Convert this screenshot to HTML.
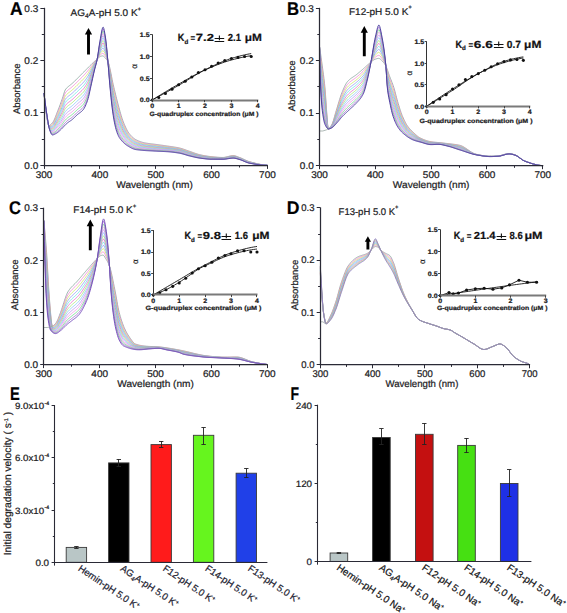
<!DOCTYPE html>
<html><head><meta charset="utf-8"><style>html,body{margin:0;padding:0;background:#fff;}svg{display:block;}</style></head><body>
<svg width="567" height="613" viewBox="0 0 567 613" font-family='"Liberation Sans", sans-serif'>
<style>text{stroke:#1c1c24;stroke-width:0.22px;text-rendering:geometricPrecision;}</style>
<rect width="567" height="613" fill="#fff"/>
<polyline points="44.00,93.08 44.56,98.90 45.12,104.26 45.68,108.99 46.23,112.97 46.79,116.66 47.35,120.29 47.91,123.31 48.47,125.18 49.03,125.51 49.59,125.35 50.14,125.03 50.70,124.60 51.26,124.08 51.82,123.51 52.38,122.91 52.94,122.20 53.49,121.28 54.05,120.19 54.61,118.95 55.17,117.60 55.73,116.18 56.29,114.71 56.85,113.22 57.40,111.76 57.96,110.35 58.52,108.95 59.08,107.51 59.64,106.03 60.20,104.52 60.75,102.99 61.31,101.44 61.87,99.88 62.43,98.31 62.99,96.62 63.55,94.76 64.11,92.92 64.66,91.25 65.22,89.91 65.78,89.02 66.34,88.37 66.90,87.84 67.46,87.32 68.02,86.82 68.57,86.34 69.13,85.89 69.69,85.46 70.25,85.03 70.81,84.59 71.37,84.14 71.92,83.66 72.48,83.16 73.04,82.65 73.60,82.14 74.16,81.61 74.72,81.08 75.28,80.53 75.83,79.99 76.39,79.44 76.95,78.88 77.51,78.32 78.07,77.75 78.63,77.19 79.19,76.62 79.74,76.05 80.30,75.48 80.86,74.92 81.42,74.35 81.98,73.79 82.54,73.23 83.09,72.67 83.65,72.11 84.21,71.55 84.77,70.99 85.33,70.43 85.89,69.86 86.45,69.29 87.00,68.72 87.56,68.16 88.12,67.59 88.68,67.03 89.24,66.48 89.80,65.92 90.36,65.37 90.91,64.83 91.47,64.30 92.03,63.76 92.59,63.23 93.15,62.70 93.71,62.17 94.27,61.64 94.82,61.12 95.38,60.61 95.94,60.11 96.50,59.62 97.06,59.14 97.62,58.68 98.17,58.21 98.73,57.71 99.29,57.21 99.85,56.76 100.41,56.40 100.97,56.19 101.53,56.06 102.08,55.96 102.64,55.92 103.20,56.07 103.76,56.46 104.32,56.97 104.88,57.49 105.44,58.02 105.99,58.61 106.55,59.29 107.11,60.08 107.67,61.01 108.23,62.15 108.79,63.78 109.34,65.84 109.90,68.24 110.46,70.88 111.02,73.69 111.58,76.58 112.14,79.45 112.70,82.22 113.25,84.79 113.81,87.16 114.37,89.50 114.93,91.83 115.49,94.15 116.05,96.44 116.61,98.69 117.16,100.89 117.72,103.04 118.28,105.12 118.84,107.16 119.40,109.22 119.96,111.25 120.51,113.24 121.07,115.18 121.63,117.03 122.19,118.77 122.75,120.39 123.31,121.86 123.87,123.24 124.42,124.57 124.98,125.86 125.54,127.09 126.10,128.28 126.66,129.40 127.22,130.45 127.78,131.44 128.33,132.34 128.89,133.17 129.45,133.90 130.01,134.57 130.57,135.22 131.13,135.83 131.68,136.41 132.24,136.96 132.80,137.47 133.36,137.95 133.92,138.39 134.48,138.80 135.04,139.17 135.59,139.50 136.15,139.80 136.71,140.08 137.27,140.35 137.83,140.61 138.39,140.86 138.94,141.09 139.50,141.31 140.06,141.52 140.62,141.72 141.18,141.91 141.74,142.08 142.30,142.25 142.85,142.40 143.41,142.54 143.97,142.68 144.53,142.80 145.09,142.91 145.65,143.01 146.21,143.11 146.76,143.20 147.32,143.29 147.88,143.38 148.44,143.46 149.00,143.53 149.56,143.60 150.12,143.67 150.67,143.74 151.23,143.81 151.79,143.88 152.35,143.94 152.91,144.01 153.47,144.08 154.02,144.15 154.58,144.22 155.14,144.29 155.70,144.37 156.26,144.44 156.82,144.52 157.38,144.60 157.93,144.68 158.49,144.75 159.05,144.83 159.61,144.91 160.17,144.98 160.73,145.06 161.28,145.14 161.84,145.21 162.40,145.29 162.96,145.37 163.52,145.45 164.08,145.53 164.64,145.61 165.19,145.69 165.75,145.77 166.31,145.85 166.87,145.94 167.43,146.02 167.99,146.10 168.55,146.18 169.10,146.26 169.66,146.34 170.22,146.42 170.78,146.50 171.34,146.58 171.90,146.66 172.46,146.74 173.01,146.83 173.57,146.91 174.13,147.00 174.69,147.09 175.25,147.18 175.81,147.27 176.36,147.37 176.92,147.47 177.48,147.57 178.04,147.68 178.60,147.79 179.16,147.91 179.72,148.03 180.27,148.16 180.83,148.31 181.39,148.46 181.95,148.63 182.51,148.80 183.07,148.99 183.62,149.18 184.18,149.37 184.74,149.57 185.30,149.78 185.86,149.98 186.42,150.19 186.98,150.39 187.53,150.59 188.09,150.79 188.65,150.98 189.21,151.17 189.77,151.36 190.33,151.55 190.89,151.74 191.44,151.94 192.00,152.15 192.56,152.35 193.12,152.55 193.68,152.75 194.24,152.96 194.79,153.16 195.35,153.35 195.91,153.55 196.47,153.73 197.03,153.91 197.59,154.09 198.15,154.26 198.70,154.42 199.26,154.57 199.82,154.71 200.38,154.83 200.94,154.95 201.50,155.07 202.06,155.19 202.61,155.30 203.17,155.41 203.73,155.52 204.29,155.62 204.85,155.72 205.41,155.82 205.97,155.92 206.52,156.01 207.08,156.10 207.64,156.18 208.20,156.26 208.76,156.34 209.32,156.41 209.87,156.48 210.43,156.55 210.99,156.61 211.55,156.67 212.11,156.72 212.67,156.78 213.23,156.83 213.78,156.89 214.34,156.94 214.90,157.00 215.46,157.05 216.02,157.10 216.58,157.15 217.13,157.19 217.69,157.24 218.25,157.28 218.81,157.32 219.37,157.35 219.93,157.38 220.49,157.40 221.04,157.42 221.60,157.44 222.16,157.45 222.72,157.45 223.28,157.44 223.84,157.39 224.40,157.33 224.95,157.24 225.51,157.14 226.07,157.02 226.63,156.89 227.19,156.75 227.75,156.61 228.31,156.46 228.86,156.32 229.42,156.18 229.98,156.05 230.54,155.93 231.10,155.83 231.66,155.74 232.21,155.67 232.77,155.63 233.33,155.62 233.89,155.65 234.45,155.72 235.01,155.84 235.57,155.99 236.12,156.17 236.68,156.37 237.24,156.59 237.80,156.81 238.36,157.03 238.92,157.25 239.47,157.45 240.03,157.65 240.59,157.87 241.15,158.10 241.71,158.34 242.27,158.59 242.83,158.85 243.38,159.12 243.94,159.38 244.50,159.65 245.06,159.91 245.62,160.17 246.18,160.43 246.74,160.67 247.29,160.91 247.85,161.13 248.41,161.33 248.97,161.52 249.53,161.69 250.09,161.85 250.65,162.00 251.20,162.16 251.76,162.31 252.32,162.46 252.88,162.62 253.44,162.76 254.00,162.91 254.55,163.06 255.11,163.20 255.67,163.34 256.23,163.47 256.79,163.61 257.35,163.74 257.91,163.87 258.46,163.99 259.02,164.11 259.58,164.22 260.14,164.33 260.70,164.44 261.26,164.54 261.81,164.64 262.37,164.73 262.93,164.82 263.49,164.90 264.05,164.97 264.61,165.04 265.17,165.11 265.72,165.17 266.28,165.22 266.84,165.26 267.40,165.30" fill="none" stroke="#7f9c94" stroke-width="0.75" stroke-linejoin="round"/>
<polyline points="44.00,93.08 44.56,98.79 45.12,104.06 45.68,108.75 46.23,112.72 46.79,116.42 47.35,120.06 47.91,123.14 48.47,125.15 49.03,125.71 49.59,125.75 50.14,125.60 50.70,125.34 51.26,124.97 51.82,124.52 52.38,124.01 52.94,123.36 53.49,122.51 54.05,121.50 54.61,120.35 55.17,119.10 55.73,117.78 56.29,116.41 56.85,115.03 57.40,113.67 57.96,112.35 58.52,111.03 59.08,109.68 59.64,108.29 60.20,106.87 60.75,105.43 61.31,103.97 61.87,102.50 62.43,101.02 62.99,99.43 63.55,97.69 64.11,95.95 64.66,94.38 65.22,93.11 65.78,92.26 66.34,91.62 66.90,91.08 67.46,90.57 68.02,90.07 68.57,89.60 69.13,89.16 69.69,88.73 70.25,88.31 70.81,87.88 71.37,87.43 71.92,86.96 72.48,86.46 73.04,85.95 73.60,85.44 74.16,84.91 74.72,84.37 75.28,83.83 75.83,83.28 76.39,82.73 76.95,82.18 77.51,81.62 78.07,81.07 78.63,80.51 79.19,79.96 79.74,79.41 80.30,78.85 80.86,78.30 81.42,77.74 81.98,77.19 82.54,76.63 83.09,76.06 83.65,75.49 84.21,74.90 84.77,74.29 85.33,73.67 85.89,73.05 86.45,72.41 87.00,71.76 87.56,71.10 88.12,70.42 88.68,69.71 89.24,68.99 89.80,68.25 90.36,67.51 90.91,66.79 91.47,66.08 92.03,65.36 92.59,64.64 93.15,63.92 93.71,63.21 94.27,62.51 94.82,61.83 95.38,61.17 95.94,60.52 96.50,59.87 97.06,59.21 97.62,58.51 98.17,57.75 98.73,56.92 99.29,56.11 99.85,55.39 100.41,54.78 100.97,54.27 101.53,53.86 102.08,53.53 102.64,53.34 103.20,53.44 103.76,53.89 104.32,54.56 104.88,55.33 105.44,56.11 105.99,57.02 106.55,58.13 107.11,59.40 107.67,60.82 108.23,62.44 108.79,64.55 109.34,67.06 109.90,69.84 110.46,72.79 111.02,75.87 111.58,78.99 112.14,82.03 112.70,84.93 113.25,87.62 113.81,90.08 114.37,92.48 114.93,94.84 115.49,97.17 116.05,99.45 116.61,101.67 117.16,103.81 117.72,105.89 118.28,107.90 118.84,109.86 119.40,111.81 119.96,113.74 120.51,115.62 121.07,117.44 121.63,119.18 122.19,120.83 122.75,122.35 123.31,123.74 123.87,125.04 124.42,126.29 124.98,127.51 125.54,128.67 126.10,129.79 126.66,130.84 127.22,131.83 127.78,132.76 128.33,133.61 128.89,134.39 129.45,135.09 130.01,135.73 130.57,136.35 131.13,136.93 131.68,137.48 132.24,138.00 132.80,138.49 133.36,138.95 133.92,139.37 134.48,139.76 135.04,140.11 135.59,140.42 136.15,140.70 136.71,140.96 137.27,141.22 137.83,141.46 138.39,141.69 138.94,141.91 139.50,142.11 140.06,142.31 140.62,142.49 141.18,142.67 141.74,142.83 142.30,142.99 142.85,143.13 143.41,143.27 143.97,143.39 144.53,143.50 145.09,143.61 145.65,143.71 146.21,143.80 146.76,143.89 147.32,143.97 147.88,144.05 148.44,144.12 149.00,144.19 149.56,144.26 150.12,144.33 150.67,144.40 151.23,144.46 151.79,144.52 152.35,144.59 152.91,144.65 153.47,144.71 154.02,144.78 154.58,144.85 155.14,144.91 155.70,144.99 156.26,145.06 156.82,145.13 157.38,145.21 157.93,145.28 158.49,145.35 159.05,145.42 159.61,145.50 160.17,145.57 160.73,145.64 161.28,145.71 161.84,145.78 162.40,145.86 162.96,145.93 163.52,146.00 164.08,146.08 164.64,146.15 165.19,146.23 165.75,146.30 166.31,146.38 166.87,146.46 167.43,146.54 167.99,146.62 168.55,146.70 169.10,146.77 169.66,146.85 170.22,146.93 170.78,147.01 171.34,147.08 171.90,147.16 172.46,147.24 173.01,147.32 173.57,147.41 174.13,147.49 174.69,147.58 175.25,147.67 175.81,147.76 176.36,147.86 176.92,147.96 177.48,148.06 178.04,148.16 178.60,148.27 179.16,148.39 179.72,148.51 180.27,148.64 180.83,148.78 181.39,148.93 181.95,149.10 182.51,149.27 183.07,149.45 183.62,149.64 184.18,149.83 184.74,150.03 185.30,150.23 185.86,150.43 186.42,150.63 186.98,150.83 187.53,151.03 188.09,151.23 188.65,151.42 189.21,151.60 189.77,151.78 190.33,151.97 190.89,152.16 191.44,152.35 192.00,152.55 192.56,152.74 193.12,152.94 193.68,153.14 194.24,153.33 194.79,153.53 195.35,153.72 195.91,153.90 196.47,154.08 197.03,154.26 197.59,154.43 198.15,154.59 198.70,154.74 199.26,154.89 199.82,155.02 200.38,155.14 200.94,155.26 201.50,155.37 202.06,155.49 202.61,155.60 203.17,155.70 203.73,155.81 204.29,155.91 204.85,156.01 205.41,156.10 205.97,156.19 206.52,156.28 207.08,156.37 207.64,156.45 208.20,156.53 208.76,156.60 209.32,156.67 209.87,156.73 210.43,156.79 210.99,156.85 211.55,156.90 212.11,156.95 212.67,157.00 213.23,157.06 213.78,157.11 214.34,157.16 214.90,157.20 215.46,157.25 216.02,157.30 216.58,157.34 217.13,157.39 217.69,157.43 218.25,157.46 218.81,157.50 219.37,157.53 219.93,157.55 220.49,157.57 221.04,157.59 221.60,157.61 222.16,157.61 222.72,157.62 223.28,157.60 223.84,157.56 224.40,157.50 224.95,157.42 225.51,157.31 226.07,157.20 226.63,157.08 227.19,156.94 227.75,156.80 228.31,156.67 228.86,156.53 229.42,156.39 229.98,156.27 230.54,156.15 231.10,156.05 231.66,155.97 232.21,155.91 232.77,155.87 233.33,155.85 233.89,155.88 234.45,155.95 235.01,156.07 235.57,156.22 236.12,156.39 236.68,156.59 237.24,156.80 237.80,157.02 238.36,157.23 238.92,157.44 239.47,157.64 240.03,157.84 240.59,158.05 241.15,158.28 241.71,158.52 242.27,158.77 242.83,159.03 243.38,159.29 243.94,159.55 244.50,159.81 245.06,160.08 245.62,160.33 246.18,160.59 246.74,160.83 247.29,161.06 247.85,161.28 248.41,161.48 248.97,161.66 249.53,161.83 250.09,161.98 250.65,162.13 251.20,162.28 251.76,162.43 252.32,162.58 252.88,162.72 253.44,162.87 254.00,163.01 254.55,163.15 255.11,163.29 255.67,163.42 256.23,163.55 256.79,163.68 257.35,163.81 257.91,163.93 258.46,164.05 259.02,164.17 259.58,164.28 260.14,164.38 260.70,164.48 261.26,164.58 261.81,164.68 262.37,164.76 262.93,164.85 263.49,164.92 264.05,165.00 264.61,165.06 265.17,165.12 265.72,165.18 266.28,165.22 266.84,165.27 267.40,165.30" fill="none" stroke="#f27ccf" stroke-width="0.75" stroke-linejoin="round"/>
<polyline points="44.00,93.08 44.56,98.69 45.12,103.87 45.68,108.51 46.23,112.48 46.79,116.18 47.35,119.82 47.91,122.96 48.47,125.11 49.03,125.90 49.59,126.14 50.14,126.17 50.70,126.07 51.26,125.86 51.82,125.53 52.38,125.10 52.94,124.51 53.49,123.73 54.05,122.80 54.61,121.74 55.17,120.58 55.73,119.36 56.29,118.10 56.85,116.83 57.40,115.56 57.96,114.33 58.52,113.10 59.08,111.83 59.64,110.52 60.20,109.19 60.75,107.84 61.31,106.48 61.87,105.10 62.43,103.71 62.99,102.21 63.55,100.58 64.11,98.96 64.66,97.48 65.22,96.29 65.78,95.46 66.34,94.83 66.90,94.30 67.46,93.79 68.02,93.30 68.57,92.84 69.13,92.40 69.69,91.98 70.25,91.56 70.81,91.13 71.37,90.69 71.92,90.22 72.48,89.73 73.04,89.22 73.60,88.71 74.16,88.18 74.72,87.64 75.28,87.10 75.83,86.55 76.39,86.00 76.95,85.45 77.51,84.90 78.07,84.35 78.63,83.81 79.19,83.27 79.74,82.73 80.30,82.19 80.86,81.65 81.42,81.11 81.98,80.56 82.54,79.99 83.09,79.42 83.65,78.83 84.21,78.21 84.77,77.56 85.33,76.90 85.89,76.20 86.45,75.49 87.00,74.76 87.56,74.02 88.12,73.23 88.68,72.37 89.24,71.47 89.80,70.55 90.36,69.63 90.91,68.73 91.47,67.84 92.03,66.94 92.59,66.03 93.15,65.13 93.71,64.24 94.27,63.36 94.82,62.52 95.38,61.72 95.94,60.93 96.50,60.12 97.06,59.28 97.62,58.35 98.17,57.29 98.73,56.15 99.29,55.03 99.85,54.04 100.41,53.16 100.97,52.37 101.53,51.68 102.08,51.12 102.64,50.78 103.20,50.82 103.76,51.34 104.32,52.18 104.88,53.18 105.44,54.22 105.99,55.45 106.55,56.97 107.11,58.73 107.67,60.63 108.23,62.72 108.79,65.31 109.34,68.27 109.90,71.42 110.46,74.68 111.02,78.04 111.58,81.38 112.14,84.59 112.70,87.61 113.25,90.42 113.81,92.97 114.37,95.43 114.93,97.83 115.49,100.17 116.05,102.44 116.61,104.61 117.16,106.70 117.72,108.72 118.28,110.65 118.84,112.53 119.40,114.39 119.96,116.20 120.51,117.97 121.07,119.68 121.63,121.32 122.19,122.86 122.75,124.29 123.31,125.60 123.87,126.82 124.42,128.00 124.98,129.14 125.54,130.24 126.10,131.28 126.66,132.27 127.22,133.20 127.78,134.07 128.33,134.88 128.89,135.61 129.45,136.27 130.01,136.88 130.57,137.47 131.13,138.02 131.68,138.55 132.24,139.04 132.80,139.51 133.36,139.94 133.92,140.34 134.48,140.71 135.04,141.04 135.59,141.33 136.15,141.59 136.71,141.84 137.27,142.07 137.83,142.29 138.39,142.51 138.94,142.71 139.50,142.90 140.06,143.09 140.62,143.26 141.18,143.42 141.74,143.58 142.30,143.72 142.85,143.85 143.41,143.98 143.97,144.09 144.53,144.20 145.09,144.30 145.65,144.39 146.21,144.48 146.76,144.56 147.32,144.64 147.88,144.71 148.44,144.79 149.00,144.85 149.56,144.92 150.12,144.98 150.67,145.04 151.23,145.10 151.79,145.16 152.35,145.22 152.91,145.28 153.47,145.34 154.02,145.40 154.58,145.47 155.14,145.53 155.70,145.60 156.26,145.67 156.82,145.74 157.38,145.81 157.93,145.88 158.49,145.94 159.05,146.01 159.61,146.08 160.17,146.15 160.73,146.21 161.28,146.28 161.84,146.35 162.40,146.41 162.96,146.48 163.52,146.55 164.08,146.62 164.64,146.69 165.19,146.76 165.75,146.83 166.31,146.91 166.87,146.98 167.43,147.06 167.99,147.13 168.55,147.21 169.10,147.28 169.66,147.36 170.22,147.43 170.78,147.51 171.34,147.58 171.90,147.66 172.46,147.74 173.01,147.82 173.57,147.90 174.13,147.98 174.69,148.07 175.25,148.16 175.81,148.25 176.36,148.34 176.92,148.44 177.48,148.54 178.04,148.64 178.60,148.75 179.16,148.86 179.72,148.98 180.27,149.11 180.83,149.25 181.39,149.40 181.95,149.56 182.51,149.73 183.07,149.91 183.62,150.10 184.18,150.29 184.74,150.48 185.30,150.68 185.86,150.88 186.42,151.08 186.98,151.28 187.53,151.47 188.09,151.66 188.65,151.85 189.21,152.03 189.77,152.20 190.33,152.38 190.89,152.57 191.44,152.76 192.00,152.95 192.56,153.14 193.12,153.33 193.68,153.52 194.24,153.71 194.79,153.89 195.35,154.08 195.91,154.26 196.47,154.43 197.03,154.60 197.59,154.76 198.15,154.92 198.70,155.07 199.26,155.20 199.82,155.33 200.38,155.45 200.94,155.56 201.50,155.67 202.06,155.78 202.61,155.89 203.17,155.99 203.73,156.09 204.29,156.19 204.85,156.29 205.41,156.38 205.97,156.47 206.52,156.55 207.08,156.63 207.64,156.71 208.20,156.79 208.76,156.86 209.32,156.92 209.87,156.98 210.43,157.04 210.99,157.09 211.55,157.14 212.11,157.19 212.67,157.23 213.23,157.28 213.78,157.32 214.34,157.37 214.90,157.41 215.46,157.45 216.02,157.50 216.58,157.54 217.13,157.57 217.69,157.61 218.25,157.64 218.81,157.67 219.37,157.70 219.93,157.72 220.49,157.74 221.04,157.76 221.60,157.77 222.16,157.78 222.72,157.78 223.28,157.77 223.84,157.73 224.40,157.67 224.95,157.59 225.51,157.49 226.07,157.38 226.63,157.26 227.19,157.13 227.75,157.00 228.31,156.87 228.86,156.73 229.42,156.61 229.98,156.49 230.54,156.38 231.10,156.28 231.66,156.20 232.21,156.14 232.77,156.10 233.33,156.08 233.89,156.11 234.45,156.18 235.01,156.29 235.57,156.44 236.12,156.61 236.68,156.80 237.24,157.01 237.80,157.22 238.36,157.43 238.92,157.64 239.47,157.83 240.03,158.02 240.59,158.24 241.15,158.46 241.71,158.70 242.27,158.94 242.83,159.20 243.38,159.46 243.94,159.72 244.50,159.98 245.06,160.24 245.62,160.50 246.18,160.74 246.74,160.98 247.29,161.21 247.85,161.43 248.41,161.63 248.97,161.81 249.53,161.96 250.09,162.11 250.65,162.26 251.20,162.40 251.76,162.55 252.32,162.69 252.88,162.83 253.44,162.97 254.00,163.11 254.55,163.24 255.11,163.38 255.67,163.51 256.23,163.63 256.79,163.76 257.35,163.88 257.91,164.00 258.46,164.11 259.02,164.22 259.58,164.33 260.14,164.43 260.70,164.53 261.26,164.62 261.81,164.71 262.37,164.80 262.93,164.87 263.49,164.95 264.05,165.02 264.61,165.08 265.17,165.14 265.72,165.19 266.28,165.23 266.84,165.27 267.40,165.30" fill="none" stroke="#c9e35a" stroke-width="0.75" stroke-linejoin="round"/>
<polyline points="44.00,93.08 44.56,98.58 45.12,103.68 45.68,108.27 46.23,112.24 46.79,115.94 47.35,119.59 47.91,122.79 48.47,125.07 49.03,126.09 49.59,126.53 50.14,126.72 50.70,126.79 51.26,126.73 51.82,126.53 52.38,126.18 52.94,125.64 53.49,124.94 54.05,124.08 54.61,123.11 55.17,122.05 55.73,120.93 56.29,119.77 56.85,118.60 57.40,117.43 57.96,116.29 58.52,115.14 59.08,113.95 59.64,112.74 60.20,111.50 60.75,110.24 61.31,108.96 61.87,107.67 62.43,106.37 62.99,104.97 63.55,103.45 64.11,101.94 64.66,100.56 65.22,99.43 65.78,98.63 66.34,98.01 66.90,97.48 67.46,96.98 68.02,96.49 68.57,96.03 69.13,95.60 69.69,95.19 70.25,94.78 70.81,94.36 71.37,93.92 71.92,93.46 72.48,92.97 73.04,92.46 73.60,91.94 74.16,91.42 74.72,90.88 75.28,90.34 75.83,89.79 76.39,89.24 76.95,88.69 77.51,88.14 78.07,87.60 78.63,87.07 79.19,86.55 79.74,86.03 80.30,85.50 80.86,84.97 81.42,84.44 81.98,83.89 82.54,83.33 83.09,82.75 83.65,82.14 84.21,81.49 84.77,80.80 85.33,80.08 85.89,79.33 86.45,78.55 87.00,77.74 87.56,76.91 88.12,76.00 88.68,75.00 89.24,73.94 89.80,72.83 90.36,71.73 90.91,70.65 91.47,69.58 92.03,68.50 92.59,67.41 93.15,66.33 93.71,65.25 94.27,64.21 94.82,63.22 95.38,62.27 95.94,61.33 96.50,60.37 97.06,59.34 97.62,58.18 98.17,56.84 98.73,55.38 99.29,53.95 99.85,52.70 100.41,51.57 100.97,50.49 101.53,49.53 102.08,48.74 102.64,48.24 103.20,48.24 103.76,48.82 104.32,49.83 104.88,51.05 105.44,52.34 105.99,53.88 106.55,55.83 107.11,58.06 107.67,60.45 108.23,63.00 108.79,66.06 109.34,69.47 109.90,72.99 110.46,76.55 111.02,80.18 111.58,83.74 112.14,87.12 112.70,90.27 113.25,93.19 113.81,95.84 114.37,98.35 114.93,100.79 115.49,103.14 116.05,105.40 116.61,107.53 117.16,109.56 117.72,111.51 118.28,113.38 118.84,115.18 119.40,116.93 119.96,118.64 120.51,120.30 121.07,121.90 121.63,123.43 122.19,124.87 122.75,126.22 123.31,127.44 123.87,128.59 124.42,129.70 124.98,130.76 125.54,131.79 126.10,132.76 126.66,133.69 127.22,134.56 127.78,135.37 128.33,136.12 128.89,136.81 129.45,137.44 130.01,138.02 130.57,138.57 131.13,139.10 131.68,139.60 132.24,140.07 132.80,140.51 133.36,140.92 133.92,141.30 134.48,141.65 135.04,141.96 135.59,142.23 136.15,142.47 136.71,142.70 137.27,142.92 137.83,143.12 138.39,143.32 138.94,143.51 139.50,143.69 140.06,143.86 140.62,144.02 141.18,144.17 141.74,144.31 142.30,144.45 142.85,144.57 143.41,144.69 143.97,144.79 144.53,144.89 145.09,144.99 145.65,145.07 146.21,145.15 146.76,145.23 147.32,145.31 147.88,145.37 148.44,145.44 149.00,145.50 149.56,145.57 150.12,145.63 150.67,145.68 151.23,145.74 151.79,145.80 152.35,145.85 152.91,145.91 153.47,145.97 154.02,146.03 154.58,146.09 155.14,146.15 155.70,146.21 156.26,146.28 156.82,146.34 157.38,146.41 157.93,146.47 158.49,146.53 159.05,146.59 159.61,146.66 160.17,146.72 160.73,146.78 161.28,146.84 161.84,146.90 162.40,146.97 162.96,147.03 163.52,147.09 164.08,147.16 164.64,147.22 165.19,147.29 165.75,147.36 166.31,147.43 166.87,147.50 167.43,147.57 167.99,147.64 168.55,147.71 169.10,147.78 169.66,147.85 170.22,147.93 170.78,148.00 171.34,148.07 171.90,148.15 172.46,148.23 173.01,148.30 173.57,148.38 174.13,148.47 174.69,148.55 175.25,148.64 175.81,148.73 176.36,148.82 176.92,148.92 177.48,149.02 178.04,149.12 178.60,149.22 179.16,149.34 179.72,149.45 180.27,149.57 180.83,149.71 181.39,149.86 181.95,150.02 182.51,150.19 183.07,150.37 183.62,150.55 184.18,150.74 184.74,150.93 185.30,151.13 185.86,151.32 186.42,151.52 186.98,151.71 187.53,151.90 188.09,152.09 188.65,152.27 189.21,152.45 189.77,152.62 190.33,152.80 190.89,152.98 191.44,153.16 192.00,153.34 192.56,153.53 193.12,153.71 193.68,153.89 194.24,154.08 194.79,154.26 195.35,154.43 195.91,154.61 196.47,154.77 197.03,154.94 197.59,155.09 198.15,155.24 198.70,155.38 199.26,155.52 199.82,155.64 200.38,155.76 200.94,155.86 201.50,155.97 202.06,156.07 202.61,156.18 203.17,156.28 203.73,156.37 204.29,156.47 204.85,156.56 205.41,156.65 205.97,156.74 206.52,156.82 207.08,156.90 207.64,156.97 208.20,157.04 208.76,157.11 209.32,157.17 209.87,157.23 210.43,157.28 210.99,157.33 211.55,157.37 212.11,157.42 212.67,157.46 213.23,157.50 213.78,157.54 214.34,157.58 214.90,157.62 215.46,157.65 216.02,157.69 216.58,157.73 217.13,157.76 217.69,157.79 218.25,157.82 218.81,157.85 219.37,157.87 219.93,157.90 220.49,157.91 221.04,157.93 221.60,157.94 222.16,157.94 222.72,157.95 223.28,157.93 223.84,157.90 224.40,157.84 224.95,157.76 225.51,157.67 226.07,157.56 226.63,157.45 227.19,157.32 227.75,157.19 228.31,157.07 228.86,156.94 229.42,156.82 229.98,156.70 230.54,156.59 231.10,156.50 231.66,156.42 232.21,156.36 232.77,156.33 233.33,156.31 233.89,156.34 234.45,156.41 235.01,156.52 235.57,156.66 236.12,156.83 236.68,157.01 237.24,157.21 237.80,157.42 238.36,157.63 238.92,157.83 239.47,158.02 240.03,158.21 240.59,158.42 241.15,158.64 241.71,158.87 242.27,159.12 242.83,159.37 243.38,159.63 243.94,159.88 244.50,160.14 245.06,160.40 245.62,160.66 246.18,160.90 246.74,161.14 247.29,161.36 247.85,161.58 248.41,161.77 248.97,161.95 249.53,162.10 250.09,162.24 250.65,162.39 251.20,162.53 251.76,162.67 252.32,162.80 252.88,162.94 253.44,163.07 254.00,163.21 254.55,163.34 255.11,163.47 255.67,163.59 256.23,163.71 256.79,163.83 257.35,163.95 257.91,164.06 258.46,164.17 259.02,164.28 259.58,164.38 260.14,164.48 260.70,164.57 261.26,164.66 261.81,164.75 262.37,164.83 262.93,164.90 263.49,164.97 264.05,165.04 264.61,165.10 265.17,165.15 265.72,165.20 266.28,165.24 266.84,165.27 267.40,165.30" fill="none" stroke="#8a8ff0" stroke-width="0.75" stroke-linejoin="round"/>
<polyline points="44.00,93.08 44.56,98.47 45.12,103.49 45.68,108.03 46.23,112.00 46.79,115.71 47.35,119.36 47.91,122.61 48.47,125.04 49.03,126.28 49.59,126.92 50.14,127.27 50.70,127.51 51.26,127.60 51.82,127.52 52.38,127.24 52.94,126.77 53.49,126.13 54.05,125.36 54.61,124.47 55.17,123.50 55.73,122.48 56.29,121.43 56.85,120.36 57.40,119.28 57.96,118.22 58.52,117.16 59.08,116.06 59.64,114.93 60.20,113.77 60.75,112.60 61.31,111.42 61.87,110.21 62.43,109.00 62.99,107.69 63.55,106.28 64.11,104.88 64.66,103.60 65.22,102.54 65.78,101.77 66.34,101.16 66.90,100.63 67.46,100.13 68.02,99.65 68.57,99.20 69.13,98.78 69.69,98.37 70.25,97.96 70.81,97.54 71.37,97.11 71.92,96.65 72.48,96.17 73.04,95.66 73.60,95.15 74.16,94.62 74.72,94.08 75.28,93.53 75.83,92.99 76.39,92.44 76.95,91.89 77.51,91.35 78.07,90.82 78.63,90.30 79.19,89.79 79.74,89.28 80.30,88.77 80.86,88.26 81.42,87.73 81.98,87.19 82.54,86.63 83.09,86.04 83.65,85.41 84.21,84.73 84.77,84.01 85.33,83.24 85.89,82.42 86.45,81.57 87.00,80.68 87.56,79.76 88.12,78.75 88.68,77.60 89.24,76.37 89.80,75.09 90.36,73.80 90.91,72.55 91.47,71.31 92.03,70.05 92.59,68.78 93.15,67.51 93.71,66.26 94.27,65.05 94.82,63.90 95.38,62.81 95.94,61.73 96.50,60.62 97.06,59.41 97.62,58.02 98.17,56.39 98.73,54.62 99.29,52.89 99.85,51.37 100.41,49.99 100.97,48.63 101.53,47.39 102.08,46.38 102.64,45.74 103.20,45.68 103.76,46.33 104.32,47.50 104.88,48.95 105.44,50.49 105.99,52.34 106.55,54.70 107.11,57.40 107.67,60.26 108.23,63.27 108.79,66.81 109.34,70.66 109.90,74.54 110.46,78.40 111.02,82.29 111.58,86.08 112.14,89.62 112.70,92.90 113.25,95.93 113.81,98.67 114.37,101.24 114.93,103.71 115.49,106.08 116.05,108.32 116.61,110.42 117.16,112.39 117.72,114.28 118.28,116.07 118.84,117.79 119.40,119.45 119.96,121.05 120.51,122.60 121.07,124.09 121.63,125.52 122.19,126.87 122.75,128.12 123.31,129.27 123.87,130.34 124.42,131.37 124.98,132.37 125.54,133.32 126.10,134.23 126.66,135.09 127.22,135.90 127.78,136.65 128.33,137.36 128.89,138.01 129.45,138.60 130.01,139.14 130.57,139.67 131.13,140.17 131.68,140.64 132.24,141.09 132.80,141.51 133.36,141.89 133.92,142.25 134.48,142.58 135.04,142.87 135.59,143.12 136.15,143.34 136.71,143.55 137.27,143.75 137.83,143.94 138.39,144.13 138.94,144.30 139.50,144.46 140.06,144.62 140.62,144.77 141.18,144.91 141.74,145.04 142.30,145.16 142.85,145.28 143.41,145.39 143.97,145.49 144.53,145.58 145.09,145.66 145.65,145.74 146.21,145.82 146.76,145.89 147.32,145.96 147.88,146.03 148.44,146.09 149.00,146.15 149.56,146.21 150.12,146.26 150.67,146.32 151.23,146.37 151.79,146.42 152.35,146.48 152.91,146.53 153.47,146.58 154.02,146.64 154.58,146.70 155.14,146.75 155.70,146.81 156.26,146.88 156.82,146.94 157.38,147.00 157.93,147.05 158.49,147.11 159.05,147.17 159.61,147.23 160.17,147.28 160.73,147.34 161.28,147.40 161.84,147.45 162.40,147.51 162.96,147.57 163.52,147.63 164.08,147.69 164.64,147.75 165.19,147.81 165.75,147.88 166.31,147.94 166.87,148.01 167.43,148.08 167.99,148.14 168.55,148.21 169.10,148.28 169.66,148.35 170.22,148.42 170.78,148.49 171.34,148.56 171.90,148.63 172.46,148.71 173.01,148.79 173.57,148.87 174.13,148.95 174.69,149.03 175.25,149.12 175.81,149.20 176.36,149.30 176.92,149.39 177.48,149.49 178.04,149.59 178.60,149.69 179.16,149.80 179.72,149.91 180.27,150.03 180.83,150.17 181.39,150.32 181.95,150.47 182.51,150.64 183.07,150.82 183.62,151.00 184.18,151.18 184.74,151.37 185.30,151.57 185.86,151.76 186.42,151.95 186.98,152.15 187.53,152.33 188.09,152.52 188.65,152.69 189.21,152.86 189.77,153.03 190.33,153.20 190.89,153.38 191.44,153.55 192.00,153.73 192.56,153.91 193.12,154.09 193.68,154.27 194.24,154.44 194.79,154.62 195.35,154.79 195.91,154.95 196.47,155.11 197.03,155.27 197.59,155.42 198.15,155.56 198.70,155.70 199.26,155.83 199.82,155.95 200.38,156.06 200.94,156.16 201.50,156.26 202.06,156.36 202.61,156.46 203.17,156.56 203.73,156.65 204.29,156.75 204.85,156.84 205.41,156.92 205.97,157.00 206.52,157.08 207.08,157.16 207.64,157.23 208.20,157.30 208.76,157.36 209.32,157.42 209.87,157.48 210.43,157.52 210.99,157.57 211.55,157.61 212.11,157.64 212.67,157.68 213.23,157.71 213.78,157.75 214.34,157.78 214.90,157.82 215.46,157.85 216.02,157.88 216.58,157.92 217.13,157.95 217.69,157.97 218.25,158.00 218.81,158.02 219.37,158.04 219.93,158.06 220.49,158.08 221.04,158.09 221.60,158.10 222.16,158.11 222.72,158.11 223.28,158.10 223.84,158.06 224.40,158.00 224.95,157.93 225.51,157.84 226.07,157.74 226.63,157.63 227.19,157.51 227.75,157.39 228.31,157.26 228.86,157.14 229.42,157.02 229.98,156.91 230.54,156.81 231.10,156.72 231.66,156.65 232.21,156.59 232.77,156.55 233.33,156.54 233.89,156.57 234.45,156.63 235.01,156.74 235.57,156.88 236.12,157.04 236.68,157.22 237.24,157.42 237.80,157.62 238.36,157.82 238.92,158.02 239.47,158.20 240.03,158.39 240.59,158.59 241.15,158.81 241.71,159.05 242.27,159.29 242.83,159.54 243.38,159.79 243.94,160.05 244.50,160.31 245.06,160.56 245.62,160.81 246.18,161.06 246.74,161.29 247.29,161.51 247.85,161.72 248.41,161.91 248.97,162.08 249.53,162.24 250.09,162.37 250.65,162.51 251.20,162.65 251.76,162.78 252.32,162.91 252.88,163.05 253.44,163.18 254.00,163.30 254.55,163.43 255.11,163.55 255.67,163.67 256.23,163.79 256.79,163.91 257.35,164.02 257.91,164.13 258.46,164.23 259.02,164.33 259.58,164.43 260.14,164.53 260.70,164.62 261.26,164.70 261.81,164.78 262.37,164.86 262.93,164.93 263.49,165.00 264.05,165.06 264.61,165.11 265.17,165.16 265.72,165.21 266.28,165.24 266.84,165.27 267.40,165.30" fill="none" stroke="#5fe3e0" stroke-width="0.75" stroke-linejoin="round"/>
<polyline points="44.00,93.08 44.56,98.36 45.12,103.30 45.68,107.80 46.23,111.77 46.79,115.48 47.35,119.13 47.91,122.44 48.47,125.00 49.03,126.47 49.59,127.30 50.14,127.82 50.70,128.22 51.26,128.45 51.82,128.49 52.38,128.29 52.94,127.88 53.49,127.31 54.05,126.61 54.61,125.81 55.17,124.93 55.73,124.01 56.29,123.06 56.85,122.09 57.40,121.11 57.96,120.14 58.52,119.15 59.08,118.14 59.64,117.09 60.20,116.02 60.75,114.94 61.31,113.84 61.87,112.73 62.43,111.59 62.99,110.38 63.55,109.08 64.11,107.79 64.66,106.60 65.22,105.61 65.78,104.87 66.34,104.27 66.90,103.74 67.46,103.24 68.02,102.77 68.57,102.32 69.13,101.91 69.69,101.50 70.25,101.10 70.81,100.69 71.37,100.27 71.92,99.81 72.48,99.33 73.04,98.83 73.60,98.31 74.16,97.78 74.72,97.24 75.28,96.69 75.83,96.15 76.39,95.60 76.95,95.05 77.51,94.52 78.07,93.99 78.63,93.49 79.19,92.99 79.74,92.50 80.30,92.00 80.86,91.50 81.42,90.98 81.98,90.45 82.54,89.88 83.09,89.29 83.65,88.64 84.21,87.94 84.77,87.17 85.33,86.35 85.89,85.48 86.45,84.55 87.00,83.59 87.56,82.58 88.12,81.46 88.68,80.17 89.24,78.78 89.80,77.32 90.36,75.85 90.91,74.42 91.47,73.02 92.03,71.58 92.59,70.13 93.15,68.68 93.71,67.26 94.27,65.87 94.82,64.57 95.38,63.35 95.94,62.13 96.50,60.86 97.06,59.48 97.62,57.87 98.17,55.95 98.73,53.87 99.29,51.84 99.85,50.07 100.41,48.43 100.97,46.79 101.53,45.29 102.08,44.05 102.64,43.26 103.20,43.15 103.76,43.86 104.32,45.20 104.88,46.87 105.44,48.66 105.99,50.82 106.55,53.59 107.11,56.75 107.67,60.08 108.23,63.54 108.79,67.54 109.34,71.83 109.90,76.07 110.46,80.23 111.02,84.39 111.58,88.39 112.14,92.10 112.70,95.50 113.25,98.63 113.81,101.47 114.37,104.10 114.93,106.60 115.49,108.98 116.05,111.21 116.61,113.27 117.16,115.19 117.72,117.01 118.28,118.74 118.84,120.37 119.40,121.94 119.96,123.43 120.51,124.87 121.07,126.26 121.63,127.58 122.19,128.83 122.75,130.00 123.31,131.06 123.87,132.06 124.42,133.02 124.98,133.95 125.54,134.83 126.10,135.67 126.66,136.47 127.22,137.22 127.78,137.92 128.33,138.58 128.89,139.18 129.45,139.74 130.01,140.25 130.57,140.75 131.13,141.22 131.68,141.67 132.24,142.09 132.80,142.49 133.36,142.85 133.92,143.19 134.48,143.49 135.04,143.76 135.59,144.00 136.15,144.20 136.71,144.39 137.27,144.58 137.83,144.75 138.39,144.92 138.94,145.08 139.50,145.23 140.06,145.37 140.62,145.51 141.18,145.64 141.74,145.76 142.30,145.87 142.85,145.98 143.41,146.08 143.97,146.17 144.53,146.25 145.09,146.33 145.65,146.41 146.21,146.48 146.76,146.55 147.32,146.61 147.88,146.67 148.44,146.73 149.00,146.79 149.56,146.84 150.12,146.89 150.67,146.94 151.23,146.99 151.79,147.04 152.35,147.09 152.91,147.14 153.47,147.19 154.02,147.25 154.58,147.30 155.14,147.35 155.70,147.41 156.26,147.47 156.82,147.52 157.38,147.58 157.93,147.63 158.49,147.68 159.05,147.74 159.61,147.79 160.17,147.84 160.73,147.89 161.28,147.95 161.84,148.00 162.40,148.05 162.96,148.11 163.52,148.16 164.08,148.22 164.64,148.27 165.19,148.33 165.75,148.39 166.31,148.45 166.87,148.51 167.43,148.57 167.99,148.64 168.55,148.70 169.10,148.77 169.66,148.84 170.22,148.90 170.78,148.97 171.34,149.04 171.90,149.11 172.46,149.19 173.01,149.26 173.57,149.34 174.13,149.42 174.69,149.50 175.25,149.59 175.81,149.67 176.36,149.76 176.92,149.86 177.48,149.95 178.04,150.05 178.60,150.15 179.16,150.26 179.72,150.37 180.27,150.49 180.83,150.62 181.39,150.77 181.95,150.92 182.51,151.09 183.07,151.26 183.62,151.44 184.18,151.62 184.74,151.81 185.30,152.00 185.86,152.19 186.42,152.38 186.98,152.57 187.53,152.76 188.09,152.94 188.65,153.11 189.21,153.28 189.77,153.44 190.33,153.61 190.89,153.78 191.44,153.95 192.00,154.12 192.56,154.29 193.12,154.46 193.68,154.63 194.24,154.80 194.79,154.97 195.35,155.13 195.91,155.29 196.47,155.45 197.03,155.60 197.59,155.74 198.15,155.88 198.70,156.01 199.26,156.14 199.82,156.25 200.38,156.35 200.94,156.45 201.50,156.55 202.06,156.65 202.61,156.75 203.17,156.84 203.73,156.93 204.29,157.02 204.85,157.11 205.41,157.19 205.97,157.27 206.52,157.35 207.08,157.42 207.64,157.49 208.20,157.55 208.76,157.61 209.32,157.67 209.87,157.72 210.43,157.76 210.99,157.80 211.55,157.84 212.11,157.87 212.67,157.90 213.23,157.93 213.78,157.96 214.34,157.99 214.90,158.02 215.46,158.05 216.02,158.08 216.58,158.10 217.13,158.13 217.69,158.15 218.25,158.17 218.81,158.20 219.37,158.21 219.93,158.23 220.49,158.24 221.04,158.25 221.60,158.26 222.16,158.27 222.72,158.27 223.28,158.26 223.84,158.22 224.40,158.17 224.95,158.10 225.51,158.01 226.07,157.91 226.63,157.81 227.19,157.69 227.75,157.58 228.31,157.46 228.86,157.34 229.42,157.23 229.98,157.12 230.54,157.02 231.10,156.94 231.66,156.87 232.21,156.81 232.77,156.78 233.33,156.77 233.89,156.79 234.45,156.85 235.01,156.96 235.57,157.09 236.12,157.25 236.68,157.43 237.24,157.62 237.80,157.81 238.36,158.01 238.92,158.20 239.47,158.39 240.03,158.57 240.59,158.77 241.15,158.99 241.71,159.22 242.27,159.46 242.83,159.70 243.38,159.96 243.94,160.21 244.50,160.47 245.06,160.72 245.62,160.97 246.18,161.21 246.74,161.44 247.29,161.66 247.85,161.87 248.41,162.05 248.97,162.22 249.53,162.37 250.09,162.50 250.65,162.63 251.20,162.76 251.76,162.89 252.32,163.02 252.88,163.15 253.44,163.28 254.00,163.40 254.55,163.52 255.11,163.64 255.67,163.76 256.23,163.87 256.79,163.98 257.35,164.09 257.91,164.19 258.46,164.29 259.02,164.39 259.58,164.48 260.14,164.57 260.70,164.66 261.26,164.74 261.81,164.82 262.37,164.89 262.93,164.96 263.49,165.02 264.05,165.08 264.61,165.13 265.17,165.17 265.72,165.21 266.28,165.25 266.84,165.28 267.40,165.30" fill="none" stroke="#e35fc4" stroke-width="0.75" stroke-linejoin="round"/>
<polyline points="44.00,93.08 44.56,98.26 45.12,103.11 45.68,107.57 46.23,111.54 46.79,115.25 47.35,118.90 47.91,122.28 48.47,124.97 49.03,126.65 49.59,127.68 50.14,128.36 50.70,128.91 51.26,129.30 51.82,129.45 52.38,129.33 52.94,128.97 53.49,128.47 54.05,127.85 54.61,127.13 55.17,126.35 55.73,125.52 56.29,124.67 56.85,123.80 57.40,122.91 57.96,122.02 58.52,121.12 59.08,120.18 59.64,119.22 60.20,118.24 60.75,117.25 61.31,116.24 61.87,115.20 62.43,114.15 62.99,113.04 63.55,111.84 64.11,110.66 64.66,109.56 65.22,108.63 65.78,107.92 66.34,107.33 66.90,106.80 67.46,106.31 68.02,105.84 68.57,105.40 69.13,104.99 69.69,104.59 70.25,104.20 70.81,103.80 71.37,103.37 71.92,102.92 72.48,102.44 73.04,101.94 73.60,101.43 74.16,100.90 74.72,100.36 75.28,99.81 75.83,99.26 76.39,98.71 76.95,98.17 77.51,97.64 78.07,97.12 78.63,96.63 79.19,96.15 79.74,95.67 80.30,95.19 80.86,94.70 81.42,94.19 81.98,93.66 82.54,93.09 83.09,92.49 83.65,91.83 84.21,91.10 84.77,90.29 85.33,89.42 85.89,88.49 86.45,87.50 87.00,86.45 87.56,85.36 88.12,84.13 88.68,82.70 89.24,81.15 89.80,79.51 90.36,77.87 90.91,76.27 91.47,74.70 92.03,73.09 92.59,71.46 93.15,69.83 93.71,68.24 94.27,66.69 94.82,65.24 95.38,63.87 95.94,62.52 96.50,61.10 97.06,59.54 97.62,57.71 98.17,55.51 98.73,53.13 99.29,50.80 99.85,48.78 100.41,46.89 100.97,44.98 101.53,43.21 102.08,41.76 102.64,40.82 103.20,40.66 103.76,41.44 104.32,42.93 104.88,44.82 105.44,46.85 105.99,49.32 106.55,52.49 107.11,56.10 107.67,59.91 108.23,63.81 108.79,68.26 109.34,72.98 109.90,77.58 110.46,82.03 111.02,86.45 111.58,90.66 112.14,94.54 112.70,98.06 113.25,101.30 113.81,104.22 114.37,106.91 114.93,109.44 115.49,111.83 116.05,114.06 116.61,116.08 117.16,117.94 117.72,119.71 118.28,121.36 118.84,122.92 119.40,124.39 119.96,125.78 120.51,127.11 121.07,128.39 121.63,129.62 122.19,130.77 122.75,131.85 123.31,132.84 123.87,133.76 124.42,134.65 124.98,135.51 125.54,136.32 126.10,137.10 126.66,137.83 127.22,138.52 127.78,139.17 128.33,139.78 128.89,140.34 129.45,140.86 130.01,141.35 130.57,141.82 131.13,142.26 131.68,142.69 132.24,143.08 132.80,143.45 133.36,143.80 133.92,144.11 134.48,144.40 135.04,144.65 135.59,144.87 136.15,145.05 136.71,145.23 137.27,145.39 137.83,145.55 138.39,145.70 138.94,145.85 139.50,145.98 140.06,146.11 140.62,146.24 141.18,146.35 141.74,146.46 142.30,146.57 142.85,146.67 143.41,146.76 143.97,146.84 144.53,146.92 145.09,146.99 145.65,147.06 146.21,147.13 146.76,147.19 147.32,147.25 147.88,147.31 148.44,147.36 149.00,147.41 149.56,147.46 150.12,147.51 150.67,147.56 151.23,147.61 151.79,147.65 152.35,147.70 152.91,147.75 153.47,147.79 154.02,147.84 154.58,147.89 155.14,147.94 155.70,148.00 156.26,148.05 156.82,148.10 157.38,148.15 157.93,148.20 158.49,148.25 159.05,148.30 159.61,148.35 160.17,148.39 160.73,148.44 161.28,148.49 161.84,148.54 162.40,148.58 162.96,148.63 163.52,148.68 164.08,148.73 164.64,148.79 165.19,148.84 165.75,148.89 166.31,148.95 166.87,149.01 167.43,149.07 167.99,149.13 168.55,149.19 169.10,149.25 169.66,149.32 170.22,149.38 170.78,149.45 171.34,149.52 171.90,149.59 172.46,149.66 173.01,149.73 173.57,149.81 174.13,149.89 174.69,149.97 175.25,150.05 175.81,150.14 176.36,150.23 176.92,150.32 177.48,150.41 178.04,150.51 178.60,150.61 179.16,150.71 179.72,150.82 180.27,150.94 180.83,151.07 181.39,151.21 181.95,151.37 182.51,151.53 183.07,151.70 183.62,151.88 184.18,152.06 184.74,152.24 185.30,152.43 185.86,152.62 186.42,152.81 186.98,152.99 187.53,153.17 188.09,153.35 188.65,153.52 189.21,153.68 189.77,153.84 190.33,154.00 190.89,154.17 191.44,154.33 192.00,154.50 192.56,154.67 193.12,154.83 193.68,155.00 194.24,155.16 194.79,155.32 195.35,155.48 195.91,155.63 196.47,155.78 197.03,155.92 197.59,156.06 198.15,156.20 198.70,156.32 199.26,156.44 199.82,156.55 200.38,156.65 200.94,156.74 201.50,156.84 202.06,156.93 202.61,157.02 203.17,157.11 203.73,157.20 204.29,157.29 204.85,157.37 205.41,157.45 205.97,157.53 206.52,157.60 207.08,157.67 207.64,157.74 208.20,157.80 208.76,157.86 209.32,157.91 209.87,157.96 210.43,158.00 210.99,158.03 211.55,158.06 212.11,158.09 212.67,158.11 213.23,158.14 213.78,158.16 214.34,158.19 214.90,158.22 215.46,158.24 216.02,158.26 216.58,158.29 217.13,158.31 217.69,158.33 218.25,158.35 218.81,158.36 219.37,158.38 219.93,158.39 220.49,158.41 221.04,158.41 221.60,158.42 222.16,158.43 222.72,158.43 223.28,158.42 223.84,158.38 224.40,158.33 224.95,158.26 225.51,158.18 226.07,158.09 226.63,157.98 227.19,157.88 227.75,157.76 228.31,157.65 228.86,157.54 229.42,157.43 229.98,157.33 230.54,157.23 231.10,157.15 231.66,157.08 232.21,157.03 232.77,157.00 233.33,156.99 233.89,157.01 234.45,157.07 235.01,157.17 235.57,157.30 236.12,157.46 236.68,157.63 237.24,157.82 237.80,158.01 238.36,158.20 238.92,158.39 239.47,158.57 240.03,158.75 240.59,158.95 241.15,159.16 241.71,159.39 242.27,159.62 242.83,159.87 243.38,160.12 243.94,160.37 244.50,160.63 245.06,160.88 245.62,161.12 246.18,161.36 246.74,161.59 247.29,161.81 247.85,162.01 248.41,162.19 248.97,162.36 249.53,162.50 250.09,162.63 250.65,162.76 251.20,162.88 251.76,163.01 252.32,163.13 252.88,163.25 253.44,163.37 254.00,163.49 254.55,163.61 255.11,163.72 255.67,163.84 256.23,163.95 256.79,164.05 257.35,164.15 257.91,164.25 258.46,164.35 259.02,164.44 259.58,164.53 260.14,164.62 260.70,164.70 261.26,164.78 261.81,164.85 262.37,164.92 262.93,164.98 263.49,165.04 264.05,165.10 264.61,165.14 265.17,165.19 265.72,165.22 266.28,165.26 266.84,165.28 267.40,165.30" fill="none" stroke="#a6e36b" stroke-width="0.75" stroke-linejoin="round"/>
<polyline points="44.00,93.08 44.56,98.16 45.12,102.93 45.68,107.34 46.23,111.31 46.79,115.02 47.35,118.68 47.91,122.11 48.47,124.93 49.03,126.83 49.59,128.05 50.14,128.88 50.70,129.60 51.26,130.13 51.82,130.40 52.38,130.35 52.94,130.05 53.49,129.61 54.05,129.07 54.61,128.43 55.17,127.74 55.73,127.00 56.29,126.25 56.85,125.48 57.40,124.68 57.96,123.88 58.52,123.05 59.08,122.20 59.64,121.32 60.20,120.42 60.75,119.51 61.31,118.59 61.87,117.64 62.43,116.67 62.99,115.65 63.55,114.56 64.11,113.47 64.66,112.47 65.22,111.61 65.78,110.93 66.34,110.34 66.90,109.82 67.46,109.33 68.02,108.86 68.57,108.43 69.13,108.03 69.69,107.64 70.25,107.25 70.81,106.85 71.37,106.43 71.92,105.99 72.48,105.51 73.04,105.01 73.60,104.49 74.16,103.96 74.72,103.42 75.28,102.87 75.83,102.32 76.39,101.78 76.95,101.24 77.51,100.71 78.07,100.20 78.63,99.72 79.19,99.25 79.74,98.78 80.30,98.32 80.86,97.84 81.42,97.34 81.98,96.81 82.54,96.25 83.09,95.64 83.65,94.96 84.21,94.20 84.77,93.36 85.33,92.44 85.89,91.45 86.45,90.39 87.00,89.27 87.56,88.10 88.12,86.76 88.68,85.20 89.24,83.48 89.80,81.67 90.36,79.85 90.91,78.09 91.47,76.35 92.03,74.57 92.59,72.77 93.15,70.97 93.71,69.20 94.27,67.49 94.82,65.89 95.38,64.39 95.94,62.90 96.50,61.33 97.06,59.60 97.62,57.56 98.17,55.08 98.73,52.40 99.29,49.79 99.85,47.51 100.41,45.38 100.97,43.20 101.53,41.17 102.08,39.50 102.64,38.42 103.20,38.21 103.76,39.05 104.32,40.70 104.88,42.81 105.44,45.08 105.99,47.84 106.55,51.41 107.11,55.47 107.67,59.73 108.23,64.07 108.79,68.98 109.34,74.11 109.90,79.07 110.46,83.81 111.02,88.47 111.58,92.90 112.14,96.94 112.70,100.58 113.25,103.92 113.81,106.94 114.37,109.68 114.93,112.24 115.49,114.64 116.05,116.86 116.61,118.84 117.16,120.65 117.72,122.35 118.28,123.94 118.84,125.42 119.40,126.81 119.96,128.09 120.51,129.32 121.07,130.50 121.63,131.62 122.19,132.68 122.75,133.67 123.31,134.58 123.87,135.44 124.42,136.26 124.98,137.04 125.54,137.79 126.10,138.50 126.66,139.17 127.22,139.81 127.78,140.40 128.33,140.96 128.89,141.48 129.45,141.97 130.01,142.43 130.57,142.87 131.13,143.28 131.68,143.68 132.24,144.06 132.80,144.41 133.36,144.73 133.92,145.02 134.48,145.29 135.04,145.52 135.59,145.72 136.15,145.89 136.71,146.04 137.27,146.19 137.83,146.34 138.39,146.47 138.94,146.60 139.50,146.73 140.06,146.84 140.62,146.96 141.18,147.06 141.74,147.16 142.30,147.25 142.85,147.34 143.41,147.43 143.97,147.50 144.53,147.57 145.09,147.64 145.65,147.71 146.21,147.77 146.76,147.82 147.32,147.88 147.88,147.93 148.44,147.98 149.00,148.03 149.56,148.08 150.12,148.12 150.67,148.17 151.23,148.21 151.79,148.25 152.35,148.30 152.91,148.34 153.47,148.39 154.02,148.43 154.58,148.48 155.14,148.52 155.70,148.57 156.26,148.62 156.82,148.67 157.38,148.72 157.93,148.76 158.49,148.81 159.05,148.85 159.61,148.89 160.17,148.94 160.73,148.98 161.28,149.02 161.84,149.06 162.40,149.11 162.96,149.15 163.52,149.20 164.08,149.24 164.64,149.29 165.19,149.34 165.75,149.39 166.31,149.44 166.87,149.50 167.43,149.55 167.99,149.61 168.55,149.67 169.10,149.73 169.66,149.79 170.22,149.85 170.78,149.92 171.34,149.98 171.90,150.05 172.46,150.12 173.01,150.19 173.57,150.27 174.13,150.35 174.69,150.43 175.25,150.51 175.81,150.59 176.36,150.68 176.92,150.77 177.48,150.86 178.04,150.96 178.60,151.06 179.16,151.16 179.72,151.27 180.27,151.38 180.83,151.51 181.39,151.65 181.95,151.80 182.51,151.96 183.07,152.13 183.62,152.30 184.18,152.48 184.74,152.67 185.30,152.85 185.86,153.04 186.42,153.22 186.98,153.41 187.53,153.59 188.09,153.76 188.65,153.92 189.21,154.08 189.77,154.24 190.33,154.39 190.89,154.55 191.44,154.71 192.00,154.87 192.56,155.03 193.12,155.19 193.68,155.35 194.24,155.51 194.79,155.66 195.35,155.81 195.91,155.96 196.47,156.11 197.03,156.24 197.59,156.38 198.15,156.50 198.70,156.62 199.26,156.74 199.82,156.84 200.38,156.94 200.94,157.03 201.50,157.12 202.06,157.21 202.61,157.30 203.17,157.38 203.73,157.47 204.29,157.55 204.85,157.63 205.41,157.71 205.97,157.79 206.52,157.86 207.08,157.92 207.64,157.99 208.20,158.05 208.76,158.10 209.32,158.15 209.87,158.19 210.43,158.23 210.99,158.26 211.55,158.28 212.11,158.30 212.67,158.33 213.23,158.35 213.78,158.37 214.34,158.39 214.90,158.41 215.46,158.43 216.02,158.45 216.58,158.47 217.13,158.49 217.69,158.50 218.25,158.52 218.81,158.53 219.37,158.54 219.93,158.56 220.49,158.56 221.04,158.57 221.60,158.58 222.16,158.58 222.72,158.58 223.28,158.57 223.84,158.54 224.40,158.49 224.95,158.42 225.51,158.35 226.07,158.26 226.63,158.16 227.19,158.06 227.75,157.95 228.31,157.84 228.86,157.73 229.42,157.63 229.98,157.53 230.54,157.44 231.10,157.36 231.66,157.30 232.21,157.25 232.77,157.21 233.33,157.20 233.89,157.23 234.45,157.29 235.01,157.39 235.57,157.51 236.12,157.66 236.68,157.83 237.24,158.01 237.80,158.20 238.36,158.39 238.92,158.57 239.47,158.74 240.03,158.92 240.59,159.12 241.15,159.33 241.71,159.55 242.27,159.79 242.83,160.03 243.38,160.28 243.94,160.53 244.50,160.78 245.06,161.03 245.62,161.27 246.18,161.51 246.74,161.74 247.29,161.95 247.85,162.15 248.41,162.33 248.97,162.49 249.53,162.63 250.09,162.75 250.65,162.87 251.20,163.00 251.76,163.12 252.32,163.24 252.88,163.36 253.44,163.47 254.00,163.59 254.55,163.70 255.11,163.81 255.67,163.91 256.23,164.02 256.79,164.12 257.35,164.22 257.91,164.32 258.46,164.41 259.02,164.50 259.58,164.58 260.14,164.67 260.70,164.74 261.26,164.82 261.81,164.89 262.37,164.95 262.93,165.01 263.49,165.07 264.05,165.12 264.61,165.16 265.17,165.20 265.72,165.23 266.28,165.26 266.84,165.28 267.40,165.30" fill="none" stroke="#7cc2f5" stroke-width="0.75" stroke-linejoin="round"/>
<polyline points="44.00,93.08 44.56,98.06 45.12,102.76 45.68,107.12 46.23,111.09 46.79,114.80 47.35,118.47 47.91,121.95 48.47,124.90 49.03,127.01 49.59,128.41 50.14,129.40 50.70,130.27 51.26,130.94 51.82,131.32 52.38,131.35 52.94,131.10 53.49,130.73 54.05,130.26 54.61,129.71 55.17,129.10 55.73,128.46 56.29,127.80 56.85,127.13 57.40,126.42 57.96,125.70 58.52,124.95 59.08,124.17 59.64,123.37 60.20,122.55 60.75,121.73 61.31,120.89 61.87,120.02 62.43,119.14 62.99,118.20 63.55,117.22 64.11,116.24 64.66,115.32 65.22,114.52 65.78,113.87 66.34,113.30 66.90,112.77 67.46,112.28 68.02,111.83 68.57,111.40 69.13,111.00 69.69,110.62 70.25,110.23 70.81,109.84 71.37,109.43 71.92,108.99 72.48,108.51 73.04,108.01 73.60,107.50 74.16,106.96 74.72,106.42 75.28,105.87 75.83,105.33 76.39,104.78 76.95,104.24 77.51,103.72 78.07,103.22 78.63,102.75 79.19,102.29 79.74,101.84 80.30,101.39 80.86,100.92 81.42,100.43 81.98,99.91 82.54,99.35 83.09,98.73 83.65,98.03 84.21,97.24 84.77,96.36 85.33,95.40 85.89,94.35 86.45,93.23 87.00,92.03 87.56,90.78 88.12,89.33 88.68,87.64 89.24,85.76 89.80,83.79 90.36,81.80 90.91,79.87 91.47,77.97 92.03,76.02 92.59,74.05 93.15,72.08 93.71,70.15 94.27,68.28 94.82,66.53 95.38,64.90 95.94,63.28 96.50,61.56 97.06,59.67 97.62,57.41 98.17,54.66 98.73,51.69 99.29,48.79 99.85,46.26 100.41,43.90 100.97,41.45 101.53,39.17 102.08,37.29 102.64,36.07 103.20,35.81 103.76,36.71 104.32,38.51 104.88,40.84 105.44,43.34 105.99,46.39 106.55,50.35 107.11,54.85 107.67,59.56 108.23,64.33 108.79,69.67 109.34,75.22 109.90,80.52 110.46,85.54 111.02,90.46 111.58,95.10 112.14,99.29 112.70,103.05 113.25,106.49 113.81,109.60 114.37,112.39 114.93,114.98 115.49,117.40 116.05,119.60 116.61,121.55 117.16,123.31 117.72,124.95 118.28,126.47 118.84,127.88 119.40,129.17 119.96,130.35 120.51,131.48 121.07,132.55 121.63,133.58 122.19,134.55 122.75,135.45 123.31,136.29 123.87,137.07 124.42,137.83 124.98,138.54 125.54,139.23 126.10,139.87 126.66,140.49 127.22,141.06 127.78,141.61 128.33,142.12 128.89,142.60 129.45,143.05 130.01,143.48 130.57,143.89 131.13,144.29 131.68,144.66 132.24,145.01 132.80,145.34 133.36,145.64 133.92,145.91 134.48,146.16 135.04,146.37 135.59,146.55 136.15,146.70 136.71,146.84 137.27,146.98 137.83,147.11 138.39,147.23 138.94,147.34 139.50,147.45 140.06,147.56 140.62,147.66 141.18,147.75 141.74,147.84 142.30,147.93 142.85,148.01 143.41,148.08 143.97,148.15 144.53,148.22 145.09,148.28 145.65,148.34 146.21,148.39 146.76,148.44 147.32,148.50 147.88,148.54 148.44,148.59 149.00,148.63 149.56,148.68 150.12,148.72 150.67,148.76 151.23,148.80 151.79,148.84 152.35,148.88 152.91,148.92 153.47,148.97 154.02,149.01 154.58,149.05 155.14,149.09 155.70,149.14 156.26,149.18 156.82,149.23 157.38,149.27 157.93,149.31 158.49,149.35 159.05,149.39 159.61,149.43 160.17,149.47 160.73,149.50 161.28,149.54 161.84,149.58 162.40,149.62 162.96,149.66 163.52,149.70 164.08,149.74 164.64,149.79 165.19,149.83 165.75,149.88 166.31,149.92 166.87,149.97 167.43,150.03 167.99,150.08 168.55,150.14 169.10,150.19 169.66,150.25 170.22,150.31 170.78,150.38 171.34,150.44 171.90,150.51 172.46,150.58 173.01,150.65 173.57,150.72 174.13,150.80 174.69,150.88 175.25,150.96 175.81,151.04 176.36,151.13 176.92,151.21 177.48,151.31 178.04,151.40 178.60,151.50 179.16,151.60 179.72,151.70 180.27,151.81 180.83,151.94 181.39,152.08 181.95,152.23 182.51,152.39 183.07,152.55 183.62,152.72 184.18,152.90 184.74,153.08 185.30,153.27 185.86,153.45 186.42,153.63 186.98,153.81 187.53,153.99 188.09,154.16 188.65,154.32 189.21,154.47 189.77,154.62 190.33,154.78 190.89,154.93 191.44,155.08 192.00,155.24 192.56,155.39 193.12,155.55 193.68,155.70 194.24,155.85 194.79,156.00 195.35,156.15 195.91,156.29 196.47,156.42 197.03,156.56 197.59,156.68 198.15,156.81 198.70,156.92 199.26,157.03 199.82,157.13 200.38,157.22 200.94,157.31 201.50,157.39 202.06,157.48 202.61,157.57 203.17,157.65 203.73,157.73 204.29,157.81 204.85,157.89 205.41,157.96 205.97,158.04 206.52,158.11 207.08,158.17 207.64,158.23 208.20,158.29 208.76,158.34 209.32,158.38 209.87,158.42 210.43,158.45 210.99,158.48 211.55,158.50 212.11,158.52 212.67,158.53 213.23,158.55 213.78,158.57 214.34,158.58 214.90,158.60 215.46,158.61 216.02,158.63 216.58,158.64 217.13,158.66 217.69,158.67 218.25,158.68 218.81,158.69 219.37,158.70 219.93,158.71 220.49,158.72 221.04,158.73 221.60,158.73 222.16,158.73 222.72,158.73 223.28,158.72 223.84,158.69 224.40,158.65 224.95,158.58 225.51,158.51 226.07,158.42 226.63,158.33 227.19,158.23 227.75,158.13 228.31,158.02 228.86,157.92 229.42,157.82 229.98,157.73 230.54,157.64 231.10,157.57 231.66,157.51 232.21,157.46 232.77,157.43 233.33,157.42 233.89,157.44 234.45,157.50 235.01,157.59 235.57,157.72 236.12,157.86 236.68,158.03 237.24,158.20 237.80,158.38 238.36,158.57 238.92,158.75 239.47,158.92 240.03,159.09 240.59,159.28 241.15,159.49 241.71,159.71 242.27,159.95 242.83,160.19 243.38,160.43 243.94,160.68 244.50,160.93 245.06,161.18 245.62,161.42 246.18,161.66 246.74,161.88 247.29,162.09 247.85,162.29 248.41,162.46 248.97,162.62 249.53,162.75 250.09,162.87 250.65,162.99 251.20,163.11 251.76,163.23 252.32,163.34 252.88,163.45 253.44,163.57 254.00,163.68 254.55,163.78 255.11,163.89 255.67,163.99 256.23,164.09 256.79,164.19 257.35,164.29 257.91,164.38 258.46,164.47 259.02,164.55 259.58,164.63 260.14,164.71 260.70,164.78 261.26,164.85 261.81,164.92 262.37,164.98 262.93,165.04 263.49,165.09 264.05,165.13 264.61,165.18 265.17,165.21 265.72,165.24 266.28,165.27 266.84,165.29 267.40,165.30" fill="none" stroke="#b58cf2" stroke-width="0.75" stroke-linejoin="round"/>
<polyline points="44.00,93.08 44.56,97.96 45.12,102.58 45.68,106.90 46.23,110.88 46.79,114.59 47.35,118.26 47.91,121.79 48.47,124.87 49.03,127.18 49.59,128.76 50.14,129.91 50.70,130.93 51.26,131.73 51.82,132.23 52.38,132.33 52.94,132.13 53.49,131.82 54.05,131.42 54.61,130.95 55.17,130.43 55.73,129.87 56.29,129.31 56.85,128.73 57.40,128.11 57.96,127.47 58.52,126.80 59.08,126.10 59.64,125.37 60.20,124.64 60.75,123.90 61.31,123.14 61.87,122.35 62.43,121.54 62.99,120.70 63.55,119.81 64.11,118.93 64.66,118.10 65.22,117.37 65.78,116.74 66.34,116.18 66.90,115.65 67.46,115.17 68.02,114.71 68.57,114.30 69.13,113.90 69.69,113.52 70.25,113.14 70.81,112.76 71.37,112.35 71.92,111.91 72.48,111.44 73.04,110.94 73.60,110.43 74.16,109.89 74.72,109.35 75.28,108.80 75.83,108.25 76.39,107.71 76.95,107.17 77.51,106.65 78.07,106.16 78.63,105.70 79.19,105.26 79.74,104.82 80.30,104.38 80.86,103.92 81.42,103.44 81.98,102.93 82.54,102.36 83.09,101.74 83.65,101.03 84.21,100.21 84.77,99.29 85.33,98.28 85.89,97.18 86.45,95.99 87.00,94.73 87.56,93.39 88.12,91.84 88.68,90.02 89.24,87.99 89.80,85.85 90.36,83.70 90.91,81.61 91.47,79.55 92.03,77.43 92.59,75.30 93.15,73.16 93.71,71.07 94.27,69.04 94.82,67.16 95.38,65.39 95.94,63.64 96.50,61.79 97.06,59.73 97.62,57.26 98.17,54.25 98.73,50.99 99.29,47.81 99.85,45.05 100.41,42.45 100.97,39.75 101.53,37.22 102.08,35.13 102.64,33.77 103.20,33.47 103.76,34.43 104.32,36.38 104.88,38.91 105.44,41.64 105.99,44.98 106.55,49.31 107.11,54.25 107.67,59.39 108.23,64.58 108.79,70.35 109.34,76.31 109.90,81.94 110.46,87.24 111.02,92.40 111.58,97.24 112.14,101.58 112.70,105.45 113.25,109.00 113.81,112.19 114.37,115.04 114.93,117.66 115.49,120.08 116.05,122.27 116.61,124.19 117.16,125.89 117.72,127.48 118.28,128.94 118.84,130.27 119.40,131.47 119.96,132.55 120.51,133.58 121.07,134.56 121.63,135.49 122.19,136.37 122.75,137.19 123.31,137.96 123.87,138.67 124.42,139.36 124.98,140.01 125.54,140.63 126.10,141.21 126.66,141.77 127.22,142.29 127.78,142.78 128.33,143.25 128.89,143.69 129.45,144.11 130.01,144.51 130.57,144.90 131.13,145.26 131.68,145.61 132.24,145.94 132.80,146.25 133.36,146.53 133.92,146.78 134.48,147.01 135.04,147.20 135.59,147.37 136.15,147.50 136.71,147.62 137.27,147.74 137.83,147.86 138.39,147.96 138.94,148.07 139.50,148.16 140.06,148.26 140.62,148.35 141.18,148.43 141.74,148.51 142.30,148.58 142.85,148.65 143.41,148.72 143.97,148.78 144.53,148.84 145.09,148.90 145.65,148.95 146.21,149.00 146.76,149.05 147.32,149.10 147.88,149.14 148.44,149.18 149.00,149.22 149.56,149.26 150.12,149.30 150.67,149.34 151.23,149.38 151.79,149.42 152.35,149.45 152.91,149.49 153.47,149.53 154.02,149.57 154.58,149.61 155.14,149.65 155.70,149.69 156.26,149.73 156.82,149.77 157.38,149.81 157.93,149.85 158.49,149.88 159.05,149.92 159.61,149.95 160.17,149.98 160.73,150.02 161.28,150.05 161.84,150.09 162.40,150.12 162.96,150.16 163.52,150.19 164.08,150.23 164.64,150.27 165.19,150.31 165.75,150.35 166.31,150.39 166.87,150.44 167.43,150.49 167.99,150.54 168.55,150.59 169.10,150.65 169.66,150.70 170.22,150.76 170.78,150.82 171.34,150.89 171.90,150.95 172.46,151.02 173.01,151.09 173.57,151.16 174.13,151.24 174.69,151.31 175.25,151.39 175.81,151.47 176.36,151.56 176.92,151.65 177.48,151.74 178.04,151.83 178.60,151.93 179.16,152.02 179.72,152.12 180.27,152.23 180.83,152.36 181.39,152.49 181.95,152.64 182.51,152.80 183.07,152.96 183.62,153.13 184.18,153.31 184.74,153.49 185.30,153.67 185.86,153.85 186.42,154.03 186.98,154.21 187.53,154.38 188.09,154.55 188.65,154.71 189.21,154.85 189.77,155.00 190.33,155.15 190.89,155.30 191.44,155.45 192.00,155.60 192.56,155.75 193.12,155.89 193.68,156.04 194.24,156.19 194.79,156.33 195.35,156.47 195.91,156.60 196.47,156.74 197.03,156.86 197.59,156.98 198.15,157.10 198.70,157.21 199.26,157.31 199.82,157.41 200.38,157.49 200.94,157.58 201.50,157.66 202.06,157.74 202.61,157.83 203.17,157.91 203.73,157.99 204.29,158.06 204.85,158.14 205.41,158.21 205.97,158.28 206.52,158.35 207.08,158.41 207.64,158.47 208.20,158.52 208.76,158.57 209.32,158.61 209.87,158.64 210.43,158.67 210.99,158.70 211.55,158.71 212.11,158.72 212.67,158.74 213.23,158.75 213.78,158.76 214.34,158.77 214.90,158.78 215.46,158.80 216.02,158.81 216.58,158.82 217.13,158.83 217.69,158.84 218.25,158.85 218.81,158.85 219.37,158.86 219.93,158.87 220.49,158.87 221.04,158.88 221.60,158.88 222.16,158.88 222.72,158.88 223.28,158.87 223.84,158.84 224.40,158.80 224.95,158.74 225.51,158.67 226.07,158.59 226.63,158.50 227.19,158.40 227.75,158.30 228.31,158.20 228.86,158.11 229.42,158.01 229.98,157.92 230.54,157.84 231.10,157.77 231.66,157.71 232.21,157.66 232.77,157.63 233.33,157.62 233.89,157.65 234.45,157.70 235.01,157.80 235.57,157.92 236.12,158.06 236.68,158.22 237.24,158.39 237.80,158.57 238.36,158.75 238.92,158.92 239.47,159.09 240.03,159.26 240.59,159.45 241.15,159.65 241.71,159.87 242.27,160.10 242.83,160.34 243.38,160.59 243.94,160.83 244.50,161.08 245.06,161.33 245.62,161.57 246.18,161.80 246.74,162.02 247.29,162.23 247.85,162.42 248.41,162.60 248.97,162.75 249.53,162.88 250.09,162.99 250.65,163.11 251.20,163.22 251.76,163.33 252.32,163.44 252.88,163.55 253.44,163.66 254.00,163.76 254.55,163.87 255.11,163.97 255.67,164.07 256.23,164.16 256.79,164.26 257.35,164.35 257.91,164.44 258.46,164.52 259.02,164.60 259.58,164.68 260.14,164.75 260.70,164.82 261.26,164.89 261.81,164.95 262.37,165.01 262.93,165.06 263.49,165.11 264.05,165.15 264.61,165.19 265.17,165.22 265.72,165.25 266.28,165.27 266.84,165.29 267.40,165.30" fill="none" stroke="#f08ee6" stroke-width="0.75" stroke-linejoin="round"/>
<polyline points="44.00,93.08 44.56,97.87 45.12,102.42 45.68,106.69 46.23,110.67 46.79,114.38 47.35,118.05 47.91,121.64 48.47,124.84 49.03,127.35 49.59,129.11 50.14,130.39 50.70,131.56 51.26,132.50 51.82,133.10 52.38,133.27 52.94,133.13 53.49,132.88 54.05,132.55 54.61,132.15 55.17,131.71 55.73,131.24 56.29,130.78 56.85,130.29 57.40,129.75 57.96,129.18 58.52,128.58 59.08,127.96 59.64,127.31 60.20,126.65 60.75,125.99 61.31,125.31 61.87,124.60 62.43,123.87 62.99,123.11 63.55,122.32 64.11,121.53 64.66,120.79 65.22,120.11 65.78,119.52 66.34,118.96 66.90,118.44 67.46,117.95 68.02,117.51 68.57,117.10 69.13,116.71 69.69,116.33 70.25,115.96 70.81,115.58 71.37,115.17 71.92,114.74 72.48,114.27 73.04,113.78 73.60,113.26 74.16,112.72 74.72,112.18 75.28,111.63 75.83,111.08 76.39,110.54 76.95,110.01 77.51,109.49 78.07,109.01 78.63,108.55 79.19,108.12 79.74,107.70 80.30,107.27 80.86,106.83 81.42,106.36 81.98,105.84 82.54,105.28 83.09,104.65 83.65,103.92 84.21,103.08 84.77,102.13 85.33,101.07 85.89,99.91 86.45,98.66 87.00,97.33 87.56,95.91 88.12,94.27 88.68,92.32 89.24,90.14 89.80,87.85 90.36,85.53 90.91,83.29 91.47,81.07 92.03,78.80 92.59,76.50 93.15,74.21 93.71,71.96 94.27,69.78 94.82,67.76 95.38,65.87 95.94,64.00 96.50,62.01 97.06,59.79 97.62,57.12 98.17,53.85 98.73,50.32 99.29,46.87 99.85,43.88 100.41,41.06 100.97,38.11 101.53,35.34 102.08,33.05 102.64,31.56 103.20,31.20 103.76,32.22 104.32,34.32 104.88,37.05 105.44,40.00 105.99,43.61 106.55,48.31 107.11,53.67 107.67,59.23 108.23,64.83 108.79,71.01 109.34,77.36 109.90,83.31 110.46,88.87 111.02,94.27 111.58,99.30 112.14,103.79 112.70,107.78 113.25,111.42 113.81,114.69 114.37,117.60 114.93,120.24 115.49,122.68 116.05,124.86 116.61,126.74 117.16,128.40 117.72,129.93 118.28,131.32 118.84,132.58 119.40,133.70 119.96,134.69 120.51,135.62 121.07,136.50 121.63,137.34 122.19,138.13 122.75,138.88 123.31,139.57 123.87,140.22 124.42,140.84 124.98,141.42 125.54,141.98 126.10,142.51 126.66,143.01 127.22,143.47 127.78,143.92 128.33,144.34 128.89,144.74 129.45,145.13 130.01,145.51 130.57,145.86 131.13,146.21 131.68,146.53 132.24,146.84 132.80,147.12 133.36,147.39 133.92,147.62 134.48,147.83 135.04,148.01 135.59,148.15 136.15,148.27 136.71,148.38 137.27,148.48 137.83,148.58 138.39,148.67 138.94,148.76 139.50,148.85 140.06,148.93 140.62,149.01 141.18,149.08 141.74,149.15 142.30,149.22 142.85,149.28 143.41,149.34 143.97,149.40 144.53,149.45 145.09,149.50 145.65,149.55 146.21,149.59 146.76,149.64 147.32,149.68 147.88,149.72 148.44,149.76 149.00,149.79 149.56,149.83 150.12,149.87 150.67,149.90 151.23,149.94 151.79,149.97 152.35,150.01 152.91,150.04 153.47,150.08 154.02,150.11 154.58,150.15 155.14,150.18 155.70,150.22 156.26,150.26 156.82,150.30 157.38,150.33 157.93,150.36 158.49,150.39 159.05,150.42 159.61,150.45 160.17,150.48 160.73,150.51 161.28,150.54 161.84,150.57 162.40,150.60 162.96,150.63 163.52,150.67 164.08,150.70 164.64,150.73 165.19,150.77 165.75,150.81 166.31,150.85 166.87,150.89 167.43,150.94 167.99,150.98 168.55,151.03 169.10,151.09 169.66,151.14 170.22,151.20 170.78,151.26 171.34,151.32 171.90,151.38 172.46,151.45 173.01,151.52 173.57,151.59 174.13,151.66 174.69,151.74 175.25,151.81 175.81,151.90 176.36,151.98 176.92,152.07 177.48,152.15 178.04,152.25 178.60,152.34 179.16,152.44 179.72,152.53 180.27,152.64 180.83,152.76 181.39,152.90 181.95,153.04 182.51,153.20 183.07,153.36 183.62,153.53 184.18,153.70 184.74,153.88 185.30,154.06 185.86,154.24 186.42,154.42 186.98,154.59 187.53,154.76 188.09,154.92 188.65,155.08 189.21,155.22 189.77,155.37 190.33,155.51 190.89,155.65 191.44,155.80 192.00,155.94 192.56,156.09 193.12,156.23 193.68,156.37 194.24,156.51 194.79,156.65 195.35,156.78 195.91,156.91 196.47,157.04 197.03,157.16 197.59,157.27 198.15,157.38 198.70,157.49 199.26,157.59 199.82,157.68 200.38,157.76 200.94,157.84 201.50,157.92 202.06,158.00 202.61,158.08 203.17,158.16 203.73,158.23 204.29,158.31 204.85,158.38 205.41,158.45 205.97,158.52 206.52,158.58 207.08,158.64 207.64,158.70 208.20,158.74 208.76,158.79 209.32,158.83 209.87,158.86 210.43,158.89 210.99,158.91 211.55,158.92 212.11,158.92 212.67,158.93 213.23,158.94 213.78,158.95 214.34,158.96 214.90,158.96 215.46,158.97 216.02,158.98 216.58,158.98 217.13,158.99 217.69,159.00 218.25,159.00 218.81,159.01 219.37,159.01 219.93,159.02 220.49,159.02 221.04,159.02 221.60,159.02 222.16,159.03 222.72,159.03 223.28,159.02 223.84,158.99 224.40,158.95 224.95,158.89 225.51,158.82 226.07,158.74 226.63,158.66 227.19,158.57 227.75,158.47 228.31,158.38 228.86,158.28 229.42,158.19 229.98,158.11 230.54,158.03 231.10,157.96 231.66,157.91 232.21,157.86 232.77,157.84 233.33,157.83 233.89,157.85 234.45,157.90 235.01,157.99 235.57,158.11 236.12,158.25 236.68,158.40 237.24,158.57 237.80,158.74 238.36,158.92 238.92,159.09 239.47,159.25 240.03,159.42 240.59,159.61 241.15,159.81 241.71,160.03 242.27,160.25 242.83,160.49 243.38,160.73 243.94,160.98 244.50,161.23 245.06,161.47 245.62,161.71 246.18,161.94 246.74,162.16 247.29,162.36 247.85,162.55 248.41,162.72 248.97,162.87 249.53,163.00 250.09,163.11 250.65,163.22 251.20,163.33 251.76,163.43 252.32,163.54 252.88,163.65 253.44,163.75 254.00,163.85 254.55,163.95 255.11,164.05 255.67,164.14 256.23,164.23 256.79,164.32 257.35,164.41 257.91,164.49 258.46,164.57 259.02,164.65 259.58,164.73 260.14,164.80 260.70,164.86 261.26,164.92 261.81,164.98 262.37,165.04 262.93,165.09 263.49,165.13 264.05,165.17 264.61,165.21 265.17,165.24 265.72,165.26 266.28,165.28 266.84,165.29 267.40,165.30" fill="none" stroke="#5fd67c" stroke-width="0.75" stroke-linejoin="round"/>
<polyline points="44.00,93.08 44.56,97.78 45.12,102.26 45.68,106.50 46.23,110.47 46.79,114.19 47.35,117.86 47.91,121.50 48.47,124.81 49.03,127.51 49.59,129.43 50.14,130.86 50.70,132.16 51.26,133.22 51.82,133.93 52.38,134.16 52.94,134.07 53.49,133.88 54.05,133.61 54.61,133.29 55.17,132.93 55.73,132.55 56.29,132.16 56.85,131.76 57.40,131.30 57.96,130.81 58.52,130.28 59.08,129.72 59.64,129.15 60.20,128.56 60.75,127.98 61.31,127.37 61.87,126.74 62.43,126.08 62.99,125.39 63.55,124.70 64.11,124.00 64.66,123.34 65.22,122.72 65.78,122.15 66.34,121.60 66.90,121.08 67.46,120.60 68.02,120.16 68.57,119.75 69.13,119.37 69.69,119.00 70.25,118.63 70.81,118.25 71.37,117.85 71.92,117.42 72.48,116.96 73.04,116.46 73.60,115.95 74.16,115.41 74.72,114.87 75.28,114.32 75.83,113.77 76.39,113.22 76.95,112.69 77.51,112.18 78.07,111.70 78.63,111.26 79.19,110.84 79.74,110.43 80.30,110.02 80.86,109.58 81.42,109.12 81.98,108.61 82.54,108.05 83.09,107.41 83.65,106.67 84.21,105.80 84.77,104.82 85.33,103.71 85.89,102.51 86.45,101.20 87.00,99.80 87.56,98.31 88.12,96.58 88.68,94.50 89.24,92.19 89.80,89.74 90.36,87.27 90.91,84.88 91.47,82.52 92.03,80.10 92.59,77.65 93.15,75.21 93.71,72.81 94.27,70.49 94.82,68.33 95.38,66.33 95.94,64.33 96.50,62.21 97.06,59.84 97.62,56.98 98.17,53.48 98.73,49.68 99.29,45.98 99.85,42.77 100.41,39.73 100.97,36.55 101.53,33.55 102.08,31.07 102.64,29.45 103.20,29.05 103.76,30.13 104.32,32.36 104.88,35.29 105.44,38.44 105.99,42.32 106.55,47.37 107.11,53.11 107.67,59.08 108.23,65.06 108.79,71.64 109.34,78.35 109.90,84.61 110.46,90.43 111.02,96.04 111.58,101.27 112.14,105.89 112.70,109.99 113.25,113.72 113.81,117.07 114.37,120.02 114.93,122.69 115.49,125.14 116.05,127.32 116.61,129.16 117.16,130.77 117.72,132.25 118.28,133.59 118.84,134.78 119.40,135.82 119.96,136.71 120.51,137.55 121.07,138.34 121.63,139.09 122.19,139.80 122.75,140.47 123.31,141.10 123.87,141.69 124.42,142.24 124.98,142.77 125.54,143.27 126.10,143.74 126.66,144.18 127.22,144.60 127.78,144.99 128.33,145.37 128.89,145.74 129.45,146.10 130.01,146.45 130.57,146.78 131.13,147.10 131.68,147.41 132.24,147.69 132.80,147.96 133.36,148.20 133.92,148.42 134.48,148.61 135.04,148.77 135.59,148.90 136.15,149.00 136.71,149.09 137.27,149.18 137.83,149.27 138.39,149.35 138.94,149.43 139.50,149.50 140.06,149.57 140.62,149.64 141.18,149.70 141.74,149.76 142.30,149.82 142.85,149.87 143.41,149.93 143.97,149.98 144.53,150.02 145.09,150.07 145.65,150.11 146.21,150.15 146.76,150.19 147.32,150.23 147.88,150.27 148.44,150.30 149.00,150.34 149.56,150.37 150.12,150.40 150.67,150.43 151.23,150.47 151.79,150.50 152.35,150.53 152.91,150.56 153.47,150.59 154.02,150.63 154.58,150.66 155.14,150.69 155.70,150.73 156.26,150.76 156.82,150.79 157.38,150.82 157.93,150.85 158.49,150.88 159.05,150.91 159.61,150.93 160.17,150.96 160.73,150.98 161.28,151.01 161.84,151.04 162.40,151.06 162.96,151.09 163.52,151.12 164.08,151.15 164.64,151.18 165.19,151.21 165.75,151.24 166.31,151.28 166.87,151.32 167.43,151.36 167.99,151.41 168.55,151.45 169.10,151.50 169.66,151.55 170.22,151.61 170.78,151.67 171.34,151.73 171.90,151.79 172.46,151.85 173.01,151.92 173.57,151.99 174.13,152.06 174.69,152.14 175.25,152.22 175.81,152.30 176.36,152.38 176.92,152.46 177.48,152.55 178.04,152.64 178.60,152.73 179.16,152.83 179.72,152.92 180.27,153.03 180.83,153.15 181.39,153.28 181.95,153.43 182.51,153.58 183.07,153.74 183.62,153.91 184.18,154.08 184.74,154.25 185.30,154.43 185.86,154.61 186.42,154.78 186.98,154.95 187.53,155.12 188.09,155.28 188.65,155.43 189.21,155.57 189.77,155.71 190.33,155.85 190.89,155.99 191.44,156.13 192.00,156.27 192.56,156.41 193.12,156.55 193.68,156.68 194.24,156.82 194.79,156.95 195.35,157.08 195.91,157.20 196.47,157.32 197.03,157.44 197.59,157.55 198.15,157.65 198.70,157.75 199.26,157.85 199.82,157.93 200.38,158.01 200.94,158.09 201.50,158.17 202.06,158.24 202.61,158.32 203.17,158.39 203.73,158.47 204.29,158.54 204.85,158.61 205.41,158.68 205.97,158.74 206.52,158.80 207.08,158.86 207.64,158.91 208.20,158.96 208.76,159.00 209.32,159.04 209.87,159.07 210.43,159.09 210.99,159.10 211.55,159.11 212.11,159.12 212.67,159.12 213.23,159.12 213.78,159.13 214.34,159.13 214.90,159.13 215.46,159.14 216.02,159.14 216.58,159.14 217.13,159.15 217.69,159.15 218.25,159.15 218.81,159.15 219.37,159.16 219.93,159.16 220.49,159.16 221.04,159.16 221.60,159.16 222.16,159.16 222.72,159.16 223.28,159.15 223.84,159.13 224.40,159.09 224.95,159.03 225.51,158.97 226.07,158.89 226.63,158.81 227.19,158.72 227.75,158.63 228.31,158.54 228.86,158.45 229.42,158.37 229.98,158.29 230.54,158.21 231.10,158.15 231.66,158.09 232.21,158.05 232.77,158.03 233.33,158.02 233.89,158.04 234.45,158.09 235.01,158.18 235.57,158.29 236.12,158.43 236.68,158.58 237.24,158.74 237.80,158.91 238.36,159.08 238.92,159.25 239.47,159.41 240.03,159.57 240.59,159.76 241.15,159.96 241.71,160.17 242.27,160.40 242.83,160.63 243.38,160.87 243.94,161.12 244.50,161.36 245.06,161.60 245.62,161.84 246.18,162.07 246.74,162.28 247.29,162.49 247.85,162.67 248.41,162.84 248.97,162.99 249.53,163.11 250.09,163.22 250.65,163.32 251.20,163.43 251.76,163.53 252.32,163.63 252.88,163.73 253.44,163.83 254.00,163.93 254.55,164.03 255.11,164.12 255.67,164.21 256.23,164.30 256.79,164.38 257.35,164.47 257.91,164.55 258.46,164.63 259.02,164.70 259.58,164.77 260.14,164.84 260.70,164.90 261.26,164.96 261.81,165.01 262.37,165.06 262.93,165.11 263.49,165.15 264.05,165.19 264.61,165.22 265.17,165.25 265.72,165.27 266.28,165.28 266.84,165.29 267.40,165.30" fill="none" stroke="#9a5ccc" stroke-width="0.75" stroke-linejoin="round"/>
<polyline points="44.00,93.08 44.56,97.70 45.12,102.12 45.68,106.32 46.23,110.29 46.79,114.01 47.35,117.69 47.91,121.37 48.47,124.78 49.03,127.65 49.59,129.71 50.14,131.26 50.70,132.69 51.26,133.86 51.82,134.65 52.38,134.95 52.94,134.90 53.49,134.76 54.05,134.55 54.61,134.29 55.17,133.99 55.73,133.68 56.29,133.38 56.85,133.05 57.40,132.66 57.96,132.23 58.52,131.76 59.08,131.27 59.64,130.75 60.20,130.23 60.75,129.71 61.31,129.18 61.87,128.60 62.43,128.01 62.99,127.39 63.55,126.78 64.11,126.17 64.66,125.57 65.22,125.00 65.78,124.45 66.34,123.91 66.90,123.39 67.46,122.91 68.02,122.47 68.57,122.07 69.13,121.70 69.69,121.33 70.25,120.97 70.81,120.59 71.37,120.20 71.92,119.77 72.48,119.31 73.04,118.81 73.60,118.30 74.16,117.76 74.72,117.22 75.28,116.66 75.83,116.11 76.39,115.57 76.95,115.04 77.51,114.54 78.07,114.06 78.63,113.63 79.19,113.22 79.74,112.82 80.30,112.42 80.86,111.99 81.42,111.54 81.98,111.03 82.54,110.47 83.09,109.83 83.65,109.07 84.21,108.18 84.77,107.17 85.33,106.03 85.89,104.78 86.45,103.42 87.00,101.96 87.56,100.41 88.12,98.59 88.68,96.41 89.24,93.97 89.80,91.40 90.36,88.80 90.91,86.28 91.47,83.79 92.03,81.24 92.59,78.65 93.15,76.08 93.71,73.55 94.27,71.10 94.82,68.83 95.38,66.72 95.94,64.62 96.50,62.39 97.06,59.89 97.62,56.87 98.17,53.15 98.73,49.12 99.29,45.20 99.85,41.79 100.41,38.57 100.97,35.18 101.53,31.98 102.08,29.34 102.64,27.61 103.20,27.18 103.76,28.30 104.32,30.65 104.88,33.74 105.44,37.08 105.99,41.18 106.55,46.54 107.11,52.63 107.67,58.94 108.23,65.26 108.79,72.18 109.34,79.22 109.90,85.75 110.46,91.79 111.02,97.60 111.58,102.98 112.14,107.73 112.70,111.92 113.25,115.73 113.81,119.15 114.37,122.14 114.93,124.84 115.49,127.30 116.05,129.46 116.61,131.28 117.16,132.85 117.72,134.28 118.28,135.56 118.84,136.70 119.40,137.67 119.96,138.48 120.51,139.24 121.07,139.95 121.63,140.63 122.19,141.27 122.75,141.87 123.31,142.43 123.87,142.97 124.42,143.47 124.98,143.94 125.54,144.39 126.10,144.81 126.66,145.21 127.22,145.58 127.78,145.94 128.33,146.28 128.89,146.62 129.45,146.95 130.01,147.28 130.57,147.59 131.13,147.89 131.68,148.17 132.24,148.44 132.80,148.69 133.36,148.91 133.92,149.12 134.48,149.29 135.04,149.44 135.59,149.55 136.15,149.64 136.71,149.72 137.27,149.80 137.83,149.87 138.39,149.94 138.94,150.01 139.50,150.07 140.06,150.13 140.62,150.19 141.18,150.24 141.74,150.30 142.30,150.35 142.85,150.39 143.41,150.44 143.97,150.48 144.53,150.52 145.09,150.56 145.65,150.60 146.21,150.64 146.76,150.68 147.32,150.71 147.88,150.74 148.44,150.78 149.00,150.81 149.56,150.84 150.12,150.87 150.67,150.90 151.23,150.93 151.79,150.96 152.35,150.99 152.91,151.02 153.47,151.05 154.02,151.08 154.58,151.11 155.14,151.14 155.70,151.17 156.26,151.20 156.82,151.23 157.38,151.26 157.93,151.28 158.49,151.31 159.05,151.33 159.61,151.35 160.17,151.37 160.73,151.40 161.28,151.42 161.84,151.44 162.40,151.46 162.96,151.49 163.52,151.51 164.08,151.54 164.64,151.56 165.19,151.59 165.75,151.62 166.31,151.66 166.87,151.69 167.43,151.73 167.99,151.77 168.55,151.82 169.10,151.87 169.66,151.92 170.22,151.97 170.78,152.03 171.34,152.08 171.90,152.14 172.46,152.21 173.01,152.27 173.57,152.34 174.13,152.41 174.69,152.49 175.25,152.57 175.81,152.64 176.36,152.73 176.92,152.81 177.48,152.90 178.04,152.98 178.60,153.07 179.16,153.17 179.72,153.26 180.27,153.37 180.83,153.49 181.39,153.62 181.95,153.76 182.51,153.91 183.07,154.07 183.62,154.24 184.18,154.41 184.74,154.58 185.30,154.75 185.86,154.93 186.42,155.10 186.98,155.27 187.53,155.43 188.09,155.59 188.65,155.74 189.21,155.88 189.77,156.01 190.33,156.15 190.89,156.29 191.44,156.42 192.00,156.56 192.56,156.69 193.12,156.82 193.68,156.96 194.24,157.08 194.79,157.21 195.35,157.33 195.91,157.45 196.47,157.57 197.03,157.68 197.59,157.79 198.15,157.89 198.70,157.99 199.26,158.08 199.82,158.16 200.38,158.24 200.94,158.31 201.50,158.38 202.06,158.46 202.61,158.53 203.17,158.60 203.73,158.67 204.29,158.74 204.85,158.81 205.41,158.88 205.97,158.94 206.52,159.00 207.08,159.05 207.64,159.10 208.20,159.15 208.76,159.19 209.32,159.22 209.87,159.25 210.43,159.27 210.99,159.28 211.55,159.28 212.11,159.28 212.67,159.28 213.23,159.28 213.78,159.28 214.34,159.28 214.90,159.28 215.46,159.28 216.02,159.28 216.58,159.28 217.13,159.28 217.69,159.28 218.25,159.28 218.81,159.28 219.37,159.28 219.93,159.28 220.49,159.28 221.04,159.28 221.60,159.28 222.16,159.28 222.72,159.28 223.28,159.27 223.84,159.25 224.40,159.21 224.95,159.16 225.51,159.09 226.07,159.02 226.63,158.94 227.19,158.86 227.75,158.78 228.31,158.69 228.86,158.60 229.42,158.52 229.98,158.44 230.54,158.37 231.10,158.31 231.66,158.26 232.21,158.22 232.77,158.19 233.33,158.18 233.89,158.20 234.45,158.26 235.01,158.34 235.57,158.45 236.12,158.58 236.68,158.73 237.24,158.89 237.80,159.06 238.36,159.22 238.92,159.39 239.47,159.54 240.03,159.71 240.59,159.89 241.15,160.09 241.71,160.30 242.27,160.52 242.83,160.76 243.38,161.00 243.94,161.24 244.50,161.48 245.06,161.72 245.62,161.95 246.18,162.18 246.74,162.40 247.29,162.60 247.85,162.78 248.41,162.95 248.97,163.09 249.53,163.21 250.09,163.31 250.65,163.41 251.20,163.51 251.76,163.62 252.32,163.71 252.88,163.81 253.44,163.91 254.00,164.00 254.55,164.09 255.11,164.18 255.67,164.27 256.23,164.36 256.79,164.44 257.35,164.52 257.91,164.60 258.46,164.67 259.02,164.74 259.58,164.81 260.14,164.87 260.70,164.93 261.26,164.99 261.81,165.04 262.37,165.09 262.93,165.13 263.49,165.17 264.05,165.20 264.61,165.23 265.17,165.26 265.72,165.27 266.28,165.29 266.84,165.30 267.40,165.30" fill="none" stroke="#44389a" stroke-width="0.9" stroke-linejoin="round"/>
<line x1="44.50" y1="7.80" x2="44.50" y2="165.80" stroke="#2a2a36" stroke-width="1.25"/>
<line x1="43.50" y1="165.50" x2="267.90" y2="165.50" stroke="#2a2a36" stroke-width="1.25"/>
<line x1="40.40" y1="165.50" x2="44.00" y2="165.50" stroke="#2a2a36" stroke-width="1.0"/>
<text transform="translate(38.20,168.50) scale(1.03,1)" font-size="9.7" text-anchor="end" fill="#222" >0.0</text>
<line x1="41.80" y1="139.50" x2="44.00" y2="139.50" stroke="#2a2a36" stroke-width="1.0"/>
<line x1="40.40" y1="112.50" x2="44.00" y2="112.50" stroke="#2a2a36" stroke-width="1.0"/>
<text transform="translate(38.20,116.17) scale(1.03,1)" font-size="9.7" text-anchor="end" fill="#222" >0.1</text>
<line x1="41.80" y1="86.50" x2="44.00" y2="86.50" stroke="#2a2a36" stroke-width="1.0"/>
<line x1="40.40" y1="60.50" x2="44.00" y2="60.50" stroke="#2a2a36" stroke-width="1.0"/>
<text transform="translate(38.20,63.83) scale(1.03,1)" font-size="9.7" text-anchor="end" fill="#222" >0.2</text>
<line x1="41.80" y1="34.50" x2="44.00" y2="34.50" stroke="#2a2a36" stroke-width="1.0"/>
<line x1="40.40" y1="8.50" x2="44.00" y2="8.50" stroke="#2a2a36" stroke-width="1.0"/>
<text transform="translate(38.20,11.50) scale(1.03,1)" font-size="9.7" text-anchor="end" fill="#222" >0.3</text>
<line x1="44.50" y1="165.30" x2="44.50" y2="168.90" stroke="#2a2a36" stroke-width="1.0"/>
<text transform="translate(44.00,177.60) scale(1.03,1)" font-size="9.7" text-anchor="middle" fill="#222" >300</text>
<line x1="71.50" y1="165.30" x2="71.50" y2="167.50" stroke="#2a2a36" stroke-width="1.0"/>
<line x1="99.50" y1="165.30" x2="99.50" y2="168.90" stroke="#2a2a36" stroke-width="1.0"/>
<text transform="translate(99.85,177.60) scale(1.03,1)" font-size="9.7" text-anchor="middle" fill="#222" >400</text>
<line x1="127.50" y1="165.30" x2="127.50" y2="167.50" stroke="#2a2a36" stroke-width="1.0"/>
<line x1="155.50" y1="165.30" x2="155.50" y2="168.90" stroke="#2a2a36" stroke-width="1.0"/>
<text transform="translate(155.70,177.60) scale(1.03,1)" font-size="9.7" text-anchor="middle" fill="#222" >500</text>
<line x1="183.50" y1="165.30" x2="183.50" y2="167.50" stroke="#2a2a36" stroke-width="1.0"/>
<line x1="211.50" y1="165.30" x2="211.50" y2="168.90" stroke="#2a2a36" stroke-width="1.0"/>
<text transform="translate(211.55,177.60) scale(1.03,1)" font-size="9.7" text-anchor="middle" fill="#222" >600</text>
<line x1="239.50" y1="165.30" x2="239.50" y2="167.50" stroke="#2a2a36" stroke-width="1.0"/>
<line x1="267.50" y1="165.30" x2="267.50" y2="168.90" stroke="#2a2a36" stroke-width="1.0"/>
<text transform="translate(267.40,177.60) scale(1.03,1)" font-size="9.7" text-anchor="middle" fill="#222" >700</text>
<text transform="translate(154.55,187.80) scale(1.03,1)" font-size="9.819999999999999" text-anchor="middle" fill="#222" >Wavelength (nm)</text>
<text transform="translate(19.70,88.70) rotate(-90)" font-size="9.5" text-anchor="middle" fill="#222" >Absorbance</text>
<text transform="translate(70.6,16.4) scale(1.03,1)" font-size="9.7" fill="#222">AG<tspan font-size="6.5" dy="2">4</tspan><tspan dy="-2">A-pH 5.0 K</tspan><tspan font-size="6" dy="-5.5">+</tspan></text>
<path d="M88.50,27.90 L92.10,34.60 L89.95,34.60 L89.95,54.60 L87.05,54.60 L87.05,34.60 L84.90,34.60 Z" fill="#000"/>
<polyline points="319.50,46.58 320.06,50.17 320.62,53.91 321.17,57.80 321.73,61.82 322.29,65.98 322.85,70.11 323.41,74.25 323.97,78.63 324.52,83.48 325.08,89.05 325.64,96.44 326.20,105.19 326.76,113.17 327.32,120.96 327.87,127.50 328.43,128.87 328.99,128.61 329.55,128.10 330.11,127.40 330.67,126.56 331.22,125.65 331.78,124.70 332.34,123.57 332.90,122.09 333.46,120.36 334.01,118.44 334.57,116.42 335.13,114.38 335.69,112.40 336.25,110.55 336.81,108.75 337.36,106.91 337.92,105.04 338.48,103.16 339.04,101.29 339.60,99.46 340.16,97.68 340.71,95.98 341.27,94.37 341.83,92.89 342.39,91.52 342.95,90.19 343.50,88.88 344.06,87.62 344.62,86.41 345.18,85.28 345.74,84.23 346.30,83.27 346.85,82.43 347.41,81.71 347.97,81.08 348.53,80.50 349.09,79.97 349.65,79.47 350.20,79.01 350.76,78.58 351.32,78.17 351.88,77.78 352.44,77.40 353.00,77.03 353.55,76.67 354.11,76.30 354.67,75.93 355.23,75.54 355.79,75.14 356.34,74.72 356.90,74.27 357.46,73.82 358.02,73.35 358.58,72.89 359.14,72.42 359.69,71.95 360.25,71.47 360.81,71.00 361.37,70.51 361.93,70.03 362.49,69.55 363.04,69.06 363.60,68.57 364.16,68.07 364.72,67.57 365.28,67.06 365.83,66.55 366.39,66.03 366.95,65.52 367.51,65.01 368.07,64.50 368.63,64.00 369.18,63.50 369.74,63.00 370.30,62.52 370.86,62.08 371.42,61.65 371.98,61.22 372.53,60.80 373.09,60.39 373.65,60.01 374.21,59.67 374.77,59.38 375.32,59.16 375.88,58.97 376.44,58.79 377.00,58.63 377.56,58.49 378.12,58.41 378.67,58.37 379.23,58.48 379.79,58.76 380.35,59.17 380.91,59.66 381.47,60.20 382.02,60.73 382.58,61.28 383.14,61.90 383.70,62.58 384.26,63.34 384.82,64.17 385.37,65.09 385.93,66.08 386.49,67.30 387.05,68.77 387.61,70.40 388.16,72.12 388.72,73.82 389.28,75.41 389.84,76.90 390.40,78.34 390.96,79.75 391.51,81.16 392.07,82.59 392.63,84.08 393.19,85.64 393.75,87.30 394.31,89.12 394.86,91.12 395.42,93.24 395.98,95.42 396.54,97.58 397.10,99.67 397.65,101.63 398.21,103.50 398.77,105.37 399.33,107.21 399.89,109.00 400.45,110.74 401.00,112.39 401.56,113.95 402.12,115.38 402.68,116.71 403.24,117.99 403.80,119.22 404.35,120.41 404.91,121.54 405.47,122.61 406.03,123.63 406.59,124.58 407.15,125.46 407.70,126.28 408.26,127.03 408.82,127.74 409.38,128.41 409.94,129.04 410.49,129.64 411.05,130.22 411.61,130.77 412.17,131.31 412.73,131.84 413.29,132.36 413.84,132.88 414.40,133.40 414.96,133.92 415.52,134.44 416.08,134.94 416.64,135.43 417.19,135.90 417.75,136.35 418.31,136.77 418.87,137.16 419.43,137.50 419.99,137.81 420.54,138.09 421.10,138.36 421.66,138.63 422.22,138.89 422.78,139.14 423.33,139.38 423.89,139.61 424.45,139.84 425.01,140.05 425.57,140.26 426.13,140.46 426.68,140.64 427.24,140.82 427.80,140.99 428.36,141.14 428.92,141.28 429.48,141.42 430.03,141.54 430.59,141.65 431.15,141.74 431.71,141.83 432.27,141.91 432.82,141.98 433.38,142.04 433.94,142.10 434.50,142.16 435.06,142.21 435.62,142.27 436.17,142.32 436.73,142.37 437.29,142.43 437.85,142.48 438.41,142.54 438.97,142.60 439.52,142.66 440.08,142.72 440.64,142.78 441.20,142.84 441.76,142.90 442.31,142.96 442.87,143.01 443.43,143.07 443.99,143.13 444.55,143.19 445.11,143.26 445.66,143.32 446.22,143.38 446.78,143.44 447.34,143.51 447.90,143.58 448.46,143.65 449.01,143.71 449.57,143.78 450.13,143.84 450.69,143.90 451.25,143.97 451.81,144.03 452.36,144.09 452.92,144.16 453.48,144.23 454.04,144.30 454.60,144.37 455.15,144.45 455.71,144.53 456.27,144.61 456.83,144.70 457.39,144.80 457.95,144.89 458.50,145.00 459.06,145.11 459.62,145.23 460.18,145.37 460.74,145.55 461.30,145.76 461.85,146.00 462.41,146.26 462.97,146.55 463.53,146.85 464.09,147.18 464.64,147.52 465.20,147.88 465.76,148.25 466.32,148.63 466.88,149.02 467.44,149.41 467.99,149.80 468.55,150.19 469.11,150.58 469.67,150.97 470.23,151.34 470.79,151.71 471.34,152.07 471.90,152.41 472.46,152.73 473.02,153.04 473.58,153.32 474.14,153.58 474.69,153.81 475.25,154.02 475.81,154.19 476.37,154.33 476.93,154.45 477.48,154.57 478.04,154.69 478.60,154.80 479.16,154.92 479.72,155.03 480.28,155.14 480.83,155.24 481.39,155.35 481.95,155.45 482.51,155.54 483.07,155.63 483.63,155.72 484.18,155.80 484.74,155.87 485.30,155.94 485.86,156.01 486.42,156.07 486.97,156.12 487.53,156.16 488.09,156.20 488.65,156.23 489.21,156.25 489.77,156.26 490.32,156.27 490.88,156.26 491.44,156.26 492.00,156.24 492.56,156.23 493.12,156.21 493.67,156.18 494.23,156.16 494.79,156.13 495.35,156.09 495.91,156.06 496.47,156.02 497.02,155.98 497.58,155.94 498.14,155.90 498.70,155.85 499.26,155.77 499.81,155.67 500.37,155.55 500.93,155.41 501.49,155.27 502.05,155.11 502.61,154.95 503.16,154.78 503.72,154.62 504.28,154.45 504.84,154.29 505.40,154.14 505.96,154.00 506.51,153.87 507.07,153.76 507.63,153.67 508.19,153.60 508.75,153.56 509.30,153.54 509.86,153.56 510.42,153.62 510.98,153.71 511.54,153.83 512.10,153.97 512.65,154.13 513.21,154.30 513.77,154.48 514.33,154.67 514.89,154.85 515.45,155.06 516.00,155.31 516.56,155.61 517.12,155.94 517.68,156.29 518.24,156.68 518.80,157.08 519.35,157.49 519.91,157.91 520.47,158.33 521.03,158.75 521.59,159.16 522.14,159.55 522.70,159.92 523.26,160.27 523.82,160.58 524.38,160.86 524.94,161.09 525.49,161.30 526.05,161.51 526.61,161.71 527.17,161.92 527.73,162.12 528.29,162.32 528.84,162.52 529.40,162.72 529.96,162.91 530.52,163.10 531.08,163.29 531.63,163.47 532.19,163.65 532.75,163.82 533.31,163.98 533.87,164.14 534.43,164.30 534.98,164.44 535.54,164.58 536.10,164.72 536.66,164.84 537.22,164.96 537.78,165.07 538.33,165.17 538.89,165.26 539.45,165.34 540.01,165.41 540.57,165.47 541.13,165.52 541.68,165.56 542.24,165.58 542.80,165.60" fill="none" stroke="#7f9c94" stroke-width="0.75" stroke-linejoin="round"/>
<polyline points="319.50,46.58 320.06,51.99 320.62,56.93 321.17,61.40 321.73,65.77 322.29,70.04 322.85,74.18 323.41,78.26 323.97,82.50 324.52,87.11 325.08,92.30 325.64,99.12 326.20,107.16 326.76,114.49 327.32,121.63 327.87,127.62 328.43,128.87 328.99,128.63 329.55,128.16 330.11,127.51 330.67,126.73 331.22,125.87 331.78,124.99 332.34,123.93 332.90,122.55 333.46,120.93 334.01,119.14 334.57,117.25 335.13,115.34 335.69,113.48 336.25,111.74 336.81,110.06 337.36,108.33 337.92,106.56 338.48,104.79 339.04,103.03 339.60,101.30 340.16,99.62 340.71,98.01 341.27,96.50 341.83,95.09 342.39,93.79 342.95,92.53 343.50,91.29 344.06,90.10 344.62,88.95 345.18,87.87 345.74,86.86 346.30,85.95 346.85,85.13 347.41,84.43 347.97,83.82 348.53,83.24 349.09,82.71 349.65,82.21 350.20,81.75 350.76,81.31 351.32,80.89 351.88,80.49 352.44,80.10 353.00,79.72 353.55,79.34 354.11,78.96 354.67,78.57 355.23,78.17 355.79,77.75 356.34,77.31 356.90,76.85 357.46,76.38 358.02,75.91 358.58,75.43 359.14,74.95 359.69,74.46 360.25,73.96 360.81,73.46 361.37,72.95 361.93,72.43 362.49,71.90 363.04,71.36 363.60,70.81 364.16,70.23 364.72,69.62 365.28,68.98 365.83,68.32 366.39,67.64 366.95,66.97 367.51,66.29 368.07,65.61 368.63,64.92 369.18,64.21 369.74,63.50 370.30,62.80 370.86,62.12 371.42,61.46 371.98,60.77 372.53,60.07 373.09,59.38 373.65,58.73 374.21,58.12 374.77,57.59 375.32,57.15 375.88,56.75 376.44,56.35 377.00,55.98 377.56,55.67 378.12,55.45 378.67,55.34 379.23,55.45 379.79,55.82 380.35,56.38 380.91,57.08 381.47,57.83 382.02,58.58 382.58,59.35 383.14,60.21 383.70,61.16 384.26,62.23 384.82,63.41 385.37,64.70 385.93,66.13 386.49,68.05 387.05,70.24 387.61,72.22 388.16,74.12 388.72,75.95 389.28,77.66 389.84,79.25 390.40,80.81 390.96,82.33 391.51,83.84 392.07,85.36 392.63,86.89 393.19,88.47 393.75,90.13 394.31,91.92 394.86,93.87 395.42,95.91 395.98,98.00 396.54,100.07 397.10,102.06 397.65,103.93 398.21,105.71 398.77,107.48 399.33,109.22 399.89,110.92 400.45,112.56 401.00,114.12 401.56,115.58 402.12,116.94 402.68,118.19 403.24,119.40 403.80,120.56 404.35,121.68 404.91,122.75 405.47,123.77 406.03,124.73 406.59,125.63 407.15,126.47 407.70,127.25 408.26,127.97 408.82,128.65 409.38,129.28 409.94,129.89 410.49,130.47 411.05,131.02 411.61,131.55 412.17,132.06 412.73,132.56 413.29,133.06 413.84,133.55 414.40,134.04 414.96,134.54 415.52,135.02 416.08,135.49 416.64,135.95 417.19,136.40 417.75,136.82 418.31,137.21 418.87,137.57 419.43,137.90 419.99,138.19 420.54,138.46 421.10,138.72 421.66,138.98 422.22,139.23 422.78,139.48 423.33,139.71 423.89,139.94 424.45,140.16 425.01,140.37 425.57,140.57 426.13,140.77 426.68,140.95 427.24,141.12 427.80,141.28 428.36,141.43 428.92,141.57 429.48,141.70 430.03,141.82 430.59,141.92 431.15,142.01 431.71,142.08 432.27,142.15 432.82,142.22 433.38,142.27 433.94,142.33 434.50,142.37 435.06,142.42 435.62,142.47 436.17,142.51 436.73,142.56 437.29,142.60 437.85,142.65 438.41,142.71 438.97,142.76 439.52,142.82 440.08,142.88 440.64,142.94 441.20,143.00 441.76,143.06 442.31,143.13 442.87,143.19 443.43,143.26 443.99,143.32 444.55,143.39 445.11,143.46 445.66,143.53 446.22,143.60 446.78,143.67 447.34,143.74 447.90,143.82 448.46,143.89 449.01,143.96 449.57,144.04 450.13,144.11 450.69,144.18 451.25,144.25 451.81,144.33 452.36,144.40 452.92,144.48 453.48,144.56 454.04,144.64 454.60,144.73 455.15,144.81 455.71,144.90 456.27,145.00 456.83,145.09 457.39,145.20 457.95,145.30 458.50,145.41 459.06,145.53 459.62,145.65 460.18,145.80 460.74,145.98 461.30,146.19 461.85,146.42 462.41,146.67 462.97,146.95 463.53,147.25 464.09,147.56 464.64,147.89 465.20,148.23 465.76,148.59 466.32,148.95 466.88,149.32 467.44,149.69 467.99,150.06 468.55,150.43 469.11,150.80 469.67,151.17 470.23,151.53 470.79,151.88 471.34,152.21 471.90,152.54 472.46,152.85 473.02,153.14 473.58,153.41 474.14,153.65 474.69,153.88 475.25,154.07 475.81,154.24 476.37,154.37 476.93,154.49 477.48,154.61 478.04,154.73 478.60,154.84 479.16,154.96 479.72,155.07 480.28,155.17 480.83,155.28 481.39,155.38 481.95,155.48 482.51,155.57 483.07,155.66 483.63,155.75 484.18,155.83 484.74,155.90 485.30,155.97 485.86,156.04 486.42,156.10 486.97,156.15 487.53,156.19 488.09,156.23 488.65,156.26 489.21,156.28 489.77,156.29 490.32,156.30 490.88,156.29 491.44,156.29 492.00,156.27 492.56,156.26 493.12,156.24 493.67,156.21 494.23,156.19 494.79,156.16 495.35,156.12 495.91,156.09 496.47,156.05 497.02,156.01 497.58,155.97 498.14,155.93 498.70,155.88 499.26,155.80 499.81,155.70 500.37,155.58 500.93,155.45 501.49,155.30 502.05,155.15 502.61,154.99 503.16,154.82 503.72,154.65 504.28,154.49 504.84,154.33 505.40,154.18 505.96,154.04 506.51,153.91 507.07,153.80 507.63,153.71 508.19,153.64 508.75,153.59 509.30,153.58 509.86,153.60 510.42,153.66 510.98,153.74 511.54,153.86 512.10,154.00 512.65,154.16 513.21,154.33 513.77,154.51 514.33,154.69 514.89,154.88 515.45,155.08 516.00,155.33 516.56,155.63 517.12,155.95 517.68,156.31 518.24,156.69 518.80,157.09 519.35,157.51 519.91,157.93 520.47,158.35 521.03,158.76 521.59,159.17 522.14,159.56 522.70,159.94 523.26,160.28 523.82,160.59 524.38,160.87 524.94,161.10 525.49,161.31 526.05,161.52 526.61,161.72 527.17,161.93 527.73,162.13 528.29,162.33 528.84,162.53 529.40,162.73 529.96,162.92 530.52,163.11 531.08,163.29 531.63,163.47 532.19,163.65 532.75,163.82 533.31,163.99 533.87,164.15 534.43,164.30 534.98,164.45 535.54,164.59 536.10,164.72 536.66,164.84 537.22,164.96 537.78,165.07 538.33,165.17 538.89,165.26 539.45,165.34 540.01,165.41 540.57,165.47 541.13,165.52 541.68,165.56 542.24,165.58 542.80,165.60" fill="none" stroke="#f27ccf" stroke-width="0.75" stroke-linejoin="round"/>
<polyline points="319.50,46.58 320.06,53.79 320.62,59.92 321.17,64.97 321.73,69.69 322.29,74.08 322.85,78.20 323.41,82.22 323.97,86.33 324.52,90.70 325.08,95.53 325.64,101.77 326.20,109.12 326.76,115.80 327.32,122.30 327.87,127.73 328.43,128.88 328.99,128.65 329.55,128.21 330.11,127.61 330.67,126.89 331.22,126.09 331.78,125.27 332.34,124.29 332.90,123.01 333.46,121.50 334.01,119.83 334.57,118.07 335.13,116.29 335.69,114.55 336.25,112.93 336.81,111.35 337.36,109.73 337.92,108.08 338.48,106.41 339.04,104.76 339.60,103.13 340.16,101.55 340.71,100.03 341.27,98.60 341.83,97.27 342.39,96.05 342.95,94.85 343.50,93.68 344.06,92.55 344.62,91.46 345.18,90.43 345.74,89.48 346.30,88.60 346.85,87.82 347.41,87.13 347.97,86.53 348.53,85.96 349.09,85.43 349.65,84.93 350.20,84.46 350.76,84.01 351.32,83.58 351.88,83.17 352.44,82.77 353.00,82.38 353.55,81.99 354.11,81.59 354.67,81.19 355.23,80.77 355.79,80.34 356.34,79.88 356.90,79.41 357.46,78.93 358.02,78.44 358.58,77.95 359.14,77.45 359.69,76.94 360.25,76.43 360.81,75.90 361.37,75.36 361.93,74.80 362.49,74.23 363.04,73.65 363.60,73.04 364.16,72.37 364.72,71.65 365.28,70.88 365.83,70.07 366.39,69.24 366.95,68.40 367.51,67.56 368.07,66.71 368.63,65.83 369.18,64.92 369.74,63.99 370.30,63.07 370.86,62.17 371.42,61.27 371.98,60.32 372.53,59.35 373.09,58.38 373.65,57.45 374.21,56.58 374.77,55.81 375.32,55.16 375.88,54.56 376.44,53.94 377.00,53.37 377.56,52.87 378.12,52.52 378.67,52.34 379.23,52.45 379.79,52.90 380.35,53.62 380.91,54.51 381.47,55.48 382.02,56.45 382.58,57.43 383.14,58.53 383.70,59.76 384.26,61.13 384.82,62.64 385.37,64.32 385.93,66.18 386.49,68.79 387.05,71.70 387.61,74.01 388.16,76.11 388.72,78.07 389.28,79.88 389.84,81.58 390.40,83.26 390.96,84.90 391.51,86.50 392.07,88.09 392.63,89.68 393.19,91.27 393.75,92.92 394.31,94.69 394.86,96.58 395.42,98.56 395.98,100.56 396.54,102.53 397.10,104.43 397.65,106.20 398.21,107.90 398.77,109.57 399.33,111.22 399.89,112.82 400.45,114.36 401.00,115.82 401.56,117.20 402.12,118.48 402.68,119.66 403.24,120.79 403.80,121.89 404.35,122.94 404.91,123.95 405.47,124.91 406.03,125.82 406.59,126.68 407.15,127.47 407.70,128.21 408.26,128.90 408.82,129.54 409.38,130.15 409.94,130.73 410.49,131.28 411.05,131.81 411.61,132.32 412.17,132.81 412.73,133.28 413.29,133.75 413.84,134.22 414.40,134.68 414.96,135.14 415.52,135.60 416.08,136.04 416.64,136.47 417.19,136.88 417.75,137.27 418.31,137.64 418.87,137.98 419.43,138.30 419.99,138.57 420.54,138.83 421.10,139.08 421.66,139.33 422.22,139.57 422.78,139.81 423.33,140.04 423.89,140.26 424.45,140.48 425.01,140.68 425.57,140.88 426.13,141.07 426.68,141.25 427.24,141.42 427.80,141.58 428.36,141.72 428.92,141.86 429.48,141.98 430.03,142.09 430.59,142.19 431.15,142.27 431.71,142.34 432.27,142.40 432.82,142.45 433.38,142.50 433.94,142.55 434.50,142.59 435.06,142.63 435.62,142.66 436.17,142.70 436.73,142.74 437.29,142.78 437.85,142.82 438.41,142.87 438.97,142.93 439.52,142.98 440.08,143.04 440.64,143.10 441.20,143.16 441.76,143.23 442.31,143.30 442.87,143.37 443.43,143.44 443.99,143.51 444.55,143.59 445.11,143.66 445.66,143.74 446.22,143.82 446.78,143.90 447.34,143.97 447.90,144.05 448.46,144.13 449.01,144.21 449.57,144.29 450.13,144.38 450.69,144.46 451.25,144.54 451.81,144.62 452.36,144.71 452.92,144.80 453.48,144.89 454.04,144.98 454.60,145.07 455.15,145.17 455.71,145.27 456.27,145.38 456.83,145.48 457.39,145.59 457.95,145.71 458.50,145.83 459.06,145.95 459.62,146.08 460.18,146.23 460.74,146.41 461.30,146.61 461.85,146.84 462.41,147.08 462.97,147.35 463.53,147.64 464.09,147.94 464.64,148.26 465.20,148.58 465.76,148.92 466.32,149.26 466.88,149.61 467.44,149.96 467.99,150.32 468.55,150.67 469.11,151.02 469.67,151.37 470.23,151.71 470.79,152.04 471.34,152.36 471.90,152.67 472.46,152.96 473.02,153.24 473.58,153.49 474.14,153.73 474.69,153.94 475.25,154.13 475.81,154.29 476.37,154.42 476.93,154.54 477.48,154.65 478.04,154.77 478.60,154.88 479.16,154.99 479.72,155.10 480.28,155.21 480.83,155.31 481.39,155.41 481.95,155.51 482.51,155.61 483.07,155.69 483.63,155.78 484.18,155.86 484.74,155.93 485.30,156.00 485.86,156.07 486.42,156.12 486.97,156.18 487.53,156.22 488.09,156.26 488.65,156.29 489.21,156.31 489.77,156.32 490.32,156.32 490.88,156.32 491.44,156.31 492.00,156.30 492.56,156.29 493.12,156.27 493.67,156.24 494.23,156.22 494.79,156.19 495.35,156.15 495.91,156.12 496.47,156.08 497.02,156.05 497.58,156.01 498.14,155.97 498.70,155.91 499.26,155.84 499.81,155.74 500.37,155.62 500.93,155.49 501.49,155.34 502.05,155.18 502.61,155.02 503.16,154.86 503.72,154.69 504.28,154.53 504.84,154.37 505.40,154.21 505.96,154.07 506.51,153.95 507.07,153.84 507.63,153.74 508.19,153.68 508.75,153.63 509.30,153.62 509.86,153.64 510.42,153.69 510.98,153.78 511.54,153.90 512.10,154.03 512.65,154.19 513.21,154.36 513.77,154.54 514.33,154.72 514.89,154.90 515.45,155.10 516.00,155.35 516.56,155.65 517.12,155.97 517.68,156.33 518.24,156.71 518.80,157.11 519.35,157.52 519.91,157.94 520.47,158.36 521.03,158.78 521.59,159.18 522.14,159.58 522.70,159.95 523.26,160.29 523.82,160.60 524.38,160.88 524.94,161.11 525.49,161.32 526.05,161.52 526.61,161.73 527.17,161.93 527.73,162.14 528.29,162.34 528.84,162.54 529.40,162.73 529.96,162.92 530.52,163.11 531.08,163.30 531.63,163.48 532.19,163.65 532.75,163.82 533.31,163.99 533.87,164.15 534.43,164.30 534.98,164.45 535.54,164.59 536.10,164.72 536.66,164.84 537.22,164.96 537.78,165.07 538.33,165.17 538.89,165.26 539.45,165.34 540.01,165.41 540.57,165.47 541.13,165.52 541.68,165.56 542.24,165.58 542.80,165.60" fill="none" stroke="#c9e35a" stroke-width="0.75" stroke-linejoin="round"/>
<polyline points="319.50,46.58 320.06,55.58 320.62,62.87 321.17,68.51 321.73,73.56 322.29,78.07 322.85,82.18 323.41,86.15 323.97,90.12 324.52,94.26 325.08,98.72 325.64,104.40 326.20,111.05 326.76,117.10 327.32,122.96 327.87,127.84 328.43,128.88 328.99,128.67 329.55,128.27 330.11,127.72 330.67,127.05 331.22,126.31 331.78,125.56 332.34,124.64 332.90,123.46 333.46,122.06 334.01,120.51 334.57,118.88 335.13,117.23 335.69,115.61 336.25,114.10 336.81,112.63 337.36,111.12 337.92,109.57 338.48,108.02 339.04,106.47 339.60,104.94 340.16,103.46 340.71,102.03 341.27,100.68 341.83,99.43 342.39,98.28 342.95,97.15 343.50,96.04 344.06,94.97 344.62,93.95 345.18,92.97 345.74,92.06 346.30,91.23 346.85,90.47 347.41,89.81 347.97,89.21 348.53,88.65 349.09,88.12 349.65,87.62 350.20,87.14 350.76,86.68 351.32,86.25 351.88,85.83 352.44,85.42 353.00,85.01 353.55,84.61 354.11,84.20 354.67,83.78 355.23,83.35 355.79,82.90 356.34,82.43 356.90,81.94 357.46,81.45 358.02,80.95 358.58,80.44 359.14,79.93 359.69,79.41 360.25,78.87 360.81,78.32 361.37,77.75 361.93,77.16 362.49,76.54 363.04,75.91 363.60,75.24 364.16,74.49 364.72,73.66 365.28,72.76 365.83,71.81 366.39,70.82 366.95,69.82 367.51,68.82 368.07,67.80 368.63,66.74 369.18,65.62 369.74,64.48 370.30,63.34 370.86,62.21 371.42,61.08 371.98,59.87 372.53,58.63 373.09,57.39 373.65,56.19 374.21,55.06 374.77,54.05 375.32,53.19 375.88,52.38 376.44,51.55 377.00,50.77 377.56,50.11 378.12,49.61 378.67,49.36 379.23,49.48 379.79,50.02 380.35,50.89 380.91,51.97 381.47,53.15 382.02,54.33 382.58,55.53 383.14,56.88 383.70,58.37 384.26,60.04 384.82,61.89 385.37,63.94 385.93,66.22 386.49,69.52 387.05,73.15 387.61,75.79 388.16,78.08 388.72,80.17 389.28,82.08 389.84,83.89 390.40,85.69 390.96,87.43 391.51,89.14 392.07,90.80 392.63,92.44 393.19,94.05 393.75,95.70 394.31,97.43 394.86,99.27 395.42,101.17 395.98,103.09 396.54,104.97 397.10,106.78 397.65,108.46 398.21,110.06 398.77,111.64 399.33,113.19 399.89,114.70 400.45,116.14 401.00,117.52 401.56,118.81 402.12,120.00 402.68,121.11 403.24,122.17 403.80,123.20 404.35,124.19 404.91,125.14 405.47,126.05 406.03,126.90 406.59,127.71 407.15,128.47 407.70,129.17 408.26,129.82 408.82,130.43 409.38,131.02 409.94,131.57 410.49,132.09 411.05,132.60 411.61,133.08 412.17,133.54 412.73,134.00 413.29,134.44 413.84,134.88 414.40,135.31 414.96,135.74 415.52,136.17 416.08,136.58 416.64,136.98 417.19,137.36 417.75,137.73 418.31,138.07 418.87,138.39 419.43,138.69 419.99,138.95 420.54,139.19 421.10,139.44 421.66,139.68 422.22,139.91 422.78,140.14 423.33,140.36 423.89,140.58 424.45,140.79 425.01,140.99 425.57,141.19 426.13,141.37 426.68,141.55 427.24,141.72 427.80,141.87 428.36,142.01 428.92,142.14 429.48,142.26 430.03,142.36 430.59,142.45 431.15,142.53 431.71,142.59 432.27,142.64 432.82,142.69 433.38,142.73 433.94,142.76 434.50,142.80 435.06,142.83 435.62,142.86 436.17,142.89 436.73,142.92 437.29,142.96 437.85,142.99 438.41,143.04 438.97,143.08 439.52,143.14 440.08,143.20 440.64,143.26 441.20,143.32 441.76,143.39 442.31,143.46 442.87,143.54 443.43,143.62 443.99,143.70 444.55,143.78 445.11,143.86 445.66,143.95 446.22,144.03 446.78,144.12 447.34,144.20 447.90,144.29 448.46,144.38 449.01,144.46 449.57,144.55 450.13,144.64 450.69,144.73 451.25,144.82 451.81,144.92 452.36,145.01 452.92,145.11 453.48,145.21 454.04,145.32 454.60,145.42 455.15,145.53 455.71,145.64 456.27,145.75 456.83,145.87 457.39,145.99 457.95,146.11 458.50,146.23 459.06,146.36 459.62,146.50 460.18,146.65 460.74,146.83 461.30,147.03 461.85,147.25 462.41,147.49 462.97,147.75 463.53,148.03 464.09,148.31 464.64,148.62 465.20,148.93 465.76,149.25 466.32,149.57 466.88,149.91 467.44,150.24 467.99,150.58 468.55,150.91 469.11,151.24 469.67,151.57 470.23,151.89 470.79,152.20 471.34,152.51 471.90,152.80 472.46,153.07 473.02,153.33 473.58,153.58 474.14,153.80 474.69,154.01 475.25,154.19 475.81,154.34 476.37,154.47 476.93,154.58 477.48,154.70 478.04,154.81 478.60,154.92 479.16,155.03 479.72,155.14 480.28,155.24 480.83,155.35 481.39,155.45 481.95,155.54 482.51,155.64 483.07,155.73 483.63,155.81 484.18,155.89 484.74,155.96 485.30,156.03 485.86,156.10 486.42,156.15 486.97,156.20 487.53,156.25 488.09,156.28 488.65,156.31 489.21,156.33 489.77,156.35 490.32,156.35 490.88,156.35 491.44,156.34 492.00,156.33 492.56,156.31 493.12,156.30 493.67,156.27 494.23,156.25 494.79,156.22 495.35,156.18 495.91,156.15 496.47,156.12 497.02,156.08 497.58,156.04 498.14,156.00 498.70,155.95 499.26,155.87 499.81,155.77 500.37,155.65 500.93,155.52 501.49,155.38 502.05,155.22 502.61,155.06 503.16,154.89 503.72,154.73 504.28,154.56 504.84,154.40 505.40,154.25 505.96,154.11 506.51,153.98 507.07,153.87 507.63,153.78 508.19,153.71 508.75,153.67 509.30,153.65 509.86,153.67 510.42,153.73 510.98,153.82 511.54,153.93 512.10,154.07 512.65,154.22 513.21,154.39 513.77,154.56 514.33,154.74 514.89,154.92 515.45,155.12 516.00,155.37 516.56,155.66 517.12,155.99 517.68,156.35 518.24,156.73 518.80,157.12 519.35,157.54 519.91,157.95 520.47,158.37 521.03,158.79 521.59,159.20 522.14,159.59 522.70,159.96 523.26,160.30 523.82,160.61 524.38,160.89 524.94,161.12 525.49,161.33 526.05,161.53 526.61,161.74 527.17,161.94 527.73,162.14 528.29,162.35 528.84,162.54 529.40,162.74 529.96,162.93 530.52,163.12 531.08,163.30 531.63,163.48 532.19,163.66 532.75,163.83 533.31,163.99 533.87,164.15 534.43,164.30 534.98,164.45 535.54,164.59 536.10,164.72 536.66,164.85 537.22,164.96 537.78,165.07 538.33,165.17 538.89,165.26 539.45,165.34 540.01,165.41 540.57,165.47 541.13,165.52 541.68,165.56 542.24,165.58 542.80,165.60" fill="none" stroke="#8a8ff0" stroke-width="0.75" stroke-linejoin="round"/>
<polyline points="319.50,46.58 320.06,57.35 320.62,65.80 321.17,72.01 321.73,77.39 322.29,82.01 322.85,86.12 323.41,90.03 323.97,93.87 324.52,97.77 325.08,101.88 325.64,107.00 326.20,112.97 326.76,118.38 327.32,123.61 327.87,127.95 328.43,128.88 328.99,128.70 329.55,128.33 330.11,127.82 330.67,127.21 331.22,126.53 331.78,125.83 332.34,124.99 332.90,123.90 333.46,122.61 334.01,121.19 334.57,119.68 335.13,118.16 335.69,116.66 336.25,115.26 336.81,113.90 337.36,112.49 337.92,111.05 338.48,109.60 339.04,108.16 339.60,106.73 340.16,105.34 340.71,104.01 341.27,102.75 341.83,101.57 342.39,100.48 342.95,99.42 343.50,98.38 344.06,97.37 344.62,96.41 345.18,95.49 345.74,94.62 346.30,93.82 346.85,93.10 347.41,92.45 347.97,91.86 348.53,91.31 349.09,90.78 349.65,90.28 350.20,89.79 350.76,89.33 351.32,88.88 351.88,88.45 352.44,88.03 353.00,87.62 353.55,87.20 354.11,86.78 354.67,86.35 355.23,85.90 355.79,85.43 356.34,84.94 356.90,84.44 357.46,83.94 358.02,83.43 358.58,82.91 359.14,82.38 359.69,81.84 360.25,81.28 360.81,80.71 361.37,80.11 361.93,79.48 362.49,78.83 363.04,78.15 363.60,77.42 364.16,76.58 364.72,75.64 365.28,74.62 365.83,73.52 366.39,72.39 366.95,71.23 367.51,70.07 368.07,68.88 368.63,67.63 369.18,66.31 369.74,64.97 370.30,63.61 370.86,62.26 371.42,60.89 371.98,59.43 372.53,57.92 373.09,56.41 373.65,54.94 374.21,53.56 374.77,52.31 375.32,51.24 375.88,50.23 376.44,49.19 377.00,48.21 377.56,47.37 378.12,46.74 378.67,46.42 379.23,46.54 379.79,47.17 380.35,48.19 380.91,49.46 381.47,50.85 382.02,52.24 382.58,53.66 383.14,55.24 383.70,57.00 384.26,58.96 384.82,61.14 385.37,63.57 385.93,66.27 386.49,70.25 387.05,74.58 387.61,77.55 388.16,80.03 388.72,82.24 389.28,84.25 389.84,86.18 390.40,88.08 390.96,89.94 391.51,91.74 392.07,93.48 392.63,95.17 393.19,96.79 393.75,98.44 394.31,100.14 394.86,101.93 395.42,103.76 395.98,105.59 396.54,107.38 397.10,109.09 397.65,110.69 398.21,112.20 398.77,113.69 399.33,115.14 399.89,116.55 400.45,117.91 401.00,119.19 401.56,120.40 402.12,121.51 402.68,122.54 403.24,123.54 403.80,124.50 404.35,125.43 404.91,126.32 405.47,127.17 406.03,127.97 406.59,128.73 407.15,129.45 407.70,130.11 408.26,130.73 408.82,131.31 409.38,131.87 409.94,132.39 410.49,132.89 411.05,133.37 411.61,133.83 412.17,134.27 412.73,134.70 413.29,135.12 413.84,135.53 414.40,135.94 414.96,136.34 415.52,136.73 416.08,137.11 416.64,137.49 417.19,137.84 417.75,138.18 418.31,138.50 418.87,138.80 419.43,139.07 419.99,139.32 420.54,139.55 421.10,139.79 421.66,140.02 422.22,140.24 422.78,140.47 423.33,140.68 423.89,140.90 424.45,141.10 425.01,141.30 425.57,141.49 426.13,141.67 426.68,141.85 427.24,142.01 427.80,142.16 428.36,142.30 428.92,142.42 429.48,142.53 430.03,142.63 430.59,142.71 431.15,142.78 431.71,142.83 432.27,142.88 432.82,142.92 433.38,142.95 433.94,142.98 434.50,143.01 435.06,143.03 435.62,143.05 436.17,143.08 436.73,143.10 437.29,143.13 437.85,143.16 438.41,143.20 438.97,143.24 439.52,143.29 440.08,143.35 440.64,143.41 441.20,143.48 441.76,143.55 442.31,143.63 442.87,143.71 443.43,143.79 443.99,143.88 444.55,143.97 445.11,144.06 445.66,144.15 446.22,144.24 446.78,144.34 447.34,144.43 447.90,144.52 448.46,144.61 449.01,144.71 449.57,144.80 450.13,144.90 450.69,145.00 451.25,145.10 451.81,145.21 452.36,145.32 452.92,145.42 453.48,145.53 454.04,145.65 454.60,145.76 455.15,145.88 455.71,146.00 456.27,146.12 456.83,146.25 457.39,146.38 457.95,146.51 458.50,146.64 459.06,146.77 459.62,146.91 460.18,147.07 460.74,147.24 461.30,147.44 461.85,147.66 462.41,147.89 462.97,148.14 463.53,148.41 464.09,148.68 464.64,148.97 465.20,149.27 465.76,149.57 466.32,149.88 466.88,150.20 467.44,150.51 467.99,150.83 468.55,151.14 469.11,151.46 469.67,151.77 470.23,152.07 470.79,152.36 471.34,152.65 471.90,152.92 472.46,153.18 473.02,153.43 473.58,153.66 474.14,153.87 474.69,154.07 475.25,154.24 475.81,154.39 476.37,154.52 476.93,154.63 477.48,154.74 478.04,154.85 478.60,154.96 479.16,155.07 479.72,155.18 480.28,155.28 480.83,155.38 481.39,155.48 481.95,155.58 482.51,155.67 483.07,155.76 483.63,155.84 484.18,155.92 484.74,155.99 485.30,156.06 485.86,156.12 486.42,156.18 486.97,156.23 487.53,156.28 488.09,156.31 488.65,156.34 489.21,156.36 489.77,156.38 490.32,156.38 490.88,156.38 491.44,156.37 492.00,156.36 492.56,156.34 493.12,156.32 493.67,156.30 494.23,156.28 494.79,156.25 495.35,156.22 495.91,156.18 496.47,156.15 497.02,156.11 497.58,156.07 498.14,156.03 498.70,155.98 499.26,155.90 499.81,155.80 500.37,155.69 500.93,155.56 501.49,155.41 502.05,155.26 502.61,155.09 503.16,154.93 503.72,154.76 504.28,154.60 504.84,154.44 505.40,154.29 505.96,154.15 506.51,154.02 507.07,153.91 507.63,153.82 508.19,153.75 508.75,153.71 509.30,153.69 509.86,153.71 510.42,153.77 510.98,153.85 511.54,153.96 512.10,154.10 512.65,154.25 513.21,154.42 513.77,154.59 514.33,154.77 514.89,154.95 515.45,155.15 516.00,155.39 516.56,155.68 517.12,156.01 517.68,156.36 518.24,156.74 518.80,157.14 519.35,157.55 519.91,157.97 520.47,158.39 521.03,158.80 521.59,159.21 522.14,159.60 522.70,159.97 523.26,160.31 523.82,160.62 524.38,160.90 524.94,161.13 525.49,161.34 526.05,161.54 526.61,161.75 527.17,161.95 527.73,162.15 528.29,162.35 528.84,162.55 529.40,162.74 529.96,162.94 530.52,163.12 531.08,163.31 531.63,163.49 532.19,163.66 532.75,163.83 533.31,164.00 533.87,164.15 534.43,164.31 534.98,164.45 535.54,164.59 536.10,164.72 536.66,164.85 537.22,164.96 537.78,165.07 538.33,165.17 538.89,165.26 539.45,165.34 540.01,165.41 540.57,165.47 541.13,165.52 541.68,165.56 542.24,165.58 542.80,165.60" fill="none" stroke="#5fe3e0" stroke-width="0.75" stroke-linejoin="round"/>
<polyline points="319.50,46.58 320.06,59.09 320.62,68.69 321.17,75.46 321.73,81.18 322.29,85.91 322.85,90.02 323.41,93.86 323.97,97.57 324.52,101.24 325.08,104.99 325.64,109.57 326.20,114.86 326.76,119.65 327.32,124.25 327.87,128.06 328.43,128.88 328.99,128.72 329.55,128.38 330.11,127.92 330.67,127.36 331.22,126.75 331.78,126.11 332.34,125.34 332.90,124.34 333.46,123.16 334.01,121.86 334.57,120.48 335.13,119.07 335.69,117.70 336.25,116.41 336.81,115.15 337.36,113.84 337.92,112.51 338.48,111.17 339.04,109.82 339.60,108.50 340.16,107.21 340.71,105.96 341.27,104.78 341.83,103.68 342.39,102.66 342.95,101.66 343.50,100.69 344.06,99.75 344.62,98.84 345.18,97.97 345.74,97.15 346.30,96.39 346.85,95.69 347.41,95.06 347.97,94.49 348.53,93.94 349.09,93.41 349.65,92.90 350.20,92.41 350.76,91.94 351.32,91.49 351.88,91.05 352.44,90.62 353.00,90.19 353.55,89.76 354.11,89.33 354.67,88.88 355.23,88.42 355.79,87.93 356.34,87.43 356.90,86.92 357.46,86.40 358.02,85.88 358.58,85.35 359.14,84.80 359.69,84.24 360.25,83.67 360.81,83.07 361.37,82.44 361.93,81.78 362.49,81.09 363.04,80.35 363.60,79.57 364.16,78.65 364.72,77.60 365.28,76.45 365.83,75.22 366.39,73.93 366.95,72.62 367.51,71.30 368.07,69.95 368.63,68.51 369.18,67.00 369.74,65.44 370.30,63.87 370.86,62.30 371.42,60.71 371.98,59.00 372.53,57.22 373.09,55.44 373.65,53.71 374.21,52.07 374.77,50.59 375.32,49.31 375.88,48.10 376.44,46.86 377.00,45.68 377.56,44.66 378.12,43.91 378.67,43.52 379.23,43.64 379.79,44.35 380.35,45.52 380.91,46.98 381.47,48.58 382.02,50.18 382.58,51.81 383.14,53.62 383.70,55.64 384.26,57.90 384.82,60.41 385.37,63.20 385.93,66.32 386.49,70.97 387.05,75.99 387.61,79.29 388.16,81.95 388.72,84.29 389.28,86.40 389.84,88.43 390.40,90.45 390.96,92.42 391.51,94.31 392.07,96.13 392.63,97.86 393.19,99.50 393.75,101.14 394.31,102.82 394.86,104.56 395.42,106.32 395.98,108.06 396.54,109.76 397.10,111.38 397.65,112.89 398.21,114.31 398.77,115.71 399.33,117.07 399.89,118.39 400.45,119.65 401.00,120.84 401.56,121.96 402.12,123.00 402.68,123.96 403.24,124.89 403.80,125.79 404.35,126.65 404.91,127.48 405.47,128.28 406.03,129.03 406.59,129.75 407.15,130.42 407.70,131.04 408.26,131.63 408.82,132.18 409.38,132.71 409.94,133.21 410.49,133.68 411.05,134.14 411.61,134.57 412.17,134.99 412.73,135.40 413.29,135.79 413.84,136.17 414.40,136.55 414.96,136.93 415.52,137.29 416.08,137.64 416.64,137.98 417.19,138.31 417.75,138.62 418.31,138.92 418.87,139.20 419.43,139.45 419.99,139.69 420.54,139.91 421.10,140.13 421.66,140.35 422.22,140.57 422.78,140.79 423.33,141.00 423.89,141.21 424.45,141.41 425.01,141.60 425.57,141.79 426.13,141.97 426.68,142.14 427.24,142.30 427.80,142.44 428.36,142.58 428.92,142.70 429.48,142.81 430.03,142.90 430.59,142.97 431.15,143.03 431.71,143.08 432.27,143.12 432.82,143.15 433.38,143.17 433.94,143.19 434.50,143.21 435.06,143.23 435.62,143.24 436.17,143.26 436.73,143.28 437.29,143.30 437.85,143.33 438.41,143.36 438.97,143.40 439.52,143.45 440.08,143.50 440.64,143.57 441.20,143.64 441.76,143.71 442.31,143.79 442.87,143.88 443.43,143.97 443.99,144.06 444.55,144.16 445.11,144.26 445.66,144.35 446.22,144.45 446.78,144.55 447.34,144.65 447.90,144.75 448.46,144.85 449.01,144.95 449.57,145.05 450.13,145.16 450.69,145.27 451.25,145.38 451.81,145.50 452.36,145.61 452.92,145.73 453.48,145.85 454.04,145.98 454.60,146.10 455.15,146.23 455.71,146.36 456.27,146.49 456.83,146.62 457.39,146.76 457.95,146.90 458.50,147.04 459.06,147.18 459.62,147.32 460.18,147.48 460.74,147.65 461.30,147.85 461.85,148.06 462.41,148.29 462.97,148.53 463.53,148.79 464.09,149.05 464.64,149.32 465.20,149.61 465.76,149.89 466.32,150.19 466.88,150.48 467.44,150.78 467.99,151.08 468.55,151.38 469.11,151.67 469.67,151.96 470.23,152.24 470.79,152.52 471.34,152.79 471.90,153.05 472.46,153.29 473.02,153.53 473.58,153.74 474.14,153.95 474.69,154.13 475.25,154.30 475.81,154.44 476.37,154.56 476.93,154.67 477.48,154.78 478.04,154.89 478.60,155.00 479.16,155.11 479.72,155.21 480.28,155.31 480.83,155.41 481.39,155.51 481.95,155.61 482.51,155.70 483.07,155.79 483.63,155.87 484.18,155.95 484.74,156.02 485.30,156.09 485.86,156.15 486.42,156.21 486.97,156.26 487.53,156.30 488.09,156.34 488.65,156.37 489.21,156.39 489.77,156.40 490.32,156.41 490.88,156.41 491.44,156.40 492.00,156.39 492.56,156.37 493.12,156.35 493.67,156.33 494.23,156.30 494.79,156.28 495.35,156.24 495.91,156.21 496.47,156.18 497.02,156.14 497.58,156.10 498.14,156.06 498.70,156.01 499.26,155.94 499.81,155.84 500.37,155.72 500.93,155.59 501.49,155.44 502.05,155.29 502.61,155.13 503.16,154.96 503.72,154.80 504.28,154.63 504.84,154.48 505.40,154.32 505.96,154.18 506.51,154.06 507.07,153.95 507.63,153.85 508.19,153.79 508.75,153.74 509.30,153.73 509.86,153.75 510.42,153.80 510.98,153.89 511.54,154.00 512.10,154.13 512.65,154.28 513.21,154.44 513.77,154.62 514.33,154.79 514.89,154.97 515.45,155.17 516.00,155.41 516.56,155.70 517.12,156.03 517.68,156.38 518.24,156.76 518.80,157.15 519.35,157.56 519.91,157.98 520.47,158.40 521.03,158.81 521.59,159.22 522.14,159.61 522.70,159.98 523.26,160.32 523.82,160.63 524.38,160.91 524.94,161.14 525.49,161.34 526.05,161.55 526.61,161.75 527.17,161.96 527.73,162.16 528.29,162.36 528.84,162.56 529.40,162.75 529.96,162.94 530.52,163.13 531.08,163.31 531.63,163.49 532.19,163.67 532.75,163.83 533.31,164.00 533.87,164.16 534.43,164.31 534.98,164.45 535.54,164.59 536.10,164.72 536.66,164.85 537.22,164.96 537.78,165.07 538.33,165.17 538.89,165.26 539.45,165.34 540.01,165.41 540.57,165.47 541.13,165.52 541.68,165.56 542.24,165.58 542.80,165.60" fill="none" stroke="#e35fc4" stroke-width="0.75" stroke-linejoin="round"/>
<polyline points="319.50,46.58 320.06,60.82 320.62,71.54 321.17,78.87 321.73,84.91 322.29,89.75 322.85,93.85 323.41,97.64 323.97,101.22 324.52,104.67 325.08,108.07 325.64,112.11 326.20,116.72 326.76,120.90 327.32,124.89 327.87,128.17 328.43,128.88 328.99,128.74 329.55,128.44 330.11,128.02 330.67,127.52 331.22,126.96 331.78,126.38 332.34,125.68 332.90,124.78 333.46,123.70 334.01,122.52 334.57,121.26 335.13,119.98 335.69,118.72 336.25,117.54 336.81,116.38 337.36,115.18 337.92,113.95 338.48,112.71 339.04,111.47 339.60,110.24 340.16,109.04 340.71,107.89 341.27,106.79 341.83,105.76 342.39,104.81 342.95,103.88 343.50,102.97 344.06,102.08 344.62,101.23 345.18,100.41 345.74,99.64 346.30,98.92 346.85,98.25 347.41,97.64 347.97,97.07 348.53,96.53 349.09,96.00 349.65,95.49 350.20,95.00 350.76,94.52 351.32,94.05 351.88,93.60 352.44,93.16 353.00,92.73 353.55,92.28 354.11,91.84 354.67,91.38 355.23,90.90 355.79,90.39 356.34,89.88 356.90,89.35 357.46,88.82 358.02,88.29 358.58,87.75 359.14,87.19 359.69,86.62 360.25,86.02 360.81,85.39 361.37,84.74 361.93,84.04 362.49,83.31 363.04,82.53 363.60,81.69 364.16,80.69 364.72,79.53 365.28,78.26 365.83,76.89 366.39,75.46 366.95,73.99 367.51,72.52 368.07,71.00 368.63,69.38 369.18,67.67 369.74,65.91 370.30,64.13 370.86,62.35 371.42,60.52 371.98,58.57 372.53,56.53 373.09,54.49 373.65,52.49 374.21,50.60 374.77,48.89 375.32,47.41 375.88,46.01 376.44,44.56 377.00,43.19 377.56,42.00 378.12,41.12 378.67,40.65 379.23,40.78 379.79,41.58 380.35,42.88 380.91,44.53 381.47,46.34 382.02,48.15 382.58,49.98 383.14,52.02 383.70,54.30 384.26,56.85 384.82,59.68 385.37,62.84 385.93,66.36 386.49,71.67 387.05,77.38 387.61,81.00 388.16,83.85 388.72,86.31 389.28,88.52 389.84,90.65 390.40,92.79 390.96,94.86 391.51,96.85 392.07,98.74 392.63,100.52 393.19,102.17 393.75,103.81 394.31,105.46 394.86,107.15 395.42,108.84 395.98,110.50 396.54,112.11 397.10,113.64 397.65,115.06 398.21,116.40 398.77,117.71 399.33,118.98 399.89,120.20 400.45,121.37 401.00,122.47 401.56,123.51 402.12,124.47 402.68,125.36 403.24,126.22 403.80,127.05 404.35,127.86 404.91,128.63 405.47,129.37 406.03,130.07 406.59,130.74 407.15,131.37 407.70,131.96 408.26,132.52 408.82,133.04 409.38,133.54 409.94,134.01 410.49,134.46 411.05,134.89 411.61,135.31 412.17,135.70 412.73,136.08 413.29,136.45 413.84,136.81 414.40,137.16 414.96,137.50 415.52,137.84 416.08,138.16 416.64,138.48 417.19,138.78 417.75,139.06 418.31,139.33 418.87,139.59 419.43,139.83 419.99,140.05 420.54,140.26 421.10,140.47 421.66,140.69 422.22,140.90 422.78,141.11 423.33,141.31 423.89,141.52 424.45,141.71 425.01,141.90 425.57,142.09 426.13,142.26 426.68,142.43 427.24,142.58 427.80,142.72 428.36,142.86 428.92,142.97 429.48,143.07 430.03,143.16 430.59,143.23 431.15,143.28 431.71,143.32 432.27,143.35 432.82,143.37 433.38,143.39 433.94,143.40 434.50,143.41 435.06,143.42 435.62,143.43 436.17,143.44 436.73,143.45 437.29,143.47 437.85,143.49 438.41,143.51 438.97,143.55 439.52,143.60 440.08,143.65 440.64,143.72 441.20,143.79 441.76,143.87 442.31,143.96 442.87,144.05 443.43,144.14 443.99,144.24 444.55,144.34 445.11,144.45 445.66,144.55 446.22,144.66 446.78,144.77 447.34,144.87 447.90,144.98 448.46,145.08 449.01,145.19 449.57,145.30 450.13,145.41 450.69,145.53 451.25,145.65 451.81,145.78 452.36,145.90 452.92,146.03 453.48,146.16 454.04,146.30 454.60,146.43 455.15,146.57 455.71,146.71 456.27,146.85 456.83,147.00 457.39,147.14 457.95,147.28 458.50,147.43 459.06,147.58 459.62,147.72 460.18,147.88 460.74,148.06 461.30,148.25 461.85,148.46 462.41,148.68 462.97,148.91 463.53,149.16 464.09,149.41 464.64,149.67 465.20,149.94 465.76,150.21 466.32,150.49 466.88,150.77 467.44,151.05 467.99,151.33 468.55,151.60 469.11,151.88 469.67,152.15 470.23,152.42 470.79,152.68 471.34,152.93 471.90,153.17 472.46,153.40 473.02,153.62 473.58,153.83 474.14,154.02 474.69,154.19 475.25,154.35 475.81,154.49 476.37,154.61 476.93,154.71 477.48,154.82 478.04,154.93 478.60,155.04 479.16,155.14 479.72,155.25 480.28,155.35 480.83,155.45 481.39,155.54 481.95,155.64 482.51,155.73 483.07,155.82 483.63,155.90 484.18,155.98 484.74,156.05 485.30,156.12 485.86,156.18 486.42,156.24 486.97,156.29 487.53,156.33 488.09,156.37 488.65,156.40 489.21,156.42 489.77,156.43 490.32,156.43 490.88,156.43 491.44,156.43 492.00,156.41 492.56,156.40 493.12,156.38 493.67,156.36 494.23,156.33 494.79,156.30 495.35,156.27 495.91,156.24 496.47,156.21 497.02,156.17 497.58,156.13 498.14,156.10 498.70,156.04 499.26,155.97 499.81,155.87 500.37,155.75 500.93,155.62 501.49,155.48 502.05,155.32 502.61,155.16 503.16,155.00 503.72,154.83 504.28,154.67 504.84,154.51 505.40,154.36 505.96,154.22 506.51,154.09 507.07,153.98 507.63,153.89 508.19,153.82 508.75,153.78 509.30,153.76 509.86,153.78 510.42,153.84 510.98,153.92 511.54,154.03 512.10,154.16 512.65,154.31 513.21,154.47 513.77,154.64 514.33,154.82 514.89,154.99 515.45,155.19 516.00,155.43 516.56,155.72 517.12,156.04 517.68,156.40 518.24,156.77 518.80,157.17 519.35,157.58 519.91,157.99 520.47,158.41 521.03,158.83 521.59,159.23 522.14,159.62 522.70,159.99 523.26,160.33 523.82,160.64 524.38,160.92 524.94,161.15 525.49,161.35 526.05,161.56 526.61,161.76 527.17,161.96 527.73,162.17 528.29,162.36 528.84,162.56 529.40,162.76 529.96,162.95 530.52,163.13 531.08,163.32 531.63,163.49 532.19,163.67 532.75,163.84 533.31,164.00 533.87,164.16 534.43,164.31 534.98,164.46 535.54,164.60 536.10,164.73 536.66,164.85 537.22,164.97 537.78,165.07 538.33,165.17 538.89,165.26 539.45,165.34 540.01,165.41 540.57,165.47 541.13,165.52 541.68,165.56 542.24,165.58 542.80,165.60" fill="none" stroke="#a6e36b" stroke-width="0.75" stroke-linejoin="round"/>
<polyline points="319.50,46.58 320.06,62.51 320.62,74.34 321.17,82.21 321.73,88.58 322.29,93.53 322.85,97.62 323.41,101.36 323.97,104.81 324.52,108.03 325.08,111.09 325.64,114.59 326.20,118.55 326.76,122.12 327.32,125.51 327.87,128.27 328.43,128.89 328.99,128.76 329.55,128.49 330.11,128.12 330.67,127.67 331.22,127.17 331.78,126.65 332.34,126.02 332.90,125.20 333.46,124.24 334.01,123.16 334.57,122.02 335.13,120.87 335.69,119.73 336.25,118.65 336.81,117.59 337.36,116.49 337.92,115.37 338.48,114.23 339.04,113.09 339.60,111.95 340.16,110.85 340.71,109.78 341.27,108.76 341.83,107.81 342.39,106.92 342.95,106.05 343.50,105.20 344.06,104.38 344.62,103.58 345.18,102.82 345.74,102.09 346.30,101.40 346.85,100.76 347.41,100.17 347.97,99.61 348.53,99.07 349.09,98.55 349.65,98.04 350.20,97.53 350.76,97.05 351.32,96.58 351.88,96.12 352.44,95.67 353.00,95.22 353.55,94.77 354.11,94.31 354.67,93.83 355.23,93.34 355.79,92.82 356.34,92.28 356.90,91.75 357.46,91.21 358.02,90.66 358.58,90.11 359.14,89.54 359.69,88.95 360.25,88.33 360.81,87.68 361.37,86.99 361.93,86.27 362.49,85.50 363.04,84.67 363.60,83.77 364.16,82.69 364.72,81.44 365.28,80.04 365.83,78.53 366.39,76.95 366.95,75.34 367.51,73.71 368.07,72.03 368.63,70.23 369.18,68.34 369.74,66.38 370.30,64.39 370.86,62.39 371.42,60.34 371.98,58.14 372.53,55.86 373.09,53.55 373.65,51.30 374.21,49.16 374.77,47.22 375.32,45.55 375.88,43.95 376.44,42.30 377.00,40.73 377.56,39.38 378.12,38.37 378.67,37.84 379.23,37.97 379.79,38.85 380.35,40.30 380.91,42.13 381.47,44.14 382.02,46.15 382.58,48.18 383.14,50.45 383.70,52.99 384.26,55.81 384.82,58.97 385.37,62.48 385.93,66.41 386.49,72.37 387.05,78.75 387.61,82.68 388.16,85.71 388.72,88.29 389.28,90.60 389.84,92.84 390.40,95.09 390.96,97.26 391.51,99.34 392.07,101.31 392.63,103.13 393.19,104.80 393.75,106.43 394.31,108.06 394.86,109.70 395.42,111.32 395.98,112.90 396.54,114.42 397.10,115.86 397.65,117.19 398.21,118.45 398.77,119.67 399.33,120.85 399.89,121.98 400.45,123.06 401.00,124.07 401.56,125.03 402.12,125.91 402.68,126.73 403.24,127.53 403.80,128.30 404.35,129.04 404.91,129.76 405.47,130.44 406.03,131.10 406.59,131.72 407.15,132.31 407.70,132.87 408.26,133.39 408.82,133.88 409.38,134.36 409.94,134.80 410.49,135.23 411.05,135.64 411.61,136.03 412.17,136.40 412.73,136.76 413.29,137.10 413.84,137.43 414.40,137.76 414.96,138.07 415.52,138.38 416.08,138.67 416.64,138.96 417.19,139.23 417.75,139.49 418.31,139.74 418.87,139.98 419.43,140.20 419.99,140.40 420.54,140.60 421.10,140.81 421.66,141.01 422.22,141.22 422.78,141.42 423.33,141.62 423.89,141.82 424.45,142.01 425.01,142.20 425.57,142.38 426.13,142.55 426.68,142.71 427.24,142.86 427.80,143.00 428.36,143.13 428.92,143.24 429.48,143.34 430.03,143.42 430.59,143.48 431.15,143.53 431.71,143.56 432.27,143.58 432.82,143.59 433.38,143.60 433.94,143.61 434.50,143.61 435.06,143.61 435.62,143.62 436.17,143.62 436.73,143.62 437.29,143.63 437.85,143.65 438.41,143.67 438.97,143.70 439.52,143.75 440.08,143.80 440.64,143.87 441.20,143.94 441.76,144.02 442.31,144.11 442.87,144.21 443.43,144.31 443.99,144.42 444.55,144.53 445.11,144.64 445.66,144.75 446.22,144.87 446.78,144.98 447.34,145.09 447.90,145.20 448.46,145.31 449.01,145.42 449.57,145.54 450.13,145.67 450.69,145.79 451.25,145.92 451.81,146.06 452.36,146.19 452.92,146.33 453.48,146.47 454.04,146.62 454.60,146.76 455.15,146.91 455.71,147.06 456.27,147.21 456.83,147.36 457.39,147.51 457.95,147.66 458.50,147.82 459.06,147.97 459.62,148.12 460.18,148.28 460.74,148.46 461.30,148.65 461.85,148.85 462.41,149.07 462.97,149.29 463.53,149.52 464.09,149.76 464.64,150.01 465.20,150.26 465.76,150.52 466.32,150.78 466.88,151.04 467.44,151.31 467.99,151.57 468.55,151.83 469.11,152.09 469.67,152.34 470.23,152.59 470.79,152.83 471.34,153.07 471.90,153.29 472.46,153.51 473.02,153.71 473.58,153.91 474.14,154.09 474.69,154.25 475.25,154.40 475.81,154.54 476.37,154.65 476.93,154.76 477.48,154.86 478.04,154.97 478.60,155.07 479.16,155.18 479.72,155.28 480.28,155.38 480.83,155.48 481.39,155.58 481.95,155.67 482.51,155.76 483.07,155.85 483.63,155.93 484.18,156.01 484.74,156.08 485.30,156.15 485.86,156.21 486.42,156.26 486.97,156.31 487.53,156.36 488.09,156.39 488.65,156.42 489.21,156.44 489.77,156.46 490.32,156.46 490.88,156.46 491.44,156.45 492.00,156.44 492.56,156.43 493.12,156.41 493.67,156.39 494.23,156.36 494.79,156.33 495.35,156.30 495.91,156.27 496.47,156.24 497.02,156.20 497.58,156.16 498.14,156.13 498.70,156.08 499.26,156.00 499.81,155.90 500.37,155.79 500.93,155.66 501.49,155.51 502.05,155.36 502.61,155.20 503.16,155.03 503.72,154.87 504.28,154.70 504.84,154.55 505.40,154.39 505.96,154.25 506.51,154.13 507.07,154.02 507.63,153.93 508.19,153.86 508.75,153.81 509.30,153.80 509.86,153.82 510.42,153.87 510.98,153.95 511.54,154.06 512.10,154.19 512.65,154.34 513.21,154.50 513.77,154.67 514.33,154.84 514.89,155.01 515.45,155.21 516.00,155.45 516.56,155.74 517.12,156.06 517.68,156.41 518.24,156.79 518.80,157.18 519.35,157.59 519.91,158.01 520.47,158.42 521.03,158.84 521.59,159.24 522.14,159.63 522.70,160.00 523.26,160.34 523.82,160.65 524.38,160.93 524.94,161.16 525.49,161.36 526.05,161.57 526.61,161.77 527.17,161.97 527.73,162.17 528.29,162.37 528.84,162.57 529.40,162.76 529.96,162.95 530.52,163.14 531.08,163.32 531.63,163.50 532.19,163.67 532.75,163.84 533.31,164.00 533.87,164.16 534.43,164.31 534.98,164.46 535.54,164.60 536.10,164.73 536.66,164.85 537.22,164.97 537.78,165.07 538.33,165.17 538.89,165.26 539.45,165.34 540.01,165.41 540.57,165.47 541.13,165.52 541.68,165.56 542.24,165.58 542.80,165.60" fill="none" stroke="#7cc2f5" stroke-width="0.75" stroke-linejoin="round"/>
<polyline points="319.50,46.58 320.06,64.17 320.62,77.08 321.17,85.49 321.73,92.17 322.29,97.23 322.85,101.32 323.41,105.01 323.97,108.33 324.52,111.33 325.08,114.05 325.64,117.03 326.20,120.35 326.76,123.33 327.32,126.12 327.87,128.37 328.43,128.89 328.99,128.78 329.55,128.55 330.11,128.22 330.67,127.81 331.22,127.37 331.78,126.91 332.34,126.35 332.90,125.62 333.46,124.76 334.01,123.80 334.57,122.78 335.13,121.74 335.69,120.71 336.25,119.74 336.81,118.78 337.36,117.78 337.92,116.76 338.48,115.72 339.04,114.67 339.60,113.63 340.16,112.62 340.71,111.63 341.27,110.69 341.83,109.81 342.39,108.99 342.95,108.18 343.50,107.40 344.06,106.63 344.62,105.89 345.18,105.18 345.74,104.49 346.30,103.84 346.85,103.23 347.41,102.65 347.97,102.10 348.53,101.57 349.09,101.04 349.65,100.53 350.20,100.02 350.76,99.53 351.32,99.05 351.88,98.58 352.44,98.12 353.00,97.66 353.55,97.20 354.11,96.72 354.67,96.24 355.23,95.73 355.79,95.19 356.34,94.64 356.90,94.10 357.46,93.55 358.02,92.99 358.58,92.42 359.14,91.84 359.69,91.23 360.25,90.59 360.81,89.92 361.37,89.21 361.93,88.45 362.49,87.64 363.04,86.77 363.60,85.82 364.16,84.66 364.72,83.30 365.28,81.78 365.83,80.14 366.39,78.42 366.95,76.65 367.51,74.88 368.07,73.04 368.63,71.07 369.18,68.99 369.74,66.83 370.30,64.64 370.86,62.43 371.42,60.17 371.98,57.73 372.53,55.19 373.09,52.63 373.65,50.12 374.21,47.75 374.77,45.59 375.32,43.72 375.88,41.93 376.44,40.09 377.00,38.33 377.56,36.81 378.12,35.67 378.67,35.08 379.23,35.21 379.79,36.17 380.35,37.76 380.91,39.77 381.47,41.98 382.02,44.19 382.58,46.42 383.14,48.92 383.70,51.70 384.26,54.80 384.82,58.27 385.37,62.13 385.93,66.45 386.49,73.05 387.05,80.09 387.61,84.33 388.16,87.54 388.72,90.24 389.28,92.64 389.84,94.98 390.40,97.34 390.96,99.62 391.51,101.79 392.07,103.82 392.63,105.69 393.19,107.38 393.75,109.00 394.31,110.60 394.86,112.19 395.42,113.74 395.98,115.25 396.54,116.68 397.10,118.03 397.65,119.28 398.21,120.46 398.77,121.59 399.33,122.68 399.89,123.72 400.45,124.71 401.00,125.64 401.56,126.52 402.12,127.33 402.68,128.08 403.24,128.81 403.80,129.52 404.35,130.20 404.91,130.86 405.47,131.50 406.03,132.10 406.59,132.68 407.15,133.23 407.70,133.75 408.26,134.24 408.82,134.71 409.38,135.15 409.94,135.58 410.49,135.98 411.05,136.37 411.61,136.73 412.17,137.08 412.73,137.42 413.29,137.74 413.84,138.05 414.40,138.34 414.96,138.63 415.52,138.91 416.08,139.18 416.64,139.43 417.19,139.68 417.75,139.92 418.31,140.14 418.87,140.36 419.43,140.56 419.99,140.75 420.54,140.94 421.10,141.14 421.66,141.33 422.22,141.53 422.78,141.73 423.33,141.92 423.89,142.11 424.45,142.30 425.01,142.48 425.57,142.66 426.13,142.83 426.68,142.99 427.24,143.14 427.80,143.27 428.36,143.39 428.92,143.50 429.48,143.60 430.03,143.67 430.59,143.73 431.15,143.77 431.71,143.79 432.27,143.80 432.82,143.81 433.38,143.81 433.94,143.81 434.50,143.81 435.06,143.80 435.62,143.80 436.17,143.79 436.73,143.79 437.29,143.80 437.85,143.80 438.41,143.82 438.97,143.85 439.52,143.89 440.08,143.95 440.64,144.01 441.20,144.09 441.76,144.18 442.31,144.27 442.87,144.37 443.43,144.48 443.99,144.59 444.55,144.71 445.11,144.82 445.66,144.94 446.22,145.06 446.78,145.18 447.34,145.30 447.90,145.42 448.46,145.53 449.01,145.65 449.57,145.78 450.13,145.91 450.69,146.05 451.25,146.18 451.81,146.33 452.36,146.47 452.92,146.62 453.48,146.77 454.04,146.93 454.60,147.08 455.15,147.24 455.71,147.40 456.27,147.56 456.83,147.72 457.39,147.88 457.95,148.04 458.50,148.19 459.06,148.35 459.62,148.51 460.18,148.67 460.74,148.85 461.30,149.04 461.85,149.24 462.41,149.44 462.97,149.66 463.53,149.88 464.09,150.11 464.64,150.35 465.20,150.58 465.76,150.83 466.32,151.07 466.88,151.32 467.44,151.56 467.99,151.81 468.55,152.05 469.11,152.29 469.67,152.52 470.23,152.76 470.79,152.98 471.34,153.20 471.90,153.41 472.46,153.61 473.02,153.80 473.58,153.99 474.14,154.16 474.69,154.31 475.25,154.45 475.81,154.58 476.37,154.69 476.93,154.80 477.48,154.90 478.04,155.01 478.60,155.11 479.16,155.21 479.72,155.31 480.28,155.41 480.83,155.51 481.39,155.61 481.95,155.70 482.51,155.79 483.07,155.87 483.63,155.96 484.18,156.03 484.74,156.11 485.30,156.17 485.86,156.23 486.42,156.29 486.97,156.34 487.53,156.38 488.09,156.42 488.65,156.45 489.21,156.47 489.77,156.48 490.32,156.49 490.88,156.49 491.44,156.48 492.00,156.47 492.56,156.45 493.12,156.43 493.67,156.41 494.23,156.39 494.79,156.36 495.35,156.33 495.91,156.30 496.47,156.27 497.02,156.23 497.58,156.19 498.14,156.16 498.70,156.11 499.26,156.03 499.81,155.93 500.37,155.82 500.93,155.69 501.49,155.54 502.05,155.39 502.61,155.23 503.16,155.07 503.72,154.90 504.28,154.74 504.84,154.58 505.40,154.43 505.96,154.29 506.51,154.16 507.07,154.05 507.63,153.96 508.19,153.89 508.75,153.85 509.30,153.83 509.86,153.85 510.42,153.91 510.98,153.99 511.54,154.09 512.10,154.22 512.65,154.37 513.21,154.53 513.77,154.69 514.33,154.86 514.89,155.04 515.45,155.23 516.00,155.47 516.56,155.76 517.12,156.08 517.68,156.43 518.24,156.80 518.80,157.20 519.35,157.60 519.91,158.02 520.47,158.44 521.03,158.85 521.59,159.25 522.14,159.64 522.70,160.01 523.26,160.35 523.82,160.66 524.38,160.94 524.94,161.16 525.49,161.37 526.05,161.57 526.61,161.78 527.17,161.98 527.73,162.18 528.29,162.38 528.84,162.57 529.40,162.77 529.96,162.96 530.52,163.14 531.08,163.32 531.63,163.50 532.19,163.68 532.75,163.84 533.31,164.01 533.87,164.16 534.43,164.32 534.98,164.46 535.54,164.60 536.10,164.73 536.66,164.85 537.22,164.97 537.78,165.07 538.33,165.17 538.89,165.26 539.45,165.34 540.01,165.41 540.57,165.47 541.13,165.52 541.68,165.56 542.24,165.58 542.80,165.60" fill="none" stroke="#b58cf2" stroke-width="0.75" stroke-linejoin="round"/>
<polyline points="319.50,46.58 320.06,65.78 320.62,79.76 321.17,88.69 321.73,95.68 322.29,100.85 322.85,104.92 323.41,108.56 323.97,111.76 324.52,114.55 325.08,116.94 325.64,119.41 326.20,122.10 326.76,124.50 327.32,126.72 327.87,128.47 328.43,128.89 328.99,128.80 329.55,128.60 330.11,128.31 330.67,127.96 331.22,127.57 331.78,127.16 332.34,126.67 332.90,126.03 333.46,125.26 334.01,124.42 334.57,123.51 335.13,122.59 335.69,121.67 336.25,120.80 336.81,119.94 337.36,119.04 337.92,118.11 338.48,117.17 339.04,116.22 339.60,115.27 340.16,114.34 340.71,113.44 341.27,112.58 341.83,111.77 342.39,111.00 342.95,110.26 343.50,109.54 344.06,108.83 344.62,108.14 345.18,107.48 345.74,106.83 346.30,106.22 346.85,105.63 347.41,105.07 347.97,104.53 348.53,104.00 349.09,103.48 349.65,102.96 350.20,102.45 350.76,101.95 351.32,101.46 351.88,100.99 352.44,100.52 353.00,100.05 353.55,99.57 354.11,99.08 354.67,98.58 355.23,98.06 355.79,97.51 356.34,96.95 356.90,96.39 357.46,95.83 358.02,95.26 358.58,94.68 359.14,94.08 359.69,93.46 360.25,92.80 360.81,92.11 361.37,91.37 361.93,90.58 362.49,89.73 363.04,88.82 363.60,87.81 364.16,86.57 364.72,85.11 365.28,83.48 365.83,81.71 366.39,79.85 366.95,77.94 367.51,76.02 368.07,74.03 368.63,71.88 369.18,69.62 369.74,67.27 370.30,64.88 370.86,62.47 371.42,60.00 371.98,57.33 372.53,54.54 373.09,51.73 373.65,48.98 374.21,46.37 374.77,44.00 375.32,41.93 375.88,39.96 376.44,37.93 377.00,35.98 377.56,34.30 378.12,33.05 378.67,32.39 379.23,32.52 379.79,33.56 380.35,35.29 380.91,37.47 381.47,39.88 382.02,42.27 382.58,44.71 383.14,47.42 383.70,50.44 384.26,53.82 384.82,57.59 385.37,61.79 385.93,66.49 386.49,73.71 387.05,81.40 387.61,85.94 388.16,89.32 388.72,92.14 389.28,94.64 389.84,97.07 390.40,99.53 390.96,101.91 391.51,104.17 392.07,106.27 392.63,108.18 393.19,109.89 393.75,111.51 394.31,113.09 394.86,114.62 395.42,116.11 395.98,117.54 396.54,118.89 397.10,120.16 397.65,121.32 398.21,122.41 398.77,123.46 399.33,124.47 399.89,125.42 400.45,126.33 401.00,127.18 401.56,127.97 402.12,128.71 402.68,129.39 403.24,130.06 403.80,130.71 404.35,131.33 404.91,131.94 405.47,132.52 406.03,133.08 406.59,133.62 407.15,134.13 407.70,134.61 408.26,135.08 408.82,135.52 409.38,135.93 409.94,136.33 410.49,136.71 411.05,137.08 411.61,137.42 412.17,137.75 412.73,138.06 413.29,138.36 413.84,138.64 414.40,138.91 414.96,139.18 415.52,139.43 416.08,139.66 416.64,139.89 417.19,140.12 417.75,140.33 418.31,140.53 418.87,140.72 419.43,140.91 419.99,141.09 420.54,141.27 421.10,141.46 421.66,141.64 422.22,141.83 422.78,142.02 423.33,142.21 423.89,142.40 424.45,142.59 425.01,142.77 425.57,142.94 426.13,143.10 426.68,143.26 427.24,143.40 427.80,143.54 428.36,143.66 428.92,143.76 429.48,143.85 430.03,143.92 430.59,143.97 431.15,144.00 431.71,144.01 432.27,144.02 432.82,144.02 433.38,144.02 433.94,144.01 434.50,144.00 435.06,143.98 435.62,143.97 436.17,143.96 436.73,143.96 437.29,143.95 437.85,143.96 438.41,143.97 438.97,143.99 439.52,144.03 440.08,144.09 440.64,144.15 441.20,144.23 441.76,144.32 442.31,144.42 442.87,144.53 443.43,144.64 443.99,144.76 444.55,144.88 445.11,145.01 445.66,145.13 446.22,145.26 446.78,145.39 447.34,145.51 447.90,145.63 448.46,145.75 449.01,145.88 449.57,146.01 450.13,146.15 450.69,146.29 451.25,146.44 451.81,146.59 452.36,146.75 452.92,146.91 453.48,147.07 454.04,147.23 454.60,147.40 455.15,147.56 455.71,147.73 456.27,147.90 456.83,148.07 457.39,148.23 457.95,148.40 458.50,148.56 459.06,148.73 459.62,148.89 460.18,149.05 460.74,149.23 461.30,149.42 461.85,149.61 462.41,149.81 462.97,150.02 463.53,150.23 464.09,150.45 464.64,150.67 465.20,150.90 465.76,151.12 466.32,151.35 466.88,151.58 467.44,151.81 467.99,152.04 468.55,152.26 469.11,152.49 469.67,152.70 470.23,152.92 470.79,153.13 471.34,153.33 471.90,153.53 472.46,153.71 473.02,153.89 473.58,154.06 474.14,154.22 474.69,154.37 475.25,154.51 475.81,154.63 476.37,154.74 476.93,154.84 477.48,154.94 478.04,155.04 478.60,155.15 479.16,155.25 479.72,155.35 480.28,155.45 480.83,155.54 481.39,155.64 481.95,155.73 482.51,155.82 483.07,155.90 483.63,155.98 484.18,156.06 484.74,156.13 485.30,156.20 485.86,156.26 486.42,156.32 486.97,156.37 487.53,156.41 488.09,156.45 488.65,156.47 489.21,156.50 489.77,156.51 490.32,156.51 490.88,156.51 491.44,156.50 492.00,156.49 492.56,156.48 493.12,156.46 493.67,156.44 494.23,156.42 494.79,156.39 495.35,156.36 495.91,156.33 496.47,156.29 497.02,156.26 497.58,156.22 498.14,156.19 498.70,156.14 499.26,156.06 499.81,155.97 500.37,155.85 500.93,155.72 501.49,155.58 502.05,155.42 502.61,155.26 503.16,155.10 503.72,154.93 504.28,154.77 504.84,154.61 505.40,154.46 505.96,154.32 506.51,154.20 507.07,154.09 507.63,154.00 508.19,153.93 508.75,153.88 509.30,153.87 509.86,153.89 510.42,153.94 510.98,154.02 511.54,154.13 512.10,154.25 512.65,154.40 513.21,154.55 513.77,154.72 514.33,154.89 514.89,155.06 515.45,155.25 516.00,155.49 516.56,155.77 517.12,156.09 517.68,156.44 518.24,156.82 518.80,157.21 519.35,157.62 519.91,158.03 520.47,158.45 521.03,158.86 521.59,159.27 522.14,159.65 522.70,160.02 523.26,160.36 523.82,160.67 524.38,160.94 524.94,161.17 525.49,161.38 526.05,161.58 526.61,161.78 527.17,161.99 527.73,162.19 528.29,162.38 528.84,162.58 529.40,162.77 529.96,162.96 530.52,163.15 531.08,163.33 531.63,163.51 532.19,163.68 532.75,163.85 533.31,164.01 533.87,164.17 534.43,164.32 534.98,164.46 535.54,164.60 536.10,164.73 536.66,164.85 537.22,164.97 537.78,165.07 538.33,165.17 538.89,165.26 539.45,165.34 540.01,165.41 540.57,165.47 541.13,165.52 541.68,165.56 542.24,165.58 542.80,165.60" fill="none" stroke="#f08ee6" stroke-width="0.75" stroke-linejoin="round"/>
<polyline points="319.50,46.58 320.06,67.35 320.62,82.35 321.17,91.79 321.73,99.06 322.29,104.34 322.85,108.41 323.41,111.99 323.97,115.08 324.52,117.66 325.08,119.73 325.64,121.71 326.20,123.79 326.76,125.64 327.32,127.29 327.87,128.57 328.43,128.89 328.99,128.82 329.55,128.65 330.11,128.40 330.67,128.10 331.22,127.76 331.78,127.41 332.34,126.98 332.90,126.42 333.46,125.76 334.01,125.01 334.57,124.22 335.13,123.41 335.69,122.60 336.25,121.83 336.81,121.06 337.36,120.25 337.92,119.42 338.48,118.57 339.04,117.71 339.60,116.85 340.16,116.01 340.71,115.19 341.27,114.40 341.83,113.66 342.39,112.95 342.95,112.27 343.50,111.60 344.06,110.95 344.62,110.32 345.18,109.70 345.74,109.10 346.30,108.51 346.85,107.95 347.41,107.41 347.97,106.88 348.53,106.35 349.09,105.83 349.65,105.31 350.20,104.80 350.76,104.29 351.32,103.80 351.88,103.31 352.44,102.83 353.00,102.35 353.55,101.86 354.11,101.36 354.67,100.85 355.23,100.31 355.79,99.75 356.34,99.17 356.90,98.60 357.46,98.03 358.02,97.45 358.58,96.86 359.14,96.25 359.69,95.61 360.25,94.94 360.81,94.22 361.37,93.46 361.93,92.64 362.49,91.75 363.04,90.80 363.60,89.74 364.16,88.42 364.72,86.87 365.28,85.13 365.83,83.23 366.39,81.24 366.95,79.19 367.51,77.12 368.07,74.98 368.63,72.67 369.18,70.23 369.74,67.70 370.30,65.11 370.86,62.51 371.42,59.83 371.98,56.94 372.53,53.92 373.09,50.87 373.65,47.88 374.21,45.04 374.77,42.46 375.32,40.21 375.88,38.06 376.44,35.84 377.00,33.72 377.56,31.88 378.12,30.51 378.67,29.79 379.23,29.93 379.79,31.04 380.35,32.90 380.91,35.25 381.47,37.84 382.02,40.43 382.58,43.05 383.14,45.97 383.70,49.23 384.26,52.86 384.82,56.93 385.37,61.46 385.93,66.53 386.49,74.36 387.05,82.66 387.61,87.49 388.16,91.04 388.72,93.97 389.28,96.56 389.84,99.09 390.40,101.66 390.96,104.13 391.51,106.48 392.07,108.65 392.63,110.60 393.19,112.31 393.75,113.93 394.31,115.49 394.86,116.98 395.42,118.40 395.98,119.75 396.54,121.02 397.10,122.21 397.65,123.29 398.21,124.31 398.77,125.27 399.33,126.19 399.89,127.06 400.45,127.89 401.00,128.66 401.56,129.37 402.12,130.04 402.68,130.66 403.24,131.27 403.80,131.85 404.35,132.43 404.91,132.98 405.47,133.51 406.03,134.03 406.59,134.52 407.15,135.00 407.70,135.45 408.26,135.88 408.82,136.29 409.38,136.69 409.94,137.06 410.49,137.42 411.05,137.76 411.61,138.09 412.17,138.39 412.73,138.68 413.29,138.96 413.84,139.22 414.40,139.47 414.96,139.70 415.52,139.92 416.08,140.14 416.64,140.34 417.19,140.54 417.75,140.72 418.31,140.91 418.87,141.08 419.43,141.25 419.99,141.42 420.54,141.59 421.10,141.77 421.66,141.95 422.22,142.13 422.78,142.31 423.33,142.50 423.89,142.68 424.45,142.86 425.01,143.04 425.57,143.21 426.13,143.37 426.68,143.52 427.24,143.66 427.80,143.79 428.36,143.91 428.92,144.01 429.48,144.09 430.03,144.16 430.59,144.20 431.15,144.22 431.71,144.23 432.27,144.23 432.82,144.23 433.38,144.21 433.94,144.20 434.50,144.18 435.06,144.16 435.62,144.14 436.17,144.13 436.73,144.11 437.29,144.11 437.85,144.10 438.41,144.11 438.97,144.13 439.52,144.17 440.08,144.22 440.64,144.29 441.20,144.37 441.76,144.47 442.31,144.57 442.87,144.68 443.43,144.80 443.99,144.92 444.55,145.05 445.11,145.18 445.66,145.31 446.22,145.45 446.78,145.58 447.34,145.71 447.90,145.83 448.46,145.96 449.01,146.09 449.57,146.24 450.13,146.38 450.69,146.53 451.25,146.69 451.81,146.85 452.36,147.01 452.92,147.18 453.48,147.35 454.04,147.53 454.60,147.70 455.15,147.87 455.71,148.05 456.27,148.23 456.83,148.40 457.39,148.58 457.95,148.75 458.50,148.92 459.06,149.09 459.62,149.25 460.18,149.42 460.74,149.60 461.30,149.78 461.85,149.97 462.41,150.17 462.97,150.37 463.53,150.57 464.09,150.78 464.64,150.99 465.20,151.20 465.76,151.41 466.32,151.62 466.88,151.84 467.44,152.05 467.99,152.26 468.55,152.47 469.11,152.68 469.67,152.88 470.23,153.08 470.79,153.27 471.34,153.46 471.90,153.64 472.46,153.81 473.02,153.98 473.58,154.14 474.14,154.29 474.69,154.43 475.25,154.55 475.81,154.67 476.37,154.78 476.93,154.88 477.48,154.98 478.04,155.08 478.60,155.18 479.16,155.28 479.72,155.38 480.28,155.48 480.83,155.57 481.39,155.67 481.95,155.76 482.51,155.84 483.07,155.93 483.63,156.01 484.18,156.09 484.74,156.16 485.30,156.22 485.86,156.29 486.42,156.34 486.97,156.39 487.53,156.43 488.09,156.47 488.65,156.50 489.21,156.52 489.77,156.53 490.32,156.54 490.88,156.54 491.44,156.53 492.00,156.52 492.56,156.50 493.12,156.49 493.67,156.47 494.23,156.44 494.79,156.41 495.35,156.39 495.91,156.35 496.47,156.32 497.02,156.29 497.58,156.25 498.14,156.22 498.70,156.17 499.26,156.09 499.81,156.00 500.37,155.88 500.93,155.75 501.49,155.61 502.05,155.45 502.61,155.29 503.16,155.13 503.72,154.97 504.28,154.80 504.84,154.65 505.40,154.49 505.96,154.35 506.51,154.23 507.07,154.12 507.63,154.03 508.19,153.96 508.75,153.92 509.30,153.90 509.86,153.92 510.42,153.97 510.98,154.05 511.54,154.15 512.10,154.28 512.65,154.42 513.21,154.58 513.77,154.74 514.33,154.91 514.89,155.08 515.45,155.27 516.00,155.51 516.56,155.79 517.12,156.11 517.68,156.46 518.24,156.83 518.80,157.22 519.35,157.63 519.91,158.04 520.47,158.46 521.03,158.87 521.59,159.28 522.14,159.66 522.70,160.03 523.26,160.37 523.82,160.68 524.38,160.95 524.94,161.18 525.49,161.39 526.05,161.59 526.61,161.79 527.17,161.99 527.73,162.19 528.29,162.39 528.84,162.58 529.40,162.78 529.96,162.97 530.52,163.15 531.08,163.33 531.63,163.51 532.19,163.68 532.75,163.85 533.31,164.01 533.87,164.17 534.43,164.32 534.98,164.46 535.54,164.60 536.10,164.73 536.66,164.85 537.22,164.97 537.78,165.08 538.33,165.17 538.89,165.26 539.45,165.34 540.01,165.41 540.57,165.47 541.13,165.52 541.68,165.56 542.24,165.58 542.80,165.60" fill="none" stroke="#5fd67c" stroke-width="0.75" stroke-linejoin="round"/>
<polyline points="319.50,46.58 320.06,68.83 320.62,84.80 321.17,94.72 321.73,102.28 322.29,107.65 322.85,111.72 323.41,115.25 323.97,118.22 324.52,120.61 325.08,122.38 325.64,123.90 326.20,125.40 326.76,126.71 327.32,127.84 327.87,128.66 328.43,128.90 328.99,128.84 329.55,128.70 330.11,128.49 330.67,128.23 331.22,127.94 331.78,127.64 332.34,127.28 332.90,126.80 333.46,126.22 334.01,125.58 334.57,124.89 335.13,124.19 335.69,123.48 336.25,122.80 336.81,122.12 337.36,121.40 337.92,120.66 338.48,119.90 339.04,119.13 339.60,118.36 340.16,117.59 340.71,116.85 341.27,116.13 341.83,115.45 342.39,114.81 342.95,114.18 343.50,113.57 344.06,112.97 344.62,112.38 345.18,111.81 345.74,111.24 346.30,110.69 346.85,110.16 347.41,109.63 347.97,109.10 348.53,108.58 349.09,108.07 349.65,107.55 350.20,107.02 350.76,106.51 351.32,106.01 351.88,105.52 352.44,105.03 353.00,104.54 353.55,104.04 354.11,103.53 354.67,103.00 355.23,102.45 355.79,101.87 356.34,101.28 356.90,100.70 357.46,100.12 358.02,99.53 358.58,98.93 359.14,98.31 359.69,97.65 360.25,96.96 360.81,96.23 361.37,95.44 361.93,94.59 362.49,93.67 363.04,92.67 363.60,91.56 364.16,90.18 364.72,88.54 365.28,86.68 365.83,84.67 366.39,82.55 366.95,80.37 367.51,78.17 368.07,75.88 368.63,73.42 369.18,70.81 369.74,68.11 370.30,65.34 370.86,62.55 371.42,59.67 371.98,56.57 372.53,53.32 373.09,50.05 373.65,46.83 374.21,43.78 374.77,40.99 375.32,38.57 375.88,36.25 376.44,33.85 377.00,31.57 377.56,29.58 378.12,28.10 378.67,27.32 379.23,27.46 379.79,28.64 380.35,30.63 380.91,33.14 381.47,35.91 382.02,38.67 382.58,41.48 383.14,44.59 383.70,48.07 384.26,51.96 384.82,56.30 385.37,61.15 385.93,66.57 386.49,74.96 387.05,83.86 387.61,88.97 388.16,92.67 388.72,95.71 389.28,98.38 389.84,101.00 390.40,103.67 390.96,106.24 391.51,108.66 392.07,110.90 392.63,112.89 393.19,114.62 393.75,116.23 394.31,117.76 394.86,119.21 395.42,120.57 395.98,121.85 396.54,123.05 397.10,124.15 397.65,125.16 398.21,126.10 398.77,126.99 399.33,127.83 399.89,128.62 400.45,129.37 401.00,130.06 401.56,130.71 402.12,131.31 402.68,131.87 403.24,132.41 403.80,132.95 404.35,133.46 404.91,133.97 405.47,134.46 406.03,134.93 406.59,135.38 407.15,135.82 407.70,136.24 408.26,136.65 408.82,137.03 409.38,137.40 409.94,137.76 410.49,138.09 411.05,138.41 411.61,138.72 412.17,139.01 412.73,139.28 413.29,139.53 413.84,139.77 414.40,139.99 414.96,140.20 415.52,140.40 416.08,140.59 416.64,140.77 417.19,140.94 417.75,141.10 418.31,141.26 418.87,141.42 419.43,141.58 419.99,141.73 420.54,141.89 421.10,142.06 421.66,142.23 422.22,142.41 422.78,142.59 423.33,142.77 423.89,142.95 424.45,143.12 425.01,143.29 425.57,143.46 426.13,143.62 426.68,143.77 427.24,143.91 427.80,144.03 428.36,144.15 428.92,144.24 429.48,144.32 430.03,144.38 430.59,144.42 431.15,144.44 431.71,144.44 432.27,144.43 432.82,144.42 433.38,144.40 433.94,144.38 434.50,144.36 435.06,144.33 435.62,144.31 436.17,144.28 436.73,144.27 437.29,144.25 437.85,144.24 438.41,144.25 438.97,144.26 439.52,144.30 440.08,144.35 440.64,144.42 441.20,144.51 441.76,144.60 442.31,144.71 442.87,144.82 443.43,144.95 443.99,145.08 444.55,145.21 445.11,145.35 445.66,145.49 446.22,145.63 446.78,145.76 447.34,145.90 447.90,146.03 448.46,146.16 449.01,146.30 449.57,146.45 450.13,146.60 450.69,146.76 451.25,146.92 451.81,147.09 452.36,147.27 452.92,147.44 453.48,147.62 454.04,147.80 454.60,147.99 455.15,148.17 455.71,148.35 456.27,148.54 456.83,148.72 457.39,148.90 457.95,149.08 458.50,149.26 459.06,149.43 459.62,149.60 460.18,149.77 460.74,149.95 461.30,150.13 461.85,150.32 462.41,150.50 462.97,150.70 463.53,150.89 464.09,151.09 464.64,151.29 465.20,151.49 465.76,151.68 466.32,151.88 466.88,152.08 467.44,152.28 467.99,152.47 468.55,152.67 469.11,152.86 469.67,153.04 470.23,153.23 470.79,153.40 471.34,153.58 471.90,153.74 472.46,153.91 473.02,154.06 473.58,154.21 474.14,154.35 474.69,154.48 475.25,154.60 475.81,154.71 476.37,154.82 476.93,154.92 477.48,155.01 478.04,155.11 478.60,155.21 479.16,155.31 479.72,155.41 480.28,155.51 480.83,155.60 481.39,155.69 481.95,155.78 482.51,155.87 483.07,155.95 483.63,156.03 484.18,156.11 484.74,156.18 485.30,156.25 485.86,156.31 486.42,156.37 486.97,156.42 487.53,156.46 488.09,156.49 488.65,156.52 489.21,156.54 489.77,156.56 490.32,156.56 490.88,156.56 491.44,156.55 492.00,156.54 492.56,156.53 493.12,156.51 493.67,156.49 494.23,156.47 494.79,156.44 495.35,156.41 495.91,156.38 496.47,156.35 497.02,156.31 497.58,156.28 498.14,156.24 498.70,156.19 499.26,156.12 499.81,156.02 500.37,155.91 500.93,155.78 501.49,155.64 502.05,155.48 502.61,155.32 503.16,155.16 503.72,155.00 504.28,154.83 504.84,154.68 505.40,154.53 505.96,154.39 506.51,154.26 507.07,154.15 507.63,154.06 508.19,153.99 508.75,153.95 509.30,153.93 509.86,153.95 510.42,154.00 510.98,154.08 511.54,154.18 512.10,154.31 512.65,154.45 513.21,154.60 513.77,154.76 514.33,154.93 514.89,155.10 515.45,155.29 516.00,155.53 516.56,155.81 517.12,156.12 517.68,156.47 518.24,156.85 518.80,157.24 519.35,157.64 519.91,158.06 520.47,158.47 521.03,158.88 521.59,159.29 522.14,159.67 522.70,160.04 523.26,160.38 523.82,160.69 524.38,160.96 524.94,161.19 525.49,161.39 526.05,161.60 526.61,161.80 527.17,162.00 527.73,162.20 528.29,162.39 528.84,162.59 529.40,162.78 529.96,162.97 530.52,163.16 531.08,163.34 531.63,163.51 532.19,163.69 532.75,163.85 533.31,164.02 533.87,164.17 534.43,164.32 534.98,164.47 535.54,164.60 536.10,164.73 536.66,164.86 537.22,164.97 537.78,165.08 538.33,165.17 538.89,165.26 539.45,165.34 540.01,165.41 540.57,165.47 541.13,165.52 541.68,165.56 542.24,165.58 542.80,165.60" fill="none" stroke="#9a5ccc" stroke-width="0.75" stroke-linejoin="round"/>
<polyline points="319.50,46.58 320.06,70.13 320.62,86.95 321.17,97.29 321.73,105.09 322.29,110.55 322.85,114.61 323.41,118.10 323.97,120.98 324.52,123.19 325.08,124.70 325.64,125.81 326.20,126.80 326.76,127.66 327.32,128.32 327.87,128.74 328.43,128.90 328.99,128.85 329.55,128.74 330.11,128.56 330.67,128.35 331.22,128.10 331.78,127.85 332.34,127.54 332.90,127.12 333.46,126.63 334.01,126.08 334.57,125.48 335.13,124.87 335.69,124.25 336.25,123.65 336.81,123.05 337.36,122.41 337.92,121.75 338.48,121.06 339.04,120.37 339.60,119.67 340.16,118.98 340.71,118.30 341.27,117.64 341.83,117.02 342.39,116.42 342.95,115.85 343.50,115.28 344.06,114.73 344.62,114.19 345.18,113.65 345.74,113.12 346.30,112.60 346.85,112.08 347.41,111.57 347.97,111.05 348.53,110.54 349.09,110.02 349.65,109.50 350.20,108.97 350.76,108.45 351.32,107.94 351.88,107.44 352.44,106.95 353.00,106.45 353.55,105.94 354.11,105.42 354.67,104.88 355.23,104.32 355.79,103.73 356.34,103.13 356.90,102.54 357.46,101.95 358.02,101.35 358.58,100.74 359.14,100.11 359.69,99.44 360.25,98.74 360.81,97.98 361.37,97.17 361.93,96.29 362.49,95.35 363.04,94.31 363.60,93.16 364.16,91.72 364.72,89.99 365.28,88.05 365.83,85.93 366.39,83.70 366.95,81.40 367.51,79.09 368.07,76.67 368.63,74.07 369.18,71.32 369.74,68.46 370.30,65.53 370.86,62.58 371.42,59.53 371.98,56.24 372.53,52.80 373.09,49.33 373.65,45.91 374.21,42.68 374.77,39.71 375.32,37.14 375.88,34.68 376.44,32.12 377.00,29.68 377.56,27.57 378.12,26.00 378.67,25.16 379.23,25.30 379.79,26.55 380.35,28.65 380.91,31.30 381.47,34.23 382.02,37.14 382.58,40.10 383.14,43.39 383.70,47.06 384.26,51.17 384.82,55.75 385.37,60.87 385.93,66.61 386.49,75.50 387.05,84.91 387.61,90.26 388.16,94.10 388.72,97.23 389.28,99.98 389.84,102.68 390.40,105.43 390.96,108.08 391.51,110.58 392.07,112.86 392.63,114.89 393.19,116.63 393.75,118.24 394.31,119.75 394.86,121.16 395.42,122.47 395.98,123.69 396.54,124.82 397.10,125.85 397.65,126.80 398.21,127.68 398.77,128.50 399.33,129.27 399.89,129.99 400.45,130.66 401.00,131.29 401.56,131.87 402.12,132.41 402.68,132.92 403.24,133.42 403.80,133.90 404.35,134.37 404.91,134.83 405.47,135.28 406.03,135.71 406.59,136.13 407.15,136.54 407.70,136.93 408.26,137.31 408.82,137.68 409.38,138.03 409.94,138.36 410.49,138.68 411.05,138.98 411.61,139.27 412.17,139.54 412.73,139.79 413.29,140.03 413.84,140.25 414.40,140.45 414.96,140.64 415.52,140.81 416.08,140.98 416.64,141.14 417.19,141.29 417.75,141.43 418.31,141.58 418.87,141.72 419.43,141.86 419.99,142.00 420.54,142.16 421.10,142.32 421.66,142.48 422.22,142.65 422.78,142.83 423.33,143.00 423.89,143.18 424.45,143.35 425.01,143.52 425.57,143.68 426.13,143.84 426.68,143.99 427.24,144.12 427.80,144.25 428.36,144.35 428.92,144.45 429.48,144.52 430.03,144.58 430.59,144.61 431.15,144.63 431.71,144.62 432.27,144.61 432.82,144.59 433.38,144.57 433.94,144.54 434.50,144.51 435.06,144.48 435.62,144.45 436.17,144.42 436.73,144.40 437.29,144.38 437.85,144.37 438.41,144.36 438.97,144.38 439.52,144.41 440.08,144.47 440.64,144.54 441.20,144.62 441.76,144.72 442.31,144.83 442.87,144.95 443.43,145.08 443.99,145.21 444.55,145.35 445.11,145.49 445.66,145.64 446.22,145.78 446.78,145.92 447.34,146.06 447.90,146.20 448.46,146.34 449.01,146.48 449.57,146.63 450.13,146.79 450.69,146.96 451.25,147.13 451.81,147.31 452.36,147.49 452.92,147.67 453.48,147.86 454.04,148.05 454.60,148.24 455.15,148.43 455.71,148.62 456.27,148.81 456.83,149.00 457.39,149.19 457.95,149.37 458.50,149.55 459.06,149.73 459.62,149.90 460.18,150.08 460.74,150.25 461.30,150.43 461.85,150.62 462.41,150.80 462.97,150.99 463.53,151.17 464.09,151.36 464.64,151.55 465.20,151.74 465.76,151.92 466.32,152.11 466.88,152.29 467.44,152.48 467.99,152.66 468.55,152.84 469.11,153.02 469.67,153.19 470.23,153.36 470.79,153.52 471.34,153.68 471.90,153.84 472.46,153.99 473.02,154.13 473.58,154.27 474.14,154.40 474.69,154.53 475.25,154.64 475.81,154.75 476.37,154.85 476.93,154.95 477.48,155.05 478.04,155.14 478.60,155.24 479.16,155.34 479.72,155.44 480.28,155.53 480.83,155.63 481.39,155.72 481.95,155.81 482.51,155.89 483.07,155.98 483.63,156.06 484.18,156.13 484.74,156.20 485.30,156.27 485.86,156.33 486.42,156.39 486.97,156.44 487.53,156.48 488.09,156.51 488.65,156.54 489.21,156.56 489.77,156.58 490.32,156.58 490.88,156.58 491.44,156.57 492.00,156.56 492.56,156.55 493.12,156.53 493.67,156.51 494.23,156.49 494.79,156.46 495.35,156.43 495.91,156.40 496.47,156.37 497.02,156.34 497.58,156.30 498.14,156.27 498.70,156.22 499.26,156.14 499.81,156.05 500.37,155.93 500.93,155.80 501.49,155.66 502.05,155.51 502.61,155.35 503.16,155.19 503.72,155.02 504.28,154.86 504.84,154.70 505.40,154.55 505.96,154.41 506.51,154.29 507.07,154.18 507.63,154.09 508.19,154.02 508.75,153.97 509.30,153.96 509.86,153.98 510.42,154.03 510.98,154.11 511.54,154.21 512.10,154.33 512.65,154.47 513.21,154.62 513.77,154.78 514.33,154.95 514.89,155.11 515.45,155.30 516.00,155.54 516.56,155.82 517.12,156.14 517.68,156.48 518.24,156.86 518.80,157.25 519.35,157.65 519.91,158.07 520.47,158.48 521.03,158.89 521.59,159.29 522.14,159.68 522.70,160.05 523.26,160.39 523.82,160.70 524.38,160.97 524.94,161.20 525.49,161.40 526.05,161.60 526.61,161.80 527.17,162.00 527.73,162.20 528.29,162.40 528.84,162.59 529.40,162.79 529.96,162.97 530.52,163.16 531.08,163.34 531.63,163.52 532.19,163.69 532.75,163.86 533.31,164.02 533.87,164.17 534.43,164.32 534.98,164.47 535.54,164.60 536.10,164.73 536.66,164.86 537.22,164.97 537.78,165.08 538.33,165.17 538.89,165.26 539.45,165.34 540.01,165.41 540.57,165.47 541.13,165.52 541.68,165.56 542.24,165.58 542.80,165.60" fill="none" stroke="#44389a" stroke-width="0.9" stroke-linejoin="round"/>
<polyline points="319.50,130.99 322.85,130.99 326.20,129.95 328.43,128.90" fill="none" stroke="#9aa8a4" stroke-width="0.8"/>
<line x1="319.50" y1="7.80" x2="319.50" y2="166.10" stroke="#2a2a36" stroke-width="1.25"/>
<line x1="319.00" y1="165.50" x2="543.30" y2="165.50" stroke="#2a2a36" stroke-width="1.25"/>
<line x1="315.90" y1="165.50" x2="319.50" y2="165.50" stroke="#2a2a36" stroke-width="1.0"/>
<text transform="translate(313.70,168.80) scale(1.03,1)" font-size="9.7" text-anchor="end" fill="#222" >0.0</text>
<line x1="317.30" y1="139.50" x2="319.50" y2="139.50" stroke="#2a2a36" stroke-width="1.0"/>
<line x1="315.90" y1="113.50" x2="319.50" y2="113.50" stroke="#2a2a36" stroke-width="1.0"/>
<text transform="translate(313.70,116.37) scale(1.03,1)" font-size="9.7" text-anchor="end" fill="#222" >0.1</text>
<line x1="317.30" y1="86.50" x2="319.50" y2="86.50" stroke="#2a2a36" stroke-width="1.0"/>
<line x1="315.90" y1="60.50" x2="319.50" y2="60.50" stroke="#2a2a36" stroke-width="1.0"/>
<text transform="translate(313.70,63.93) scale(1.03,1)" font-size="9.7" text-anchor="end" fill="#222" >0.2</text>
<line x1="317.30" y1="34.50" x2="319.50" y2="34.50" stroke="#2a2a36" stroke-width="1.0"/>
<line x1="315.90" y1="8.50" x2="319.50" y2="8.50" stroke="#2a2a36" stroke-width="1.0"/>
<text transform="translate(313.70,11.50) scale(1.03,1)" font-size="9.7" text-anchor="end" fill="#222" >0.3</text>
<line x1="319.50" y1="165.60" x2="319.50" y2="169.20" stroke="#2a2a36" stroke-width="1.0"/>
<text transform="translate(319.50,177.90) scale(1.03,1)" font-size="9.7" text-anchor="middle" fill="#222" >300</text>
<line x1="347.50" y1="165.60" x2="347.50" y2="167.80" stroke="#2a2a36" stroke-width="1.0"/>
<line x1="375.50" y1="165.60" x2="375.50" y2="169.20" stroke="#2a2a36" stroke-width="1.0"/>
<text transform="translate(375.32,177.90) scale(1.03,1)" font-size="9.7" text-anchor="middle" fill="#222" >400</text>
<line x1="403.50" y1="165.60" x2="403.50" y2="167.80" stroke="#2a2a36" stroke-width="1.0"/>
<line x1="431.50" y1="165.60" x2="431.50" y2="169.20" stroke="#2a2a36" stroke-width="1.0"/>
<text transform="translate(431.15,177.90) scale(1.03,1)" font-size="9.7" text-anchor="middle" fill="#222" >500</text>
<line x1="459.50" y1="165.60" x2="459.50" y2="167.80" stroke="#2a2a36" stroke-width="1.0"/>
<line x1="486.50" y1="165.60" x2="486.50" y2="169.20" stroke="#2a2a36" stroke-width="1.0"/>
<text transform="translate(486.97,177.90) scale(1.03,1)" font-size="9.7" text-anchor="middle" fill="#222" >600</text>
<line x1="514.50" y1="165.60" x2="514.50" y2="167.80" stroke="#2a2a36" stroke-width="1.0"/>
<line x1="542.50" y1="165.60" x2="542.50" y2="169.20" stroke="#2a2a36" stroke-width="1.0"/>
<text transform="translate(542.80,177.90) scale(1.03,1)" font-size="9.7" text-anchor="middle" fill="#222" >700</text>
<text transform="translate(431.15,188.10) scale(1.03,1)" font-size="9.819999999999999" text-anchor="middle" fill="#222" >Wavelength (nm)</text>
<text transform="translate(294.70,85.90) rotate(-90)" font-size="9.5" text-anchor="middle" fill="#222" >Absorbance</text>
<text transform="translate(349.0,14.8) scale(1.03,1)" font-size="9.7" fill="#222">F12-pH 5.0 K<tspan font-size="6" dy="-5.5">+</tspan></text>
<path d="M364.30,26.00 L367.90,32.70 L365.75,32.70 L365.75,56.30 L362.85,56.30 L362.85,32.70 L360.70,32.70 Z" fill="#000"/>
<polyline points="43.80,220.70 44.36,225.93 44.92,231.80 45.48,238.22 46.03,245.14 46.59,252.48 47.15,261.07 47.71,271.01 48.27,281.22 48.83,290.60 49.38,298.13 49.94,305.18 50.50,312.18 51.06,318.40 51.62,323.15 52.18,325.70 52.74,325.91 53.29,325.69 53.85,325.30 54.41,324.78 54.97,324.17 55.53,323.51 56.09,322.82 56.65,322.00 57.20,320.95 57.76,319.71 58.32,318.33 58.88,316.87 59.44,315.36 60.00,313.85 60.55,312.40 61.11,310.92 61.67,309.33 62.23,307.65 62.79,305.91 63.35,304.14 63.91,302.36 64.46,300.60 65.02,298.89 65.58,297.25 66.14,295.72 66.70,294.32 67.26,293.07 67.82,292.01 68.37,291.11 68.93,290.27 69.49,289.49 70.05,288.77 70.61,288.08 71.17,287.44 71.72,286.83 72.28,286.24 72.84,285.68 73.40,285.13 73.96,284.58 74.52,284.04 75.08,283.49 75.63,282.94 76.19,282.36 76.75,281.77 77.31,281.14 77.87,280.49 78.43,279.85 78.99,279.20 79.54,278.54 80.10,277.89 80.66,277.23 81.22,276.57 81.78,275.91 82.34,275.25 82.89,274.59 83.45,273.93 84.01,273.28 84.57,272.62 85.13,271.97 85.69,271.32 86.25,270.67 86.80,270.02 87.36,269.38 87.92,268.75 88.48,268.12 89.04,267.48 89.60,266.84 90.16,266.20 90.71,265.56 91.27,264.92 91.83,264.28 92.39,263.64 92.95,263.01 93.51,262.38 94.06,261.77 94.62,261.17 95.18,260.57 95.74,260.00 96.30,259.44 96.86,258.90 97.42,258.37 97.97,257.83 98.53,257.28 99.09,256.74 99.65,256.27 100.21,255.88 100.77,255.61 101.33,255.42 101.88,255.25 102.44,255.13 103.00,255.09 103.56,255.33 104.12,255.96 104.68,256.83 105.23,257.80 105.79,258.74 106.35,259.62 106.91,260.56 107.47,261.56 108.03,262.64 108.59,263.84 109.14,265.16 109.70,266.66 110.26,268.45 110.82,270.54 111.38,272.88 111.94,275.40 112.50,278.06 113.05,280.82 113.61,283.61 114.17,286.39 114.73,289.11 115.29,291.92 115.85,294.95 116.41,298.10 116.96,301.28 117.52,304.40 118.08,307.35 118.64,310.05 119.20,312.40 119.76,314.49 120.31,316.48 120.87,318.36 121.43,320.15 121.99,321.84 122.55,323.43 123.11,324.93 123.67,326.34 124.22,327.66 124.78,328.90 125.34,330.07 125.90,331.19 126.46,332.25 127.02,333.26 127.58,334.23 128.13,335.15 128.69,336.03 129.25,336.87 129.81,337.68 130.37,338.45 130.93,339.22 131.48,340.01 132.04,340.79 132.60,341.53 133.16,342.22 133.72,342.84 134.28,343.35 134.84,343.74 135.39,343.98 135.95,344.18 136.51,344.37 137.07,344.54 137.63,344.70 138.19,344.86 138.75,345.00 139.30,345.14 139.86,345.26 140.42,345.38 140.98,345.48 141.54,345.58 142.10,345.68 142.65,345.76 143.21,345.84 143.77,345.92 144.33,345.99 144.89,346.05 145.45,346.11 146.01,346.16 146.56,346.22 147.12,346.26 147.68,346.31 148.24,346.35 148.80,346.39 149.36,346.42 149.91,346.45 150.47,346.48 151.03,346.51 151.59,346.53 152.15,346.56 152.71,346.58 153.27,346.60 153.82,346.63 154.38,346.65 154.94,346.67 155.50,346.70 156.06,346.73 156.62,346.76 157.18,346.79 157.73,346.82 158.29,346.86 158.85,346.90 159.41,346.95 159.97,347.00 160.53,347.05 161.08,347.11 161.64,347.17 162.20,347.23 162.76,347.29 163.32,347.36 163.88,347.43 164.44,347.51 164.99,347.58 165.55,347.66 166.11,347.74 166.67,347.82 167.23,347.91 167.79,347.99 168.35,348.08 168.90,348.17 169.46,348.26 170.02,348.36 170.58,348.45 171.14,348.55 171.70,348.64 172.25,348.74 172.81,348.84 173.37,348.93 173.93,349.03 174.49,349.13 175.05,349.23 175.61,349.33 176.16,349.43 176.72,349.53 177.28,349.63 177.84,349.73 178.40,349.83 178.96,349.93 179.52,350.03 180.07,350.14 180.63,350.25 181.19,350.37 181.75,350.48 182.31,350.60 182.87,350.72 183.43,350.83 183.98,350.95 184.54,351.07 185.10,351.20 185.66,351.32 186.22,351.45 186.78,351.58 187.33,351.72 187.89,351.85 188.45,351.98 189.01,352.12 189.57,352.26 190.13,352.39 190.69,352.53 191.24,352.67 191.80,352.81 192.36,352.95 192.92,353.09 193.48,353.22 194.04,353.36 194.59,353.49 195.15,353.63 195.71,353.76 196.27,353.89 196.83,354.02 197.39,354.15 197.95,354.27 198.50,354.39 199.06,354.51 199.62,354.63 200.18,354.74 200.74,354.85 201.30,354.97 201.86,355.08 202.41,355.19 202.97,355.29 203.53,355.39 204.09,355.49 204.65,355.57 205.21,355.64 205.76,355.71 206.32,355.78 206.88,355.84 207.44,355.91 208.00,355.98 208.56,356.04 209.12,356.11 209.67,356.17 210.23,356.24 210.79,356.30 211.35,356.36 211.91,356.42 212.47,356.48 213.03,356.54 213.58,356.59 214.14,356.65 214.70,356.70 215.26,356.75 215.82,356.80 216.38,356.84 216.94,356.89 217.49,356.93 218.05,356.97 218.61,357.01 219.17,357.04 219.73,357.07 220.29,357.10 220.84,357.12 221.40,357.15 221.96,357.16 222.52,357.18 223.08,357.19 223.64,357.20 224.20,357.21 224.75,357.21 225.31,357.20 225.87,357.20 226.43,357.19 226.99,357.19 227.55,357.18 228.11,357.16 228.66,357.15 229.22,357.14 229.78,357.13 230.34,357.11 230.90,357.10 231.46,357.08 232.01,357.07 232.57,357.06 233.13,357.04 233.69,357.03 234.25,357.02 234.81,357.01 235.37,357.01 235.92,357.00 236.48,357.00 237.04,357.00 237.60,357.02 238.16,357.07 238.72,357.14 239.27,357.23 239.83,357.35 240.39,357.48 240.95,357.63 241.51,357.80 242.07,357.98 242.63,358.17 243.18,358.37 243.74,358.59 244.30,358.81 244.86,359.03 245.42,359.26 245.98,359.50 246.54,359.73 247.09,359.96 247.65,360.19 248.21,360.42 248.77,360.64 249.33,360.86 249.89,361.06 250.44,361.26 251.00,361.44 251.56,361.61 252.12,361.76 252.68,361.89 253.24,362.02 253.80,362.15 254.35,362.27 254.91,362.39 255.47,362.51 256.03,362.63 256.59,362.74 257.15,362.86 257.71,362.97 258.26,363.08 258.82,363.19 259.38,363.29 259.94,363.40 260.50,363.50 261.06,363.60 261.62,363.69 262.17,363.79 262.73,363.88 263.29,363.97 263.85,364.05 264.41,364.13 264.97,364.21 265.52,364.29 266.08,364.36 266.64,364.43 267.20,364.50" fill="none" stroke="#7f9c94" stroke-width="0.75" stroke-linejoin="round"/>
<polyline points="43.80,220.70 44.36,227.35 44.92,234.40 45.48,241.88 46.03,249.56 46.59,257.09 47.15,265.55 47.71,275.11 48.27,284.78 48.83,293.62 49.38,300.72 49.94,307.34 50.50,313.82 51.06,319.54 51.62,323.91 52.18,326.28 52.74,326.51 53.29,326.34 53.85,326.02 54.41,325.57 54.97,325.03 55.53,324.43 56.09,323.80 56.65,323.04 57.20,322.06 57.76,320.90 58.32,319.61 58.88,318.24 59.44,316.83 60.00,315.42 60.55,314.06 61.11,312.68 61.67,311.20 62.23,309.62 62.79,307.99 63.35,306.33 63.91,304.66 64.46,303.01 65.02,301.40 65.58,299.86 66.14,298.42 66.70,297.09 67.26,295.92 67.82,294.91 68.37,294.05 68.93,293.25 69.49,292.50 70.05,291.80 70.61,291.14 71.17,290.52 71.72,289.92 72.28,289.35 72.84,288.80 73.40,288.26 73.96,287.73 74.52,287.20 75.08,286.67 75.63,286.12 76.19,285.56 76.75,284.97 77.31,284.36 77.87,283.73 78.43,283.08 78.99,282.43 79.54,281.78 80.10,281.11 80.66,280.44 81.22,279.77 81.78,279.09 82.34,278.40 82.89,277.71 83.45,277.01 84.01,276.32 84.57,275.61 85.13,274.91 85.69,274.21 86.25,273.50 86.80,272.80 87.36,272.09 87.92,271.37 88.48,270.65 89.04,269.92 89.60,269.17 90.16,268.42 90.71,267.66 91.27,266.89 91.83,266.11 92.39,265.34 92.95,264.56 93.51,263.78 94.06,263.00 94.62,262.22 95.18,261.44 95.74,260.66 96.30,259.88 96.86,259.10 97.42,258.32 97.97,257.47 98.53,256.57 99.09,255.68 99.65,254.85 100.21,254.14 100.77,253.56 101.33,253.02 101.88,252.51 102.44,252.11 103.00,251.86 103.56,252.00 104.12,252.64 104.68,253.62 105.23,254.77 105.79,255.93 106.35,257.07 106.91,258.30 107.47,259.69 108.03,261.24 108.59,262.95 109.14,264.83 109.70,266.91 110.26,269.49 110.82,272.24 111.38,275.00 111.94,277.85 112.50,280.77 113.05,283.70 113.61,286.61 114.17,289.48 114.73,292.26 115.29,295.08 115.85,298.06 116.41,301.14 116.96,304.23 117.52,307.24 118.08,310.08 118.64,312.67 119.20,314.92 119.76,316.92 120.31,318.81 120.87,320.61 121.43,322.31 121.99,323.92 122.55,325.42 123.11,326.83 123.67,328.14 124.22,329.36 124.78,330.51 125.34,331.59 125.90,332.63 126.46,333.62 127.02,334.56 127.58,335.45 128.13,336.31 128.69,337.13 129.25,337.91 129.81,338.66 130.37,339.37 130.93,340.09 131.48,340.82 132.04,341.54 132.60,342.22 133.16,342.86 133.72,343.43 134.28,343.90 134.84,344.26 135.39,344.49 135.95,344.68 136.51,344.85 137.07,345.02 137.63,345.17 138.19,345.31 138.75,345.44 139.30,345.56 139.86,345.67 140.42,345.78 140.98,345.87 141.54,345.96 142.10,346.04 142.65,346.12 143.21,346.18 143.77,346.25 144.33,346.30 144.89,346.35 145.45,346.40 146.01,346.45 146.56,346.49 147.12,346.53 147.68,346.56 148.24,346.59 148.80,346.62 149.36,346.65 149.91,346.67 150.47,346.70 151.03,346.72 151.59,346.74 152.15,346.75 152.71,346.77 153.27,346.79 153.82,346.80 154.38,346.82 154.94,346.84 155.50,346.86 156.06,346.88 156.62,346.91 157.18,346.93 157.73,346.96 158.29,347.00 158.85,347.04 159.41,347.08 159.97,347.13 160.53,347.18 161.08,347.24 161.64,347.31 162.20,347.37 162.76,347.44 163.32,347.52 163.88,347.60 164.44,347.68 164.99,347.76 165.55,347.84 166.11,347.93 166.67,348.01 167.23,348.10 167.79,348.19 168.35,348.28 168.90,348.37 169.46,348.46 170.02,348.56 170.58,348.65 171.14,348.75 171.70,348.84 172.25,348.94 172.81,349.04 173.37,349.14 173.93,349.24 174.49,349.34 175.05,349.44 175.61,349.54 176.16,349.64 176.72,349.74 177.28,349.85 177.84,349.95 178.40,350.05 178.96,350.16 179.52,350.27 180.07,350.39 180.63,350.52 181.19,350.64 181.75,350.77 182.31,350.89 182.87,351.02 183.43,351.15 183.98,351.27 184.54,351.39 185.10,351.51 185.66,351.64 186.22,351.76 186.78,351.89 187.33,352.02 187.89,352.15 188.45,352.28 189.01,352.41 189.57,352.55 190.13,352.68 190.69,352.81 191.24,352.94 191.80,353.08 192.36,353.21 192.92,353.34 193.48,353.47 194.04,353.60 194.59,353.73 195.15,353.86 195.71,353.98 196.27,354.11 196.83,354.23 197.39,354.35 197.95,354.47 198.50,354.59 199.06,354.70 199.62,354.81 200.18,354.92 200.74,355.03 201.30,355.14 201.86,355.24 202.41,355.35 202.97,355.45 203.53,355.55 204.09,355.64 204.65,355.72 205.21,355.79 205.76,355.85 206.32,355.91 206.88,355.98 207.44,356.04 208.00,356.11 208.56,356.17 209.12,356.23 209.67,356.29 210.23,356.35 210.79,356.41 211.35,356.47 211.91,356.53 212.47,356.58 213.03,356.64 213.58,356.69 214.14,356.74 214.70,356.79 215.26,356.84 215.82,356.88 216.38,356.93 216.94,356.97 217.49,357.01 218.05,357.05 218.61,357.08 219.17,357.12 219.73,357.15 220.29,357.17 220.84,357.20 221.40,357.22 221.96,357.24 222.52,357.26 223.08,357.27 223.64,357.28 224.20,357.29 224.75,357.29 225.31,357.29 225.87,357.29 226.43,357.29 226.99,357.29 227.55,357.28 228.11,357.27 228.66,357.26 229.22,357.26 229.78,357.25 230.34,357.24 230.90,357.23 231.46,357.22 232.01,357.21 232.57,357.20 233.13,357.19 233.69,357.19 234.25,357.18 234.81,357.18 235.37,357.18 235.92,357.18 236.48,357.18 237.04,357.19 237.60,357.21 238.16,357.26 238.72,357.33 239.27,357.43 239.83,357.54 240.39,357.67 240.95,357.82 241.51,357.98 242.07,358.16 242.63,358.34 243.18,358.54 243.74,358.75 244.30,358.96 244.86,359.18 245.42,359.40 245.98,359.62 246.54,359.85 247.09,360.08 247.65,360.30 248.21,360.52 248.77,360.73 249.33,360.94 249.89,361.13 250.44,361.32 251.00,361.50 251.56,361.66 252.12,361.81 252.68,361.94 253.24,362.07 253.80,362.19 254.35,362.31 254.91,362.43 255.47,362.54 256.03,362.66 256.59,362.77 257.15,362.88 257.71,362.99 258.26,363.10 258.82,363.21 259.38,363.31 259.94,363.41 260.50,363.51 261.06,363.61 261.62,363.70 262.17,363.79 262.73,363.88 263.29,363.97 263.85,364.06 264.41,364.14 264.97,364.22 265.52,364.29 266.08,364.36 266.64,364.43 267.20,364.50" fill="none" stroke="#f27ccf" stroke-width="0.75" stroke-linejoin="round"/>
<polyline points="43.80,220.70 44.36,228.76 44.92,236.98 45.48,245.51 46.03,253.94 46.59,261.65 47.15,270.00 47.71,279.18 48.27,288.31 48.83,296.60 49.38,303.30 49.94,309.48 50.50,315.44 51.06,320.66 51.62,324.66 52.18,326.85 52.74,327.11 53.29,327.00 53.85,326.74 54.41,326.35 54.97,325.88 55.53,325.34 56.09,324.77 56.65,324.06 57.20,323.16 57.76,322.08 58.32,320.88 58.88,319.60 59.44,318.29 60.00,316.98 60.55,315.71 61.11,314.43 61.67,313.04 62.23,311.57 62.79,310.05 63.35,308.50 63.91,306.94 64.46,305.39 65.02,303.88 65.58,302.44 66.14,301.09 66.70,299.84 67.26,298.74 67.82,297.78 68.37,296.96 68.93,296.20 69.49,295.48 70.05,294.81 70.61,294.18 71.17,293.57 71.72,292.99 72.28,292.43 72.84,291.89 73.40,291.37 73.96,290.85 74.52,290.33 75.08,289.81 75.63,289.28 76.19,288.73 76.75,288.15 77.31,287.55 77.87,286.93 78.43,286.29 78.99,285.64 79.54,284.99 80.10,284.31 80.66,283.63 81.22,282.94 81.78,282.23 82.34,281.52 82.89,280.79 83.45,280.06 84.01,279.33 84.57,278.58 85.13,277.83 85.69,277.07 86.25,276.31 86.80,275.55 87.36,274.77 87.92,273.97 88.48,273.16 89.04,272.33 89.60,271.48 90.16,270.61 90.71,269.73 91.27,268.84 91.83,267.93 92.39,267.02 92.95,266.10 93.51,265.17 94.06,264.23 94.62,263.27 95.18,262.30 95.74,261.31 96.30,260.31 96.86,259.30 97.42,258.27 97.97,257.12 98.53,255.88 99.09,254.62 99.65,253.44 100.21,252.42 100.77,251.52 101.33,250.63 101.88,249.80 102.44,249.11 103.00,248.66 103.56,248.71 104.12,249.36 104.68,250.44 105.23,251.76 105.79,253.16 106.35,254.54 106.91,256.06 107.47,257.84 108.03,259.84 108.59,262.07 109.14,264.49 109.70,267.17 110.26,270.51 110.82,273.92 111.38,277.10 111.94,280.29 112.50,283.45 113.05,286.56 113.61,289.59 114.17,292.54 114.73,295.37 115.29,298.20 115.85,301.14 116.41,304.14 116.96,307.14 117.52,310.05 118.08,312.79 118.64,315.27 119.20,317.42 119.76,319.32 120.31,321.13 120.87,322.85 121.43,324.46 121.99,325.98 122.55,327.39 123.11,328.70 123.67,329.91 124.22,331.04 124.78,332.10 125.34,333.10 125.90,334.06 126.46,334.97 127.02,335.84 127.58,336.67 128.13,337.46 128.69,338.21 129.25,338.93 129.81,339.62 130.37,340.29 130.93,340.95 131.48,341.62 132.04,342.28 132.60,342.91 133.16,343.50 133.72,344.02 134.28,344.45 134.84,344.78 135.39,345.00 135.95,345.17 136.51,345.33 137.07,345.49 137.63,345.63 138.19,345.76 138.75,345.87 139.30,345.98 139.86,346.08 140.42,346.18 140.98,346.26 141.54,346.34 142.10,346.40 142.65,346.47 143.21,346.52 143.77,346.57 144.33,346.62 144.89,346.66 145.45,346.69 146.01,346.73 146.56,346.76 147.12,346.79 147.68,346.81 148.24,346.84 148.80,346.86 149.36,346.87 149.91,346.89 150.47,346.91 151.03,346.92 151.59,346.94 152.15,346.95 152.71,346.96 153.27,346.97 153.82,346.98 154.38,346.99 154.94,347.00 155.50,347.02 156.06,347.04 156.62,347.05 157.18,347.08 157.73,347.10 158.29,347.13 158.85,347.17 159.41,347.21 159.97,347.26 160.53,347.31 161.08,347.38 161.64,347.44 162.20,347.52 162.76,347.59 163.32,347.68 163.88,347.76 164.44,347.85 164.99,347.94 165.55,348.02 166.11,348.11 166.67,348.20 167.23,348.29 167.79,348.38 168.35,348.47 168.90,348.57 169.46,348.66 170.02,348.75 170.58,348.85 171.14,348.94 171.70,349.04 172.25,349.14 172.81,349.24 173.37,349.34 173.93,349.44 174.49,349.54 175.05,349.64 175.61,349.74 176.16,349.85 176.72,349.95 177.28,350.06 177.84,350.17 178.40,350.27 178.96,350.39 179.52,350.51 180.07,350.64 180.63,350.78 181.19,350.91 181.75,351.05 182.31,351.19 182.87,351.32 183.43,351.45 183.98,351.58 184.54,351.70 185.10,351.82 185.66,351.95 186.22,352.07 186.78,352.20 187.33,352.32 187.89,352.45 188.45,352.58 189.01,352.70 189.57,352.83 190.13,352.96 190.69,353.09 191.24,353.21 191.80,353.34 192.36,353.47 192.92,353.59 193.48,353.72 194.04,353.84 194.59,353.96 195.15,354.09 195.71,354.21 196.27,354.32 196.83,354.44 197.39,354.55 197.95,354.67 198.50,354.78 199.06,354.89 199.62,354.99 200.18,355.10 200.74,355.20 201.30,355.30 201.86,355.41 202.41,355.51 202.97,355.61 203.53,355.70 204.09,355.78 204.65,355.86 205.21,355.93 205.76,355.99 206.32,356.05 206.88,356.11 207.44,356.17 208.00,356.23 208.56,356.29 209.12,356.35 209.67,356.41 210.23,356.47 210.79,356.52 211.35,356.58 211.91,356.63 212.47,356.68 213.03,356.73 213.58,356.78 214.14,356.83 214.70,356.88 215.26,356.92 215.82,356.97 216.38,357.01 216.94,357.05 217.49,357.09 218.05,357.12 218.61,357.16 219.17,357.19 219.73,357.22 220.29,357.25 220.84,357.27 221.40,357.30 221.96,357.32 222.52,357.33 223.08,357.35 223.64,357.36 224.20,357.37 224.75,357.38 225.31,357.38 225.87,357.38 226.43,357.39 226.99,357.38 227.55,357.38 228.11,357.38 228.66,357.38 229.22,357.37 229.78,357.37 230.34,357.36 230.90,357.36 231.46,357.35 232.01,357.35 232.57,357.35 233.13,357.34 233.69,357.34 234.25,357.34 234.81,357.34 235.37,357.35 235.92,357.35 236.48,357.36 237.04,357.37 237.60,357.40 238.16,357.45 238.72,357.53 239.27,357.62 239.83,357.73 240.39,357.86 240.95,358.01 241.51,358.16 242.07,358.33 242.63,358.51 243.18,358.71 243.74,358.90 244.30,359.11 244.86,359.32 245.42,359.53 245.98,359.75 246.54,359.97 247.09,360.19 247.65,360.40 248.21,360.61 248.77,360.82 249.33,361.01 249.89,361.21 250.44,361.39 251.00,361.56 251.56,361.72 252.12,361.86 252.68,361.99 253.24,362.11 253.80,362.23 254.35,362.35 254.91,362.46 255.47,362.58 256.03,362.69 256.59,362.80 257.15,362.91 257.71,363.02 258.26,363.12 258.82,363.23 259.38,363.33 259.94,363.43 260.50,363.53 261.06,363.62 261.62,363.71 262.17,363.80 262.73,363.89 263.29,363.98 263.85,364.06 264.41,364.14 264.97,364.22 265.52,364.29 266.08,364.36 266.64,364.43 267.20,364.50" fill="none" stroke="#c9e35a" stroke-width="0.75" stroke-linejoin="round"/>
<polyline points="43.80,220.70 44.36,230.16 44.92,239.53 45.48,249.10 46.03,258.27 46.59,266.16 47.15,274.40 47.71,283.20 48.27,291.80 48.83,299.56 49.38,305.85 49.94,311.60 50.50,317.05 51.06,321.77 51.62,325.40 52.18,327.41 52.74,327.70 53.29,327.64 53.85,327.44 54.41,327.13 54.97,326.72 55.53,326.25 56.09,325.73 56.65,325.08 57.20,324.24 57.76,323.25 58.32,322.14 58.88,320.95 59.44,319.73 60.00,318.52 60.55,317.35 61.11,316.16 61.67,314.87 62.23,313.50 62.79,312.09 63.35,310.64 63.91,309.19 64.46,307.75 65.02,306.35 65.58,305.00 66.14,303.73 66.70,302.57 67.26,301.53 67.82,300.63 68.37,299.85 68.93,299.12 69.49,298.44 70.05,297.79 70.61,297.18 71.17,296.59 71.72,296.03 72.28,295.48 72.84,294.96 73.40,294.44 73.96,293.94 74.52,293.43 75.08,292.92 75.63,292.40 76.19,291.86 76.75,291.30 77.31,290.71 77.87,290.10 78.43,289.47 78.99,288.82 79.54,288.16 80.10,287.48 80.66,286.78 81.22,286.07 81.78,285.35 82.34,284.60 82.89,283.85 83.45,283.08 84.01,282.31 84.57,281.52 85.13,280.72 85.69,279.91 86.25,279.10 86.80,278.27 87.36,277.42 87.92,276.55 88.48,275.65 89.04,274.72 89.60,273.77 90.16,272.79 90.71,271.79 91.27,270.77 91.83,269.73 92.39,268.68 92.95,267.62 93.51,266.54 94.06,265.44 94.62,264.30 95.18,263.14 95.74,261.96 96.30,260.74 96.86,259.49 97.42,258.21 97.97,256.77 98.53,255.18 99.09,253.57 99.65,252.05 100.21,250.72 100.77,249.50 101.33,248.28 101.88,247.11 102.44,246.14 103.00,245.50 103.56,245.44 104.12,246.10 104.68,247.29 105.23,248.79 105.79,250.41 106.35,252.03 106.91,253.85 107.47,256.00 108.03,258.46 108.59,261.19 109.14,264.16 109.70,267.42 110.26,271.53 110.82,275.58 111.38,279.18 111.94,282.70 112.50,286.11 113.05,289.39 113.61,292.54 114.17,295.57 114.73,298.46 115.29,301.30 115.85,304.19 116.41,307.12 116.96,310.03 117.52,312.83 118.08,315.46 118.64,317.84 119.20,319.89 119.76,321.70 120.31,323.43 120.87,325.05 121.43,326.58 121.99,328.01 122.55,329.34 123.11,330.56 123.67,331.67 124.22,332.70 124.78,333.67 125.34,334.60 125.90,335.47 126.46,336.31 127.02,337.11 127.58,337.87 128.13,338.60 128.69,339.29 129.25,339.95 129.81,340.58 130.37,341.19 130.93,341.80 131.48,342.41 132.04,343.01 132.60,343.59 133.16,344.12 133.72,344.60 134.28,345.00 134.84,345.30 135.39,345.50 135.95,345.66 136.51,345.81 137.07,345.95 137.63,346.08 138.19,346.20 138.75,346.30 139.30,346.40 139.86,346.49 140.42,346.57 140.98,346.64 141.54,346.70 142.10,346.76 142.65,346.81 143.21,346.85 143.77,346.89 144.33,346.93 144.89,346.96 145.45,346.98 146.01,347.00 146.56,347.02 147.12,347.04 147.68,347.06 148.24,347.07 148.80,347.09 149.36,347.10 149.91,347.11 150.47,347.12 151.03,347.13 151.59,347.13 152.15,347.14 152.71,347.14 153.27,347.15 153.82,347.15 154.38,347.16 154.94,347.17 155.50,347.18 156.06,347.19 156.62,347.20 157.18,347.22 157.73,347.24 158.29,347.27 158.85,347.30 159.41,347.34 159.97,347.38 160.53,347.44 161.08,347.51 161.64,347.58 162.20,347.66 162.76,347.74 163.32,347.83 163.88,347.92 164.44,348.02 164.99,348.11 165.55,348.20 166.11,348.30 166.67,348.39 167.23,348.48 167.79,348.57 168.35,348.67 168.90,348.76 169.46,348.85 170.02,348.95 170.58,349.04 171.14,349.14 171.70,349.24 172.25,349.33 172.81,349.43 173.37,349.53 173.93,349.64 174.49,349.74 175.05,349.84 175.61,349.95 176.16,350.05 176.72,350.16 177.28,350.27 177.84,350.38 178.40,350.49 178.96,350.62 179.52,350.75 180.07,350.89 180.63,351.04 181.19,351.18 181.75,351.33 182.31,351.48 182.87,351.62 183.43,351.76 183.98,351.89 184.54,352.01 185.10,352.13 185.66,352.25 186.22,352.37 186.78,352.50 187.33,352.62 187.89,352.74 188.45,352.87 189.01,352.99 189.57,353.11 190.13,353.24 190.69,353.36 191.24,353.48 191.80,353.60 192.36,353.72 192.92,353.84 193.48,353.96 194.04,354.08 194.59,354.19 195.15,354.31 195.71,354.42 196.27,354.54 196.83,354.65 197.39,354.76 197.95,354.86 198.50,354.97 199.06,355.07 199.62,355.17 200.18,355.27 200.74,355.37 201.30,355.47 201.86,355.57 202.41,355.67 202.97,355.76 203.53,355.85 204.09,355.93 204.65,356.00 205.21,356.07 205.76,356.13 206.32,356.19 206.88,356.24 207.44,356.30 208.00,356.36 208.56,356.41 209.12,356.47 209.67,356.52 210.23,356.58 210.79,356.63 211.35,356.68 211.91,356.73 212.47,356.78 213.03,356.83 213.58,356.88 214.14,356.92 214.70,356.97 215.26,357.01 215.82,357.05 216.38,357.09 216.94,357.13 217.49,357.17 218.05,357.20 218.61,357.24 219.17,357.27 219.73,357.30 220.29,357.32 220.84,357.35 221.40,357.37 221.96,357.39 222.52,357.41 223.08,357.43 223.64,357.44 224.20,357.45 224.75,357.46 225.31,357.47 225.87,357.48 226.43,357.48 226.99,357.48 227.55,357.48 228.11,357.49 228.66,357.49 229.22,357.49 229.78,357.49 230.34,357.49 230.90,357.49 231.46,357.49 232.01,357.49 232.57,357.49 233.13,357.49 233.69,357.49 234.25,357.50 234.81,357.51 235.37,357.51 235.92,357.53 236.48,357.54 237.04,357.55 237.60,357.59 238.16,357.64 238.72,357.72 239.27,357.81 239.83,357.92 240.39,358.05 240.95,358.19 241.51,358.34 242.07,358.51 242.63,358.68 243.18,358.87 243.74,359.06 244.30,359.26 244.86,359.46 245.42,359.67 245.98,359.88 246.54,360.09 247.09,360.29 247.65,360.50 248.21,360.70 248.77,360.90 249.33,361.09 249.89,361.28 250.44,361.45 251.00,361.62 251.56,361.77 252.12,361.91 252.68,362.04 253.24,362.15 253.80,362.27 254.35,362.38 254.91,362.50 255.47,362.61 256.03,362.72 256.59,362.83 257.15,362.94 257.71,363.04 258.26,363.14 258.82,363.25 259.38,363.35 259.94,363.44 260.50,363.54 261.06,363.63 261.62,363.72 262.17,363.81 262.73,363.90 263.29,363.98 263.85,364.06 264.41,364.14 264.97,364.22 265.52,364.29 266.08,364.37 266.64,364.43 267.20,364.50" fill="none" stroke="#8a8ff0" stroke-width="0.75" stroke-linejoin="round"/>
<polyline points="43.80,220.70 44.36,231.53 44.92,242.05 45.48,252.65 46.03,262.56 46.59,270.62 47.15,278.75 47.71,287.18 48.27,295.25 48.83,302.49 49.38,308.37 49.94,313.69 50.50,318.63 51.06,322.87 51.62,326.14 52.18,327.97 52.74,328.28 53.29,328.28 53.85,328.14 54.41,327.89 54.97,327.55 55.53,327.14 56.09,326.67 56.65,326.09 57.20,325.32 57.76,324.40 58.32,323.38 58.88,322.29 59.44,321.16 60.00,320.04 60.55,318.96 61.11,317.86 61.67,316.67 62.23,315.41 62.79,314.11 63.35,312.77 63.91,311.42 64.46,310.08 65.02,308.78 65.58,307.53 66.14,306.35 66.70,305.26 67.26,304.29 67.82,303.44 68.37,302.70 68.93,302.01 69.49,301.36 70.05,300.74 70.61,300.15 71.17,299.58 71.72,299.03 72.28,298.50 72.84,297.98 73.40,297.48 73.96,296.99 74.52,296.50 75.08,296.00 75.63,295.49 76.19,294.96 76.75,294.41 77.31,293.83 77.87,293.23 78.43,292.61 78.99,291.97 79.54,291.30 80.10,290.61 80.66,289.90 81.22,289.18 81.78,288.43 82.34,287.66 82.89,286.87 83.45,286.07 84.01,285.25 84.57,284.42 85.13,283.58 85.69,282.72 86.25,281.85 86.80,280.96 87.36,280.05 87.92,279.09 88.48,278.10 89.04,277.08 89.60,276.02 90.16,274.94 90.71,273.82 91.27,272.68 91.83,271.51 92.39,270.33 92.95,269.13 93.51,267.90 94.06,266.63 94.62,265.33 95.18,263.98 95.74,262.59 96.30,261.16 96.86,259.69 97.42,258.16 97.97,256.42 98.53,254.50 99.09,252.54 99.65,250.67 100.21,249.03 100.77,247.51 101.33,245.94 101.88,244.46 102.44,243.21 103.00,242.37 103.56,242.21 104.12,242.89 104.68,244.17 105.23,245.85 105.79,247.69 106.35,249.56 106.91,251.66 107.47,254.19 108.03,257.10 108.59,260.33 109.14,263.83 109.70,267.67 110.26,272.53 110.82,277.22 111.38,281.23 111.94,285.08 112.50,288.74 113.05,292.18 113.61,295.45 114.17,298.57 114.73,301.51 115.29,304.36 115.85,307.21 116.41,310.06 116.96,312.88 117.52,315.59 118.08,318.11 118.64,320.38 119.20,322.34 119.76,324.06 120.31,325.70 120.87,327.24 121.43,328.69 121.99,330.03 122.55,331.27 123.11,332.40 123.67,333.41 124.22,334.35 124.78,335.23 125.34,336.07 125.90,336.87 126.46,337.64 127.02,338.36 127.58,339.06 128.13,339.72 128.69,340.35 129.25,340.96 129.81,341.53 130.37,342.09 130.93,342.64 131.48,343.19 132.04,343.74 132.60,344.26 133.16,344.74 133.72,345.17 134.28,345.53 134.84,345.81 135.39,346.00 135.95,346.15 136.51,346.28 137.07,346.41 137.63,346.53 138.19,346.63 138.75,346.73 139.30,346.82 139.86,346.89 140.42,346.96 140.98,347.02 141.54,347.07 142.10,347.11 142.65,347.15 143.21,347.18 143.77,347.21 144.33,347.23 144.89,347.25 145.45,347.27 146.01,347.28 146.56,347.29 147.12,347.30 147.68,347.30 148.24,347.31 148.80,347.31 149.36,347.32 149.91,347.32 150.47,347.33 151.03,347.33 151.59,347.33 152.15,347.33 152.71,347.33 153.27,347.33 153.82,347.33 154.38,347.33 154.94,347.33 155.50,347.33 156.06,347.34 156.62,347.35 157.18,347.36 157.73,347.38 158.29,347.40 158.85,347.42 159.41,347.46 159.97,347.51 160.53,347.57 161.08,347.64 161.64,347.72 162.20,347.80 162.76,347.89 163.32,347.98 163.88,348.08 164.44,348.18 164.99,348.28 165.55,348.38 166.11,348.48 166.67,348.57 167.23,348.67 167.79,348.76 168.35,348.86 168.90,348.95 169.46,349.04 170.02,349.14 170.58,349.24 171.14,349.33 171.70,349.43 172.25,349.53 172.81,349.63 173.37,349.73 173.93,349.83 174.49,349.94 175.05,350.04 175.61,350.15 176.16,350.26 176.72,350.37 177.28,350.48 177.84,350.60 178.40,350.71 178.96,350.84 179.52,350.98 180.07,351.13 180.63,351.29 181.19,351.45 181.75,351.61 182.31,351.77 182.87,351.92 183.43,352.06 183.98,352.19 184.54,352.31 185.10,352.43 185.66,352.55 186.22,352.68 186.78,352.80 187.33,352.92 187.89,353.04 188.45,353.16 189.01,353.28 189.57,353.39 190.13,353.51 190.69,353.63 191.24,353.75 191.80,353.86 192.36,353.98 192.92,354.09 193.48,354.20 194.04,354.31 194.59,354.42 195.15,354.53 195.71,354.64 196.27,354.75 196.83,354.85 197.39,354.95 197.95,355.06 198.50,355.16 199.06,355.25 199.62,355.35 200.18,355.45 200.74,355.54 201.30,355.64 201.86,355.73 202.41,355.82 202.97,355.91 203.53,356.00 204.09,356.07 204.65,356.14 205.21,356.21 205.76,356.26 206.32,356.32 206.88,356.37 207.44,356.43 208.00,356.48 208.56,356.54 209.12,356.59 209.67,356.64 210.23,356.69 210.79,356.74 211.35,356.79 211.91,356.84 212.47,356.88 213.03,356.93 213.58,356.97 214.14,357.01 214.70,357.06 215.26,357.10 215.82,357.14 216.38,357.17 216.94,357.21 217.49,357.24 218.05,357.28 218.61,357.31 219.17,357.34 219.73,357.37 220.29,357.40 220.84,357.42 221.40,357.44 221.96,357.47 222.52,357.49 223.08,357.50 223.64,357.52 224.20,357.53 224.75,357.55 225.31,357.56 225.87,357.57 226.43,357.57 226.99,357.58 227.55,357.59 228.11,357.59 228.66,357.60 229.22,357.60 229.78,357.60 230.34,357.61 230.90,357.61 231.46,357.62 232.01,357.62 232.57,357.63 233.13,357.64 233.69,357.64 234.25,357.65 234.81,357.67 235.37,357.68 235.92,357.70 236.48,357.71 237.04,357.74 237.60,357.77 238.16,357.83 238.72,357.91 239.27,358.00 239.83,358.11 240.39,358.24 240.95,358.37 241.51,358.52 242.07,358.68 242.63,358.85 243.18,359.03 243.74,359.22 244.30,359.41 244.86,359.60 245.42,359.80 245.98,360.00 246.54,360.20 247.09,360.40 247.65,360.60 248.21,360.79 248.77,360.99 249.33,361.17 249.89,361.35 250.44,361.52 251.00,361.68 251.56,361.82 252.12,361.96 252.68,362.08 253.24,362.20 253.80,362.31 254.35,362.42 254.91,362.53 255.47,362.64 256.03,362.75 256.59,362.86 257.15,362.96 257.71,363.06 258.26,363.17 258.82,363.27 259.38,363.36 259.94,363.46 260.50,363.55 261.06,363.64 261.62,363.73 262.17,363.82 262.73,363.91 263.29,363.99 263.85,364.07 264.41,364.15 264.97,364.22 265.52,364.30 266.08,364.37 266.64,364.43 267.20,364.50" fill="none" stroke="#5fe3e0" stroke-width="0.75" stroke-linejoin="round"/>
<polyline points="43.80,220.70 44.36,232.89 44.92,244.55 45.48,256.16 46.03,266.79 46.59,275.03 47.15,283.05 47.71,291.11 48.27,298.66 48.83,305.38 49.38,310.85 49.94,315.76 50.50,320.20 51.06,323.96 51.62,326.87 52.18,328.53 52.74,328.86 53.29,328.91 53.85,328.84 54.41,328.65 54.97,328.37 55.53,328.02 56.09,327.61 56.65,327.08 57.20,326.38 57.76,325.54 58.32,324.61 58.88,323.60 59.44,322.57 60.00,321.55 60.55,320.56 61.11,319.55 61.67,318.46 62.23,317.30 62.79,316.10 63.35,314.86 63.91,313.62 64.46,312.39 65.02,311.18 65.58,310.02 66.14,308.93 66.70,307.92 67.26,307.01 67.82,306.22 68.37,305.52 68.93,304.86 69.49,304.24 70.05,303.65 70.61,303.08 71.17,302.53 71.72,301.99 72.28,301.48 72.84,300.97 73.40,300.49 73.96,300.01 74.52,299.53 75.08,299.04 75.63,298.54 76.19,298.03 76.75,297.49 77.31,296.92 77.87,296.32 78.43,295.71 78.99,295.07 79.54,294.40 80.10,293.71 80.66,292.99 81.22,292.24 81.78,291.47 82.34,290.67 82.89,289.86 83.45,289.02 84.01,288.16 84.57,287.29 85.13,286.40 85.69,285.49 86.25,284.57 86.80,283.62 87.36,282.64 87.92,281.61 88.48,280.53 89.04,279.42 89.60,278.26 90.16,277.06 90.71,275.82 91.27,274.56 91.83,273.27 92.39,271.96 92.95,270.62 93.51,269.24 94.06,267.82 94.62,266.34 95.18,264.81 95.74,263.23 96.30,261.58 96.86,259.88 97.42,258.11 97.97,256.08 98.53,253.83 99.09,251.51 99.65,249.31 100.21,247.37 100.77,245.54 101.33,243.64 101.88,241.83 102.44,240.31 103.00,239.27 103.56,239.03 104.12,239.71 104.68,241.10 105.23,242.94 105.79,245.00 106.35,247.11 106.91,249.49 107.47,252.40 108.03,255.75 108.59,259.47 109.14,263.50 109.70,267.92 110.26,273.52 110.82,278.85 111.38,283.27 111.94,287.43 112.50,291.33 113.05,294.94 113.61,298.33 114.17,301.53 114.73,304.52 115.29,307.38 115.85,310.19 116.41,312.97 116.96,315.70 117.52,318.30 118.08,320.73 118.64,322.90 119.20,324.75 119.76,326.39 120.31,327.94 120.87,329.40 121.43,330.76 121.99,332.02 122.55,333.17 123.11,334.21 123.67,335.13 124.22,335.98 124.78,336.77 125.34,337.53 125.90,338.25 126.46,338.94 127.02,339.60 127.58,340.23 128.13,340.83 128.69,341.40 129.25,341.95 129.81,342.47 130.37,342.97 130.93,343.47 131.48,343.96 132.04,344.45 132.60,344.92 133.16,345.36 133.72,345.74 134.28,346.07 134.84,346.32 135.39,346.49 135.95,346.62 136.51,346.75 137.07,346.87 137.63,346.97 138.19,347.07 138.75,347.15 139.30,347.22 139.86,347.29 140.42,347.35 140.98,347.39 141.54,347.43 142.10,347.46 142.65,347.49 143.21,347.51 143.77,347.53 144.33,347.54 144.89,347.54 145.45,347.55 146.01,347.55 146.56,347.55 147.12,347.55 147.68,347.55 148.24,347.54 148.80,347.54 149.36,347.54 149.91,347.53 150.47,347.53 151.03,347.53 151.59,347.52 152.15,347.52 152.71,347.51 153.27,347.50 153.82,347.50 154.38,347.49 154.94,347.49 155.50,347.48 156.06,347.49 156.62,347.49 157.18,347.50 157.73,347.51 158.29,347.53 158.85,347.55 159.41,347.59 159.97,347.64 160.53,347.70 161.08,347.77 161.64,347.85 162.20,347.94 162.76,348.04 163.32,348.14 163.88,348.24 164.44,348.35 164.99,348.45 165.55,348.56 166.11,348.66 166.67,348.76 167.23,348.85 167.79,348.95 168.35,349.04 168.90,349.14 169.46,349.23 170.02,349.33 170.58,349.43 171.14,349.52 171.70,349.62 172.25,349.72 172.81,349.82 173.37,349.92 173.93,350.03 174.49,350.13 175.05,350.24 175.61,350.35 176.16,350.46 176.72,350.57 177.28,350.69 177.84,350.81 178.40,350.93 178.96,351.06 179.52,351.21 180.07,351.37 180.63,351.54 181.19,351.72 181.75,351.89 182.31,352.05 182.87,352.21 183.43,352.36 183.98,352.49 184.54,352.61 185.10,352.73 185.66,352.85 186.22,352.97 186.78,353.09 187.33,353.21 187.89,353.33 188.45,353.44 189.01,353.56 189.57,353.67 190.13,353.78 190.69,353.90 191.24,354.01 191.80,354.12 192.36,354.23 192.92,354.33 193.48,354.44 194.04,354.54 194.59,354.65 195.15,354.75 195.71,354.85 196.27,354.95 196.83,355.05 197.39,355.15 197.95,355.25 198.50,355.34 199.06,355.44 199.62,355.53 200.18,355.62 200.74,355.71 201.30,355.80 201.86,355.89 202.41,355.98 202.97,356.06 203.53,356.14 204.09,356.22 204.65,356.28 205.21,356.34 205.76,356.40 206.32,356.45 206.88,356.50 207.44,356.55 208.00,356.61 208.56,356.66 209.12,356.70 209.67,356.75 210.23,356.80 210.79,356.85 211.35,356.89 211.91,356.94 212.47,356.98 213.03,357.02 213.58,357.06 214.14,357.10 214.70,357.14 215.26,357.18 215.82,357.22 216.38,357.25 216.94,357.29 217.49,357.32 218.05,357.35 218.61,357.38 219.17,357.41 219.73,357.44 220.29,357.47 220.84,357.49 221.40,357.52 221.96,357.54 222.52,357.56 223.08,357.58 223.64,357.60 224.20,357.61 224.75,357.63 225.31,357.64 225.87,357.66 226.43,357.67 226.99,357.68 227.55,357.69 228.11,357.69 228.66,357.70 229.22,357.71 229.78,357.72 230.34,357.73 230.90,357.74 231.46,357.75 232.01,357.76 232.57,357.77 233.13,357.78 233.69,357.79 234.25,357.81 234.81,357.83 235.37,357.84 235.92,357.87 236.48,357.89 237.04,357.92 237.60,357.96 238.16,358.02 238.72,358.09 239.27,358.19 239.83,358.30 240.39,358.42 240.95,358.55 241.51,358.70 242.07,358.85 242.63,359.02 243.18,359.19 243.74,359.37 244.30,359.55 244.86,359.74 245.42,359.93 245.98,360.12 246.54,360.32 247.09,360.51 247.65,360.70 248.21,360.89 248.77,361.07 249.33,361.25 249.89,361.42 250.44,361.58 251.00,361.73 251.56,361.88 252.12,362.01 252.68,362.13 253.24,362.24 253.80,362.35 254.35,362.46 254.91,362.57 255.47,362.68 256.03,362.78 256.59,362.89 257.15,362.99 257.71,363.09 258.26,363.19 258.82,363.28 259.38,363.38 259.94,363.47 260.50,363.57 261.06,363.66 261.62,363.74 262.17,363.83 262.73,363.91 263.29,363.99 263.85,364.07 264.41,364.15 264.97,364.23 265.52,364.30 266.08,364.37 266.64,364.44 267.20,364.50" fill="none" stroke="#e35fc4" stroke-width="0.75" stroke-linejoin="round"/>
<polyline points="43.80,220.70 44.36,234.24 44.92,247.00 45.48,259.62 46.03,270.96 46.59,279.38 47.15,287.28 47.71,294.98 48.27,302.02 48.83,308.22 49.38,313.31 49.94,317.79 50.50,321.75 51.06,325.03 51.62,327.58 52.18,329.07 52.74,329.42 53.29,329.53 53.85,329.52 54.41,329.40 54.97,329.18 55.53,328.89 56.09,328.53 56.65,328.06 57.20,327.42 57.76,326.67 58.32,325.81 58.88,324.90 59.44,323.96 60.00,323.03 60.55,322.13 61.11,321.21 61.67,320.22 62.23,319.16 62.79,318.06 63.35,316.93 63.91,315.79 64.46,314.66 65.02,313.55 65.58,312.48 66.14,311.48 66.70,310.54 67.26,309.70 67.82,308.96 68.37,308.30 68.93,307.67 69.49,307.08 70.05,306.52 70.61,305.97 71.17,305.44 71.72,304.92 72.28,304.41 72.84,303.92 73.40,303.45 73.96,302.98 74.52,302.51 75.08,302.04 75.63,301.55 76.19,301.05 76.75,300.52 77.31,299.96 77.87,299.38 78.43,298.77 78.99,298.13 79.54,297.46 80.10,296.76 80.66,296.02 81.22,295.26 81.78,294.47 82.34,293.65 82.89,292.80 83.45,291.93 84.01,291.03 84.57,290.12 85.13,289.18 85.69,288.22 86.25,287.24 86.80,286.25 87.36,285.19 87.92,284.08 88.48,282.93 89.04,281.71 89.60,280.45 90.16,279.15 90.71,277.80 91.27,276.42 91.83,275.00 92.39,273.56 92.95,272.09 93.51,270.56 94.06,268.98 94.62,267.34 95.18,265.63 95.74,263.85 96.30,262.00 96.86,260.07 97.42,258.06 97.97,255.74 98.53,253.16 99.09,250.51 99.65,247.97 100.21,245.73 100.77,243.60 101.33,241.37 101.88,239.24 102.44,237.45 103.00,236.22 103.56,235.88 104.12,236.58 104.68,238.06 105.23,240.08 105.79,242.35 106.35,244.70 106.91,247.36 107.47,250.63 108.03,254.42 108.59,258.63 109.14,263.18 109.70,268.16 110.26,274.50 110.82,280.45 111.38,285.27 111.94,289.75 112.50,293.89 113.05,297.67 113.61,301.16 114.17,304.45 114.73,307.49 115.29,310.36 115.85,313.12 116.41,315.84 116.96,318.48 117.52,320.98 118.08,323.30 118.64,325.37 119.20,327.13 119.76,328.68 120.31,330.14 120.87,331.52 121.43,332.80 121.99,333.98 122.55,335.05 123.11,336.00 123.67,336.82 124.22,337.58 124.78,338.29 125.34,338.97 125.90,339.62 126.46,340.23 127.02,340.82 127.58,341.39 128.13,341.92 128.69,342.44 129.25,342.93 129.81,343.39 130.37,343.84 130.93,344.28 131.48,344.73 132.04,345.16 132.60,345.58 133.16,345.96 133.72,346.30 134.28,346.59 134.84,346.81 135.39,346.97 135.95,347.09 136.51,347.21 137.07,347.31 137.63,347.41 138.19,347.49 138.75,347.56 139.30,347.63 139.86,347.68 140.42,347.72 140.98,347.76 141.54,347.79 142.10,347.81 142.65,347.82 143.21,347.83 143.77,347.84 144.33,347.84 144.89,347.83 145.45,347.82 146.01,347.82 146.56,347.81 147.12,347.79 147.68,347.78 148.24,347.77 148.80,347.76 149.36,347.75 149.91,347.74 150.47,347.73 151.03,347.72 151.59,347.71 152.15,347.70 152.71,347.69 153.27,347.67 153.82,347.66 154.38,347.65 154.94,347.64 155.50,347.64 156.06,347.63 156.62,347.63 157.18,347.63 157.73,347.64 158.29,347.66 158.85,347.68 159.41,347.71 159.97,347.76 160.53,347.82 161.08,347.90 161.64,347.98 162.20,348.08 162.76,348.18 163.32,348.29 163.88,348.40 164.44,348.51 164.99,348.62 165.55,348.73 166.11,348.84 166.67,348.94 167.23,349.04 167.79,349.13 168.35,349.23 168.90,349.33 169.46,349.42 170.02,349.52 170.58,349.62 171.14,349.71 171.70,349.81 172.25,349.91 172.81,350.01 173.37,350.11 173.93,350.22 174.49,350.32 175.05,350.43 175.61,350.54 176.16,350.66 176.72,350.77 177.28,350.89 177.84,351.01 178.40,351.14 178.96,351.28 179.52,351.44 180.07,351.61 180.63,351.79 181.19,351.98 181.75,352.16 182.31,352.34 182.87,352.50 183.43,352.66 183.98,352.79 184.54,352.91 185.10,353.03 185.66,353.15 186.22,353.27 186.78,353.38 187.33,353.50 187.89,353.61 188.45,353.72 189.01,353.83 189.57,353.94 190.13,354.05 190.69,354.16 191.24,354.26 191.80,354.37 192.36,354.47 192.92,354.57 193.48,354.67 194.04,354.77 194.59,354.87 195.15,354.97 195.71,355.06 196.27,355.16 196.83,355.25 197.39,355.34 197.95,355.43 198.50,355.52 199.06,355.61 199.62,355.70 200.18,355.79 200.74,355.87 201.30,355.96 201.86,356.05 202.41,356.13 202.97,356.21 203.53,356.29 204.09,356.36 204.65,356.42 205.21,356.48 205.76,356.53 206.32,356.58 206.88,356.63 207.44,356.68 208.00,356.73 208.56,356.77 209.12,356.82 209.67,356.87 210.23,356.91 210.79,356.95 211.35,357.00 211.91,357.04 212.47,357.08 213.03,357.12 213.58,357.16 214.14,357.19 214.70,357.23 215.26,357.27 215.82,357.30 216.38,357.33 216.94,357.37 217.49,357.40 218.05,357.43 218.61,357.46 219.17,357.49 219.73,357.51 220.29,357.54 220.84,357.56 221.40,357.59 221.96,357.61 222.52,357.63 223.08,357.66 223.64,357.67 224.20,357.69 224.75,357.71 225.31,357.73 225.87,357.74 226.43,357.76 226.99,357.77 227.55,357.78 228.11,357.80 228.66,357.81 229.22,357.82 229.78,357.83 230.34,357.85 230.90,357.86 231.46,357.87 232.01,357.89 232.57,357.90 233.13,357.92 233.69,357.94 234.25,357.96 234.81,357.98 235.37,358.01 235.92,358.03 236.48,358.06 237.04,358.09 237.60,358.14 238.16,358.20 238.72,358.28 239.27,358.37 239.83,358.48 240.39,358.60 240.95,358.73 241.51,358.87 242.07,359.02 242.63,359.18 243.18,359.35 243.74,359.52 244.30,359.70 244.86,359.88 245.42,360.06 245.98,360.24 246.54,360.43 247.09,360.61 247.65,360.80 248.21,360.98 248.77,361.15 249.33,361.32 249.89,361.48 250.44,361.64 251.00,361.79 251.56,361.93 252.12,362.06 252.68,362.17 253.24,362.28 253.80,362.39 254.35,362.50 254.91,362.60 255.47,362.71 256.03,362.81 256.59,362.91 257.15,363.01 257.71,363.11 258.26,363.21 258.82,363.30 259.38,363.40 259.94,363.49 260.50,363.58 261.06,363.67 261.62,363.75 262.17,363.84 262.73,363.92 263.29,364.00 263.85,364.08 264.41,364.15 264.97,364.23 265.52,364.30 266.08,364.37 266.64,364.44 267.20,364.50" fill="none" stroke="#a6e36b" stroke-width="0.75" stroke-linejoin="round"/>
<polyline points="43.80,220.70 44.36,235.56 44.92,249.42 45.48,263.02 46.03,275.07 46.59,283.65 47.15,291.45 47.71,298.79 48.27,305.33 48.83,311.02 49.38,315.72 49.94,319.80 50.50,323.27 51.06,326.08 51.62,328.29 52.18,329.61 52.74,329.98 53.29,330.14 53.85,330.19 54.41,330.13 54.97,329.98 55.53,329.75 56.09,329.44 56.65,329.02 57.20,328.45 57.76,327.77 58.32,327.00 58.88,326.18 59.44,325.33 60.00,324.49 60.55,323.67 61.11,322.85 61.67,321.95 62.23,320.99 62.79,319.99 63.35,318.96 63.91,317.93 64.46,316.89 65.02,315.88 65.58,314.90 66.14,313.98 66.70,313.12 67.26,312.34 67.82,311.65 68.37,311.03 68.93,310.44 69.49,309.88 70.05,309.34 70.61,308.81 71.17,308.30 71.72,307.79 72.28,307.30 72.84,306.82 73.40,306.36 73.96,305.90 74.52,305.44 75.08,304.98 75.63,304.51 76.19,304.01 76.75,303.50 77.31,302.95 77.87,302.38 78.43,301.77 78.99,301.14 79.54,300.46 80.10,299.75 80.66,299.01 81.22,298.23 81.78,297.41 82.34,296.57 82.89,295.69 83.45,294.79 84.01,293.86 84.57,292.90 85.13,291.91 85.69,290.91 86.25,289.88 86.80,288.82 87.36,287.70 87.92,286.52 88.48,285.28 89.04,283.98 89.60,282.62 90.16,281.21 90.71,279.75 91.27,278.25 91.83,276.71 92.39,275.14 92.95,273.53 93.51,271.86 94.06,270.13 94.62,268.32 95.18,266.43 95.74,264.46 96.30,262.40 96.86,260.26 97.42,258.01 97.97,255.41 98.53,252.51 99.09,249.52 99.65,246.65 100.21,244.12 100.77,241.69 101.33,239.14 101.88,236.70 102.44,234.64 103.00,233.23 103.56,232.79 104.12,233.50 104.68,235.08 105.23,237.26 105.79,239.75 106.35,242.33 106.91,245.27 107.47,248.90 108.03,253.11 108.59,257.80 109.14,262.86 109.70,268.40 110.26,275.46 110.82,282.02 111.38,287.24 111.94,292.03 112.50,296.40 113.05,300.34 113.61,303.95 114.17,307.32 114.73,310.41 115.29,313.29 115.85,316.01 116.41,318.65 116.96,321.21 117.52,323.62 118.08,325.84 118.64,327.81 119.20,329.47 119.76,330.93 120.31,332.32 120.87,333.61 121.43,334.82 121.99,335.91 122.55,336.89 123.11,337.75 123.67,338.49 124.22,339.15 124.78,339.78 125.34,340.38 125.90,340.96 126.46,341.50 127.02,342.03 127.58,342.52 128.13,343.00 128.69,343.45 129.25,343.89 129.81,344.30 130.37,344.70 130.93,345.09 131.48,345.48 132.04,345.86 132.60,346.22 133.16,346.55 133.72,346.85 134.28,347.10 134.84,347.30 135.39,347.44 135.95,347.56 136.51,347.66 137.07,347.76 137.63,347.84 138.19,347.91 138.75,347.97 139.30,348.02 139.86,348.07 140.42,348.10 140.98,348.12 141.54,348.14 142.10,348.15 142.65,348.15 143.21,348.15 143.77,348.14 144.33,348.13 144.89,348.11 145.45,348.10 146.01,348.08 146.56,348.06 147.12,348.04 147.68,348.02 148.24,348.00 148.80,347.98 149.36,347.96 149.91,347.95 150.47,347.93 151.03,347.92 151.59,347.90 152.15,347.88 152.71,347.86 153.27,347.84 153.82,347.83 154.38,347.81 154.94,347.80 155.50,347.78 156.06,347.78 156.62,347.77 157.18,347.77 157.73,347.77 158.29,347.78 158.85,347.80 159.41,347.83 159.97,347.88 160.53,347.94 161.08,348.02 161.64,348.11 162.20,348.21 162.76,348.32 163.32,348.43 163.88,348.55 164.44,348.67 164.99,348.78 165.55,348.90 166.11,349.01 166.67,349.11 167.23,349.21 167.79,349.31 168.35,349.41 168.90,349.51 169.46,349.61 170.02,349.70 170.58,349.80 171.14,349.90 171.70,350.00 172.25,350.10 172.81,350.20 173.37,350.30 173.93,350.41 174.49,350.51 175.05,350.62 175.61,350.74 176.16,350.85 176.72,350.97 177.28,351.09 177.84,351.22 178.40,351.35 178.96,351.50 179.52,351.66 180.07,351.85 180.63,352.04 181.19,352.23 181.75,352.42 182.31,352.61 182.87,352.79 183.43,352.94 183.98,353.08 184.54,353.20 185.10,353.32 185.66,353.44 186.22,353.55 186.78,353.67 187.33,353.78 187.89,353.89 188.45,354.00 189.01,354.11 189.57,354.21 190.13,354.31 190.69,354.42 191.24,354.52 191.80,354.62 192.36,354.71 192.92,354.81 193.48,354.90 194.04,355.00 194.59,355.09 195.15,355.18 195.71,355.27 196.27,355.36 196.83,355.45 197.39,355.53 197.95,355.62 198.50,355.70 199.06,355.79 199.62,355.87 200.18,355.95 200.74,356.04 201.30,356.12 201.86,356.20 202.41,356.28 202.97,356.36 203.53,356.43 204.09,356.49 204.65,356.56 205.21,356.61 205.76,356.66 206.32,356.71 206.88,356.75 207.44,356.80 208.00,356.85 208.56,356.89 209.12,356.93 209.67,356.98 210.23,357.02 210.79,357.06 211.35,357.10 211.91,357.13 212.47,357.17 213.03,357.21 213.58,357.24 214.14,357.28 214.70,357.31 215.26,357.35 215.82,357.38 216.38,357.41 216.94,357.44 217.49,357.47 218.05,357.50 218.61,357.53 219.17,357.56 219.73,357.58 220.29,357.61 220.84,357.63 221.40,357.66 221.96,357.68 222.52,357.71 223.08,357.73 223.64,357.75 224.20,357.77 224.75,357.79 225.31,357.81 225.87,357.83 226.43,357.85 226.99,357.86 227.55,357.88 228.11,357.90 228.66,357.91 229.22,357.93 229.78,357.95 230.34,357.96 230.90,357.98 231.46,358.00 232.01,358.02 232.57,358.04 233.13,358.06 233.69,358.08 234.25,358.11 234.81,358.14 235.37,358.16 235.92,358.20 236.48,358.23 237.04,358.27 237.60,358.32 238.16,358.38 238.72,358.46 239.27,358.55 239.83,358.66 240.39,358.78 240.95,358.91 241.51,359.04 242.07,359.19 242.63,359.34 243.18,359.50 243.74,359.67 244.30,359.84 244.86,360.01 245.42,360.19 245.98,360.36 246.54,360.54 247.09,360.72 247.65,360.89 248.21,361.06 248.77,361.23 249.33,361.39 249.89,361.55 250.44,361.70 251.00,361.85 251.56,361.98 252.12,362.10 252.68,362.22 253.24,362.32 253.80,362.43 254.35,362.53 254.91,362.64 255.47,362.74 256.03,362.84 256.59,362.94 257.15,363.04 257.71,363.13 258.26,363.23 258.82,363.32 259.38,363.41 259.94,363.50 260.50,363.59 261.06,363.68 261.62,363.76 262.17,363.85 262.73,363.93 263.29,364.01 263.85,364.08 264.41,364.16 264.97,364.23 265.52,364.30 266.08,364.37 266.64,364.44 267.20,364.50" fill="none" stroke="#7cc2f5" stroke-width="0.75" stroke-linejoin="round"/>
<polyline points="43.80,220.70 44.36,236.85 44.92,251.79 45.48,266.35 46.03,279.09 46.59,287.84 47.15,295.53 47.71,302.52 48.27,308.57 48.83,313.77 49.38,318.08 49.94,321.76 50.50,324.76 51.06,327.11 51.62,328.98 52.18,330.13 52.74,330.53 53.29,330.74 53.85,330.85 54.41,330.85 54.97,330.76 55.53,330.59 56.09,330.33 56.65,329.96 57.20,329.46 57.76,328.85 58.32,328.17 58.88,327.43 59.44,326.67 60.00,325.92 60.55,325.19 61.11,324.45 61.67,323.64 62.23,322.78 62.79,321.88 63.35,320.95 63.91,320.02 64.46,319.08 65.02,318.16 65.58,317.28 66.14,316.43 66.70,315.65 67.26,314.93 67.82,314.29 68.37,313.71 68.93,313.15 69.49,312.62 70.05,312.10 70.61,311.60 71.17,311.10 71.72,310.61 72.28,310.13 72.84,309.66 73.40,309.21 73.96,308.77 74.52,308.32 75.08,307.87 75.63,307.41 76.19,306.92 76.75,306.42 77.31,305.88 77.87,305.32 78.43,304.72 78.99,304.09 79.54,303.41 80.10,302.69 80.66,301.94 81.22,301.14 81.78,300.30 82.34,299.43 82.89,298.53 83.45,297.59 84.01,296.62 84.57,295.62 85.13,294.59 85.69,293.54 86.25,292.46 86.80,291.35 87.36,290.17 87.92,288.91 88.48,287.59 89.04,286.19 89.60,284.74 90.16,283.22 90.71,281.66 91.27,280.04 91.83,278.38 92.39,276.68 92.95,274.94 93.51,273.14 94.06,271.25 94.62,269.28 95.18,267.22 95.74,265.06 96.30,262.80 96.86,260.44 97.42,257.96 97.97,255.09 98.53,251.87 99.09,248.54 99.65,245.35 100.21,242.54 100.77,239.82 101.33,236.95 101.88,234.21 102.44,231.89 103.00,230.29 103.56,229.77 104.12,230.48 104.68,232.16 105.23,234.50 105.79,237.20 106.35,240.00 106.91,243.21 107.47,247.20 108.03,251.83 108.59,256.99 109.14,262.55 109.70,268.63 110.26,276.40 110.82,283.57 111.38,289.17 111.94,294.27 112.50,298.87 113.05,302.97 113.61,306.69 114.17,310.13 114.73,313.27 115.29,316.16 115.85,318.84 116.41,321.41 116.96,323.88 117.52,326.20 118.08,328.32 118.64,330.19 119.20,331.77 119.76,333.14 120.31,334.45 120.87,335.66 121.43,336.79 121.99,337.80 122.55,338.70 123.11,339.48 123.67,340.12 124.22,340.70 124.78,341.25 125.34,341.77 125.90,342.27 126.46,342.75 127.02,343.20 127.58,343.64 128.13,344.06 128.69,344.45 129.25,344.83 129.81,345.19 130.37,345.54 130.93,345.88 131.48,346.21 132.04,346.54 132.60,346.85 133.16,347.13 133.72,347.39 134.28,347.61 134.84,347.78 135.39,347.91 135.95,348.01 136.51,348.10 137.07,348.19 137.63,348.26 138.19,348.32 138.75,348.37 139.30,348.41 139.86,348.44 140.42,348.46 140.98,348.48 141.54,348.48 142.10,348.48 142.65,348.47 143.21,348.46 143.77,348.44 144.33,348.42 144.89,348.39 145.45,348.36 146.01,348.34 146.56,348.31 147.12,348.28 147.68,348.25 148.24,348.22 148.80,348.19 149.36,348.17 149.91,348.15 150.47,348.13 151.03,348.11 151.59,348.08 152.15,348.06 152.71,348.04 153.27,348.01 153.82,347.99 154.38,347.97 154.94,347.95 155.50,347.93 156.06,347.92 156.62,347.91 157.18,347.90 157.73,347.90 158.29,347.91 158.85,347.92 159.41,347.95 159.97,348.00 160.53,348.06 161.08,348.15 161.64,348.24 162.20,348.34 162.76,348.46 163.32,348.58 163.88,348.70 164.44,348.82 164.99,348.95 165.55,349.07 166.11,349.18 166.67,349.29 167.23,349.39 167.79,349.49 168.35,349.59 168.90,349.69 169.46,349.79 170.02,349.88 170.58,349.98 171.14,350.08 171.70,350.18 172.25,350.28 172.81,350.38 173.37,350.49 173.93,350.59 174.49,350.70 175.05,350.81 175.61,350.92 176.16,351.04 176.72,351.16 177.28,351.29 177.84,351.42 178.40,351.55 178.96,351.71 179.52,351.88 180.07,352.07 180.63,352.28 181.19,352.48 181.75,352.69 182.31,352.88 182.87,353.06 183.43,353.23 183.98,353.37 184.54,353.49 185.10,353.61 185.66,353.72 186.22,353.84 186.78,353.95 187.33,354.06 187.89,354.16 188.45,354.27 189.01,354.37 189.57,354.47 190.13,354.57 190.69,354.67 191.24,354.76 191.80,354.86 192.36,354.95 192.92,355.04 193.48,355.13 194.04,355.22 194.59,355.30 195.15,355.39 195.71,355.47 196.27,355.56 196.83,355.64 197.39,355.72 197.95,355.80 198.50,355.88 199.06,355.96 199.62,356.04 200.18,356.12 200.74,356.20 201.30,356.27 201.86,356.35 202.41,356.43 202.97,356.50 203.53,356.57 204.09,356.63 204.65,356.69 205.21,356.74 205.76,356.79 206.32,356.83 206.88,356.88 207.44,356.92 208.00,356.96 208.56,357.00 209.12,357.04 209.67,357.08 210.23,357.12 210.79,357.16 211.35,357.20 211.91,357.23 212.47,357.27 213.03,357.30 213.58,357.33 214.14,357.37 214.70,357.40 215.26,357.43 215.82,357.46 216.38,357.49 216.94,357.52 217.49,357.54 218.05,357.57 218.61,357.60 219.17,357.63 219.73,357.65 220.29,357.68 220.84,357.70 221.40,357.73 221.96,357.75 222.52,357.78 223.08,357.80 223.64,357.82 224.20,357.85 224.75,357.87 225.31,357.89 225.87,357.91 226.43,357.94 226.99,357.96 227.55,357.98 228.11,358.00 228.66,358.02 229.22,358.04 229.78,358.06 230.34,358.08 230.90,358.10 231.46,358.12 232.01,358.15 232.57,358.17 233.13,358.20 233.69,358.23 234.25,358.25 234.81,358.29 235.37,358.32 235.92,358.36 236.48,358.39 237.04,358.44 237.60,358.49 238.16,358.56 238.72,358.64 239.27,358.73 239.83,358.84 240.39,358.95 240.95,359.08 241.51,359.21 242.07,359.35 242.63,359.50 243.18,359.65 243.74,359.81 244.30,359.98 244.86,360.14 245.42,360.31 245.98,360.48 246.54,360.65 247.09,360.82 247.65,360.98 248.21,361.15 248.77,361.31 249.33,361.47 249.89,361.62 250.44,361.76 251.00,361.90 251.56,362.03 252.12,362.15 252.68,362.26 253.24,362.36 253.80,362.47 254.35,362.57 254.91,362.67 255.47,362.77 256.03,362.87 256.59,362.97 257.15,363.06 257.71,363.16 258.26,363.25 258.82,363.34 259.38,363.43 259.94,363.52 260.50,363.60 261.06,363.69 261.62,363.77 262.17,363.85 262.73,363.93 263.29,364.01 263.85,364.09 264.41,364.16 264.97,364.23 265.52,364.30 266.08,364.37 266.64,364.44 267.20,364.50" fill="none" stroke="#b58cf2" stroke-width="0.75" stroke-linejoin="round"/>
<polyline points="43.80,220.70 44.36,238.11 44.92,254.10 45.48,269.60 46.03,283.01 46.59,291.92 47.15,299.52 47.71,306.17 48.27,311.73 48.83,316.45 49.38,320.39 49.94,323.68 50.50,326.21 51.06,328.12 51.62,329.65 52.18,330.64 52.74,331.06 53.29,331.33 53.85,331.49 54.41,331.55 54.97,331.52 55.53,331.41 56.09,331.20 56.65,330.88 57.20,330.44 57.76,329.91 58.32,329.30 58.88,328.65 59.44,327.98 60.00,327.31 60.55,326.67 61.11,326.01 61.67,325.29 62.23,324.53 62.79,323.72 63.35,322.90 63.91,322.06 64.46,321.22 65.02,320.39 65.58,319.59 66.14,318.82 66.70,318.11 67.26,317.46 67.82,316.86 68.37,316.32 68.93,315.79 69.49,315.29 70.05,314.80 70.61,314.31 71.17,313.84 71.72,313.36 72.28,312.89 72.84,312.43 73.40,311.99 73.96,311.56 74.52,311.13 75.08,310.68 75.63,310.23 76.19,309.76 76.75,309.27 77.31,308.74 77.87,308.18 78.43,307.59 78.99,306.96 79.54,306.28 80.10,305.56 80.66,304.79 81.22,303.98 81.78,303.12 82.34,302.23 82.89,301.29 83.45,300.32 84.01,299.32 84.57,298.28 85.13,297.21 85.69,296.11 86.25,294.98 86.80,293.81 87.36,292.57 87.92,291.24 88.48,289.83 89.04,288.35 89.60,286.80 90.16,285.19 90.71,283.51 91.27,281.79 91.83,280.01 92.39,278.19 92.95,276.32 93.51,274.38 94.06,272.34 94.62,270.21 95.18,267.98 95.74,265.64 96.30,263.19 96.86,260.62 97.42,257.92 97.97,254.77 98.53,251.24 99.09,247.60 99.65,244.09 100.21,241.00 100.77,238.00 101.33,234.82 101.88,231.78 102.44,229.20 103.00,227.42 103.56,226.81 104.12,227.54 104.68,229.31 105.23,231.81 105.79,234.71 106.35,237.73 106.91,241.21 107.47,245.54 108.03,250.58 108.59,256.20 109.14,262.25 109.70,268.86 110.26,277.32 110.82,285.07 111.38,291.05 111.94,296.45 112.50,301.27 113.05,305.53 113.61,309.35 114.17,312.87 114.73,316.06 115.29,318.96 115.85,321.60 116.41,324.11 116.96,326.50 117.52,328.72 118.08,330.74 118.64,332.52 119.20,334.00 119.76,335.30 120.31,336.52 120.87,337.66 121.43,338.71 121.99,339.65 122.55,340.47 123.11,341.16 123.67,341.71 124.22,342.20 124.78,342.67 125.34,343.12 125.90,343.55 126.46,343.96 127.02,344.35 127.58,344.73 128.13,345.08 128.69,345.43 129.25,345.75 129.81,346.06 130.37,346.36 130.93,346.64 131.48,346.93 132.04,347.20 132.60,347.46 133.16,347.70 133.72,347.92 134.28,348.10 134.84,348.25 135.39,348.36 135.95,348.45 136.51,348.54 137.07,348.61 137.63,348.67 138.19,348.72 138.75,348.76 139.30,348.79 139.86,348.81 140.42,348.82 140.98,348.82 141.54,348.82 142.10,348.80 142.65,348.78 143.21,348.76 143.77,348.73 144.33,348.70 144.89,348.66 145.45,348.63 146.01,348.59 146.56,348.55 147.12,348.51 147.68,348.47 148.24,348.43 148.80,348.40 149.36,348.37 149.91,348.34 150.47,348.32 151.03,348.29 151.59,348.26 152.15,348.23 152.71,348.20 153.27,348.17 153.82,348.15 154.38,348.12 154.94,348.09 155.50,348.07 156.06,348.05 156.62,348.04 157.18,348.03 157.73,348.03 158.29,348.03 158.85,348.04 159.41,348.06 159.97,348.11 160.53,348.18 161.08,348.27 161.64,348.36 162.20,348.47 162.76,348.59 163.32,348.72 163.88,348.84 164.44,348.97 164.99,349.10 165.55,349.23 166.11,349.35 166.67,349.46 167.23,349.56 167.79,349.66 168.35,349.76 168.90,349.86 169.46,349.96 170.02,350.06 170.58,350.16 171.14,350.26 171.70,350.36 172.25,350.46 172.81,350.56 173.37,350.66 173.93,350.77 174.49,350.88 175.05,350.99 175.61,351.11 176.16,351.23 176.72,351.35 177.28,351.48 177.84,351.61 178.40,351.75 178.96,351.91 179.52,352.10 180.07,352.30 180.63,352.51 181.19,352.73 181.75,352.94 182.31,353.15 182.87,353.34 183.43,353.50 183.98,353.64 184.54,353.77 185.10,353.88 185.66,354.00 186.22,354.11 186.78,354.22 187.33,354.33 187.89,354.43 188.45,354.53 189.01,354.63 189.57,354.73 190.13,354.82 190.69,354.92 191.24,355.01 191.80,355.09 192.36,355.18 192.92,355.27 193.48,355.35 194.04,355.43 194.59,355.51 195.15,355.59 195.71,355.67 196.27,355.75 196.83,355.83 197.39,355.90 197.95,355.98 198.50,356.05 199.06,356.13 199.62,356.20 200.18,356.28 200.74,356.35 201.30,356.43 201.86,356.50 202.41,356.57 202.97,356.64 203.53,356.70 204.09,356.76 204.65,356.82 205.21,356.87 205.76,356.91 206.32,356.95 206.88,357.00 207.44,357.04 208.00,357.08 208.56,357.11 209.12,357.15 209.67,357.19 210.23,357.22 210.79,357.26 211.35,357.29 211.91,357.32 212.47,357.36 213.03,357.39 213.58,357.42 214.14,357.45 214.70,357.48 215.26,357.51 215.82,357.53 216.38,357.56 216.94,357.59 217.49,357.62 218.05,357.64 218.61,357.67 219.17,357.69 219.73,357.72 220.29,357.74 220.84,357.77 221.40,357.80 221.96,357.82 222.52,357.85 223.08,357.87 223.64,357.90 224.20,357.92 224.75,357.95 225.31,357.97 225.87,358.00 226.43,358.02 226.99,358.04 227.55,358.07 228.11,358.09 228.66,358.12 229.22,358.14 229.78,358.16 230.34,358.19 230.90,358.22 231.46,358.24 232.01,358.27 232.57,358.30 233.13,358.33 233.69,358.36 234.25,358.40 234.81,358.43 235.37,358.47 235.92,358.51 236.48,358.56 237.04,358.60 237.60,358.66 238.16,358.73 238.72,358.81 239.27,358.90 239.83,359.01 240.39,359.12 240.95,359.24 241.51,359.37 242.07,359.51 242.63,359.65 243.18,359.80 243.74,359.95 244.30,360.11 244.86,360.27 245.42,360.43 245.98,360.59 246.54,360.75 247.09,360.92 247.65,361.08 248.21,361.23 248.77,361.39 249.33,361.54 249.89,361.68 250.44,361.82 251.00,361.95 251.56,362.08 252.12,362.20 252.68,362.30 253.24,362.40 253.80,362.51 254.35,362.61 254.91,362.70 255.47,362.80 256.03,362.90 256.59,362.99 257.15,363.09 257.71,363.18 258.26,363.27 258.82,363.36 259.38,363.45 259.94,363.53 260.50,363.62 261.06,363.70 261.62,363.78 262.17,363.86 262.73,363.94 263.29,364.02 263.85,364.09 264.41,364.16 264.97,364.24 265.52,364.30 266.08,364.37 266.64,364.44 267.20,364.50" fill="none" stroke="#f08ee6" stroke-width="0.75" stroke-linejoin="round"/>
<polyline points="43.80,220.70 44.36,239.33 44.92,256.33 45.48,272.74 46.03,286.80 46.59,295.87 47.15,303.36 47.71,309.68 48.27,314.78 48.83,319.03 49.38,322.62 49.94,325.53 50.50,327.62 51.06,329.09 51.62,330.30 52.18,331.14 52.74,331.58 53.29,331.89 53.85,332.11 54.41,332.23 54.97,332.26 55.53,332.20 56.09,332.04 56.65,331.77 57.20,331.39 57.76,330.93 58.32,330.40 58.88,329.83 59.44,329.24 60.00,328.66 60.55,328.09 61.11,327.52 61.67,326.89 62.23,326.22 62.79,325.51 63.35,324.77 63.91,324.03 64.46,323.28 65.02,322.54 65.58,321.82 66.14,321.14 66.70,320.49 67.26,319.90 67.82,319.35 68.37,318.84 68.93,318.35 69.49,317.87 70.05,317.40 70.61,316.94 71.17,316.48 71.72,316.01 72.28,315.55 72.84,315.11 73.40,314.68 73.96,314.26 74.52,313.84 75.08,313.41 75.63,312.96 76.19,312.50 76.75,312.02 77.31,311.50 77.87,310.95 78.43,310.37 78.99,309.74 79.54,309.06 80.10,308.33 80.66,307.55 81.22,306.72 81.78,305.85 82.34,304.93 82.89,303.97 83.45,302.97 84.01,301.92 84.57,300.85 85.13,299.73 85.69,298.59 86.25,297.41 86.80,296.19 87.36,294.89 87.92,293.49 88.48,292.01 89.04,290.44 89.60,288.80 90.16,287.09 90.71,285.31 91.27,283.47 91.83,281.58 92.39,279.64 92.95,277.66 93.51,275.58 94.06,273.40 94.62,271.12 95.18,268.72 95.74,266.21 96.30,263.57 96.86,260.79 97.42,257.87 97.97,254.46 98.53,250.64 99.09,246.68 99.65,242.87 100.21,239.51 100.77,236.23 101.33,232.76 101.88,229.43 102.44,226.61 103.00,224.65 103.56,223.96 104.12,224.70 104.68,226.56 105.23,229.20 105.79,232.31 106.35,235.54 106.91,239.27 107.47,243.93 108.03,249.38 108.59,255.44 109.14,261.96 109.70,269.08 110.26,278.21 110.82,286.52 111.38,292.87 111.94,298.56 112.50,303.59 113.05,308.00 113.61,311.93 114.17,315.52 114.73,318.76 115.29,321.67 115.85,324.27 116.41,326.71 116.96,329.02 117.52,331.16 118.08,333.08 118.64,334.77 119.20,336.17 119.76,337.38 120.31,338.53 120.87,339.59 121.43,340.57 121.99,341.43 122.55,342.17 123.11,342.78 123.67,343.25 124.22,343.66 124.78,344.05 125.34,344.43 125.90,344.79 126.46,345.13 127.02,345.46 127.58,345.78 128.13,346.08 128.69,346.37 129.25,346.64 129.81,346.90 130.37,347.15 130.93,347.39 131.48,347.62 132.04,347.84 132.60,348.05 133.16,348.25 133.72,348.42 134.28,348.58 134.84,348.70 135.39,348.80 135.95,348.88 136.51,348.95 137.07,349.02 137.63,349.07 138.19,349.11 138.75,349.14 139.30,349.16 139.86,349.17 140.42,349.17 140.98,349.16 141.54,349.14 142.10,349.12 142.65,349.09 143.21,349.05 143.77,349.01 144.33,348.97 144.89,348.92 145.45,348.88 146.01,348.83 146.56,348.78 147.12,348.73 147.68,348.69 148.24,348.64 148.80,348.60 149.36,348.57 149.91,348.53 150.47,348.50 151.03,348.47 151.59,348.44 152.15,348.40 152.71,348.37 153.27,348.33 153.82,348.30 154.38,348.27 154.94,348.24 155.50,348.21 156.06,348.19 156.62,348.17 157.18,348.15 157.73,348.15 158.29,348.14 158.85,348.15 159.41,348.17 159.97,348.22 160.53,348.29 161.08,348.38 161.64,348.48 162.20,348.60 162.76,348.72 163.32,348.85 163.88,348.99 164.44,349.12 164.99,349.26 165.55,349.39 166.11,349.51 166.67,349.62 167.23,349.73 167.79,349.83 168.35,349.93 168.90,350.03 169.46,350.13 170.02,350.23 170.58,350.33 171.14,350.43 171.70,350.53 172.25,350.63 172.81,350.73 173.37,350.84 173.93,350.95 174.49,351.06 175.05,351.17 175.61,351.29 176.16,351.41 176.72,351.53 177.28,351.67 177.84,351.80 178.40,351.94 178.96,352.11 179.52,352.30 180.07,352.51 180.63,352.74 181.19,352.96 181.75,353.19 182.31,353.40 182.87,353.60 183.43,353.77 183.98,353.91 184.54,354.04 185.10,354.15 185.66,354.27 186.22,354.38 186.78,354.49 187.33,354.59 187.89,354.69 188.45,354.79 189.01,354.88 189.57,354.98 190.13,355.07 190.69,355.15 191.24,355.24 191.80,355.32 192.36,355.41 192.92,355.48 193.48,355.56 194.04,355.64 194.59,355.72 195.15,355.79 195.71,355.86 196.27,355.94 196.83,356.01 197.39,356.08 197.95,356.15 198.50,356.22 199.06,356.29 199.62,356.36 200.18,356.43 200.74,356.50 201.30,356.57 201.86,356.64 202.41,356.71 202.97,356.77 203.53,356.83 204.09,356.89 204.65,356.94 205.21,356.99 205.76,357.03 206.32,357.07 206.88,357.11 207.44,357.15 208.00,357.19 208.56,357.22 209.12,357.26 209.67,357.29 210.23,357.32 210.79,357.35 211.35,357.39 211.91,357.42 212.47,357.44 213.03,357.47 213.58,357.50 214.14,357.53 214.70,357.56 215.26,357.58 215.82,357.61 216.38,357.63 216.94,357.66 217.49,357.68 218.05,357.71 218.61,357.73 219.17,357.76 219.73,357.78 220.29,357.81 220.84,357.83 221.40,357.86 221.96,357.89 222.52,357.91 223.08,357.94 223.64,357.97 224.20,357.99 224.75,358.02 225.31,358.05 225.87,358.08 226.43,358.10 226.99,358.13 227.55,358.16 228.11,358.18 228.66,358.21 229.22,358.24 229.78,358.27 230.34,358.30 230.90,358.33 231.46,358.36 232.01,358.39 232.57,358.42 233.13,358.46 233.69,358.50 234.25,358.53 234.81,358.58 235.37,358.62 235.92,358.66 236.48,358.71 237.04,358.76 237.60,358.82 238.16,358.90 238.72,358.98 239.27,359.07 239.83,359.17 240.39,359.29 240.95,359.41 241.51,359.53 242.07,359.66 242.63,359.80 243.18,359.94 243.74,360.09 244.30,360.24 244.86,360.39 245.42,360.55 245.98,360.70 246.54,360.86 247.09,361.01 247.65,361.16 248.21,361.31 248.77,361.46 249.33,361.61 249.89,361.74 250.44,361.88 251.00,362.01 251.56,362.13 252.12,362.24 252.68,362.34 253.24,362.44 253.80,362.54 254.35,362.64 254.91,362.74 255.47,362.83 256.03,362.92 256.59,363.02 257.15,363.11 257.71,363.20 258.26,363.29 258.82,363.38 259.38,363.46 259.94,363.55 260.50,363.63 261.06,363.71 261.62,363.79 262.17,363.87 262.73,363.95 263.29,364.02 263.85,364.10 264.41,364.17 264.97,364.24 265.52,364.31 266.08,364.37 266.64,364.44 267.20,364.50" fill="none" stroke="#5fd67c" stroke-width="0.75" stroke-linejoin="round"/>
<polyline points="43.80,220.70 44.36,240.48 44.92,258.45 45.48,275.72 46.03,290.40 46.59,299.62 47.15,307.02 47.71,313.02 48.27,317.68 48.83,321.49 49.38,324.73 49.94,327.28 50.50,328.95 51.06,330.02 51.62,330.92 52.18,331.61 52.74,332.07 53.29,332.43 53.85,332.70 54.41,332.87 54.97,332.96 55.53,332.95 56.09,332.84 56.65,332.62 57.20,332.30 57.76,331.90 58.32,331.44 58.88,330.95 59.44,330.44 60.00,329.93 60.55,329.45 61.11,328.95 61.67,328.41 62.23,327.82 62.79,327.20 63.35,326.56 63.91,325.90 64.46,325.24 65.02,324.59 65.58,323.95 66.14,323.33 66.70,322.75 67.26,322.21 67.82,321.71 68.37,321.23 68.93,320.77 69.49,320.32 70.05,319.87 70.61,319.43 71.17,318.98 71.72,318.53 72.28,318.08 72.84,317.66 73.40,317.24 73.96,316.82 74.52,316.41 75.08,315.99 75.63,315.56 76.19,315.11 76.75,314.63 77.31,314.13 77.87,313.59 78.43,313.01 78.99,312.38 79.54,311.70 80.10,310.96 80.66,310.17 81.22,309.32 81.78,308.43 82.34,307.49 82.89,306.50 83.45,305.47 84.01,304.40 84.57,303.28 85.13,302.13 85.69,300.94 86.25,299.72 86.80,298.45 87.36,297.09 87.92,295.63 88.48,294.07 89.04,292.43 89.60,290.70 90.16,288.89 90.71,287.02 91.27,285.08 91.83,283.08 92.39,281.03 92.95,278.92 93.51,276.72 94.06,274.41 94.62,271.98 95.18,269.43 95.74,266.75 96.30,263.92 96.86,260.96 97.42,257.83 97.97,254.17 98.53,250.07 99.09,245.81 99.65,241.72 100.21,238.09 100.77,234.56 101.33,230.80 101.88,227.20 102.44,224.14 103.00,222.02 103.56,221.25 104.12,222.00 104.68,223.94 105.23,226.73 105.79,230.02 106.35,233.46 106.91,237.43 107.47,242.41 108.03,248.23 108.59,254.71 109.14,261.69 109.70,269.29 110.26,279.05 110.82,287.90 111.38,294.60 111.94,300.56 112.50,305.80 113.05,310.35 113.61,314.38 114.17,318.04 114.73,321.32 115.29,324.24 115.85,326.80 116.41,329.18 116.96,331.41 117.52,333.47 118.08,335.31 118.64,336.90 119.20,338.22 119.76,339.36 120.31,340.43 120.87,341.43 121.43,342.33 121.99,343.12 122.55,343.79 123.11,344.32 123.67,344.71 124.22,345.04 124.78,345.36 125.34,345.67 125.90,345.96 126.46,346.24 127.02,346.52 127.58,346.77 128.13,347.02 128.69,347.26 129.25,347.48 129.81,347.70 130.37,347.90 130.93,348.09 131.48,348.28 132.04,348.45 132.60,348.62 133.16,348.77 133.72,348.91 134.28,349.03 134.84,349.13 135.39,349.22 135.95,349.29 136.51,349.35 137.07,349.40 137.63,349.44 138.19,349.47 138.75,349.49 139.30,349.50 139.86,349.50 140.42,349.49 140.98,349.47 141.54,349.45 142.10,349.41 142.65,349.37 143.21,349.33 143.77,349.28 144.33,349.23 144.89,349.17 145.45,349.12 146.01,349.06 146.56,349.00 147.12,348.95 147.68,348.89 148.24,348.84 148.80,348.79 149.36,348.75 149.91,348.71 150.47,348.68 151.03,348.64 151.59,348.60 152.15,348.56 152.71,348.52 153.27,348.48 153.82,348.44 154.38,348.40 154.94,348.37 155.50,348.34 156.06,348.31 156.62,348.29 157.18,348.27 157.73,348.26 158.29,348.25 158.85,348.26 159.41,348.28 159.97,348.33 160.53,348.40 161.08,348.49 161.64,348.60 162.20,348.72 162.76,348.84 163.32,348.98 163.88,349.12 164.44,349.26 164.99,349.40 165.55,349.53 166.11,349.66 166.67,349.78 167.23,349.88 167.79,349.99 168.35,350.09 168.90,350.19 169.46,350.29 170.02,350.39 170.58,350.49 171.14,350.59 171.70,350.69 172.25,350.79 172.81,350.90 173.37,351.00 173.93,351.11 174.49,351.22 175.05,351.34 175.61,351.46 176.16,351.58 176.72,351.71 177.28,351.84 177.84,351.98 178.40,352.13 178.96,352.30 179.52,352.50 180.07,352.72 180.63,352.95 181.19,353.19 181.75,353.42 182.31,353.64 182.87,353.85 183.43,354.03 183.98,354.17 184.54,354.29 185.10,354.41 185.66,354.52 186.22,354.63 186.78,354.74 187.33,354.84 187.89,354.94 188.45,355.03 189.01,355.12 189.57,355.21 190.13,355.30 190.69,355.38 191.24,355.46 191.80,355.54 192.36,355.62 192.92,355.69 193.48,355.77 194.04,355.84 194.59,355.91 195.15,355.98 195.71,356.04 196.27,356.11 196.83,356.18 197.39,356.24 197.95,356.31 198.50,356.38 199.06,356.44 199.62,356.51 200.18,356.58 200.74,356.64 201.30,356.71 201.86,356.78 202.41,356.84 202.97,356.90 203.53,356.96 204.09,357.01 204.65,357.06 205.21,357.10 205.76,357.14 206.32,357.18 206.88,357.22 207.44,357.26 208.00,357.29 208.56,357.32 209.12,357.36 209.67,357.39 210.23,357.42 210.79,357.45 211.35,357.47 211.91,357.50 212.47,357.53 213.03,357.55 213.58,357.58 214.14,357.60 214.70,357.63 215.26,357.65 215.82,357.68 216.38,357.70 216.94,357.73 217.49,357.75 218.05,357.77 218.61,357.80 219.17,357.82 219.73,357.85 220.29,357.87 220.84,357.90 221.40,357.92 221.96,357.95 222.52,357.98 223.08,358.00 223.64,358.03 224.20,358.06 224.75,358.09 225.31,358.12 225.87,358.15 226.43,358.18 226.99,358.21 227.55,358.24 228.11,358.27 228.66,358.30 229.22,358.33 229.78,358.37 230.34,358.40 230.90,358.43 231.46,358.47 232.01,358.50 232.57,358.54 233.13,358.58 233.69,358.62 234.25,358.67 234.81,358.71 235.37,358.76 235.92,358.81 236.48,358.86 237.04,358.91 237.60,358.98 238.16,359.05 238.72,359.14 239.27,359.23 239.83,359.33 240.39,359.44 240.95,359.56 241.51,359.68 242.07,359.81 242.63,359.94 243.18,360.08 243.74,360.22 244.30,360.37 244.86,360.51 245.42,360.66 245.98,360.81 246.54,360.95 247.09,361.10 247.65,361.25 248.21,361.39 248.77,361.53 249.33,361.67 249.89,361.80 250.44,361.93 251.00,362.05 251.56,362.17 252.12,362.28 252.68,362.38 253.24,362.48 253.80,362.58 254.35,362.67 254.91,362.76 255.47,362.86 256.03,362.95 256.59,363.04 257.15,363.13 257.71,363.22 258.26,363.31 258.82,363.39 259.38,363.48 259.94,363.56 260.50,363.64 261.06,363.72 261.62,363.80 262.17,363.88 262.73,363.95 263.29,364.03 263.85,364.10 264.41,364.17 264.97,364.24 265.52,364.31 266.08,364.37 266.64,364.44 267.20,364.50" fill="none" stroke="#9a5ccc" stroke-width="0.75" stroke-linejoin="round"/>
<polyline points="43.80,220.70 44.36,241.50 44.92,260.30 45.48,278.33 46.03,293.55 46.59,302.90 47.15,310.21 47.71,315.94 48.27,320.21 48.83,323.64 49.38,326.58 49.94,328.82 50.50,330.11 51.06,330.82 51.62,331.46 52.18,332.02 52.74,332.50 53.29,332.90 53.85,333.21 54.41,333.43 54.97,333.57 55.53,333.60 56.09,333.53 56.65,333.35 57.20,333.08 57.76,332.75 58.32,332.36 58.88,331.93 59.44,331.49 60.00,331.05 60.55,330.63 61.11,330.21 61.67,329.73 62.23,329.22 62.79,328.68 63.35,328.11 63.91,327.54 64.46,326.95 65.02,326.37 65.58,325.80 66.14,325.25 66.70,324.73 67.26,324.24 67.82,323.78 68.37,323.33 68.93,322.89 69.49,322.46 70.05,322.04 70.61,321.61 71.17,321.18 71.72,320.74 72.28,320.30 72.84,319.88 73.40,319.47 73.96,319.06 74.52,318.66 75.08,318.25 75.63,317.82 76.19,317.38 76.75,316.92 77.31,316.42 77.87,315.89 78.43,315.31 78.99,314.69 79.54,314.00 80.10,313.26 80.66,312.46 81.22,311.60 81.78,310.69 82.34,309.73 82.89,308.72 83.45,307.66 84.01,306.56 84.57,305.42 85.13,304.23 85.69,303.00 86.25,301.74 86.80,300.43 87.36,299.02 87.92,297.50 88.48,295.88 89.04,294.16 89.60,292.36 90.16,290.47 90.71,288.51 91.27,286.48 91.83,284.38 92.39,282.23 92.95,280.03 93.51,277.72 94.06,275.29 94.62,272.73 95.18,270.04 95.74,267.21 96.30,264.24 96.86,261.10 97.42,257.79 97.97,253.92 98.53,249.57 99.09,245.05 99.65,240.71 100.21,236.85 100.77,233.10 101.33,229.09 101.88,225.25 102.44,221.99 103.00,219.73 103.56,218.88 104.12,219.64 104.68,221.66 105.23,224.58 105.79,228.03 106.35,231.64 106.91,235.82 107.47,241.08 108.03,247.23 108.59,254.08 109.14,261.44 109.70,269.47 110.26,279.79 110.82,289.11 111.38,296.11 111.94,302.30 112.50,307.73 113.05,312.40 113.61,316.51 114.17,320.24 114.73,323.56 115.29,326.49 115.85,329.02 116.41,331.34 116.96,333.51 117.52,335.49 118.08,337.25 118.64,338.77 119.20,340.01 119.76,341.09 120.31,342.10 120.87,343.03 121.43,343.87 121.99,344.60 122.55,345.21 123.11,345.67 123.67,345.98 124.22,346.25 124.78,346.50 125.34,346.75 125.90,346.99 126.46,347.22 127.02,347.44 127.58,347.65 128.13,347.85 128.69,348.04 129.25,348.22 129.81,348.39 130.37,348.56 130.93,348.71 131.48,348.85 132.04,348.99 132.60,349.11 133.16,349.22 133.72,349.33 134.28,349.42 134.84,349.51 135.39,349.58 135.95,349.64 136.51,349.70 137.07,349.74 137.63,349.77 138.19,349.79 138.75,349.81 139.30,349.81 139.86,349.80 140.42,349.78 140.98,349.75 141.54,349.72 142.10,349.67 142.65,349.62 143.21,349.57 143.77,349.51 144.33,349.45 144.89,349.39 145.45,349.32 146.01,349.26 146.56,349.20 147.12,349.13 147.68,349.07 148.24,349.01 148.80,348.96 149.36,348.91 149.91,348.87 150.47,348.83 151.03,348.79 151.59,348.74 152.15,348.70 152.71,348.65 153.27,348.61 153.82,348.57 154.38,348.53 154.94,348.49 155.50,348.45 156.06,348.42 156.62,348.40 157.18,348.37 157.73,348.36 158.29,348.35 158.85,348.35 159.41,348.37 159.97,348.42 160.53,348.50 161.08,348.59 161.64,348.70 162.20,348.82 162.76,348.95 163.32,349.09 163.88,349.24 164.44,349.38 164.99,349.53 165.55,349.66 166.11,349.79 166.67,349.91 167.23,350.02 167.79,350.13 168.35,350.23 168.90,350.33 169.46,350.43 170.02,350.53 170.58,350.63 171.14,350.73 171.70,350.83 172.25,350.94 172.81,351.04 173.37,351.15 173.93,351.26 174.49,351.37 175.05,351.48 175.61,351.60 176.16,351.73 176.72,351.86 177.28,351.99 177.84,352.14 178.40,352.29 178.96,352.46 179.52,352.67 180.07,352.90 180.63,353.14 181.19,353.38 181.75,353.63 182.31,353.86 182.87,354.07 183.43,354.25 183.98,354.39 184.54,354.51 185.10,354.63 185.66,354.74 186.22,354.85 186.78,354.96 187.33,355.06 187.89,355.15 188.45,355.24 189.01,355.33 189.57,355.42 190.13,355.50 190.69,355.58 191.24,355.66 191.80,355.73 192.36,355.80 192.92,355.87 193.48,355.94 194.04,356.01 194.59,356.07 195.15,356.14 195.71,356.20 196.27,356.27 196.83,356.33 197.39,356.39 197.95,356.45 198.50,356.51 199.06,356.58 199.62,356.64 200.18,356.70 200.74,356.77 201.30,356.83 201.86,356.89 202.41,356.95 202.97,357.01 203.53,357.07 204.09,357.12 204.65,357.16 205.21,357.21 205.76,357.24 206.32,357.28 206.88,357.32 207.44,357.35 208.00,357.38 208.56,357.41 209.12,357.44 209.67,357.47 210.23,357.50 210.79,357.53 211.35,357.55 211.91,357.58 212.47,357.60 213.03,357.62 213.58,357.65 214.14,357.67 214.70,357.69 215.26,357.72 215.82,357.74 216.38,357.76 216.94,357.78 217.49,357.81 218.05,357.83 218.61,357.85 219.17,357.88 219.73,357.90 220.29,357.92 220.84,357.95 221.40,357.98 221.96,358.00 222.52,358.03 223.08,358.06 223.64,358.09 224.20,358.12 224.75,358.15 225.31,358.19 225.87,358.22 226.43,358.25 226.99,358.28 227.55,358.32 228.11,358.35 228.66,358.38 229.22,358.42 229.78,358.45 230.34,358.49 230.90,358.53 231.46,358.56 232.01,358.60 232.57,358.65 233.13,358.69 233.69,358.73 234.25,358.78 234.81,358.83 235.37,358.88 235.92,358.93 236.48,358.99 237.04,359.05 237.60,359.11 238.16,359.19 238.72,359.28 239.27,359.37 239.83,359.47 240.39,359.58 240.95,359.69 241.51,359.81 242.07,359.94 242.63,360.07 243.18,360.20 243.74,360.34 244.30,360.47 244.86,360.61 245.42,360.76 245.98,360.90 246.54,361.04 247.09,361.18 247.65,361.32 248.21,361.46 248.77,361.59 249.33,361.73 249.89,361.85 250.44,361.98 251.00,362.10 251.56,362.21 252.12,362.32 252.68,362.42 253.24,362.51 253.80,362.61 254.35,362.70 254.91,362.79 255.47,362.88 256.03,362.97 256.59,363.06 257.15,363.15 257.71,363.24 258.26,363.32 258.82,363.41 259.38,363.49 259.94,363.57 260.50,363.65 261.06,363.73 261.62,363.81 262.17,363.88 262.73,363.96 263.29,364.03 263.85,364.10 264.41,364.17 264.97,364.24 265.52,364.31 266.08,364.37 266.64,364.44 267.20,364.50" fill="none" stroke="#7048b8" stroke-width="0.9" stroke-linejoin="round"/>
<polyline points="43.80,327.51 47.15,327.51 50.50,326.99 52.74,325.95" fill="none" stroke="#9aa8a4" stroke-width="0.8"/>
<line x1="43.50" y1="207.70" x2="43.50" y2="365.00" stroke="#2a2a36" stroke-width="1.25"/>
<line x1="43.30" y1="364.50" x2="267.70" y2="364.50" stroke="#2a2a36" stroke-width="1.25"/>
<line x1="40.20" y1="364.50" x2="43.80" y2="364.50" stroke="#2a2a36" stroke-width="1.0"/>
<text transform="translate(38.00,367.70) scale(1.03,1)" font-size="9.7" text-anchor="end" fill="#222" >0.0</text>
<line x1="41.60" y1="338.50" x2="43.80" y2="338.50" stroke="#2a2a36" stroke-width="1.0"/>
<line x1="40.20" y1="312.50" x2="43.80" y2="312.50" stroke="#2a2a36" stroke-width="1.0"/>
<text transform="translate(38.00,315.60) scale(1.03,1)" font-size="9.7" text-anchor="end" fill="#222" >0.1</text>
<line x1="41.60" y1="286.50" x2="43.80" y2="286.50" stroke="#2a2a36" stroke-width="1.0"/>
<line x1="40.20" y1="260.50" x2="43.80" y2="260.50" stroke="#2a2a36" stroke-width="1.0"/>
<text transform="translate(38.00,263.50) scale(1.03,1)" font-size="9.7" text-anchor="end" fill="#222" >0.2</text>
<line x1="41.60" y1="234.50" x2="43.80" y2="234.50" stroke="#2a2a36" stroke-width="1.0"/>
<line x1="40.20" y1="208.50" x2="43.80" y2="208.50" stroke="#2a2a36" stroke-width="1.0"/>
<text transform="translate(38.00,211.40) scale(1.03,1)" font-size="9.7" text-anchor="end" fill="#222" >0.3</text>
<line x1="43.50" y1="364.50" x2="43.50" y2="368.10" stroke="#2a2a36" stroke-width="1.0"/>
<text transform="translate(43.80,376.80) scale(1.03,1)" font-size="9.7" text-anchor="middle" fill="#222" >300</text>
<line x1="71.50" y1="364.50" x2="71.50" y2="366.70" stroke="#2a2a36" stroke-width="1.0"/>
<line x1="99.50" y1="364.50" x2="99.50" y2="368.10" stroke="#2a2a36" stroke-width="1.0"/>
<text transform="translate(99.65,376.80) scale(1.03,1)" font-size="9.7" text-anchor="middle" fill="#222" >400</text>
<line x1="127.50" y1="364.50" x2="127.50" y2="366.70" stroke="#2a2a36" stroke-width="1.0"/>
<line x1="155.50" y1="364.50" x2="155.50" y2="368.10" stroke="#2a2a36" stroke-width="1.0"/>
<text transform="translate(155.50,376.80) scale(1.03,1)" font-size="9.7" text-anchor="middle" fill="#222" >500</text>
<line x1="183.50" y1="364.50" x2="183.50" y2="366.70" stroke="#2a2a36" stroke-width="1.0"/>
<line x1="211.50" y1="364.50" x2="211.50" y2="368.10" stroke="#2a2a36" stroke-width="1.0"/>
<text transform="translate(211.35,376.80) scale(1.03,1)" font-size="9.7" text-anchor="middle" fill="#222" >600</text>
<line x1="239.50" y1="364.50" x2="239.50" y2="366.70" stroke="#2a2a36" stroke-width="1.0"/>
<line x1="267.50" y1="364.50" x2="267.50" y2="368.10" stroke="#2a2a36" stroke-width="1.0"/>
<text transform="translate(267.20,376.80) scale(1.03,1)" font-size="9.7" text-anchor="middle" fill="#222" >700</text>
<text transform="translate(155.55,387.00) scale(1.03,1)" font-size="9.819999999999999" text-anchor="middle" fill="#222" >Wavelength (nm)</text>
<text transform="translate(18.20,284.80) rotate(-90)" font-size="9.5" text-anchor="middle" fill="#222" >Absorbance</text>
<text transform="translate(73.3,213.1) scale(1.03,1)" font-size="9.7" fill="#222">F14-pH 5.0 K<tspan font-size="6" dy="-5.5">+</tspan></text>
<path d="M90.30,219.50 L93.90,226.20 L91.75,226.20 L91.75,250.30 L88.85,250.30 L88.85,226.20 L86.70,226.20 Z" fill="#000"/>
<polyline points="320.30,273.23 320.82,282.14 321.35,290.11 321.87,296.75 322.39,302.39 322.92,307.45 323.44,311.74 323.96,315.05 324.49,317.82 325.01,320.34 325.53,322.18 326.06,322.89 326.58,322.72 327.10,322.27 327.63,321.57 328.15,320.67 328.67,319.63 329.20,318.50 329.72,317.33 330.24,316.16 330.76,315.05 331.29,313.94 331.81,312.74 332.33,311.47 332.86,310.13 333.38,308.73 333.90,307.28 334.43,305.79 334.95,304.27 335.47,302.71 336.00,301.14 336.52,299.46 337.04,297.66 337.57,295.77 338.09,293.82 338.61,291.85 339.14,289.89 339.66,287.97 340.18,286.13 340.71,284.39 341.23,282.79 341.75,281.29 342.28,279.79 342.80,278.31 343.32,276.84 343.85,275.41 344.37,274.01 344.89,272.66 345.42,271.37 345.94,270.14 346.46,268.99 346.99,267.92 347.51,266.95 348.03,266.08 348.56,265.32 349.08,264.63 349.60,263.96 350.13,263.32 350.65,262.71 351.17,262.13 351.69,261.57 352.22,261.04 352.74,260.53 353.26,260.05 353.79,259.59 354.31,259.16 354.83,258.75 355.36,258.37 355.88,258.01 356.40,257.67 356.93,257.35 357.45,257.06 357.97,256.79 358.50,256.54 359.02,256.32 359.54,256.12 360.07,255.93 360.59,255.76 361.11,255.59 361.64,255.44 362.16,255.28 362.68,255.13 363.21,254.98 363.73,254.82 364.25,254.65 364.78,254.47 365.30,254.28 365.82,254.07 366.35,253.84 366.87,253.59 367.39,253.31 367.92,252.97 368.44,252.57 368.96,252.13 369.49,251.65 370.01,251.15 370.53,250.65 371.06,250.17 371.58,249.71 372.10,249.23 372.62,248.67 373.15,248.10 373.67,247.56 374.19,247.10 374.72,246.76 375.24,246.59 375.76,246.59 376.29,246.66 376.81,246.78 377.33,246.93 377.86,247.10 378.38,247.42 378.90,247.97 379.43,248.63 379.95,249.32 380.47,249.94 381.00,250.40 381.52,250.80 382.04,251.18 382.57,251.53 383.09,251.86 383.61,252.17 384.14,252.48 384.66,252.78 385.18,253.07 385.71,253.37 386.23,253.65 386.75,253.89 387.28,254.11 387.80,254.34 388.32,254.59 388.85,254.87 389.37,255.22 389.89,255.65 390.42,256.28 390.94,257.10 391.46,258.07 391.99,259.15 392.51,260.32 393.03,261.54 393.56,262.78 394.08,264.12 394.60,265.63 395.12,267.28 395.65,269.02 396.17,270.82 396.69,272.62 397.22,274.39 397.74,276.09 398.26,277.68 398.79,279.28 399.31,280.88 399.83,282.49 400.36,284.08 400.88,285.65 401.40,287.19 401.93,288.69 402.45,290.15 402.97,291.55 403.50,292.88 404.02,294.14 404.54,295.34 405.07,296.50 405.59,297.63 406.11,298.73 406.64,299.79 407.16,300.83 407.68,301.84 408.21,302.83 408.73,303.80 409.25,304.75 409.78,305.68 410.30,306.60 410.82,307.51 411.35,308.41 411.87,309.30 412.39,310.20 412.92,311.14 413.44,312.08 413.96,313.03 414.49,313.97 415.01,314.88 415.53,315.76 416.05,316.58 416.58,317.34 417.10,318.03 417.62,318.62 418.15,319.11 418.67,319.49 419.19,319.82 419.72,320.13 420.24,320.41 420.76,320.68 421.29,320.93 421.81,321.17 422.33,321.39 422.86,321.60 423.38,321.80 423.90,321.99 424.43,322.17 424.95,322.34 425.47,322.51 426.00,322.67 426.52,322.83 427.04,322.99 427.57,323.16 428.09,323.32 428.61,323.49 429.14,323.66 429.66,323.85 430.18,324.03 430.71,324.20 431.23,324.37 431.75,324.54 432.28,324.70 432.80,324.87 433.32,325.03 433.85,325.19 434.37,325.35 434.89,325.51 435.42,325.68 435.94,325.85 436.46,326.02 436.98,326.20 437.51,326.39 438.03,326.59 438.55,326.79 439.08,326.99 439.60,327.20 440.12,327.40 440.65,327.60 441.17,327.79 441.69,327.98 442.22,328.16 442.74,328.33 443.26,328.49 443.79,328.64 444.31,328.76 444.83,328.88 445.36,328.98 445.88,329.07 446.40,329.16 446.93,329.25 447.45,329.34 447.97,329.43 448.50,329.54 449.02,329.66 449.54,329.79 450.07,329.94 450.59,330.14 451.11,330.38 451.64,330.67 452.16,330.99 452.68,331.33 453.21,331.69 453.73,332.06 454.25,332.42 454.78,332.76 455.30,333.08 455.82,333.38 456.35,333.68 456.87,333.98 457.39,334.27 457.91,334.56 458.44,334.86 458.96,335.15 459.48,335.44 460.01,335.73 460.53,336.03 461.05,336.32 461.58,336.62 462.10,336.93 462.62,337.23 463.15,337.54 463.67,337.85 464.19,338.16 464.72,338.48 465.24,338.79 465.76,339.11 466.29,339.42 466.81,339.74 467.33,340.05 467.86,340.37 468.38,340.69 468.90,341.00 469.43,341.32 469.95,341.63 470.47,341.95 471.00,342.26 471.52,342.57 472.04,342.88 472.57,343.19 473.09,343.49 473.61,343.79 474.14,344.09 474.66,344.41 475.18,344.75 475.71,345.11 476.23,345.48 476.75,345.86 477.27,346.24 477.80,346.63 478.32,347.00 478.84,347.37 479.37,347.72 479.89,348.05 480.41,348.36 480.94,348.65 481.46,348.89 481.98,349.11 482.51,349.28 483.03,349.40 483.55,349.47 484.08,349.49 484.60,349.46 485.12,349.40 485.65,349.30 486.17,349.17 486.69,349.01 487.22,348.83 487.74,348.64 488.26,348.42 488.79,348.20 489.31,347.96 489.83,347.73 490.36,347.49 490.88,347.25 491.40,347.02 491.93,346.80 492.45,346.60 492.97,346.41 493.50,346.21 494.02,346.00 494.54,345.77 495.07,345.54 495.59,345.30 496.11,345.06 496.64,344.84 497.16,344.63 497.68,344.44 498.21,344.27 498.73,344.14 499.25,344.05 499.77,344.01 500.30,344.02 500.82,344.11 501.34,344.27 501.87,344.49 502.39,344.76 502.91,345.08 503.44,345.44 503.96,345.82 504.48,346.22 505.01,346.64 505.53,347.05 506.05,347.45 506.58,347.89 507.10,348.41 507.62,348.99 508.15,349.62 508.67,350.29 509.19,350.99 509.72,351.71 510.24,352.43 510.76,353.15 511.29,353.85 511.81,354.51 512.33,355.14 512.86,355.71 513.38,356.21 513.90,356.65 514.43,357.07 514.95,357.47 515.47,357.87 516.00,358.25 516.52,358.62 517.04,358.97 517.57,359.31 518.09,359.64 518.61,359.95 519.13,360.26 519.66,360.54 520.18,360.82 520.70,361.08 521.23,361.33 521.75,361.56 522.27,361.78 522.80,361.97 523.32,362.14 523.84,362.29 524.37,362.44 524.89,362.58 525.41,362.72 525.94,362.87 526.46,363.03 526.98,363.21 527.51,363.41 528.03,363.63 528.55,363.90 529.08,364.27 529.60,364.70" fill="none" stroke="#7f9c94" stroke-width="0.75" stroke-linejoin="round"/>
<polyline points="320.30,272.09 320.82,281.02 321.35,289.09 321.87,295.94 322.39,301.95 322.92,307.40 323.44,311.85 323.96,315.19 324.49,318.01 325.01,320.54 325.53,322.35 326.06,323.05 326.58,322.90 327.10,322.48 327.63,321.83 328.15,321.01 328.67,320.05 329.20,319.00 329.72,317.91 330.24,316.82 330.76,315.78 331.29,314.73 331.81,313.60 332.33,312.38 332.86,311.09 333.38,309.74 333.90,308.34 334.43,306.89 334.95,305.41 335.47,303.90 336.00,302.37 336.52,300.74 337.04,298.98 337.57,297.14 338.09,295.23 338.61,293.30 339.14,291.37 339.66,289.48 340.18,287.66 340.71,285.93 341.23,284.34 341.75,282.84 342.28,281.33 342.80,279.82 343.32,278.33 343.85,276.86 344.37,275.43 344.89,274.05 345.42,272.72 345.94,271.46 346.46,270.28 346.99,269.19 347.51,268.20 348.03,267.31 348.56,266.54 349.08,265.85 349.60,265.18 350.13,264.55 350.65,263.94 351.17,263.37 351.69,262.82 352.22,262.29 352.74,261.79 353.26,261.32 353.79,260.87 354.31,260.44 354.83,260.03 355.36,259.64 355.88,259.28 356.40,258.93 356.93,258.60 357.45,258.28 357.97,257.99 358.50,257.72 359.02,257.48 359.54,257.25 360.07,257.04 360.59,256.84 361.11,256.66 361.64,256.47 362.16,256.30 362.68,256.12 363.21,255.93 363.73,255.74 364.25,255.55 364.78,255.33 365.30,255.10 365.82,254.85 366.35,254.58 366.87,254.28 367.39,253.95 367.92,253.55 368.44,253.07 368.96,252.54 369.49,251.95 370.01,251.35 370.53,250.73 371.06,250.13 371.58,249.55 372.10,248.92 372.62,248.19 373.15,247.43 373.67,246.70 374.19,246.06 374.72,245.60 375.24,245.37 375.76,245.40 376.29,245.58 376.81,245.86 377.33,246.19 377.86,246.53 378.38,246.98 378.90,247.63 379.43,248.39 379.95,249.17 380.47,249.88 381.00,250.45 381.52,250.96 382.04,251.45 382.57,251.92 383.09,252.37 383.61,252.80 384.14,253.22 384.66,253.63 385.18,254.03 385.71,254.43 386.23,254.80 386.75,255.14 387.28,255.46 387.80,255.77 388.32,256.10 388.85,256.47 389.37,256.89 389.89,257.39 390.42,258.06 390.94,258.88 391.46,259.83 391.99,260.89 392.51,262.03 393.03,263.21 393.56,264.41 394.08,265.71 394.60,267.17 395.12,268.75 395.65,270.42 396.17,272.14 396.69,273.86 397.22,275.55 397.74,277.18 398.26,278.71 398.79,280.25 399.31,281.79 399.83,283.32 400.36,284.85 400.88,286.36 401.40,287.84 401.93,289.29 402.45,290.69 402.97,292.04 403.50,293.33 404.02,294.55 404.54,295.71 405.07,296.84 405.59,297.94 406.11,299.01 406.64,300.05 407.16,301.06 407.68,302.05 408.21,303.02 408.73,303.97 409.25,304.91 409.78,305.82 410.30,306.73 410.82,307.62 411.35,308.50 411.87,309.38 412.39,310.27 412.92,311.19 413.44,312.13 413.96,313.07 414.49,314.00 415.01,314.91 415.53,315.78 416.05,316.60 416.58,317.35 417.10,318.03 417.62,318.62 418.15,319.11 418.67,319.49 419.19,319.82 419.72,320.13 420.24,320.41 420.76,320.68 421.29,320.93 421.81,321.17 422.33,321.39 422.86,321.60 423.38,321.80 423.90,321.98 424.43,322.16 424.95,322.34 425.47,322.51 426.00,322.67 426.52,322.83 427.04,322.99 427.57,323.16 428.09,323.32 428.61,323.49 429.14,323.66 429.66,323.85 430.18,324.03 430.71,324.20 431.23,324.37 431.75,324.54 432.28,324.70 432.80,324.87 433.32,325.03 433.85,325.19 434.37,325.35 434.89,325.51 435.42,325.68 435.94,325.85 436.46,326.02 436.98,326.20 437.51,326.39 438.03,326.59 438.55,326.79 439.08,326.99 439.60,327.20 440.12,327.40 440.65,327.60 441.17,327.79 441.69,327.98 442.22,328.16 442.74,328.33 443.26,328.49 443.79,328.64 444.31,328.76 444.83,328.88 445.36,328.98 445.88,329.07 446.40,329.16 446.93,329.25 447.45,329.34 447.97,329.43 448.50,329.54 449.02,329.66 449.54,329.79 450.07,329.94 450.59,330.14 451.11,330.38 451.64,330.67 452.16,330.99 452.68,331.33 453.21,331.69 453.73,332.06 454.25,332.42 454.78,332.76 455.30,333.08 455.82,333.38 456.35,333.68 456.87,333.98 457.39,334.27 457.91,334.56 458.44,334.86 458.96,335.15 459.48,335.44 460.01,335.73 460.53,336.03 461.05,336.32 461.58,336.62 462.10,336.93 462.62,337.23 463.15,337.54 463.67,337.85 464.19,338.16 464.72,338.48 465.24,338.79 465.76,339.11 466.29,339.42 466.81,339.74 467.33,340.05 467.86,340.37 468.38,340.69 468.90,341.00 469.43,341.32 469.95,341.63 470.47,341.95 471.00,342.26 471.52,342.57 472.04,342.88 472.57,343.19 473.09,343.49 473.61,343.79 474.14,344.09 474.66,344.41 475.18,344.75 475.71,345.11 476.23,345.48 476.75,345.86 477.27,346.24 477.80,346.63 478.32,347.00 478.84,347.37 479.37,347.72 479.89,348.05 480.41,348.36 480.94,348.65 481.46,348.89 481.98,349.11 482.51,349.28 483.03,349.40 483.55,349.47 484.08,349.49 484.60,349.46 485.12,349.40 485.65,349.30 486.17,349.17 486.69,349.01 487.22,348.83 487.74,348.64 488.26,348.42 488.79,348.20 489.31,347.96 489.83,347.73 490.36,347.49 490.88,347.25 491.40,347.02 491.93,346.80 492.45,346.60 492.97,346.41 493.50,346.21 494.02,346.00 494.54,345.77 495.07,345.54 495.59,345.30 496.11,345.06 496.64,344.84 497.16,344.63 497.68,344.44 498.21,344.27 498.73,344.14 499.25,344.05 499.77,344.01 500.30,344.02 500.82,344.11 501.34,344.27 501.87,344.49 502.39,344.76 502.91,345.08 503.44,345.44 503.96,345.82 504.48,346.22 505.01,346.64 505.53,347.05 506.05,347.45 506.58,347.89 507.10,348.41 507.62,348.99 508.15,349.62 508.67,350.29 509.19,350.99 509.72,351.71 510.24,352.43 510.76,353.15 511.29,353.85 511.81,354.51 512.33,355.14 512.86,355.71 513.38,356.21 513.90,356.65 514.43,357.07 514.95,357.47 515.47,357.87 516.00,358.25 516.52,358.62 517.04,358.97 517.57,359.31 518.09,359.64 518.61,359.95 519.13,360.26 519.66,360.54 520.18,360.82 520.70,361.08 521.23,361.33 521.75,361.56 522.27,361.78 522.80,361.97 523.32,362.14 523.84,362.29 524.37,362.44 524.89,362.58 525.41,362.72 525.94,362.87 526.46,363.03 526.98,363.21 527.51,363.41 528.03,363.63 528.55,363.90 529.08,364.27 529.60,364.70" fill="none" stroke="#f27ccf" stroke-width="0.75" stroke-linejoin="round"/>
<polyline points="320.30,270.97 320.82,279.93 321.35,288.08 321.87,295.14 322.39,301.51 322.92,307.35 323.44,311.96 323.96,315.32 324.49,318.21 325.01,320.73 325.53,322.53 326.06,323.21 326.58,323.07 327.10,322.69 327.63,322.09 328.15,321.34 328.67,320.45 329.20,319.49 329.72,318.48 330.24,317.47 330.76,316.50 331.29,315.52 331.81,314.44 332.33,313.27 332.86,312.04 333.38,310.73 333.90,309.37 334.43,307.97 334.95,306.53 335.47,305.07 336.00,303.58 336.52,301.99 337.04,300.28 337.57,298.48 338.09,296.62 338.61,294.72 339.14,292.83 339.66,290.97 340.18,289.16 340.71,287.45 341.23,285.86 341.75,284.35 342.28,282.83 342.80,281.30 343.32,279.79 343.85,278.29 344.37,276.83 344.89,275.42 345.42,274.06 345.94,272.76 346.46,271.55 346.99,270.43 347.51,269.42 348.03,268.52 348.56,267.75 349.08,267.05 349.60,266.39 350.13,265.75 350.65,265.15 351.17,264.58 351.69,264.04 352.22,263.53 352.74,263.03 353.26,262.57 353.79,262.12 354.31,261.70 354.83,261.29 355.36,260.90 355.88,260.53 356.40,260.17 356.93,259.82 357.45,259.49 357.97,259.17 358.50,258.88 359.02,258.61 359.54,258.37 360.07,258.13 360.59,257.91 361.11,257.70 361.64,257.50 362.16,257.29 362.68,257.09 363.21,256.87 363.73,256.66 364.25,256.42 364.78,256.18 365.30,255.91 365.82,255.62 366.35,255.31 366.87,254.96 367.39,254.59 367.92,254.12 368.44,253.57 368.96,252.94 369.49,252.25 370.01,251.54 370.53,250.81 371.06,250.09 371.58,249.39 372.10,248.62 372.62,247.71 373.15,246.76 373.67,245.84 374.19,245.05 374.72,244.46 375.24,244.17 375.76,244.22 376.29,244.51 376.81,244.96 377.33,245.47 377.86,245.97 378.38,246.55 378.90,247.30 379.43,248.15 379.95,249.01 380.47,249.82 381.00,250.49 381.52,251.12 382.04,251.72 382.57,252.30 383.09,252.87 383.61,253.42 384.14,253.95 384.66,254.47 385.18,254.98 385.71,255.47 386.23,255.94 386.75,256.37 387.28,256.77 387.80,257.18 388.32,257.59 388.85,258.04 389.37,258.53 389.89,259.10 390.42,259.80 390.94,260.63 391.46,261.57 391.99,262.60 392.51,263.70 393.03,264.84 393.56,266.01 394.08,267.27 394.60,268.68 395.12,270.20 395.65,271.80 396.17,273.44 396.69,275.08 397.22,276.70 397.74,278.25 398.26,279.72 398.79,281.20 399.31,282.67 399.83,284.15 400.36,285.61 400.88,287.06 401.40,288.48 401.93,289.87 402.45,291.22 402.97,292.52 403.50,293.77 404.02,294.95 404.54,296.08 405.07,297.18 405.59,298.25 406.11,299.29 406.64,300.30 407.16,301.30 407.68,302.26 408.21,303.21 408.73,304.14 409.25,305.06 409.78,305.96 410.30,306.85 410.82,307.72 411.35,308.59 411.87,309.46 412.39,310.34 412.92,311.25 413.44,312.18 413.96,313.11 414.49,314.03 415.01,314.93 415.53,315.80 416.05,316.61 416.58,317.36 417.10,318.04 417.62,318.63 418.15,319.11 418.67,319.49 419.19,319.82 419.72,320.12 420.24,320.41 420.76,320.68 421.29,320.93 421.81,321.17 422.33,321.39 422.86,321.60 423.38,321.79 423.90,321.98 424.43,322.16 424.95,322.34 425.47,322.50 426.00,322.67 426.52,322.83 427.04,322.99 427.57,323.16 428.09,323.32 428.61,323.49 429.14,323.66 429.66,323.85 430.18,324.03 430.71,324.20 431.23,324.37 431.75,324.54 432.28,324.70 432.80,324.87 433.32,325.03 433.85,325.19 434.37,325.35 434.89,325.51 435.42,325.68 435.94,325.85 436.46,326.02 436.98,326.20 437.51,326.39 438.03,326.59 438.55,326.79 439.08,326.99 439.60,327.20 440.12,327.40 440.65,327.60 441.17,327.79 441.69,327.98 442.22,328.16 442.74,328.33 443.26,328.49 443.79,328.64 444.31,328.76 444.83,328.88 445.36,328.98 445.88,329.07 446.40,329.16 446.93,329.25 447.45,329.34 447.97,329.43 448.50,329.54 449.02,329.66 449.54,329.79 450.07,329.94 450.59,330.14 451.11,330.38 451.64,330.67 452.16,330.99 452.68,331.33 453.21,331.69 453.73,332.06 454.25,332.42 454.78,332.76 455.30,333.08 455.82,333.38 456.35,333.68 456.87,333.98 457.39,334.27 457.91,334.56 458.44,334.86 458.96,335.15 459.48,335.44 460.01,335.73 460.53,336.03 461.05,336.32 461.58,336.62 462.10,336.93 462.62,337.23 463.15,337.54 463.67,337.85 464.19,338.16 464.72,338.48 465.24,338.79 465.76,339.11 466.29,339.42 466.81,339.74 467.33,340.05 467.86,340.37 468.38,340.69 468.90,341.00 469.43,341.32 469.95,341.63 470.47,341.95 471.00,342.26 471.52,342.57 472.04,342.88 472.57,343.19 473.09,343.49 473.61,343.79 474.14,344.09 474.66,344.41 475.18,344.75 475.71,345.11 476.23,345.48 476.75,345.86 477.27,346.24 477.80,346.63 478.32,347.00 478.84,347.37 479.37,347.72 479.89,348.05 480.41,348.36 480.94,348.65 481.46,348.89 481.98,349.11 482.51,349.28 483.03,349.40 483.55,349.47 484.08,349.49 484.60,349.46 485.12,349.40 485.65,349.30 486.17,349.17 486.69,349.01 487.22,348.83 487.74,348.64 488.26,348.42 488.79,348.20 489.31,347.96 489.83,347.73 490.36,347.49 490.88,347.25 491.40,347.02 491.93,346.80 492.45,346.60 492.97,346.41 493.50,346.21 494.02,346.00 494.54,345.77 495.07,345.54 495.59,345.30 496.11,345.06 496.64,344.84 497.16,344.63 497.68,344.44 498.21,344.27 498.73,344.14 499.25,344.05 499.77,344.01 500.30,344.02 500.82,344.11 501.34,344.27 501.87,344.49 502.39,344.76 502.91,345.08 503.44,345.44 503.96,345.82 504.48,346.22 505.01,346.64 505.53,347.05 506.05,347.45 506.58,347.89 507.10,348.41 507.62,348.99 508.15,349.62 508.67,350.29 509.19,350.99 509.72,351.71 510.24,352.43 510.76,353.15 511.29,353.85 511.81,354.51 512.33,355.14 512.86,355.71 513.38,356.21 513.90,356.65 514.43,357.07 514.95,357.47 515.47,357.87 516.00,358.25 516.52,358.62 517.04,358.97 517.57,359.31 518.09,359.64 518.61,359.95 519.13,360.26 519.66,360.54 520.18,360.82 520.70,361.08 521.23,361.33 521.75,361.56 522.27,361.78 522.80,361.97 523.32,362.14 523.84,362.29 524.37,362.44 524.89,362.58 525.41,362.72 525.94,362.87 526.46,363.03 526.98,363.21 527.51,363.41 528.03,363.63 528.55,363.90 529.08,364.27 529.60,364.70" fill="none" stroke="#c9e35a" stroke-width="0.75" stroke-linejoin="round"/>
<polyline points="320.30,269.87 320.82,278.85 321.35,287.09 321.87,294.35 322.39,301.09 322.92,307.30 323.44,312.06 323.96,315.46 324.49,318.40 325.01,320.93 325.53,322.70 326.06,323.37 326.58,323.24 327.10,322.89 327.63,322.35 328.15,321.66 328.67,320.85 329.20,319.97 329.72,319.04 330.24,318.11 330.76,317.21 331.29,316.28 331.81,315.26 332.33,314.15 332.86,312.96 333.38,311.70 333.90,310.39 334.43,309.03 334.95,307.63 335.47,306.21 336.00,304.77 336.52,303.23 337.04,301.56 337.57,299.80 338.09,297.98 338.61,296.12 339.14,294.26 339.66,292.42 340.18,290.64 340.71,288.94 341.23,287.36 341.75,285.84 342.28,284.30 342.80,282.76 343.32,281.22 343.85,279.70 344.37,278.20 344.89,276.75 345.42,275.36 345.94,274.04 346.46,272.80 346.99,271.65 347.51,270.62 348.03,269.70 348.56,268.93 349.08,268.23 349.60,267.56 350.13,266.94 350.65,266.34 351.17,265.78 351.69,265.24 352.22,264.73 352.74,264.25 353.26,263.79 353.79,263.35 354.31,262.93 354.83,262.52 355.36,262.13 355.88,261.75 356.40,261.38 356.93,261.02 357.45,260.67 357.97,260.33 358.50,260.02 359.02,259.73 359.54,259.46 360.07,259.20 360.59,258.96 361.11,258.73 361.64,258.50 362.16,258.27 362.68,258.03 363.21,257.80 363.73,257.55 364.25,257.28 364.78,257.00 365.30,256.70 365.82,256.38 366.35,256.02 366.87,255.63 367.39,255.20 367.92,254.68 368.44,254.05 368.96,253.33 369.49,252.55 370.01,251.73 370.53,250.88 371.06,250.05 371.58,249.23 372.10,248.32 372.62,247.25 373.15,246.11 373.67,245.01 374.19,244.05 374.72,243.35 375.24,242.99 375.76,243.07 376.29,243.47 376.81,244.07 377.33,244.76 377.86,245.42 378.38,246.12 378.90,246.97 379.43,247.91 379.95,248.86 380.47,249.76 381.00,250.54 381.52,251.27 382.04,251.99 382.57,252.68 383.09,253.36 383.61,254.02 384.14,254.66 384.66,255.29 385.18,255.90 385.71,256.50 386.23,257.06 386.75,257.57 387.28,258.07 387.80,258.56 388.32,259.05 388.85,259.57 389.37,260.14 389.89,260.77 390.42,261.51 390.94,262.35 391.46,263.28 391.99,264.28 392.51,265.34 393.03,266.45 393.56,267.59 394.08,268.81 394.60,270.16 395.12,271.62 395.65,273.15 396.17,274.71 396.69,276.28 397.22,277.82 397.74,279.30 398.26,280.72 398.79,282.13 399.31,283.54 399.83,284.95 400.36,286.36 400.88,287.74 401.40,289.11 401.93,290.44 402.45,291.74 402.97,292.99 403.50,294.20 404.02,295.34 404.54,296.44 405.07,297.51 405.59,298.55 406.11,299.56 406.64,300.55 407.16,301.52 407.68,302.47 408.21,303.40 408.73,304.31 409.25,305.21 409.78,306.09 410.30,306.96 410.82,307.83 411.35,308.69 411.87,309.54 412.39,310.41 412.92,311.31 413.44,312.23 413.96,313.15 414.49,314.06 415.01,314.96 415.53,315.81 416.05,316.62 416.58,317.37 417.10,318.04 417.62,318.63 418.15,319.11 418.67,319.49 419.19,319.82 419.72,320.12 420.24,320.41 420.76,320.68 421.29,320.93 421.81,321.16 422.33,321.39 422.86,321.59 423.38,321.79 423.90,321.98 424.43,322.16 424.95,322.33 425.47,322.50 426.00,322.67 426.52,322.83 427.04,322.99 427.57,323.16 428.09,323.32 428.61,323.49 429.14,323.66 429.66,323.85 430.18,324.03 430.71,324.20 431.23,324.37 431.75,324.54 432.28,324.70 432.80,324.87 433.32,325.03 433.85,325.19 434.37,325.35 434.89,325.51 435.42,325.68 435.94,325.85 436.46,326.02 436.98,326.20 437.51,326.39 438.03,326.59 438.55,326.79 439.08,326.99 439.60,327.20 440.12,327.40 440.65,327.60 441.17,327.79 441.69,327.98 442.22,328.16 442.74,328.33 443.26,328.49 443.79,328.64 444.31,328.76 444.83,328.88 445.36,328.98 445.88,329.07 446.40,329.16 446.93,329.25 447.45,329.34 447.97,329.43 448.50,329.54 449.02,329.66 449.54,329.79 450.07,329.94 450.59,330.14 451.11,330.38 451.64,330.67 452.16,330.99 452.68,331.33 453.21,331.69 453.73,332.06 454.25,332.42 454.78,332.76 455.30,333.08 455.82,333.38 456.35,333.68 456.87,333.98 457.39,334.27 457.91,334.56 458.44,334.86 458.96,335.15 459.48,335.44 460.01,335.73 460.53,336.03 461.05,336.32 461.58,336.62 462.10,336.93 462.62,337.23 463.15,337.54 463.67,337.85 464.19,338.16 464.72,338.48 465.24,338.79 465.76,339.11 466.29,339.42 466.81,339.74 467.33,340.05 467.86,340.37 468.38,340.69 468.90,341.00 469.43,341.32 469.95,341.63 470.47,341.95 471.00,342.26 471.52,342.57 472.04,342.88 472.57,343.19 473.09,343.49 473.61,343.79 474.14,344.09 474.66,344.41 475.18,344.75 475.71,345.11 476.23,345.48 476.75,345.86 477.27,346.24 477.80,346.63 478.32,347.00 478.84,347.37 479.37,347.72 479.89,348.05 480.41,348.36 480.94,348.65 481.46,348.89 481.98,349.11 482.51,349.28 483.03,349.40 483.55,349.47 484.08,349.49 484.60,349.46 485.12,349.40 485.65,349.30 486.17,349.17 486.69,349.01 487.22,348.83 487.74,348.64 488.26,348.42 488.79,348.20 489.31,347.96 489.83,347.73 490.36,347.49 490.88,347.25 491.40,347.02 491.93,346.80 492.45,346.60 492.97,346.41 493.50,346.21 494.02,346.00 494.54,345.77 495.07,345.54 495.59,345.30 496.11,345.06 496.64,344.84 497.16,344.63 497.68,344.44 498.21,344.27 498.73,344.14 499.25,344.05 499.77,344.01 500.30,344.02 500.82,344.11 501.34,344.27 501.87,344.49 502.39,344.76 502.91,345.08 503.44,345.44 503.96,345.82 504.48,346.22 505.01,346.64 505.53,347.05 506.05,347.45 506.58,347.89 507.10,348.41 507.62,348.99 508.15,349.62 508.67,350.29 509.19,350.99 509.72,351.71 510.24,352.43 510.76,353.15 511.29,353.85 511.81,354.51 512.33,355.14 512.86,355.71 513.38,356.21 513.90,356.65 514.43,357.07 514.95,357.47 515.47,357.87 516.00,358.25 516.52,358.62 517.04,358.97 517.57,359.31 518.09,359.64 518.61,359.95 519.13,360.26 519.66,360.54 520.18,360.82 520.70,361.08 521.23,361.33 521.75,361.56 522.27,361.78 522.80,361.97 523.32,362.14 523.84,362.29 524.37,362.44 524.89,362.58 525.41,362.72 525.94,362.87 526.46,363.03 526.98,363.21 527.51,363.41 528.03,363.63 528.55,363.90 529.08,364.27 529.60,364.70" fill="none" stroke="#8a8ff0" stroke-width="0.75" stroke-linejoin="round"/>
<polyline points="320.30,268.80 320.82,277.81 321.35,286.13 321.87,293.58 322.39,300.67 322.92,307.25 323.44,312.16 323.96,315.59 324.49,318.58 325.01,321.11 325.53,322.87 326.06,323.52 326.58,323.41 327.10,323.09 327.63,322.60 328.15,321.98 328.67,321.24 329.20,320.44 329.72,319.59 330.24,318.73 330.76,317.90 331.29,317.03 331.81,316.06 332.33,315.00 332.86,313.86 333.38,312.65 333.90,311.38 334.43,310.06 334.95,308.71 335.47,307.33 336.00,305.93 336.52,304.43 337.04,302.80 337.57,301.09 338.09,299.30 338.61,297.48 339.14,295.65 339.66,293.84 340.18,292.08 340.71,290.39 341.23,288.81 341.75,287.29 342.28,285.74 342.80,284.18 343.32,282.61 343.85,281.06 344.37,279.54 344.89,278.06 345.42,276.64 345.94,275.28 346.46,274.01 346.99,272.84 347.51,271.79 348.03,270.86 348.56,270.07 349.08,269.37 349.60,268.71 350.13,268.09 350.65,267.50 351.17,266.94 351.69,266.42 352.22,265.91 352.74,265.44 353.26,264.98 353.79,264.55 354.31,264.13 354.83,263.72 355.36,263.33 355.88,262.95 356.40,262.57 356.93,262.19 357.45,261.82 357.97,261.46 358.50,261.12 359.02,260.81 359.54,260.52 360.07,260.25 360.59,259.98 361.11,259.72 361.64,259.47 362.16,259.22 362.68,258.96 363.21,258.70 363.73,258.42 364.25,258.12 364.78,257.81 365.30,257.47 365.82,257.11 366.35,256.71 366.87,256.28 367.39,255.81 367.92,255.22 368.44,254.52 368.96,253.71 369.49,252.83 370.01,251.91 370.53,250.96 371.06,250.01 371.58,249.08 372.10,248.03 372.62,246.79 373.15,245.47 373.67,244.19 374.19,243.08 374.72,242.26 375.24,241.85 375.76,241.94 376.29,242.45 376.81,243.21 377.33,244.07 377.86,244.88 378.38,245.70 378.90,246.66 379.43,247.68 379.95,248.71 380.47,249.70 381.00,250.58 381.52,251.42 382.04,252.24 382.57,253.05 383.09,253.84 383.61,254.61 384.14,255.36 384.66,256.09 385.18,256.80 385.71,257.49 386.23,258.14 386.75,258.75 387.28,259.33 387.80,259.90 388.32,260.48 388.85,261.07 389.37,261.71 389.89,262.40 390.42,263.17 390.94,264.02 391.46,264.94 391.99,265.91 392.51,266.94 393.03,268.01 393.56,269.12 394.08,270.31 394.60,271.61 395.12,273.01 395.65,274.46 396.17,275.95 396.69,277.44 397.22,278.91 397.74,280.33 398.26,281.68 398.79,283.03 399.31,284.39 399.83,285.74 400.36,287.08 400.88,288.41 401.40,289.72 401.93,291.00 402.45,292.25 402.97,293.45 403.50,294.62 404.02,295.72 404.54,296.79 405.07,297.83 405.59,298.84 406.11,299.83 406.64,300.80 407.16,301.74 407.68,302.67 408.21,303.58 408.73,304.47 409.25,305.35 409.78,306.22 410.30,307.08 410.82,307.93 411.35,308.77 411.87,309.61 412.39,310.47 412.92,311.36 413.44,312.27 413.96,313.19 414.49,314.09 415.01,314.98 415.53,315.83 416.05,316.63 416.58,317.38 417.10,318.05 417.62,318.63 418.15,319.11 418.67,319.49 419.19,319.82 419.72,320.12 420.24,320.41 420.76,320.68 421.29,320.93 421.81,321.16 422.33,321.38 422.86,321.59 423.38,321.79 423.90,321.98 424.43,322.16 424.95,322.33 425.47,322.50 426.00,322.67 426.52,322.83 427.04,322.99 427.57,323.15 428.09,323.32 428.61,323.49 429.14,323.66 429.66,323.85 430.18,324.03 430.71,324.20 431.23,324.37 431.75,324.54 432.28,324.70 432.80,324.87 433.32,325.03 433.85,325.19 434.37,325.35 434.89,325.51 435.42,325.68 435.94,325.85 436.46,326.02 436.98,326.20 437.51,326.39 438.03,326.59 438.55,326.79 439.08,326.99 439.60,327.20 440.12,327.40 440.65,327.60 441.17,327.79 441.69,327.98 442.22,328.16 442.74,328.33 443.26,328.49 443.79,328.64 444.31,328.76 444.83,328.88 445.36,328.98 445.88,329.07 446.40,329.16 446.93,329.25 447.45,329.34 447.97,329.43 448.50,329.54 449.02,329.66 449.54,329.79 450.07,329.94 450.59,330.14 451.11,330.38 451.64,330.67 452.16,330.99 452.68,331.33 453.21,331.69 453.73,332.06 454.25,332.42 454.78,332.76 455.30,333.08 455.82,333.38 456.35,333.68 456.87,333.98 457.39,334.27 457.91,334.56 458.44,334.86 458.96,335.15 459.48,335.44 460.01,335.73 460.53,336.03 461.05,336.32 461.58,336.62 462.10,336.93 462.62,337.23 463.15,337.54 463.67,337.85 464.19,338.16 464.72,338.48 465.24,338.79 465.76,339.11 466.29,339.42 466.81,339.74 467.33,340.05 467.86,340.37 468.38,340.69 468.90,341.00 469.43,341.32 469.95,341.63 470.47,341.95 471.00,342.26 471.52,342.57 472.04,342.88 472.57,343.19 473.09,343.49 473.61,343.79 474.14,344.09 474.66,344.41 475.18,344.75 475.71,345.11 476.23,345.48 476.75,345.86 477.27,346.24 477.80,346.63 478.32,347.00 478.84,347.37 479.37,347.72 479.89,348.05 480.41,348.36 480.94,348.65 481.46,348.89 481.98,349.11 482.51,349.28 483.03,349.40 483.55,349.47 484.08,349.49 484.60,349.46 485.12,349.40 485.65,349.30 486.17,349.17 486.69,349.01 487.22,348.83 487.74,348.64 488.26,348.42 488.79,348.20 489.31,347.96 489.83,347.73 490.36,347.49 490.88,347.25 491.40,347.02 491.93,346.80 492.45,346.60 492.97,346.41 493.50,346.21 494.02,346.00 494.54,345.77 495.07,345.54 495.59,345.30 496.11,345.06 496.64,344.84 497.16,344.63 497.68,344.44 498.21,344.27 498.73,344.14 499.25,344.05 499.77,344.01 500.30,344.02 500.82,344.11 501.34,344.27 501.87,344.49 502.39,344.76 502.91,345.08 503.44,345.44 503.96,345.82 504.48,346.22 505.01,346.64 505.53,347.05 506.05,347.45 506.58,347.89 507.10,348.41 507.62,348.99 508.15,349.62 508.67,350.29 509.19,350.99 509.72,351.71 510.24,352.43 510.76,353.15 511.29,353.85 511.81,354.51 512.33,355.14 512.86,355.71 513.38,356.21 513.90,356.65 514.43,357.07 514.95,357.47 515.47,357.87 516.00,358.25 516.52,358.62 517.04,358.97 517.57,359.31 518.09,359.64 518.61,359.95 519.13,360.26 519.66,360.54 520.18,360.82 520.70,361.08 521.23,361.33 521.75,361.56 522.27,361.78 522.80,361.97 523.32,362.14 523.84,362.29 524.37,362.44 524.89,362.58 525.41,362.72 525.94,362.87 526.46,363.03 526.98,363.21 527.51,363.41 528.03,363.63 528.55,363.90 529.08,364.27 529.60,364.70" fill="none" stroke="#5fe3e0" stroke-width="0.75" stroke-linejoin="round"/>
<polyline points="320.30,267.76 320.82,276.79 321.35,285.20 321.87,292.84 322.39,300.27 322.92,307.20 323.44,312.26 323.96,315.71 324.49,318.76 325.01,321.29 325.53,323.03 326.06,323.67 326.58,323.57 327.10,323.28 327.63,322.85 328.15,322.28 328.67,321.62 329.20,320.89 329.72,320.12 330.24,319.33 330.76,318.56 331.29,317.76 331.81,316.84 332.33,315.83 332.86,314.74 333.38,313.57 333.90,312.34 334.43,311.06 334.95,309.75 335.47,308.41 336.00,307.05 336.52,305.59 337.04,304.00 337.57,302.33 338.09,300.58 338.61,298.80 339.14,297.00 339.66,295.21 340.18,293.47 340.71,291.80 341.23,290.22 341.75,288.69 342.28,287.13 342.80,285.55 343.32,283.96 343.85,282.39 344.37,280.83 344.89,279.32 345.42,277.87 345.94,276.48 346.46,275.19 346.99,273.99 347.51,272.92 348.03,271.98 348.56,271.18 349.08,270.48 349.60,269.82 350.13,269.20 350.65,268.62 351.17,268.07 351.69,267.55 352.22,267.05 352.74,266.59 353.26,266.14 353.79,265.71 354.31,265.29 354.83,264.89 355.36,264.49 355.88,264.10 356.40,263.71 356.93,263.33 357.45,262.93 357.97,262.55 358.50,262.20 359.02,261.86 359.54,261.55 360.07,261.25 360.59,260.97 361.11,260.69 361.64,260.41 362.16,260.14 362.68,259.86 363.21,259.56 363.73,259.26 364.25,258.94 364.78,258.59 365.30,258.22 365.82,257.82 366.35,257.38 366.87,256.91 367.39,256.39 367.92,255.75 368.44,254.97 368.96,254.08 369.49,253.11 370.01,252.08 370.53,251.03 371.06,249.97 371.58,248.93 372.10,247.76 372.62,246.35 373.15,244.85 373.67,243.40 374.19,242.14 374.72,241.21 375.24,240.74 375.76,240.86 376.29,241.46 376.81,242.37 377.33,243.40 377.86,244.36 378.38,245.30 378.90,246.35 379.43,247.46 379.95,248.57 380.47,249.64 381.00,250.62 381.52,251.56 382.04,252.49 382.57,253.41 383.09,254.31 383.61,255.18 384.14,256.04 384.66,256.87 385.18,257.67 385.71,258.45 386.23,259.19 386.75,259.89 387.28,260.55 387.80,261.20 388.32,261.85 388.85,262.52 389.37,263.23 389.89,263.98 390.42,264.79 390.94,265.64 391.46,266.54 391.99,267.49 392.51,268.49 393.03,269.52 393.56,270.60 394.08,271.75 394.60,273.01 395.12,274.34 395.65,275.73 396.17,277.15 396.69,278.57 397.22,279.97 397.74,281.32 398.26,282.62 398.79,283.91 399.31,285.20 399.83,286.50 400.36,287.78 400.88,289.06 401.40,290.31 401.93,291.54 402.45,292.74 402.97,293.90 403.50,295.02 404.02,296.09 404.54,297.13 405.07,298.14 405.59,299.13 406.11,300.09 406.64,301.03 407.16,301.96 407.68,302.86 408.21,303.75 408.73,304.63 409.25,305.49 409.78,306.35 410.30,307.19 410.82,308.03 411.35,308.86 411.87,309.69 412.39,310.54 412.92,311.42 413.44,312.32 413.96,313.22 414.49,314.12 415.01,315.00 415.53,315.85 416.05,316.65 416.58,317.39 417.10,318.05 417.62,318.63 418.15,319.11 418.67,319.49 419.19,319.81 419.72,320.12 420.24,320.41 420.76,320.67 421.29,320.92 421.81,321.16 422.33,321.38 422.86,321.59 423.38,321.79 423.90,321.98 424.43,322.16 424.95,322.33 425.47,322.50 426.00,322.67 426.52,322.83 427.04,322.99 427.57,323.15 428.09,323.32 428.61,323.49 429.14,323.66 429.66,323.85 430.18,324.03 430.71,324.20 431.23,324.37 431.75,324.54 432.28,324.70 432.80,324.87 433.32,325.03 433.85,325.19 434.37,325.35 434.89,325.51 435.42,325.68 435.94,325.85 436.46,326.02 436.98,326.20 437.51,326.39 438.03,326.59 438.55,326.79 439.08,326.99 439.60,327.20 440.12,327.40 440.65,327.60 441.17,327.79 441.69,327.98 442.22,328.16 442.74,328.33 443.26,328.49 443.79,328.64 444.31,328.76 444.83,328.88 445.36,328.98 445.88,329.07 446.40,329.16 446.93,329.25 447.45,329.34 447.97,329.43 448.50,329.54 449.02,329.66 449.54,329.79 450.07,329.94 450.59,330.14 451.11,330.38 451.64,330.67 452.16,330.99 452.68,331.33 453.21,331.69 453.73,332.06 454.25,332.42 454.78,332.76 455.30,333.08 455.82,333.38 456.35,333.68 456.87,333.98 457.39,334.27 457.91,334.56 458.44,334.86 458.96,335.15 459.48,335.44 460.01,335.73 460.53,336.03 461.05,336.32 461.58,336.62 462.10,336.93 462.62,337.23 463.15,337.54 463.67,337.85 464.19,338.16 464.72,338.48 465.24,338.79 465.76,339.11 466.29,339.42 466.81,339.74 467.33,340.05 467.86,340.37 468.38,340.69 468.90,341.00 469.43,341.32 469.95,341.63 470.47,341.95 471.00,342.26 471.52,342.57 472.04,342.88 472.57,343.19 473.09,343.49 473.61,343.79 474.14,344.09 474.66,344.41 475.18,344.75 475.71,345.11 476.23,345.48 476.75,345.86 477.27,346.24 477.80,346.63 478.32,347.00 478.84,347.37 479.37,347.72 479.89,348.05 480.41,348.36 480.94,348.65 481.46,348.89 481.98,349.11 482.51,349.28 483.03,349.40 483.55,349.47 484.08,349.49 484.60,349.46 485.12,349.40 485.65,349.30 486.17,349.17 486.69,349.01 487.22,348.83 487.74,348.64 488.26,348.42 488.79,348.20 489.31,347.96 489.83,347.73 490.36,347.49 490.88,347.25 491.40,347.02 491.93,346.80 492.45,346.60 492.97,346.41 493.50,346.21 494.02,346.00 494.54,345.77 495.07,345.54 495.59,345.30 496.11,345.06 496.64,344.84 497.16,344.63 497.68,344.44 498.21,344.27 498.73,344.14 499.25,344.05 499.77,344.01 500.30,344.02 500.82,344.11 501.34,344.27 501.87,344.49 502.39,344.76 502.91,345.08 503.44,345.44 503.96,345.82 504.48,346.22 505.01,346.64 505.53,347.05 506.05,347.45 506.58,347.89 507.10,348.41 507.62,348.99 508.15,349.62 508.67,350.29 509.19,350.99 509.72,351.71 510.24,352.43 510.76,353.15 511.29,353.85 511.81,354.51 512.33,355.14 512.86,355.71 513.38,356.21 513.90,356.65 514.43,357.07 514.95,357.47 515.47,357.87 516.00,358.25 516.52,358.62 517.04,358.97 517.57,359.31 518.09,359.64 518.61,359.95 519.13,360.26 519.66,360.54 520.18,360.82 520.70,361.08 521.23,361.33 521.75,361.56 522.27,361.78 522.80,361.97 523.32,362.14 523.84,362.29 524.37,362.44 524.89,362.58 525.41,362.72 525.94,362.87 526.46,363.03 526.98,363.21 527.51,363.41 528.03,363.63 528.55,363.90 529.08,364.27 529.60,364.70" fill="none" stroke="#e35fc4" stroke-width="0.75" stroke-linejoin="round"/>
<polyline points="320.30,266.78 320.82,275.83 321.35,284.32 321.87,292.14 322.39,299.89 322.92,307.15 323.44,312.35 323.96,315.83 324.49,318.93 325.01,321.47 325.53,323.18 326.06,323.81 326.58,323.72 327.10,323.47 327.63,323.08 328.15,322.57 328.67,321.98 329.20,321.32 329.72,320.62 330.24,319.90 330.76,319.20 331.29,318.44 331.81,317.58 332.33,316.62 332.86,315.56 333.38,314.44 333.90,313.25 334.43,312.01 334.95,310.73 335.47,309.43 336.00,308.11 336.52,306.69 337.04,305.15 337.57,303.51 338.09,301.80 338.61,300.04 339.14,298.28 339.66,296.52 340.18,294.79 340.71,293.13 341.23,291.56 341.75,290.03 342.28,288.45 342.80,286.85 343.32,285.24 343.85,283.64 344.37,282.06 344.89,280.52 345.42,279.03 345.94,277.62 346.46,276.30 346.99,275.09 347.51,273.99 348.03,273.04 348.56,272.24 349.08,271.53 349.60,270.88 350.13,270.26 350.65,269.68 351.17,269.14 351.69,268.62 352.22,268.14 352.74,267.67 353.26,267.23 353.79,266.81 354.31,266.39 354.83,265.99 355.36,265.59 355.88,265.20 356.40,264.80 356.93,264.40 357.45,263.99 357.97,263.59 358.50,263.21 359.02,262.86 359.54,262.53 360.07,262.21 360.59,261.91 361.11,261.61 361.64,261.31 362.16,261.01 362.68,260.71 363.21,260.39 363.73,260.06 364.25,259.71 364.78,259.33 365.30,258.93 365.82,258.49 366.35,258.02 366.87,257.51 367.39,256.94 367.92,256.25 368.44,255.40 368.96,254.43 369.49,253.37 370.01,252.25 370.53,251.09 371.06,249.93 371.58,248.79 372.10,247.49 372.62,245.93 373.15,244.27 373.67,242.66 374.19,241.25 374.72,240.21 375.24,239.69 375.76,239.82 376.29,240.53 376.81,241.58 377.33,242.77 377.86,243.87 378.38,244.92 378.90,246.06 379.43,247.25 379.95,248.44 380.47,249.59 381.00,250.66 381.52,251.70 382.04,252.73 382.57,253.75 383.09,254.75 383.61,255.72 384.14,256.68 384.66,257.60 385.18,258.50 385.71,259.37 386.23,260.19 386.75,260.96 387.28,261.71 387.80,262.43 388.32,263.16 388.85,263.90 389.37,264.67 389.89,265.48 390.42,266.31 390.94,267.18 391.46,268.07 391.99,268.99 392.51,269.96 393.03,270.96 393.56,272.00 394.08,273.13 394.60,274.34 395.12,275.61 395.65,276.94 396.17,278.29 396.69,279.64 397.22,280.97 397.74,282.26 398.26,283.50 398.79,284.74 399.31,285.98 399.83,287.22 400.36,288.45 400.88,289.67 401.40,290.87 401.93,292.05 402.45,293.20 402.97,294.32 403.50,295.40 404.02,296.45 404.54,297.45 405.07,298.43 405.59,299.39 406.11,300.33 406.64,301.25 407.16,302.16 407.68,303.04 408.21,303.92 408.73,304.78 409.25,305.63 409.78,306.47 410.30,307.30 410.82,308.12 411.35,308.94 411.87,309.76 412.39,310.60 412.92,311.47 413.44,312.36 413.96,313.26 414.49,314.15 415.01,315.02 415.53,315.86 416.05,316.66 416.58,317.39 417.10,318.06 417.62,318.63 418.15,319.11 418.67,319.49 419.19,319.81 419.72,320.12 420.24,320.40 420.76,320.67 421.29,320.92 421.81,321.16 422.33,321.38 422.86,321.59 423.38,321.79 423.90,321.98 424.43,322.16 424.95,322.33 425.47,322.50 426.00,322.66 426.52,322.83 427.04,322.99 427.57,323.15 428.09,323.32 428.61,323.49 429.14,323.66 429.66,323.85 430.18,324.03 430.71,324.20 431.23,324.37 431.75,324.54 432.28,324.70 432.80,324.87 433.32,325.03 433.85,325.19 434.37,325.35 434.89,325.51 435.42,325.68 435.94,325.85 436.46,326.02 436.98,326.20 437.51,326.39 438.03,326.59 438.55,326.79 439.08,326.99 439.60,327.20 440.12,327.40 440.65,327.60 441.17,327.79 441.69,327.98 442.22,328.16 442.74,328.33 443.26,328.49 443.79,328.64 444.31,328.76 444.83,328.88 445.36,328.98 445.88,329.07 446.40,329.16 446.93,329.25 447.45,329.34 447.97,329.43 448.50,329.54 449.02,329.66 449.54,329.79 450.07,329.94 450.59,330.14 451.11,330.38 451.64,330.67 452.16,330.99 452.68,331.33 453.21,331.69 453.73,332.06 454.25,332.42 454.78,332.76 455.30,333.08 455.82,333.38 456.35,333.68 456.87,333.98 457.39,334.27 457.91,334.56 458.44,334.86 458.96,335.15 459.48,335.44 460.01,335.73 460.53,336.03 461.05,336.32 461.58,336.62 462.10,336.93 462.62,337.23 463.15,337.54 463.67,337.85 464.19,338.16 464.72,338.48 465.24,338.79 465.76,339.11 466.29,339.42 466.81,339.74 467.33,340.05 467.86,340.37 468.38,340.69 468.90,341.00 469.43,341.32 469.95,341.63 470.47,341.95 471.00,342.26 471.52,342.57 472.04,342.88 472.57,343.19 473.09,343.49 473.61,343.79 474.14,344.09 474.66,344.41 475.18,344.75 475.71,345.11 476.23,345.48 476.75,345.86 477.27,346.24 477.80,346.63 478.32,347.00 478.84,347.37 479.37,347.72 479.89,348.05 480.41,348.36 480.94,348.65 481.46,348.89 481.98,349.11 482.51,349.28 483.03,349.40 483.55,349.47 484.08,349.49 484.60,349.46 485.12,349.40 485.65,349.30 486.17,349.17 486.69,349.01 487.22,348.83 487.74,348.64 488.26,348.42 488.79,348.20 489.31,347.96 489.83,347.73 490.36,347.49 490.88,347.25 491.40,347.02 491.93,346.80 492.45,346.60 492.97,346.41 493.50,346.21 494.02,346.00 494.54,345.77 495.07,345.54 495.59,345.30 496.11,345.06 496.64,344.84 497.16,344.63 497.68,344.44 498.21,344.27 498.73,344.14 499.25,344.05 499.77,344.01 500.30,344.02 500.82,344.11 501.34,344.27 501.87,344.49 502.39,344.76 502.91,345.08 503.44,345.44 503.96,345.82 504.48,346.22 505.01,346.64 505.53,347.05 506.05,347.45 506.58,347.89 507.10,348.41 507.62,348.99 508.15,349.62 508.67,350.29 509.19,350.99 509.72,351.71 510.24,352.43 510.76,353.15 511.29,353.85 511.81,354.51 512.33,355.14 512.86,355.71 513.38,356.21 513.90,356.65 514.43,357.07 514.95,357.47 515.47,357.87 516.00,358.25 516.52,358.62 517.04,358.97 517.57,359.31 518.09,359.64 518.61,359.95 519.13,360.26 519.66,360.54 520.18,360.82 520.70,361.08 521.23,361.33 521.75,361.56 522.27,361.78 522.80,361.97 523.32,362.14 523.84,362.29 524.37,362.44 524.89,362.58 525.41,362.72 525.94,362.87 526.46,363.03 526.98,363.21 527.51,363.41 528.03,363.63 528.55,363.90 529.08,364.27 529.60,364.70" fill="none" stroke="#a6e36b" stroke-width="0.75" stroke-linejoin="round"/>
<polyline points="320.30,265.92 320.82,274.99 321.35,283.55 321.87,291.53 322.39,299.56 322.92,307.11 323.44,312.43 323.96,315.94 324.49,319.08 325.01,321.62 325.53,323.31 326.06,323.93 326.58,323.85 327.10,323.63 327.63,323.28 328.15,322.82 328.67,322.29 329.20,321.69 329.72,321.06 330.24,320.40 330.76,319.75 331.29,319.05 331.81,318.22 332.33,317.30 332.86,316.29 333.38,315.20 333.90,314.04 334.43,312.84 334.95,311.59 335.47,310.32 336.00,309.04 336.52,307.65 337.04,306.14 337.57,304.54 338.09,302.86 338.61,301.14 339.14,299.39 339.66,297.65 340.18,295.95 340.71,294.29 341.23,292.72 341.75,291.19 342.28,289.61 342.80,287.99 343.32,286.36 343.85,284.74 344.37,283.13 344.89,281.57 345.42,280.06 345.94,278.62 346.46,277.28 346.99,276.04 347.51,274.93 348.03,273.96 348.56,273.16 349.08,272.46 349.60,271.80 350.13,271.18 350.65,270.61 351.17,270.07 351.69,269.56 352.22,269.08 352.74,268.63 353.26,268.19 353.79,267.77 354.31,267.36 354.83,266.95 355.36,266.56 355.88,266.16 356.40,265.75 356.93,265.34 357.45,264.91 357.97,264.49 358.50,264.10 359.02,263.73 359.54,263.38 360.07,263.05 360.59,262.72 361.11,262.41 361.64,262.09 362.16,261.77 362.68,261.45 363.21,261.11 363.73,260.76 364.25,260.38 364.78,259.98 365.30,259.55 365.82,259.08 366.35,258.58 366.87,258.03 367.39,257.43 367.92,256.68 368.44,255.78 368.96,254.74 369.49,253.60 370.01,252.40 370.53,251.15 371.06,249.90 371.58,248.67 372.10,247.26 372.62,245.57 373.15,243.76 373.67,242.00 374.19,240.47 374.72,239.34 375.24,238.77 375.76,238.92 376.29,239.71 376.81,240.89 377.33,242.22 377.86,243.44 378.38,244.59 378.90,245.80 379.43,247.06 379.95,248.32 380.47,249.54 381.00,250.69 381.52,251.82 382.04,252.94 382.57,254.04 383.09,255.13 383.61,256.20 384.14,257.24 384.66,258.25 385.18,259.22 385.71,260.17 386.23,261.06 386.75,261.91 387.28,262.72 387.80,263.51 388.32,264.30 388.85,265.10 389.37,265.93 389.89,266.79 390.42,267.65 390.94,268.52 391.46,269.40 391.99,270.31 392.51,271.24 393.03,272.21 393.56,273.23 394.08,274.33 394.60,275.50 395.12,276.73 395.65,277.99 396.17,279.28 396.69,280.58 397.22,281.85 397.74,283.09 398.26,284.28 398.79,285.47 399.31,286.66 399.83,287.85 400.36,289.03 400.88,290.20 401.40,291.36 401.93,292.50 402.45,293.61 402.97,294.69 403.50,295.74 404.02,296.75 404.54,297.73 405.07,298.69 405.59,299.63 406.11,300.55 406.64,301.45 407.16,302.33 407.68,303.20 408.21,304.06 408.73,304.91 409.25,305.74 409.78,306.57 410.30,307.39 410.82,308.20 411.35,309.01 411.87,309.82 412.39,310.65 412.92,311.51 413.44,312.39 413.96,313.29 414.49,314.17 415.01,315.04 415.53,315.88 416.05,316.67 416.58,317.40 417.10,318.06 417.62,318.64 418.15,319.12 418.67,319.49 419.19,319.81 419.72,320.12 420.24,320.40 420.76,320.67 421.29,320.92 421.81,321.16 422.33,321.38 422.86,321.59 423.38,321.79 423.90,321.97 424.43,322.15 424.95,322.33 425.47,322.50 426.00,322.66 426.52,322.83 427.04,322.99 427.57,323.15 428.09,323.32 428.61,323.49 429.14,323.66 429.66,323.85 430.18,324.03 430.71,324.20 431.23,324.37 431.75,324.54 432.28,324.70 432.80,324.87 433.32,325.03 433.85,325.19 434.37,325.35 434.89,325.51 435.42,325.68 435.94,325.85 436.46,326.02 436.98,326.20 437.51,326.39 438.03,326.59 438.55,326.79 439.08,326.99 439.60,327.20 440.12,327.40 440.65,327.60 441.17,327.79 441.69,327.98 442.22,328.16 442.74,328.33 443.26,328.49 443.79,328.64 444.31,328.76 444.83,328.88 445.36,328.98 445.88,329.07 446.40,329.16 446.93,329.25 447.45,329.34 447.97,329.43 448.50,329.54 449.02,329.66 449.54,329.79 450.07,329.94 450.59,330.14 451.11,330.38 451.64,330.67 452.16,330.99 452.68,331.33 453.21,331.69 453.73,332.06 454.25,332.42 454.78,332.76 455.30,333.08 455.82,333.38 456.35,333.68 456.87,333.98 457.39,334.27 457.91,334.56 458.44,334.86 458.96,335.15 459.48,335.44 460.01,335.73 460.53,336.03 461.05,336.32 461.58,336.62 462.10,336.93 462.62,337.23 463.15,337.54 463.67,337.85 464.19,338.16 464.72,338.48 465.24,338.79 465.76,339.11 466.29,339.42 466.81,339.74 467.33,340.05 467.86,340.37 468.38,340.69 468.90,341.00 469.43,341.32 469.95,341.63 470.47,341.95 471.00,342.26 471.52,342.57 472.04,342.88 472.57,343.19 473.09,343.49 473.61,343.79 474.14,344.09 474.66,344.41 475.18,344.75 475.71,345.11 476.23,345.48 476.75,345.86 477.27,346.24 477.80,346.63 478.32,347.00 478.84,347.37 479.37,347.72 479.89,348.05 480.41,348.36 480.94,348.65 481.46,348.89 481.98,349.11 482.51,349.28 483.03,349.40 483.55,349.47 484.08,349.49 484.60,349.46 485.12,349.40 485.65,349.30 486.17,349.17 486.69,349.01 487.22,348.83 487.74,348.64 488.26,348.42 488.79,348.20 489.31,347.96 489.83,347.73 490.36,347.49 490.88,347.25 491.40,347.02 491.93,346.80 492.45,346.60 492.97,346.41 493.50,346.21 494.02,346.00 494.54,345.77 495.07,345.54 495.59,345.30 496.11,345.06 496.64,344.84 497.16,344.63 497.68,344.44 498.21,344.27 498.73,344.14 499.25,344.05 499.77,344.01 500.30,344.02 500.82,344.11 501.34,344.27 501.87,344.49 502.39,344.76 502.91,345.08 503.44,345.44 503.96,345.82 504.48,346.22 505.01,346.64 505.53,347.05 506.05,347.45 506.58,347.89 507.10,348.41 507.62,348.99 508.15,349.62 508.67,350.29 509.19,350.99 509.72,351.71 510.24,352.43 510.76,353.15 511.29,353.85 511.81,354.51 512.33,355.14 512.86,355.71 513.38,356.21 513.90,356.65 514.43,357.07 514.95,357.47 515.47,357.87 516.00,358.25 516.52,358.62 517.04,358.97 517.57,359.31 518.09,359.64 518.61,359.95 519.13,360.26 519.66,360.54 520.18,360.82 520.70,361.08 521.23,361.33 521.75,361.56 522.27,361.78 522.80,361.97 523.32,362.14 523.84,362.29 524.37,362.44 524.89,362.58 525.41,362.72 525.94,362.87 526.46,363.03 526.98,363.21 527.51,363.41 528.03,363.63 528.55,363.90 529.08,364.27 529.60,364.70" fill="none" stroke="#8f78c8" stroke-width="0.9" stroke-linejoin="round"/>
<polyline points="320.30,321.84 322.92,321.84 325.01,323.41 326.06,323.93" fill="none" stroke="#9aa8a4" stroke-width="0.8"/>
<line x1="320.50" y1="207.40" x2="320.50" y2="365.20" stroke="#2a2a36" stroke-width="1.25"/>
<line x1="319.80" y1="364.50" x2="530.10" y2="364.50" stroke="#2a2a36" stroke-width="1.25"/>
<line x1="316.70" y1="364.50" x2="320.30" y2="364.50" stroke="#2a2a36" stroke-width="1.0"/>
<text transform="translate(314.50,367.90) scale(0.98,1)" font-size="9.7" text-anchor="end" fill="#222" >0.0</text>
<line x1="318.10" y1="338.50" x2="320.30" y2="338.50" stroke="#2a2a36" stroke-width="1.0"/>
<line x1="316.70" y1="312.50" x2="320.30" y2="312.50" stroke="#2a2a36" stroke-width="1.0"/>
<text transform="translate(314.50,315.63) scale(0.98,1)" font-size="9.7" text-anchor="end" fill="#222" >0.1</text>
<line x1="318.10" y1="286.50" x2="320.30" y2="286.50" stroke="#2a2a36" stroke-width="1.0"/>
<line x1="316.70" y1="260.50" x2="320.30" y2="260.50" stroke="#2a2a36" stroke-width="1.0"/>
<text transform="translate(314.50,263.37) scale(0.98,1)" font-size="9.7" text-anchor="end" fill="#222" >0.2</text>
<line x1="318.10" y1="234.50" x2="320.30" y2="234.50" stroke="#2a2a36" stroke-width="1.0"/>
<line x1="316.70" y1="207.50" x2="320.30" y2="207.50" stroke="#2a2a36" stroke-width="1.0"/>
<text transform="translate(314.50,211.10) scale(0.98,1)" font-size="9.7" text-anchor="end" fill="#222" >0.3</text>
<line x1="320.50" y1="364.70" x2="320.50" y2="368.30" stroke="#2a2a36" stroke-width="1.0"/>
<text transform="translate(320.30,377.00) scale(0.98,1)" font-size="9.7" text-anchor="middle" fill="#222" >300</text>
<line x1="346.50" y1="364.70" x2="346.50" y2="366.90" stroke="#2a2a36" stroke-width="1.0"/>
<line x1="372.50" y1="364.70" x2="372.50" y2="368.30" stroke="#2a2a36" stroke-width="1.0"/>
<text transform="translate(372.62,377.00) scale(0.98,1)" font-size="9.7" text-anchor="middle" fill="#222" >400</text>
<line x1="398.50" y1="364.70" x2="398.50" y2="366.90" stroke="#2a2a36" stroke-width="1.0"/>
<line x1="424.50" y1="364.70" x2="424.50" y2="368.30" stroke="#2a2a36" stroke-width="1.0"/>
<text transform="translate(424.95,377.00) scale(0.98,1)" font-size="9.7" text-anchor="middle" fill="#222" >500</text>
<line x1="451.50" y1="364.70" x2="451.50" y2="366.90" stroke="#2a2a36" stroke-width="1.0"/>
<line x1="477.50" y1="364.70" x2="477.50" y2="368.30" stroke="#2a2a36" stroke-width="1.0"/>
<text transform="translate(477.27,377.00) scale(0.98,1)" font-size="9.7" text-anchor="middle" fill="#222" >600</text>
<line x1="503.50" y1="364.70" x2="503.50" y2="366.90" stroke="#2a2a36" stroke-width="1.0"/>
<line x1="529.50" y1="364.70" x2="529.50" y2="368.30" stroke="#2a2a36" stroke-width="1.0"/>
<text transform="translate(529.60,377.00) scale(0.98,1)" font-size="9.7" text-anchor="middle" fill="#222" >700</text>
<text transform="translate(421.90,387.20) scale(0.98,1)" font-size="9.819999999999999" text-anchor="middle" fill="#222" >Wavelength (nm)</text>
<text transform="translate(298.20,285.00) rotate(-90)" font-size="9.5" text-anchor="middle" fill="#222" >Absorbance</text>
<text transform="translate(338.6,214.5) scale(0.98,1)" font-size="9.7" fill="#222">F13-pH 5.0 K<tspan font-size="6" dy="-5.5">+</tspan></text>
<path d="M367.90,236.30 L371.00,241.80 L369.35,241.80 L369.35,249.40 L366.45,249.40 L366.45,241.80 L364.80,241.80 Z" fill="#000"/>
<polyline points="152.20,100.00 153.88,98.95 155.56,97.91 157.23,96.87 158.91,95.84 160.59,94.81 162.27,93.79 163.95,92.78 165.62,91.77 167.30,90.77 168.98,89.77 170.66,88.78 172.34,87.80 174.01,86.82 175.69,85.85 177.37,84.88 179.05,83.92 180.73,82.96 182.40,82.00 184.08,81.04 185.76,80.09 187.44,79.13 189.12,78.19 190.79,77.25 192.47,76.31 194.15,75.39 195.83,74.48 197.51,73.59 199.18,72.71 200.86,71.84 202.54,71.00 204.22,70.17 205.89,69.36 207.57,68.55 209.25,67.74 210.93,66.94 212.61,66.14 214.28,65.35 215.96,64.57 217.64,63.80 219.32,63.06 221.00,62.33 222.67,61.62 224.35,60.95 226.03,60.30 227.71,59.68 229.39,59.10 231.06,58.55 232.74,58.04 234.42,57.54 236.10,57.05 237.78,56.58 239.45,56.13 241.13,55.70 242.81,55.29 244.49,54.90 246.17,54.53 247.84,54.19 249.52,53.87 251.20,53.58" fill="none" stroke="#111" stroke-width="0.9"/>
<polyline points="152.20,100.00 153.88,99.09 155.56,98.19 157.23,97.28 158.91,96.36 160.59,95.44 162.27,94.52 163.95,93.60 165.62,92.67 167.30,91.74 168.98,90.81 170.66,89.87 172.34,88.93 174.01,87.99 175.69,87.04 177.37,86.09 179.05,85.14 180.73,84.16 182.40,83.16 184.08,82.14 185.76,81.11 187.44,80.06 189.12,79.01 190.79,77.97 192.47,76.93 194.15,75.91 195.83,74.90 197.51,73.92 199.18,72.98 200.86,72.06 202.54,71.20 204.22,70.37 205.89,69.60 207.57,68.84 209.25,68.10 210.93,67.37 212.61,66.65 214.28,65.96 215.96,65.28 217.64,64.62 219.32,63.97 221.00,63.35 222.67,62.75 224.35,62.17 226.03,61.62 227.71,61.09 229.39,60.58 231.06,60.10 232.74,59.65 234.42,59.20 236.10,58.77 237.78,58.35 239.45,57.95 241.13,57.57 242.81,57.20 244.49,56.85 246.17,56.53 247.84,56.22 249.52,55.93 251.20,55.66" fill="none" stroke="#111" stroke-width="0.9"/>
<circle cx="152.20" cy="100.00" r="1.55" fill="#111"/>
<circle cx="158.80" cy="97.52" r="1.55" fill="#111"/>
<circle cx="165.40" cy="93.57" r="1.55" fill="#111"/>
<circle cx="172.00" cy="89.13" r="1.55" fill="#111"/>
<circle cx="178.60" cy="84.79" r="1.55" fill="#111"/>
<circle cx="185.20" cy="81.31" r="1.55" fill="#111"/>
<circle cx="191.80" cy="76.96" r="1.55" fill="#111"/>
<circle cx="198.40" cy="72.62" r="1.55" fill="#111"/>
<circle cx="205.00" cy="69.79" r="1.55" fill="#111"/>
<circle cx="211.60" cy="66.31" r="1.55" fill="#111"/>
<circle cx="218.20" cy="63.05" r="1.55" fill="#111"/>
<circle cx="224.80" cy="60.45" r="1.55" fill="#111"/>
<circle cx="231.40" cy="58.49" r="1.55" fill="#111"/>
<circle cx="238.00" cy="57.40" r="1.55" fill="#111"/>
<circle cx="244.60" cy="56.53" r="1.55" fill="#111"/>
<circle cx="251.20" cy="56.53" r="1.55" fill="#111"/>
<line x1="152.50" y1="34.30" x2="152.50" y2="100.50" stroke="#333" stroke-width="1.0"/>
<line x1="151.70" y1="100.50" x2="258.30" y2="100.50" stroke="#7a7a7a" stroke-width="1.8"/>
<line x1="150.00" y1="100.50" x2="152.20" y2="100.50" stroke="#333" stroke-width="0.9"/>
<text transform="translate(149.60,102.30) scale(1.1,1)" font-size="6.4" text-anchor="end" font-weight="bold" fill="#222" >0.0</text>
<line x1="150.00" y1="78.50" x2="152.20" y2="78.50" stroke="#333" stroke-width="0.9"/>
<text transform="translate(149.60,80.57) scale(1.1,1)" font-size="6.4" text-anchor="end" font-weight="bold" fill="#222" >0.5</text>
<line x1="150.00" y1="56.50" x2="152.20" y2="56.50" stroke="#333" stroke-width="0.9"/>
<text transform="translate(149.60,58.83) scale(1.1,1)" font-size="6.4" text-anchor="end" font-weight="bold" fill="#222" >1.0</text>
<line x1="150.00" y1="34.50" x2="152.20" y2="34.50" stroke="#333" stroke-width="0.9"/>
<text transform="translate(149.60,37.10) scale(1.1,1)" font-size="6.4" text-anchor="end" font-weight="bold" fill="#222" >1.5</text>
<line x1="152.50" y1="100.00" x2="152.50" y2="102.20" stroke="#333" stroke-width="0.9"/>
<text transform="translate(152.20,107.80) scale(1.1,1)" font-size="6.4" text-anchor="middle" font-weight="bold" fill="#222" >0</text>
<line x1="178.50" y1="100.00" x2="178.50" y2="102.20" stroke="#333" stroke-width="0.9"/>
<text transform="translate(178.60,107.80) scale(1.1,1)" font-size="6.4" text-anchor="middle" font-weight="bold" fill="#222" >1</text>
<line x1="204.50" y1="100.00" x2="204.50" y2="102.20" stroke="#333" stroke-width="0.9"/>
<text transform="translate(205.00,107.80) scale(1.1,1)" font-size="6.4" text-anchor="middle" font-weight="bold" fill="#222" >2</text>
<line x1="231.50" y1="100.00" x2="231.50" y2="102.20" stroke="#333" stroke-width="0.9"/>
<text transform="translate(231.40,107.80) scale(1.1,1)" font-size="6.4" text-anchor="middle" font-weight="bold" fill="#222" >3</text>
<line x1="257.50" y1="100.00" x2="257.50" y2="102.20" stroke="#333" stroke-width="0.9"/>
<text transform="translate(257.80,107.80) scale(1.1,1)" font-size="6.4" text-anchor="middle" font-weight="bold" fill="#222" >4</text>
<text transform="translate(204.00,116.30)" font-size="6.2" text-anchor="middle" font-weight="bold" fill="#222" textLength="109" lengthAdjust="spacingAndGlyphs">G-quadruplex concentration (μM )</text>
<text transform="translate(136.90,66.40) rotate(-90)" font-size="8.2" text-anchor="middle" fill="#222" >α</text>
<text x="177.80" y="41.10" font-size="10.4" font-weight="bold" fill="#111" textLength="6.6" lengthAdjust="spacingAndGlyphs">K</text>
<text x="184.40" y="44.00" font-size="6.2" font-weight="bold" fill="#111">d</text>
<text x="190.50" y="41.10" font-size="9.0" font-weight="bold" fill="#111" textLength="4.6" lengthAdjust="spacingAndGlyphs">=</text>
<text x="195.80" y="41.10" font-size="10.4" font-weight="bold" fill="#111" textLength="18.10" lengthAdjust="spacingAndGlyphs">7.2</text>
<path d="M214.60,38.50 H224.20 M219.40,35.50 V40.30 M214.60,41.50 H224.20" stroke="#111" stroke-width="1.1" fill="none"/>
<text x="227.80" y="41.10" font-size="10.4" font-weight="bold" fill="#111" textLength="13.20" lengthAdjust="spacingAndGlyphs">2.1</text>
<text x="244.80" y="41.10" font-size="10.4" font-weight="bold" fill="#111" textLength="17.10" lengthAdjust="spacingAndGlyphs">μM</text>
<polyline points="426.80,106.20 428.44,105.06 430.07,103.92 431.71,102.80 433.35,101.68 434.98,100.56 436.62,99.45 438.26,98.35 439.89,97.26 441.53,96.18 443.17,95.10 444.80,94.02 446.44,92.96 448.08,91.90 449.71,90.85 451.35,89.81 452.99,88.78 454.62,87.75 456.26,86.71 457.90,85.68 459.53,84.66 461.17,83.64 462.81,82.62 464.44,81.61 466.08,80.62 467.72,79.63 469.35,78.66 470.99,77.70 472.63,76.75 474.26,75.83 475.90,74.92 477.54,74.03 479.17,73.16 480.81,72.28 482.45,71.39 484.08,70.51 485.72,69.62 487.36,68.75 488.99,67.89 490.63,67.04 492.27,66.22 493.90,65.43 495.54,64.66 497.18,63.93 498.81,63.24 500.45,62.60 502.09,62.00 503.72,61.46 505.36,60.97 507.00,60.48 508.63,60.02 510.27,59.57 511.91,59.14 513.54,58.74 515.18,58.36 516.82,58.00 518.45,57.68 520.09,57.39 521.73,57.13 523.36,56.90" fill="none" stroke="#111" stroke-width="0.9"/>
<polyline points="426.80,106.20 428.44,105.22 430.07,104.23 431.71,103.24 433.35,102.25 434.98,101.25 436.62,100.25 438.26,99.25 439.89,98.24 441.53,97.23 443.17,96.22 444.80,95.20 446.44,94.18 448.08,93.15 449.71,92.13 451.35,91.10 452.99,90.06 454.62,89.00 456.26,87.92 457.90,86.81 459.53,85.69 461.17,84.55 462.81,83.42 464.44,82.29 466.08,81.16 467.72,80.05 469.35,78.96 470.99,77.90 472.63,76.87 474.26,75.87 475.90,74.92 477.54,74.02 479.17,73.17 480.81,72.34 482.45,71.51 484.08,70.70 485.72,69.91 487.36,69.13 488.99,68.37 490.63,67.63 492.27,66.92 493.90,66.22 495.54,65.56 497.18,64.92 498.81,64.31 500.45,63.72 502.09,63.18 503.72,62.66 505.36,62.17 507.00,61.70 508.63,61.24 510.27,60.80 511.91,60.38 513.54,59.97 515.18,59.59 516.82,59.23 518.45,58.89 520.09,58.57 521.73,58.28 523.36,58.02" fill="none" stroke="#111" stroke-width="0.9"/>
<circle cx="426.80" cy="106.20" r="1.55" fill="#111"/>
<circle cx="433.24" cy="102.34" r="1.55" fill="#111"/>
<circle cx="439.68" cy="98.91" r="1.55" fill="#111"/>
<circle cx="446.11" cy="94.63" r="1.55" fill="#111"/>
<circle cx="452.55" cy="89.05" r="1.55" fill="#111"/>
<circle cx="458.99" cy="84.77" r="1.55" fill="#111"/>
<circle cx="465.43" cy="79.62" r="1.55" fill="#111"/>
<circle cx="471.86" cy="76.62" r="1.55" fill="#111"/>
<circle cx="478.30" cy="73.62" r="1.55" fill="#111"/>
<circle cx="484.74" cy="70.19" r="1.55" fill="#111"/>
<circle cx="491.17" cy="66.76" r="1.55" fill="#111"/>
<circle cx="497.61" cy="63.76" r="1.55" fill="#111"/>
<circle cx="504.05" cy="61.62" r="1.55" fill="#111"/>
<circle cx="510.49" cy="59.90" r="1.55" fill="#111"/>
<circle cx="516.92" cy="59.48" r="1.55" fill="#111"/>
<circle cx="523.36" cy="60.33" r="1.55" fill="#111"/>
<line x1="426.50" y1="41.40" x2="426.50" y2="106.70" stroke="#333" stroke-width="1.0"/>
<line x1="426.30" y1="106.50" x2="530.30" y2="106.50" stroke="#7a7a7a" stroke-width="1.8"/>
<line x1="424.60" y1="106.50" x2="426.80" y2="106.50" stroke="#333" stroke-width="0.9"/>
<text transform="translate(424.20,108.50) scale(1.1,1)" font-size="6.4" text-anchor="end" font-weight="bold" fill="#222" >0.0</text>
<line x1="424.60" y1="84.50" x2="426.80" y2="84.50" stroke="#333" stroke-width="0.9"/>
<text transform="translate(424.20,87.07) scale(1.1,1)" font-size="6.4" text-anchor="end" font-weight="bold" fill="#222" >0.5</text>
<line x1="424.60" y1="63.50" x2="426.80" y2="63.50" stroke="#333" stroke-width="0.9"/>
<text transform="translate(424.20,65.63) scale(1.1,1)" font-size="6.4" text-anchor="end" font-weight="bold" fill="#222" >1.0</text>
<line x1="424.60" y1="41.50" x2="426.80" y2="41.50" stroke="#333" stroke-width="0.9"/>
<text transform="translate(424.20,44.20) scale(1.1,1)" font-size="6.4" text-anchor="end" font-weight="bold" fill="#222" >1.5</text>
<line x1="426.50" y1="106.20" x2="426.50" y2="108.40" stroke="#333" stroke-width="0.9"/>
<text transform="translate(426.80,114.00) scale(1.1,1)" font-size="6.4" text-anchor="middle" font-weight="bold" fill="#222" >0</text>
<line x1="452.50" y1="106.20" x2="452.50" y2="108.40" stroke="#333" stroke-width="0.9"/>
<text transform="translate(452.55,114.00) scale(1.1,1)" font-size="6.4" text-anchor="middle" font-weight="bold" fill="#222" >1</text>
<line x1="478.50" y1="106.20" x2="478.50" y2="108.40" stroke="#333" stroke-width="0.9"/>
<text transform="translate(478.30,114.00) scale(1.1,1)" font-size="6.4" text-anchor="middle" font-weight="bold" fill="#222" >2</text>
<line x1="504.50" y1="106.20" x2="504.50" y2="108.40" stroke="#333" stroke-width="0.9"/>
<text transform="translate(504.05,114.00) scale(1.1,1)" font-size="6.4" text-anchor="middle" font-weight="bold" fill="#222" >3</text>
<line x1="529.50" y1="106.20" x2="529.50" y2="108.40" stroke="#333" stroke-width="0.9"/>
<text transform="translate(529.80,114.00) scale(1.1,1)" font-size="6.4" text-anchor="middle" font-weight="bold" fill="#222" >4</text>
<text transform="translate(476.00,122.80)" font-size="6.2" text-anchor="middle" font-weight="bold" fill="#222" textLength="113" lengthAdjust="spacingAndGlyphs">G-quadruplex concentration (μM )</text>
<text transform="translate(411.50,73.05) rotate(-90)" font-size="8.2" text-anchor="middle" fill="#222" >α</text>
<text x="455.40" y="47.50" font-size="10.4" font-weight="bold" fill="#111" textLength="6.6" lengthAdjust="spacingAndGlyphs">K</text>
<text x="462.00" y="50.40" font-size="6.2" font-weight="bold" fill="#111">d</text>
<text x="468.50" y="47.50" font-size="9.0" font-weight="bold" fill="#111" textLength="4.6" lengthAdjust="spacingAndGlyphs">=</text>
<text x="473.80" y="47.50" font-size="10.4" font-weight="bold" fill="#111" textLength="19.00" lengthAdjust="spacingAndGlyphs">6.6</text>
<path d="M493.90,44.50 H503.50 M498.70,41.50 V46.30 M493.90,47.50 H503.50" stroke="#111" stroke-width="1.1" fill="none"/>
<text x="506.80" y="47.50" font-size="10.4" font-weight="bold" fill="#111" textLength="14.20" lengthAdjust="spacingAndGlyphs">0.7</text>
<text x="524.10" y="47.50" font-size="10.4" font-weight="bold" fill="#111" textLength="17.30" lengthAdjust="spacingAndGlyphs">μM</text>
<polyline points="153.30,294.90 155.06,293.87 156.82,292.84 158.57,291.82 160.33,290.79 162.09,289.76 163.85,288.73 165.60,287.70 167.36,286.67 169.12,285.64 170.88,284.62 172.63,283.59 174.39,282.56 176.15,281.53 177.91,280.50 179.66,279.47 181.42,278.43 183.18,277.39 184.94,276.34 186.69,275.28 188.45,274.23 190.21,273.19 191.97,272.15 193.73,271.13 195.48,270.11 197.24,269.12 199.00,268.14 200.76,267.18 202.51,266.25 204.27,265.34 206.03,264.45 207.79,263.56 209.54,262.66 211.30,261.76 213.06,260.85 214.82,259.96 216.57,259.08 218.33,258.21 220.09,257.37 221.85,256.55 223.61,255.76 225.36,255.01 227.12,254.30 228.88,253.64 230.64,253.03 232.39,252.47 234.15,251.91 235.91,251.37 237.67,250.85 239.42,250.34 241.18,249.84 242.94,249.37 244.70,248.92 246.45,248.49 248.21,248.08 249.97,247.70 251.73,247.34 253.48,247.02 255.24,246.72 257.00,246.46" fill="none" stroke="#111" stroke-width="0.9"/>
<polyline points="153.30,294.90 155.06,294.28 156.82,293.63 158.57,292.94 160.33,292.21 162.09,291.46 163.85,290.67 165.60,289.85 167.36,289.01 169.12,288.11 170.88,287.17 172.63,286.18 174.39,285.17 176.15,284.13 177.91,283.06 179.66,281.98 181.42,280.86 183.18,279.70 184.94,278.51 186.69,277.29 188.45,276.06 190.21,274.84 191.97,273.62 193.73,272.37 195.48,271.09 197.24,269.86 199.00,268.78 200.76,267.84 202.51,266.98 204.27,266.16 206.03,265.34 207.79,264.50 209.54,263.66 211.30,262.81 213.06,261.97 214.82,261.13 216.57,260.30 218.33,259.49 220.09,258.70 221.85,257.94 223.61,257.22 225.36,256.53 227.12,255.88 228.88,255.28 230.64,254.73 232.39,254.23 234.15,253.74 235.91,253.26 237.67,252.79 239.42,252.34 241.18,251.90 242.94,251.49 244.70,251.09 246.45,250.72 248.21,250.37 249.97,250.04 251.73,249.75 253.48,249.48 255.24,249.24 257.00,249.03" fill="none" stroke="#111" stroke-width="0.9"/>
<circle cx="153.30" cy="294.90" r="1.55" fill="#111"/>
<circle cx="159.78" cy="292.76" r="1.55" fill="#111"/>
<circle cx="166.00" cy="289.76" r="1.55" fill="#111"/>
<circle cx="172.74" cy="286.33" r="1.55" fill="#111"/>
<circle cx="179.23" cy="282.90" r="1.55" fill="#111"/>
<circle cx="185.71" cy="278.18" r="1.55" fill="#111"/>
<circle cx="192.19" cy="273.04" r="1.55" fill="#111"/>
<circle cx="198.41" cy="268.75" r="1.55" fill="#111"/>
<circle cx="205.15" cy="265.75" r="1.55" fill="#111"/>
<circle cx="211.89" cy="262.32" r="1.55" fill="#111"/>
<circle cx="218.37" cy="258.03" r="1.55" fill="#111"/>
<circle cx="224.85" cy="255.46" r="1.55" fill="#111"/>
<circle cx="231.07" cy="253.75" r="1.55" fill="#111"/>
<circle cx="237.56" cy="250.75" r="1.55" fill="#111"/>
<circle cx="244.04" cy="250.75" r="1.55" fill="#111"/>
<circle cx="250.78" cy="252.03" r="1.55" fill="#111"/>
<circle cx="257.00" cy="252.03" r="1.55" fill="#111"/>
<line x1="153.50" y1="230.10" x2="153.50" y2="295.40" stroke="#333" stroke-width="1.0"/>
<line x1="152.80" y1="294.50" x2="257.50" y2="294.50" stroke="#7a7a7a" stroke-width="1.8"/>
<line x1="151.10" y1="294.50" x2="153.30" y2="294.50" stroke="#333" stroke-width="0.9"/>
<text transform="translate(150.70,297.20) scale(1.1,1)" font-size="6.4" text-anchor="end" font-weight="bold" fill="#222" >0.0</text>
<line x1="151.10" y1="273.50" x2="153.30" y2="273.50" stroke="#333" stroke-width="0.9"/>
<text transform="translate(150.70,275.77) scale(1.1,1)" font-size="6.4" text-anchor="end" font-weight="bold" fill="#222" >0.5</text>
<line x1="151.10" y1="252.50" x2="153.30" y2="252.50" stroke="#333" stroke-width="0.9"/>
<text transform="translate(150.70,254.33) scale(1.1,1)" font-size="6.4" text-anchor="end" font-weight="bold" fill="#222" >1.0</text>
<line x1="151.10" y1="230.50" x2="153.30" y2="230.50" stroke="#333" stroke-width="0.9"/>
<text transform="translate(150.70,232.90) scale(1.1,1)" font-size="6.4" text-anchor="end" font-weight="bold" fill="#222" >1.5</text>
<line x1="153.50" y1="294.90" x2="153.50" y2="297.10" stroke="#333" stroke-width="0.9"/>
<text transform="translate(153.30,302.70) scale(1.1,1)" font-size="6.4" text-anchor="middle" font-weight="bold" fill="#222" >0</text>
<line x1="179.50" y1="294.90" x2="179.50" y2="297.10" stroke="#333" stroke-width="0.9"/>
<text transform="translate(179.23,302.70) scale(1.1,1)" font-size="6.4" text-anchor="middle" font-weight="bold" fill="#222" >1</text>
<line x1="205.50" y1="294.90" x2="205.50" y2="297.10" stroke="#333" stroke-width="0.9"/>
<text transform="translate(205.15,302.70) scale(1.1,1)" font-size="6.4" text-anchor="middle" font-weight="bold" fill="#222" >2</text>
<line x1="231.50" y1="294.90" x2="231.50" y2="297.10" stroke="#333" stroke-width="0.9"/>
<text transform="translate(231.07,302.70) scale(1.1,1)" font-size="6.4" text-anchor="middle" font-weight="bold" fill="#222" >3</text>
<line x1="256.50" y1="294.90" x2="256.50" y2="297.10" stroke="#333" stroke-width="0.9"/>
<text transform="translate(257.00,302.70) scale(1.1,1)" font-size="6.4" text-anchor="middle" font-weight="bold" fill="#222" >4</text>
<text transform="translate(203.50,309.60)" font-size="6.2" text-anchor="middle" font-weight="bold" fill="#222" textLength="116" lengthAdjust="spacingAndGlyphs">G-quadruplex concentration (μM )</text>
<text transform="translate(138.00,261.75) rotate(-90)" font-size="8.2" text-anchor="middle" fill="#222" >α</text>
<text x="184.40" y="239.10" font-size="10.4" font-weight="bold" fill="#111" textLength="6.6" lengthAdjust="spacingAndGlyphs">K</text>
<text x="191.00" y="242.00" font-size="6.2" font-weight="bold" fill="#111">d</text>
<text x="197.50" y="239.10" font-size="9.0" font-weight="bold" fill="#111" textLength="4.6" lengthAdjust="spacingAndGlyphs">=</text>
<text x="202.80" y="239.10" font-size="10.4" font-weight="bold" fill="#111" textLength="18.10" lengthAdjust="spacingAndGlyphs">9.8</text>
<path d="M221.50,236.50 H231.10 M226.30,233.50 V238.30 M221.50,239.50 H231.10" stroke="#111" stroke-width="1.1" fill="none"/>
<text x="234.80" y="239.10" font-size="10.4" font-weight="bold" fill="#111" textLength="13.20" lengthAdjust="spacingAndGlyphs">1.6</text>
<text x="252.20" y="239.10" font-size="10.4" font-weight="bold" fill="#111" textLength="17.30" lengthAdjust="spacingAndGlyphs">μM</text>
<polyline points="440.20,295.60 441.86,295.34 443.51,295.09 445.17,294.83 446.83,294.58 448.49,294.32 450.14,294.07 451.80,293.82 453.46,293.57 455.11,293.31 456.77,293.06 458.43,292.81 460.08,292.57 461.74,292.32 463.40,292.07 465.06,291.82 466.71,291.58 468.37,291.33 470.03,291.08 471.68,290.84 473.34,290.60 475.00,290.35 476.65,290.11 478.31,289.87 479.97,289.63 481.63,289.39 483.28,289.15 484.94,288.91 486.60,288.67 488.25,288.43 489.91,288.19 491.57,287.96 493.22,287.72 494.88,287.48 496.54,287.25 498.20,287.02 499.85,286.78 501.51,286.55 503.17,286.32 504.82,286.09 506.48,285.86 508.14,285.63 509.79,285.41 511.45,285.18 513.11,284.96 514.77,284.73 516.42,284.51 518.08,284.29 519.74,284.07 521.39,283.85 523.05,283.63 524.71,283.42 526.36,283.20 528.02,282.99 529.68,282.77 531.34,282.56 532.99,282.35 534.65,282.14 536.31,281.92 537.96,281.72" fill="none" stroke="#111" stroke-width="0.9"/>
<polyline points="440.20,295.60 448.99,292.62 453.21,293.85 458.49,293.10 466.57,290.04 475.37,288.72 484.16,288.24 492.95,289.21 501.74,287.89 509.48,284.83 518.97,280.23 527.41,282.24 536.56,282.24" fill="none" stroke="#111" stroke-width="0.9"/>
<circle cx="440.20" cy="295.60" r="1.55" fill="#111"/>
<circle cx="448.99" cy="292.62" r="1.55" fill="#111"/>
<circle cx="453.21" cy="293.85" r="1.55" fill="#111"/>
<circle cx="458.49" cy="293.10" r="1.55" fill="#111"/>
<circle cx="466.57" cy="290.04" r="1.55" fill="#111"/>
<circle cx="475.37" cy="288.72" r="1.55" fill="#111"/>
<circle cx="484.16" cy="288.24" r="1.55" fill="#111"/>
<circle cx="492.95" cy="289.21" r="1.55" fill="#111"/>
<circle cx="501.74" cy="287.89" r="1.55" fill="#111"/>
<circle cx="509.48" cy="284.83" r="1.55" fill="#111"/>
<circle cx="518.97" cy="280.23" r="1.55" fill="#111"/>
<circle cx="527.41" cy="282.24" r="1.55" fill="#111"/>
<circle cx="536.56" cy="282.24" r="1.55" fill="#111"/>
<line x1="440.50" y1="229.40" x2="440.50" y2="296.10" stroke="#333" stroke-width="1.0"/>
<line x1="439.70" y1="295.50" x2="546.20" y2="295.50" stroke="#7a7a7a" stroke-width="1.8"/>
<line x1="438.00" y1="295.50" x2="440.20" y2="295.50" stroke="#333" stroke-width="0.9"/>
<text transform="translate(437.60,297.90) scale(1.1,1)" font-size="6.4" text-anchor="end" font-weight="bold" fill="#222" >0.0</text>
<line x1="438.00" y1="273.50" x2="440.20" y2="273.50" stroke="#333" stroke-width="0.9"/>
<text transform="translate(437.60,276.00) scale(1.1,1)" font-size="6.4" text-anchor="end" font-weight="bold" fill="#222" >0.5</text>
<line x1="438.00" y1="251.50" x2="440.20" y2="251.50" stroke="#333" stroke-width="0.9"/>
<text transform="translate(437.60,254.10) scale(1.1,1)" font-size="6.4" text-anchor="end" font-weight="bold" fill="#222" >1.0</text>
<line x1="438.00" y1="229.50" x2="440.20" y2="229.50" stroke="#333" stroke-width="0.9"/>
<text transform="translate(437.60,232.20) scale(1.1,1)" font-size="6.4" text-anchor="end" font-weight="bold" fill="#222" >1.5</text>
<line x1="440.50" y1="295.60" x2="440.50" y2="297.80" stroke="#333" stroke-width="0.9"/>
<text transform="translate(440.20,303.40) scale(1.1,1)" font-size="6.4" text-anchor="middle" font-weight="bold" fill="#222" >0</text>
<line x1="475.50" y1="295.60" x2="475.50" y2="297.80" stroke="#333" stroke-width="0.9"/>
<text transform="translate(475.37,303.40) scale(1.1,1)" font-size="6.4" text-anchor="middle" font-weight="bold" fill="#222" >1</text>
<line x1="510.50" y1="295.60" x2="510.50" y2="297.80" stroke="#333" stroke-width="0.9"/>
<text transform="translate(510.53,303.40) scale(1.1,1)" font-size="6.4" text-anchor="middle" font-weight="bold" fill="#222" >2</text>
<line x1="545.50" y1="295.60" x2="545.50" y2="297.80" stroke="#333" stroke-width="0.9"/>
<text transform="translate(545.70,303.40) scale(1.1,1)" font-size="6.4" text-anchor="middle" font-weight="bold" fill="#222" >3</text>
<text transform="translate(492.20,310.30)" font-size="6.2" text-anchor="middle" font-weight="bold" fill="#222" textLength="110.6" lengthAdjust="spacingAndGlyphs">G-quadruplex concentration (μM )</text>
<text transform="translate(424.90,261.75) rotate(-90)" font-size="8.2" text-anchor="middle" fill="#222" >α</text>
<text x="453.70" y="239.00" font-size="10.4" font-weight="bold" fill="#111" textLength="6.6" lengthAdjust="spacingAndGlyphs">K</text>
<text x="460.30" y="241.90" font-size="6.2" font-weight="bold" fill="#111">d</text>
<text x="466.80" y="239.00" font-size="9.0" font-weight="bold" fill="#111" textLength="4.6" lengthAdjust="spacingAndGlyphs">=</text>
<text x="473.70" y="239.00" font-size="10.4" font-weight="bold" fill="#111" textLength="21.90" lengthAdjust="spacingAndGlyphs">21.4</text>
<path d="M496.60,236.50 H506.20 M501.40,233.50 V238.30 M496.60,239.50 H506.20" stroke="#111" stroke-width="1.1" fill="none"/>
<text x="509.50" y="239.00" font-size="10.4" font-weight="bold" fill="#111" textLength="13.20" lengthAdjust="spacingAndGlyphs">8.6</text>
<text x="524.40" y="239.00" font-size="10.4" font-weight="bold" fill="#111" textLength="18.20" lengthAdjust="spacingAndGlyphs">μM</text>
<text transform="translate(10.0,14.8) scale(0.95,1)" font-size="18.4" font-weight="bold" fill="#000">A</text>
<text transform="translate(286.9,14.8) scale(0.91,1)" font-size="18.4" font-weight="bold" fill="#000">B</text>
<text transform="translate(9.0,214.3) scale(0.9,1)" font-size="18.4" font-weight="bold" fill="#000">C</text>
<text transform="translate(286.7,214.0) scale(0.96,1)" font-size="18.4" font-weight="bold" fill="#000">D</text>
<text transform="translate(9.9,399.8) scale(0.8,1)" font-size="18.4" font-weight="bold" fill="#000">E</text>
<text transform="translate(290.6,399.8) scale(0.76,1)" font-size="18.4" font-weight="bold" fill="#000">F</text>
<rect x="66.20" y="547.40" width="20.40" height="14.90" fill="#b9c6c6" stroke="#3a3a3a" stroke-width="0.9"/>
<line x1="76.50" y1="546.60" x2="76.50" y2="548.20" stroke="#222" stroke-width="0.9"/>
<line x1="74.20" y1="546.50" x2="78.60" y2="546.50" stroke="#222" stroke-width="0.9"/>
<line x1="74.20" y1="548.50" x2="78.60" y2="548.50" stroke="#222" stroke-width="0.9"/>
<rect x="108.60" y="462.90" width="20.40" height="99.40" fill="#000" stroke="#3a3a3a" stroke-width="0.9"/>
<line x1="118.50" y1="459.20" x2="118.50" y2="466.00" stroke="#222" stroke-width="0.9"/>
<line x1="116.60" y1="459.50" x2="121.00" y2="459.50" stroke="#222" stroke-width="0.9"/>
<line x1="116.60" y1="466.50" x2="121.00" y2="466.50" stroke="#222" stroke-width="0.9"/>
<rect x="151.00" y="444.60" width="20.40" height="117.70" fill="#ff1b1b" stroke="#3a3a3a" stroke-width="0.9"/>
<line x1="161.50" y1="441.30" x2="161.50" y2="447.50" stroke="#222" stroke-width="0.9"/>
<line x1="159.00" y1="441.50" x2="163.40" y2="441.50" stroke="#222" stroke-width="0.9"/>
<line x1="159.00" y1="447.50" x2="163.40" y2="447.50" stroke="#222" stroke-width="0.9"/>
<rect x="193.40" y="435.30" width="20.40" height="127.00" fill="#66f51e" stroke="#3a3a3a" stroke-width="0.9"/>
<line x1="203.50" y1="427.50" x2="203.50" y2="444.50" stroke="#222" stroke-width="0.9"/>
<line x1="201.40" y1="427.50" x2="205.80" y2="427.50" stroke="#222" stroke-width="0.9"/>
<line x1="201.40" y1="444.50" x2="205.80" y2="444.50" stroke="#222" stroke-width="0.9"/>
<rect x="236.10" y="473.20" width="20.40" height="89.10" fill="#2040e8" stroke="#3a3a3a" stroke-width="0.9"/>
<line x1="246.50" y1="468.40" x2="246.50" y2="477.90" stroke="#222" stroke-width="0.9"/>
<line x1="244.10" y1="468.50" x2="248.50" y2="468.50" stroke="#222" stroke-width="0.9"/>
<line x1="244.10" y1="477.50" x2="248.50" y2="477.50" stroke="#222" stroke-width="0.9"/>
<line x1="54.50" y1="405.00" x2="54.50" y2="562.80" stroke="#2a2a36" stroke-width="1.1"/>
<line x1="54.10" y1="562.50" x2="267.40" y2="562.50" stroke="#2a2a36" stroke-width="1.1"/>
<line x1="54.50" y1="562.30" x2="54.50" y2="565.60" stroke="#2a2a36" stroke-width="1.0"/>
<line x1="51.60" y1="562.50" x2="54.60" y2="562.50" stroke="#2a2a36" stroke-width="1.0"/>
<text transform="translate(49.10,565.80) scale(1.07,1)" font-size="9.2" text-anchor="end" fill="#222">0.0</text>
<line x1="51.60" y1="510.50" x2="54.60" y2="510.50" stroke="#2a2a36" stroke-width="1.0"/>
<text transform="translate(44.10,513.63) scale(1.07,1)" font-size="9.1" text-anchor="end" fill="#222">3.0x10</text><text transform="translate(44.50,509.43)" font-size="5.2" fill="#222">-4</text>
<line x1="51.60" y1="457.50" x2="54.60" y2="457.50" stroke="#2a2a36" stroke-width="1.0"/>
<text transform="translate(44.10,461.37) scale(1.07,1)" font-size="9.1" text-anchor="end" fill="#222">6.0x10</text><text transform="translate(44.50,457.17)" font-size="5.2" fill="#222">-4</text>
<line x1="51.60" y1="405.50" x2="54.60" y2="405.50" stroke="#2a2a36" stroke-width="1.0"/>
<text transform="translate(44.10,409.10) scale(1.07,1)" font-size="9.1" text-anchor="end" fill="#222">9.0x10</text><text transform="translate(44.50,404.90)" font-size="5.2" fill="#222">-4</text>
<line x1="52.80" y1="536.50" x2="54.60" y2="536.50" stroke="#2a2a36" stroke-width="1.0"/>
<line x1="52.80" y1="483.50" x2="54.60" y2="483.50" stroke="#2a2a36" stroke-width="1.0"/>
<line x1="52.80" y1="431.50" x2="54.60" y2="431.50" stroke="#2a2a36" stroke-width="1.0"/>
<text transform="translate(77.40,570.00) rotate(34)" font-size="9.6" fill="#1d1d3a">Hemin-pH 5.0 K<tspan font-size="5.5" dy="-3.5">+</tspan></tspan></text>
<text transform="translate(119.80,570.00) rotate(34)" font-size="9.6" fill="#1d1d3a">AG<tspan font-size="6" dy="2">4</tspan><tspan dy="-2">A-pH 5.0 K<tspan font-size="5.5" dy="-3.5">+</tspan></tspan></text>
<text transform="translate(162.20,570.00) rotate(34)" font-size="9.6" fill="#1d1d3a">F12-pH 5.0 K<tspan font-size="5.5" dy="-3.5">+</tspan></text>
<text transform="translate(204.60,570.00) rotate(34)" font-size="9.6" fill="#1d1d3a">F14-pH 5.0 K<tspan font-size="5.5" dy="-3.5">+</tspan></text>
<text transform="translate(247.30,570.00) rotate(34)" font-size="9.6" fill="#1d1d3a">F13-pH 5.0 K<tspan font-size="5.5" dy="-3.5">+</tspan></text>
<text transform="translate(11.4,483.6) rotate(-90)" font-size="10.25" text-anchor="middle" fill="#222">Initial degradation velocity ( s<tspan font-size="5.5" dy="-3.5">-1</tspan><tspan dy="3.5"> )</tspan></text>
<rect x="330.10" y="553.00" width="17.60" height="8.40" fill="#b9c6c6" stroke="#3a3a3a" stroke-width="0.9"/>
<line x1="338.50" y1="552.20" x2="338.50" y2="553.60" stroke="#222" stroke-width="0.9"/>
<line x1="336.70" y1="552.50" x2="341.10" y2="552.50" stroke="#222" stroke-width="0.9"/>
<line x1="336.70" y1="553.50" x2="341.10" y2="553.50" stroke="#222" stroke-width="0.9"/>
<rect x="372.60" y="437.50" width="17.60" height="123.90" fill="#000" stroke="#3a3a3a" stroke-width="0.9"/>
<line x1="381.50" y1="428.90" x2="381.50" y2="445.00" stroke="#222" stroke-width="0.9"/>
<line x1="379.20" y1="428.50" x2="383.60" y2="428.50" stroke="#222" stroke-width="0.9"/>
<line x1="379.20" y1="444.50" x2="383.60" y2="444.50" stroke="#222" stroke-width="0.9"/>
<rect x="415.50" y="434.30" width="17.60" height="127.10" fill="#c41010" stroke="#3a3a3a" stroke-width="0.9"/>
<line x1="424.50" y1="423.20" x2="424.50" y2="444.40" stroke="#222" stroke-width="0.9"/>
<line x1="422.10" y1="423.50" x2="426.50" y2="423.50" stroke="#222" stroke-width="0.9"/>
<line x1="422.10" y1="444.50" x2="426.50" y2="444.50" stroke="#222" stroke-width="0.9"/>
<rect x="457.70" y="445.40" width="17.60" height="116.00" fill="#46e012" stroke="#3a3a3a" stroke-width="0.9"/>
<line x1="466.50" y1="438.10" x2="466.50" y2="452.70" stroke="#222" stroke-width="0.9"/>
<line x1="464.30" y1="438.50" x2="468.70" y2="438.50" stroke="#222" stroke-width="0.9"/>
<line x1="464.30" y1="452.50" x2="468.70" y2="452.50" stroke="#222" stroke-width="0.9"/>
<rect x="500.40" y="483.50" width="17.60" height="77.90" fill="#1e30e6" stroke="#3a3a3a" stroke-width="0.9"/>
<line x1="509.50" y1="469.80" x2="509.50" y2="496.20" stroke="#222" stroke-width="0.9"/>
<line x1="507.00" y1="469.50" x2="511.40" y2="469.50" stroke="#222" stroke-width="0.9"/>
<line x1="507.00" y1="496.50" x2="511.40" y2="496.50" stroke="#222" stroke-width="0.9"/>
<line x1="317.50" y1="404.70" x2="317.50" y2="561.90" stroke="#2a2a36" stroke-width="1.1"/>
<line x1="317.10" y1="561.50" x2="531.40" y2="561.50" stroke="#2a2a36" stroke-width="1.1"/>
<line x1="317.50" y1="561.40" x2="317.50" y2="564.70" stroke="#2a2a36" stroke-width="1.0"/>
<line x1="314.60" y1="561.50" x2="317.60" y2="561.50" stroke="#2a2a36" stroke-width="1.0"/>
<text transform="translate(312.10,564.90) scale(1.07,1)" font-size="9.2" text-anchor="end" fill="#1a1a40">0</text>
<line x1="314.60" y1="483.50" x2="317.60" y2="483.50" stroke="#2a2a36" stroke-width="1.0"/>
<text transform="translate(312.10,486.80) scale(1.07,1)" font-size="9.2" text-anchor="end" fill="#222">120</text>
<line x1="314.60" y1="405.50" x2="317.60" y2="405.50" stroke="#2a2a36" stroke-width="1.0"/>
<text transform="translate(312.10,408.70) scale(1.07,1)" font-size="9.2" text-anchor="end" fill="#222">240</text>
<line x1="315.80" y1="522.50" x2="317.60" y2="522.50" stroke="#2a2a36" stroke-width="1.0"/>
<line x1="315.80" y1="444.50" x2="317.60" y2="444.50" stroke="#2a2a36" stroke-width="1.0"/>
<text transform="translate(335.90,569.30) rotate(34)" font-size="9.95" fill="#111">Hemin-pH 5.0 Na<tspan font-size="5.5" dy="-3.5">+</tspan></text>
<text transform="translate(378.40,569.30) rotate(34)" font-size="9.95" fill="#111">AG<tspan font-size="6" dy="2">4</tspan><tspan dy="-2">A-pH 5.0 Na<tspan font-size="5.5" dy="-3.5">+</tspan></tspan></text>
<text transform="translate(421.30,569.30) rotate(34)" font-size="9.95" fill="#111">F12-pH 5.0 Na<tspan font-size="5.5" dy="-3.5">+</tspan></text>
<text transform="translate(463.50,569.30) rotate(34)" font-size="9.95" fill="#111">F14-pH 5.0 Na<tspan font-size="5.5" dy="-3.5">+</tspan></text>
<text transform="translate(506.20,569.30) rotate(34)" font-size="9.95" fill="#111">F13-pH 5.0 Na<tspan font-size="5.5" dy="-3.5">+</tspan></text>
</svg>
</body></html>
